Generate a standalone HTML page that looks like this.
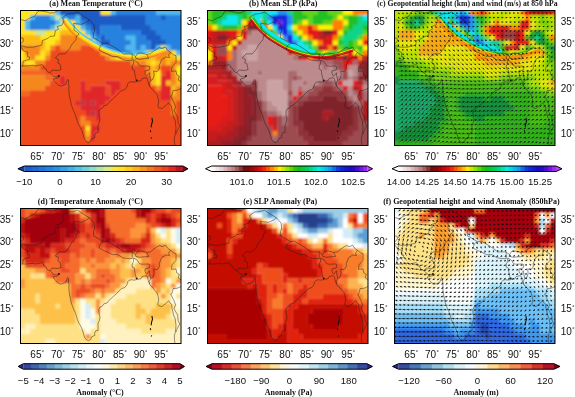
<!DOCTYPE html>
<html lang="en"><head><meta charset="utf-8"><title>Figure</title>
<style>html,body{margin:0;padding:0;background:#fff}svg{display:block}text{fill:#111}</style></head><body>
<svg width="575" height="397" viewBox="0 0 575 397">
<defs>
<filter id="bl" x="-10%" y="-10%" width="120%" height="120%"><feGaussianBlur stdDeviation="1.2"/></filter><filter id="bl3" x="-10%" y="-10%" width="120%" height="120%"><feGaussianBlur stdDeviation="0.55"/></filter><filter id="bl2" x="-10%" y="-10%" width="120%" height="120%"><feGaussianBlur stdDeviation="2.2"/></filter>
</defs>
<rect width="575" height="397" fill="#fff"/>
<svg x="20" y="10" width="161" height="136" viewBox="0 0 161 136" overflow="hidden">
<g filter="url(#bl)">
<path fill="#ffe51e" d="M-5.1 -5.1h40.5v2.7h-40.5zM80.4 -5.1h10.3v2.7h-10.3zM-5.1 -2.6h40.5v2.7h-40.5zM80.4 -2.6h10.3v2.7h-10.3zM-5.1 -0.1h40.5v2.7h-40.5zM80.4 -0.1h10.3v2.7h-10.3zM-5.1 2.4h40.5v2.7h-40.5zM80.4 2.4h10.3v2.7h-10.3zM-5.1 4.9h15.3v2.7h-15.3zM-5.1 7.5h15.3v2.7h-15.3zM-5.1 10.0h10.3v2.7h-10.3zM45.2 10.0h10.3v2.7h-10.3zM-5.1 12.5h10.3v2.7h-10.3zM45.2 12.5h10.3v2.7h-10.3zM-5.1 15.0h10.3v2.7h-10.3zM40.1 15.0h20.3v2.7h-20.3zM-5.1 17.5h10.3v2.7h-10.3zM40.1 17.5h20.3v2.7h-20.3zM-5.1 20.0h20.3v2.7h-20.3zM25.1 20.0h15.3v2.7h-15.3zM55.2 20.0h10.3v2.7h-10.3zM-5.1 22.6h20.3v2.7h-20.3zM25.1 22.6h15.3v2.7h-15.3zM55.2 22.6h10.3v2.7h-10.3zM20.0 25.1h20.3v2.7h-20.3zM65.3 25.1h5.2v2.7h-5.2zM20.0 27.6h20.3v2.7h-20.3zM65.3 27.6h5.2v2.7h-5.2zM25.1 30.1h10.3v2.7h-10.3zM70.3 30.1h5.2v2.7h-5.2zM25.1 32.6h10.3v2.7h-10.3zM70.3 32.6h5.2v2.7h-5.2zM25.1 35.2h5.2v2.7h-5.2zM140.8 35.2h5.2v2.7h-5.2zM25.1 37.7h5.2v2.7h-5.2zM140.8 37.7h5.2v2.7h-5.2zM-5.1 40.2h10.3v2.7h-10.3zM20.0 40.2h5.2v2.7h-5.2zM85.4 40.2h5.2v2.7h-5.2zM125.7 40.2h10.3v2.7h-10.3zM150.8 40.2h5.2v2.7h-5.2zM-5.1 42.7h10.3v2.7h-10.3zM20.0 42.7h5.2v2.7h-5.2zM85.4 42.7h5.2v2.7h-5.2zM125.7 42.7h10.3v2.7h-10.3zM150.8 42.7h5.2v2.7h-5.2zM-5.1 45.2h10.3v2.7h-10.3zM15.0 45.2h10.3v2.7h-10.3zM95.5 45.2h20.3v2.7h-20.3zM155.9 45.2h10.3v2.7h-10.3zM-5.1 47.8h10.3v2.7h-10.3zM15.0 47.8h10.3v2.7h-10.3zM95.5 47.8h20.3v2.7h-20.3zM155.9 47.8h10.3v2.7h-10.3zM4.9 50.3h10.3v2.7h-10.3zM130.7 50.3h5.2v2.7h-5.2zM4.9 52.8h10.3v2.7h-10.3zM130.7 52.8h5.2v2.7h-5.2zM155.9 55.3h10.3v2.7h-10.3zM155.9 57.8h10.3v2.7h-10.3zM135.7 60.3h5.2v2.7h-5.2zM155.9 60.3h10.3v2.7h-10.3zM135.7 62.9h5.2v2.7h-5.2zM155.9 62.9h10.3v2.7h-10.3zM135.7 65.4h5.2v2.7h-5.2zM135.7 67.9h5.2v2.7h-5.2zM135.7 70.4h5.2v2.7h-5.2zM135.7 72.9h5.2v2.7h-5.2zM65.3 115.8h5.2v2.7h-5.2zM65.3 118.3h5.2v2.7h-5.2z"/>
<path fill="#4db8ee" d="M35.1 -5.1h5.2v2.7h-5.2zM90.5 -5.1h5.2v2.7h-5.2zM135.7 -5.1h30.4v2.7h-30.4zM35.1 -2.6h5.2v2.7h-5.2zM90.5 -2.6h5.2v2.7h-5.2zM135.7 -2.6h30.4v2.7h-30.4zM35.1 -0.1h5.2v2.7h-5.2zM90.5 -0.1h5.2v2.7h-5.2zM135.7 -0.1h30.4v2.7h-30.4zM35.1 2.4h5.2v2.7h-5.2zM90.5 2.4h5.2v2.7h-5.2zM135.7 2.4h30.4v2.7h-30.4zM10.0 4.9h5.2v2.7h-5.2zM30.1 4.9h5.2v2.7h-5.2zM40.1 4.9h5.2v2.7h-5.2zM55.2 4.9h5.2v2.7h-5.2zM10.0 7.5h5.2v2.7h-5.2zM30.1 7.5h5.2v2.7h-5.2zM40.1 7.5h5.2v2.7h-5.2zM55.2 7.5h5.2v2.7h-5.2zM4.9 10.0h5.2v2.7h-5.2zM35.1 10.0h5.2v2.7h-5.2zM55.2 10.0h5.2v2.7h-5.2zM4.9 12.5h5.2v2.7h-5.2zM35.1 12.5h5.2v2.7h-5.2zM55.2 12.5h5.2v2.7h-5.2zM4.9 15.0h5.2v2.7h-5.2zM30.1 15.0h5.2v2.7h-5.2zM60.3 15.0h5.2v2.7h-5.2zM4.9 17.5h5.2v2.7h-5.2zM30.1 17.5h5.2v2.7h-5.2zM60.3 17.5h5.2v2.7h-5.2zM65.3 20.0h5.2v2.7h-5.2zM65.3 22.6h5.2v2.7h-5.2zM70.3 25.1h5.2v2.7h-5.2zM105.6 25.1h10.3v2.7h-10.3zM70.3 27.6h5.2v2.7h-5.2zM105.6 27.6h10.3v2.7h-10.3zM75.4 30.1h5.2v2.7h-5.2zM110.6 30.1h5.2v2.7h-5.2zM75.4 32.6h5.2v2.7h-5.2zM110.6 32.6h5.2v2.7h-5.2zM80.4 35.2h5.2v2.7h-5.2zM105.6 35.2h10.3v2.7h-10.3zM120.7 35.2h5.2v2.7h-5.2zM135.7 35.2h5.2v2.7h-5.2zM145.8 35.2h5.2v2.7h-5.2zM80.4 37.7h5.2v2.7h-5.2zM105.6 37.7h10.3v2.7h-10.3zM120.7 37.7h5.2v2.7h-5.2zM135.7 37.7h5.2v2.7h-5.2zM145.8 37.7h5.2v2.7h-5.2zM90.5 40.2h5.2v2.7h-5.2zM110.6 40.2h15.3v2.7h-15.3zM155.9 40.2h10.3v2.7h-10.3zM90.5 42.7h5.2v2.7h-5.2zM110.6 42.7h15.3v2.7h-15.3zM155.9 42.7h10.3v2.7h-10.3z"/>
<path fill="#1c5ac4" d="M40.1 -5.1h40.5v2.7h-40.5zM40.1 -2.6h40.5v2.7h-40.5zM40.1 -0.1h40.5v2.7h-40.5zM40.1 2.4h40.5v2.7h-40.5zM60.3 4.9h65.6v2.7h-65.6zM140.8 4.9h5.2v2.7h-5.2zM60.3 7.5h65.6v2.7h-65.6zM140.8 7.5h5.2v2.7h-5.2zM65.3 10.0h60.6v2.7h-60.6zM65.3 12.5h60.6v2.7h-60.6zM70.3 15.0h10.3v2.7h-10.3zM100.5 15.0h30.4v2.7h-30.4zM70.3 17.5h10.3v2.7h-10.3zM100.5 17.5h30.4v2.7h-30.4zM75.4 20.0h5.2v2.7h-5.2zM120.7 20.0h15.3v2.7h-15.3zM75.4 22.6h5.2v2.7h-5.2zM120.7 22.6h15.3v2.7h-15.3zM80.4 25.1h5.2v2.7h-5.2zM125.7 25.1h15.3v2.7h-15.3zM80.4 27.6h5.2v2.7h-5.2zM125.7 27.6h15.3v2.7h-15.3zM80.4 30.1h10.3v2.7h-10.3zM130.7 30.1h15.3v2.7h-15.3zM80.4 32.6h10.3v2.7h-10.3zM130.7 32.6h15.3v2.7h-15.3zM130.7 35.2h5.2v2.7h-5.2zM130.7 37.7h5.2v2.7h-5.2z"/>
<path fill="#2782de" d="M95.5 -5.1h40.5v2.7h-40.5zM95.5 -2.6h40.5v2.7h-40.5zM95.5 -0.1h40.5v2.7h-40.5zM95.5 2.4h40.5v2.7h-40.5zM15.0 4.9h15.3v2.7h-15.3zM45.2 4.9h10.3v2.7h-10.3zM125.7 4.9h15.3v2.7h-15.3zM145.8 4.9h20.3v2.7h-20.3zM15.0 7.5h15.3v2.7h-15.3zM45.2 7.5h10.3v2.7h-10.3zM125.7 7.5h15.3v2.7h-15.3zM145.8 7.5h20.3v2.7h-20.3zM10.0 10.0h25.4v2.7h-25.4zM60.3 10.0h5.2v2.7h-5.2zM125.7 10.0h40.5v2.7h-40.5zM10.0 12.5h25.4v2.7h-25.4zM60.3 12.5h5.2v2.7h-5.2zM125.7 12.5h40.5v2.7h-40.5zM10.0 15.0h20.3v2.7h-20.3zM65.3 15.0h5.2v2.7h-5.2zM80.4 15.0h20.3v2.7h-20.3zM130.7 15.0h35.4v2.7h-35.4zM10.0 17.5h20.3v2.7h-20.3zM65.3 17.5h5.2v2.7h-5.2zM80.4 17.5h20.3v2.7h-20.3zM130.7 17.5h35.4v2.7h-35.4zM70.3 20.0h5.2v2.7h-5.2zM80.4 20.0h40.5v2.7h-40.5zM135.7 20.0h30.4v2.7h-30.4zM70.3 22.6h5.2v2.7h-5.2zM80.4 22.6h40.5v2.7h-40.5zM135.7 22.6h30.4v2.7h-30.4zM75.4 25.1h5.2v2.7h-5.2zM85.4 25.1h20.3v2.7h-20.3zM115.6 25.1h10.3v2.7h-10.3zM140.8 25.1h25.4v2.7h-25.4zM75.4 27.6h5.2v2.7h-5.2zM85.4 27.6h20.3v2.7h-20.3zM115.6 27.6h10.3v2.7h-10.3zM140.8 27.6h25.4v2.7h-25.4zM90.5 30.1h20.3v2.7h-20.3zM115.6 30.1h15.3v2.7h-15.3zM145.8 30.1h20.3v2.7h-20.3zM90.5 32.6h20.3v2.7h-20.3zM115.6 32.6h15.3v2.7h-15.3zM145.8 32.6h20.3v2.7h-20.3zM85.4 35.2h20.3v2.7h-20.3zM115.6 35.2h5.2v2.7h-5.2zM125.7 35.2h5.2v2.7h-5.2zM150.8 35.2h15.3v2.7h-15.3zM85.4 37.7h20.3v2.7h-20.3zM115.6 37.7h5.2v2.7h-5.2zM125.7 37.7h5.2v2.7h-5.2zM150.8 37.7h15.3v2.7h-15.3zM95.5 40.2h15.3v2.7h-15.3zM95.5 42.7h15.3v2.7h-15.3z"/>
<path fill="#c4e6a4" d="M35.1 4.9h5.2v2.7h-5.2zM35.1 7.5h5.2v2.7h-5.2zM40.1 10.0h5.2v2.7h-5.2zM40.1 12.5h5.2v2.7h-5.2zM35.1 15.0h5.2v2.7h-5.2zM35.1 17.5h5.2v2.7h-5.2zM15.0 20.0h10.3v2.7h-10.3zM15.0 22.6h10.3v2.7h-10.3z"/>
<path fill="#fdb913" d="M40.1 20.0h15.3v2.7h-15.3zM40.1 22.6h15.3v2.7h-15.3zM-5.1 25.1h25.4v2.7h-25.4zM60.3 25.1h5.2v2.7h-5.2zM-5.1 27.6h25.4v2.7h-25.4zM60.3 27.6h5.2v2.7h-5.2zM-5.1 30.1h30.4v2.7h-30.4zM35.1 30.1h5.2v2.7h-5.2zM-5.1 32.6h30.4v2.7h-30.4zM35.1 32.6h5.2v2.7h-5.2zM20.0 35.2h5.2v2.7h-5.2zM20.0 37.7h5.2v2.7h-5.2zM25.1 40.2h5.2v2.7h-5.2zM80.4 40.2h5.2v2.7h-5.2zM135.7 40.2h5.2v2.7h-5.2zM25.1 42.7h5.2v2.7h-5.2zM80.4 42.7h5.2v2.7h-5.2zM135.7 42.7h5.2v2.7h-5.2zM4.9 45.2h5.2v2.7h-5.2zM90.5 45.2h5.2v2.7h-5.2zM115.6 45.2h20.3v2.7h-20.3zM145.8 45.2h10.3v2.7h-10.3zM4.9 47.8h5.2v2.7h-5.2zM90.5 47.8h5.2v2.7h-5.2zM115.6 47.8h20.3v2.7h-20.3zM145.8 47.8h10.3v2.7h-10.3zM-5.1 50.3h10.3v2.7h-10.3zM125.7 50.3h5.2v2.7h-5.2zM135.7 50.3h5.2v2.7h-5.2zM145.8 50.3h5.2v2.7h-5.2zM-5.1 52.8h10.3v2.7h-10.3zM125.7 52.8h5.2v2.7h-5.2zM135.7 52.8h5.2v2.7h-5.2zM145.8 52.8h5.2v2.7h-5.2zM130.7 55.3h5.2v2.7h-5.2zM130.7 57.8h5.2v2.7h-5.2zM130.7 60.3h5.2v2.7h-5.2zM130.7 62.9h5.2v2.7h-5.2zM130.7 65.4h5.2v2.7h-5.2zM155.9 65.4h10.3v2.7h-10.3zM130.7 67.9h5.2v2.7h-5.2zM155.9 67.9h10.3v2.7h-10.3zM130.7 70.4h5.2v2.7h-5.2zM145.8 70.4h5.2v2.7h-5.2zM155.9 70.4h10.3v2.7h-10.3zM130.7 72.9h5.2v2.7h-5.2zM145.8 72.9h5.2v2.7h-5.2zM155.9 72.9h10.3v2.7h-10.3zM150.8 75.5h5.2v2.7h-5.2zM150.8 78.0h5.2v2.7h-5.2zM150.8 80.5h5.2v2.7h-5.2zM150.8 83.0h5.2v2.7h-5.2zM65.3 120.8h5.2v2.7h-5.2zM65.3 123.3h5.2v2.7h-5.2z"/>
<path fill="#f6871f" d="M40.1 25.1h20.3v2.7h-20.3zM40.1 27.6h20.3v2.7h-20.3zM40.1 30.1h30.4v2.7h-30.4zM40.1 32.6h30.4v2.7h-30.4zM-5.1 35.2h25.4v2.7h-25.4zM30.1 35.2h5.2v2.7h-5.2zM40.1 35.2h20.3v2.7h-20.3zM75.4 35.2h5.2v2.7h-5.2zM-5.1 37.7h25.4v2.7h-25.4zM30.1 37.7h5.2v2.7h-5.2zM40.1 37.7h20.3v2.7h-20.3zM75.4 37.7h5.2v2.7h-5.2zM4.9 40.2h15.3v2.7h-15.3zM140.8 40.2h10.3v2.7h-10.3zM4.9 42.7h15.3v2.7h-15.3zM140.8 42.7h10.3v2.7h-10.3zM10.0 45.2h5.2v2.7h-5.2zM25.1 45.2h5.2v2.7h-5.2zM85.4 45.2h5.2v2.7h-5.2zM135.7 45.2h10.3v2.7h-10.3zM10.0 47.8h5.2v2.7h-5.2zM25.1 47.8h5.2v2.7h-5.2zM85.4 47.8h5.2v2.7h-5.2zM135.7 47.8h10.3v2.7h-10.3zM15.0 50.3h10.3v2.7h-10.3zM110.6 50.3h15.3v2.7h-15.3zM140.8 50.3h5.2v2.7h-5.2zM150.8 50.3h15.3v2.7h-15.3zM15.0 52.8h10.3v2.7h-10.3zM110.6 52.8h15.3v2.7h-15.3zM140.8 52.8h5.2v2.7h-5.2zM150.8 52.8h15.3v2.7h-15.3zM-5.1 55.3h25.4v2.7h-25.4zM125.7 55.3h5.2v2.7h-5.2zM135.7 55.3h5.2v2.7h-5.2zM150.8 55.3h5.2v2.7h-5.2zM-5.1 57.8h25.4v2.7h-25.4zM125.7 57.8h5.2v2.7h-5.2zM135.7 57.8h5.2v2.7h-5.2zM150.8 57.8h5.2v2.7h-5.2zM125.7 60.3h5.2v2.7h-5.2zM150.8 60.3h5.2v2.7h-5.2zM125.7 62.9h5.2v2.7h-5.2zM150.8 62.9h5.2v2.7h-5.2zM-5.1 65.4h30.4v2.7h-30.4zM150.8 65.4h5.2v2.7h-5.2zM-5.1 67.9h30.4v2.7h-30.4zM150.8 67.9h5.2v2.7h-5.2zM-5.1 70.4h35.4v2.7h-35.4zM150.8 70.4h5.2v2.7h-5.2zM-5.1 72.9h35.4v2.7h-35.4zM150.8 72.9h5.2v2.7h-5.2zM-5.1 75.5h30.4v2.7h-30.4zM135.7 75.5h5.2v2.7h-5.2zM155.9 75.5h10.3v2.7h-10.3zM-5.1 78.0h30.4v2.7h-30.4zM135.7 78.0h5.2v2.7h-5.2zM155.9 78.0h10.3v2.7h-10.3zM155.9 80.5h10.3v2.7h-10.3zM155.9 83.0h10.3v2.7h-10.3zM150.8 85.5h15.3v2.7h-15.3zM150.8 88.0h15.3v2.7h-15.3zM150.8 90.6h5.2v2.7h-5.2zM150.8 93.1h5.2v2.7h-5.2zM150.8 95.6h5.2v2.7h-5.2zM150.8 98.1h5.2v2.7h-5.2zM150.8 100.6h5.2v2.7h-5.2zM150.8 103.2h5.2v2.7h-5.2zM60.3 105.7h5.2v2.7h-5.2zM60.3 108.2h5.2v2.7h-5.2zM60.3 110.7h10.3v2.7h-10.3zM60.3 113.2h10.3v2.7h-10.3zM65.3 125.8h5.2v2.7h-5.2zM65.3 128.3h5.2v2.7h-5.2z"/>
<path fill="#ef481e" d="M35.1 35.2h5.2v2.7h-5.2zM60.3 35.2h15.3v2.7h-15.3zM35.1 37.7h5.2v2.7h-5.2zM60.3 37.7h15.3v2.7h-15.3zM30.1 40.2h50.5v2.7h-50.5zM30.1 42.7h50.5v2.7h-50.5zM30.1 45.2h55.5v2.7h-55.5zM30.1 47.8h55.5v2.7h-55.5zM25.1 50.3h85.7v2.7h-85.7zM25.1 52.8h85.7v2.7h-85.7zM20.0 55.3h105.9v2.7h-105.9zM140.8 55.3h10.3v2.7h-10.3zM20.0 57.8h105.9v2.7h-105.9zM140.8 57.8h10.3v2.7h-10.3zM25.1 60.3h100.8v2.7h-100.8zM140.8 60.3h5.2v2.7h-5.2zM25.1 62.9h100.8v2.7h-100.8zM140.8 62.9h5.2v2.7h-5.2zM35.1 65.4h5.2v2.7h-5.2zM45.2 65.4h85.7v2.7h-85.7zM35.1 67.9h5.2v2.7h-5.2zM45.2 67.9h85.7v2.7h-85.7zM30.1 70.4h10.3v2.7h-10.3zM45.2 70.4h15.3v2.7h-15.3zM65.3 70.4h20.3v2.7h-20.3zM100.5 70.4h30.4v2.7h-30.4zM30.1 72.9h10.3v2.7h-10.3zM45.2 72.9h15.3v2.7h-15.3zM65.3 72.9h20.3v2.7h-20.3zM100.5 72.9h30.4v2.7h-30.4zM25.1 75.5h35.4v2.7h-35.4zM65.3 75.5h5.2v2.7h-5.2zM85.4 75.5h5.2v2.7h-5.2zM100.5 75.5h35.4v2.7h-35.4zM25.1 78.0h35.4v2.7h-35.4zM65.3 78.0h5.2v2.7h-5.2zM85.4 78.0h5.2v2.7h-5.2zM100.5 78.0h35.4v2.7h-35.4zM10.0 80.5h50.5v2.7h-50.5zM85.4 80.5h5.2v2.7h-5.2zM95.5 80.5h45.5v2.7h-45.5zM10.0 83.0h50.5v2.7h-50.5zM85.4 83.0h5.2v2.7h-5.2zM95.5 83.0h45.5v2.7h-45.5zM-5.1 85.5h65.6v2.7h-65.6zM90.5 85.5h50.5v2.7h-50.5zM-5.1 88.0h65.6v2.7h-65.6zM90.5 88.0h50.5v2.7h-50.5zM-5.1 90.6h60.6v2.7h-60.6zM85.4 90.6h65.6v2.7h-65.6zM155.9 90.6h10.3v2.7h-10.3zM-5.1 93.1h60.6v2.7h-60.6zM85.4 93.1h65.6v2.7h-65.6zM155.9 93.1h10.3v2.7h-10.3zM-5.1 95.6h65.6v2.7h-65.6zM80.4 95.6h70.6v2.7h-70.6zM155.9 95.6h10.3v2.7h-10.3zM-5.1 98.1h65.6v2.7h-65.6zM80.4 98.1h70.6v2.7h-70.6zM155.9 98.1h10.3v2.7h-10.3zM-5.1 100.6h70.6v2.7h-70.6zM80.4 100.6h70.6v2.7h-70.6zM155.9 100.6h10.3v2.7h-10.3zM-5.1 103.2h70.6v2.7h-70.6zM80.4 103.2h70.6v2.7h-70.6zM155.9 103.2h10.3v2.7h-10.3zM-5.1 105.7h65.6v2.7h-65.6zM65.3 105.7h10.3v2.7h-10.3zM80.4 105.7h85.7v2.7h-85.7zM-5.1 108.2h65.6v2.7h-65.6zM65.3 108.2h10.3v2.7h-10.3zM80.4 108.2h85.7v2.7h-85.7zM-5.1 110.7h65.6v2.7h-65.6zM70.3 110.7h95.8v2.7h-95.8zM-5.1 113.2h65.6v2.7h-65.6zM70.3 113.2h95.8v2.7h-95.8zM-5.1 115.8h70.6v2.7h-70.6zM80.4 115.8h85.7v2.7h-85.7zM-5.1 118.3h70.6v2.7h-70.6zM80.4 118.3h85.7v2.7h-85.7zM-5.1 120.8h70.6v2.7h-70.6zM75.4 120.8h90.8v2.7h-90.8zM-5.1 123.3h70.6v2.7h-70.6zM75.4 123.3h90.8v2.7h-90.8zM-5.1 125.8h70.6v2.7h-70.6zM75.4 125.8h90.8v2.7h-90.8zM-5.1 128.3h70.6v2.7h-70.6zM75.4 128.3h90.8v2.7h-90.8zM-5.1 130.9h171.3v2.7h-171.3zM-5.1 133.4h171.3v2.7h-171.3zM-5.1 135.9h171.3v2.7h-171.3zM-5.1 138.4h171.3v2.7h-171.3z"/>
<path fill="#f2651f" d="M-5.1 60.3h30.4v2.7h-30.4zM-5.1 62.9h30.4v2.7h-30.4zM25.1 65.4h10.3v2.7h-10.3zM25.1 67.9h10.3v2.7h-10.3zM-5.1 80.5h15.3v2.7h-15.3zM-5.1 83.0h15.3v2.7h-15.3z"/>
<path fill="#e1262a" d="M145.8 60.3h5.2v2.7h-5.2zM145.8 62.9h5.2v2.7h-5.2zM40.1 65.4h5.2v2.7h-5.2zM140.8 65.4h10.3v2.7h-10.3zM40.1 67.9h5.2v2.7h-5.2zM140.8 67.9h10.3v2.7h-10.3zM40.1 70.4h5.2v2.7h-5.2zM60.3 70.4h5.2v2.7h-5.2zM85.4 70.4h15.3v2.7h-15.3zM140.8 70.4h5.2v2.7h-5.2zM40.1 72.9h5.2v2.7h-5.2zM60.3 72.9h5.2v2.7h-5.2zM85.4 72.9h15.3v2.7h-15.3zM140.8 72.9h5.2v2.7h-5.2zM60.3 75.5h5.2v2.7h-5.2zM70.3 75.5h15.3v2.7h-15.3zM90.5 75.5h10.3v2.7h-10.3zM140.8 75.5h10.3v2.7h-10.3zM60.3 78.0h5.2v2.7h-5.2zM70.3 78.0h15.3v2.7h-15.3zM90.5 78.0h10.3v2.7h-10.3zM140.8 78.0h10.3v2.7h-10.3zM60.3 80.5h25.4v2.7h-25.4zM90.5 80.5h5.2v2.7h-5.2zM140.8 80.5h10.3v2.7h-10.3zM60.3 83.0h25.4v2.7h-25.4zM90.5 83.0h5.2v2.7h-5.2zM140.8 83.0h10.3v2.7h-10.3zM60.3 85.5h30.4v2.7h-30.4zM140.8 85.5h10.3v2.7h-10.3zM60.3 88.0h30.4v2.7h-30.4zM140.8 88.0h10.3v2.7h-10.3zM55.2 90.6h5.2v2.7h-5.2zM65.3 90.6h5.2v2.7h-5.2zM75.4 90.6h10.3v2.7h-10.3zM55.2 93.1h5.2v2.7h-5.2zM65.3 93.1h5.2v2.7h-5.2zM75.4 93.1h10.3v2.7h-10.3zM60.3 95.6h20.3v2.7h-20.3zM60.3 98.1h20.3v2.7h-20.3zM65.3 100.6h5.2v2.7h-5.2zM75.4 100.6h5.2v2.7h-5.2zM65.3 103.2h5.2v2.7h-5.2zM75.4 103.2h5.2v2.7h-5.2zM75.4 105.7h5.2v2.7h-5.2zM75.4 108.2h5.2v2.7h-5.2zM70.3 115.8h10.3v2.7h-10.3zM70.3 118.3h10.3v2.7h-10.3zM70.3 120.8h5.2v2.7h-5.2zM70.3 123.3h5.2v2.7h-5.2zM70.3 125.8h5.2v2.7h-5.2zM70.3 128.3h5.2v2.7h-5.2z"/>
<path fill="#bf303a" d="M60.3 90.6h5.2v2.7h-5.2zM70.3 90.6h5.2v2.7h-5.2zM60.3 93.1h5.2v2.7h-5.2zM70.3 93.1h5.2v2.7h-5.2zM70.3 100.6h5.2v2.7h-5.2zM70.3 103.2h5.2v2.7h-5.2z"/>
</g><g filter="url(#bl3)" fill="none" stroke-linecap="butt" stroke-linejoin="round"><path d="M46.7 7.4Q48.7 10.0 50.6 12.7Q52.5 15.4 57.1 20.0Q61.7 24.5 66.3 27.3Q70.9 30.1 75.5 32.9Q80.2 35.7 84.8 37.5Q89.4 39.3 94.0 40.7Q98.6 42.1 103.2 42.8Q107.8 43.5 112.3 43.8Q116.8 44.1 121.3 43.4Q125.8 42.7 129.5 41.7Q133.3 40.7 137.0 39.5Q140.8 38.4 142.9 37.7L145.0 37.1" stroke="#55c2f0" stroke-width="1.6"/><path d="M45.8 8.1Q47.9 10.6 49.8 13.4Q51.7 16.2 56.4 20.8Q61.0 25.4 65.7 28.2Q70.3 31.0 75.0 33.8Q79.7 36.6 84.4 38.5Q89.1 40.3 93.7 41.7Q98.3 43.2 103.0 43.9Q107.7 44.6 112.3 44.9Q116.9 45.2 121.5 44.5Q126.0 43.7 129.8 42.8Q133.6 41.8 137.3 40.6Q141.1 39.4 143.2 38.8L145.3 38.1" stroke="#c4e6a4" stroke-width="1.0"/><path d="M44.8 8.9Q46.8 11.4 48.8 14.2Q50.7 17.0 55.5 21.7Q60.2 26.4 64.9 29.3Q69.6 32.1 74.4 35.0Q79.1 37.8 83.9 39.7Q88.6 41.6 93.3 43.0Q98.0 44.4 102.8 45.2Q107.5 45.9 112.2 46.2Q117.0 46.5 121.6 45.8Q126.3 45.0 130.1 44.0Q133.9 43.0 137.7 41.8Q141.5 40.6 143.6 40.0L145.7 39.3" stroke="#ffe51e" stroke-width="2.0"/><path d="M43.5 9.9Q45.5 12.4 47.5 15.2Q49.6 18.1 54.4 22.9Q59.2 27.7 64.0 30.6Q68.8 33.5 73.6 36.4Q78.4 39.2 83.3 41.2Q88.1 43.1 92.9 44.5Q97.7 46.0 102.5 46.7Q107.3 47.5 112.2 47.8Q117.0 48.1 121.8 47.3Q126.6 46.6 130.5 45.6Q134.4 44.6 138.2 43.4Q142.0 42.2 144.1 41.5L146.2 40.9" stroke="#fdb913" stroke-width="1.4"/><path d="M42.4 10.7Q44.4 13.2 46.4 16.1Q48.5 19.0 53.4 23.9Q58.3 28.8 63.2 31.7Q68.1 34.7 72.9 37.6Q77.8 40.5 82.7 42.4Q87.6 44.4 92.5 45.9Q97.4 47.3 102.3 48.1Q107.2 48.9 112.1 49.2Q117.1 49.5 122.0 48.7Q126.9 48.0 130.8 46.9Q134.8 45.9 138.6 44.7Q142.4 43.5 144.5 42.9L146.6 42.2" stroke="#f6871f" stroke-width="1.6"/></g><path d="M0.2 56.2 L2.7 56.0 L5.6 56.0 L8.5 55.8 L10.5 55.6 L13.0 55.3 L15.1 56.0 L17.6 55.6 L19.6 55.1 L22.1 54.7 L23.8 56.0 L23.6 57.6 L25.8 58.7 L26.7 60.9 L28.7 62.3 L30.0 62.7 L31.6 64.5 L34.1 66.5 L36.2 67.0 L38.6 66.1 L39.5 65.4 L38.2 67.6 L36.2 68.5 L33.3 69.0 L34.1 70.8 L35.8 72.6 L37.8 74.8 L40.7 76.2 L42.8 75.5 L45.7 74.4 L46.5 72.1 L47.7 69.4 L48.6 70.8 L48.4 73.5 L49.0 76.6 L48.8 80.2 L49.2 83.8 L49.6 86.9 L50.6 90.9 L51.2 94.5 L52.3 97.7 L53.7 101.2 L55.2 104.4 L56.4 108.0 L57.4 111.6 L58.9 115.1 L60.5 117.8 L61.8 120.5 L63.0 124.1 L63.9 127.2 L64.7 129.5 L66.3 131.7 L68.6 132.7 L70.9 131.3 L71.3 129.0 L74.2 127.7 L75.0 127.2 L74.4 125.9 L75.8 122.8 L78.1 122.5 L78.1 118.7 L77.9 115.6 L79.4 112.4 L80.0 109.3 L79.1 105.7 L78.9 101.7 L80.0 99.0 L82.5 98.1 L83.7 95.9 L87.0 95.0 L88.2 93.2 L91.1 90.5 L93.6 88.3 L96.5 85.6 L99.0 82.9 L101.5 80.6 L104.8 79.5 L106.8 77.1 L107.7 73.9 L108.9 72.4 L111.4 71.7 L113.0 72.1 L115.5 71.9 L118.0 71.2 L120.9 70.8 L122.1 68.5 L124.2 68.1 L126.3 67.6 L127.5 69.4 L128.3 72.6 L129.2 75.3 L130.8 78.0 L132.9 79.7 L134.9 82.4 L137.0 84.7 L138.2 88.3 L138.7 91.8 L137.8 96.3 L138.7 97.7 L142.0 98.6 L143.6 97.2 L146.1 95.4 L148.6 92.7 L149.8 94.5 L151.5 96.3 L151.9 99.9 L152.7 103.0 L153.5 107.1 L155.2 110.7 L155.6 114.2 L156.0 117.8 L155.6 121.4 L155.2 124.5 L154.4 127.7 L154.4 131.3 L154.8 134.4 L155.6 136.6 M2.7 56.0 L3.1 51.5 L6.0 50.2 L9.3 49.7 L9.7 47.0 L7.6 46.8 L7.6 42.3 L3.5 40.8 L-0.2 35.2 M-0.2 35.2 L6.4 37.2 L13.0 37.2 L21.7 35.2 L22.5 30.5 L28.3 28.2 L30.0 26.4 L34.5 26.0 L35.3 20.6 L38.6 19.3 L37.0 16.6 L41.9 15.2 L44.0 11.2 L42.4 7.6 L47.7 4.0 L53.1 3.6 L57.7 2.2 M-0.2 35.2 L3.5 30.9 L3.1 28.2 L-0.4 27.8 M0.2 9.4 L5.6 10.8 L8.9 8.5 L14.7 6.3 L17.2 2.2 L19.6 0.9 L22.9 1.3 L28.3 2.2 L29.6 3.1 L34.5 2.7 L38.2 0.4 L39.1 -1.3 M30.0 62.7 L32.0 60.0 L37.4 60.5 L41.1 59.6 L39.9 53.8 L37.8 52.9 L38.6 49.7 L35.3 47.9 L39.1 43.9 L45.3 43.9 L49.4 39.0 L51.5 34.9 L56.0 29.6 L56.4 26.0 L59.3 24.2 L56.8 22.0 L53.9 20.2 L54.3 16.6 L53.5 13.4 L61.4 14.3 L66.3 12.1 L69.6 9.9 M57.7 2.2 L62.2 5.4 L69.6 9.9 L74.2 15.2 L74.6 21.1 L73.4 23.3 L73.4 27.8 L78.3 30.5 L83.3 33.6 L87.4 33.2 L94.9 37.6 L99.8 40.8 L103.5 43.9 L112.2 43.9 L115.5 46.6 L118.0 43.0 L121.3 43.0 L126.7 44.4 L130.4 43.9 L134.1 40.8 L139.1 37.6 L142.4 38.5 L145.7 37.2 L147.3 39.9 L150.4 42.3 M83.3 33.6 L80.4 35.8 L79.0 39.9 L82.9 42.1 L87.0 43.9 L92.4 46.6 L97.7 46.6 L102.7 49.7 L107.7 50.6 L112.2 50.6 L112.2 43.9 M115.5 46.6 L115.9 48.4 L119.2 49.3 L124.2 48.8 L128.7 48.6 L126.7 44.4 M150.4 42.3 L148.6 45.2 L149.4 47.5 L145.7 47.0 L141.6 49.7 L139.1 56.0 L139.5 58.2 L137.0 61.8 L133.7 60.9 L134.1 65.4 L132.9 69.4 L130.8 70.4 M116.3 71.2 L115.5 66.8 L114.9 65.0 L114.3 60.0 L112.2 59.1 L112.2 56.0 L113.5 53.8 L113.7 50.0 L117.6 52.4 L119.4 55.6 L121.7 56.2 L128.3 56.0 L130.0 56.9 L129.2 60.0 L125.0 60.9 L125.0 63.2 L125.8 65.4 L126.7 66.1 L129.6 62.7 L129.6 65.4 L130.8 70.3 L129.2 73.5 L129.6 76.2 M150.4 42.3 L153.5 44.8 L156.0 45.7 L156.0 52.4 L151.9 56.9 L151.5 61.4 L156.0 60.9 L156.8 65.0 L159.3 66.3 L158.1 69.9 L162.6 72.6 M162.6 77.7 L157.3 80.2 L153.1 80.6 L151.9 85.6 L150.6 86.0 L154.0 92.7 L155.6 96.8 L154.0 100.8 L157.7 107.1 L158.1 112.4 L159.7 116.0 L156.4 122.3 L156.2 124.1" fill="none" stroke="#1a1a1a" stroke-width="0.55" stroke-opacity="0.85" stroke-linejoin="round"/><path d="M132.0 108.4 L132.5 111.1 L131.6 114.2 L131.2 116.9 M130.4 120.5 L130.6 121.6 M131.6 127.7 L131.4 128.1 M135.8 136.6 L135.4 137.5" fill="none" stroke="#111" stroke-width="1.1" stroke-linecap="round"/><circle cx="38.9" cy="65.9" r="0.9" fill="#111"/><circle cx="116.8" cy="70.3" r="0.9" fill="#111"/>
</svg>
<rect x="20.5" y="10.5" width="160.5" height="135.0" fill="none" stroke="#000" stroke-width="1"/>
<text x="96.00" y="5.80" font-size="8" text-anchor="middle" font-family="&quot;Liberation Serif&quot;, serif" font-weight="bold">(a) Mean Temperature (°C)</text>
<text x="13.40" y="24.80" font-size="10" text-anchor="end" font-family="&quot;Liberation Sans&quot;, sans-serif">35<tspan font-size="5.6" font-weight="bold" dx="0.3" dy="-3.6">°</tspan></text>
<text x="186.80" y="24.80" font-size="10" text-anchor="start" font-family="&quot;Liberation Sans&quot;, sans-serif">35<tspan font-size="5.6" font-weight="bold" dx="0.3" dy="-3.6">°</tspan></text>
<text x="13.40" y="47.20" font-size="10" text-anchor="end" font-family="&quot;Liberation Sans&quot;, sans-serif">30<tspan font-size="5.6" font-weight="bold" dx="0.3" dy="-3.6">°</tspan></text>
<text x="186.80" y="47.20" font-size="10" text-anchor="start" font-family="&quot;Liberation Sans&quot;, sans-serif">30<tspan font-size="5.6" font-weight="bold" dx="0.3" dy="-3.6">°</tspan></text>
<text x="13.40" y="69.60" font-size="10" text-anchor="end" font-family="&quot;Liberation Sans&quot;, sans-serif">25<tspan font-size="5.6" font-weight="bold" dx="0.3" dy="-3.6">°</tspan></text>
<text x="186.80" y="69.60" font-size="10" text-anchor="start" font-family="&quot;Liberation Sans&quot;, sans-serif">25<tspan font-size="5.6" font-weight="bold" dx="0.3" dy="-3.6">°</tspan></text>
<text x="13.40" y="92.00" font-size="10" text-anchor="end" font-family="&quot;Liberation Sans&quot;, sans-serif">20<tspan font-size="5.6" font-weight="bold" dx="0.3" dy="-3.6">°</tspan></text>
<text x="186.80" y="92.00" font-size="10" text-anchor="start" font-family="&quot;Liberation Sans&quot;, sans-serif">20<tspan font-size="5.6" font-weight="bold" dx="0.3" dy="-3.6">°</tspan></text>
<text x="13.40" y="114.40" font-size="10" text-anchor="end" font-family="&quot;Liberation Sans&quot;, sans-serif">15<tspan font-size="5.6" font-weight="bold" dx="0.3" dy="-3.6">°</tspan></text>
<text x="186.80" y="114.40" font-size="10" text-anchor="start" font-family="&quot;Liberation Sans&quot;, sans-serif">15<tspan font-size="5.6" font-weight="bold" dx="0.3" dy="-3.6">°</tspan></text>
<text x="13.40" y="136.80" font-size="10" text-anchor="end" font-family="&quot;Liberation Sans&quot;, sans-serif">10<tspan font-size="5.6" font-weight="bold" dx="0.3" dy="-3.6">°</tspan></text>
<text x="186.80" y="136.80" font-size="10" text-anchor="start" font-family="&quot;Liberation Sans&quot;, sans-serif">10<tspan font-size="5.6" font-weight="bold" dx="0.3" dy="-3.6">°</tspan></text>
<text x="37.19" y="159.70" font-size="10" text-anchor="middle" font-family="&quot;Liberation Sans&quot;, sans-serif">65<tspan font-size="5.6" font-weight="bold" dx="0.3" dy="-3.6">°</tspan></text>
<text x="57.86" y="159.70" font-size="10" text-anchor="middle" font-family="&quot;Liberation Sans&quot;, sans-serif">70<tspan font-size="5.6" font-weight="bold" dx="0.3" dy="-3.6">°</tspan></text>
<text x="78.52" y="159.70" font-size="10" text-anchor="middle" font-family="&quot;Liberation Sans&quot;, sans-serif">75<tspan font-size="5.6" font-weight="bold" dx="0.3" dy="-3.6">°</tspan></text>
<text x="99.19" y="159.70" font-size="10" text-anchor="middle" font-family="&quot;Liberation Sans&quot;, sans-serif">80<tspan font-size="5.6" font-weight="bold" dx="0.3" dy="-3.6">°</tspan></text>
<text x="119.85" y="159.70" font-size="10" text-anchor="middle" font-family="&quot;Liberation Sans&quot;, sans-serif">85<tspan font-size="5.6" font-weight="bold" dx="0.3" dy="-3.6">°</tspan></text>
<text x="140.52" y="159.70" font-size="10" text-anchor="middle" font-family="&quot;Liberation Sans&quot;, sans-serif">90<tspan font-size="5.6" font-weight="bold" dx="0.3" dy="-3.6">°</tspan></text>
<text x="161.18" y="159.70" font-size="10" text-anchor="middle" font-family="&quot;Liberation Sans&quot;, sans-serif">95<tspan font-size="5.6" font-weight="bold" dx="0.3" dy="-3.6">°</tspan></text>
<svg x="207" y="10" width="161" height="136" viewBox="0 0 161 136" overflow="hidden">
<g filter="url(#bl)">
<path fill="#60d418" d="M-5.1 -5.1h10.3v2.7h-10.3zM95.5 -5.1h15.3v2.7h-15.3zM120.7 -5.1h15.3v2.7h-15.3zM-5.1 -2.6h10.3v2.7h-10.3zM95.5 -2.6h15.3v2.7h-15.3zM120.7 -2.6h15.3v2.7h-15.3zM-5.1 -0.1h10.3v2.7h-10.3zM95.5 -0.1h15.3v2.7h-15.3zM120.7 -0.1h15.3v2.7h-15.3zM-5.1 2.4h10.3v2.7h-10.3zM95.5 2.4h15.3v2.7h-15.3zM120.7 2.4h15.3v2.7h-15.3zM-5.1 4.9h10.3v2.7h-10.3zM40.1 4.9h5.2v2.7h-5.2zM100.5 4.9h5.2v2.7h-5.2zM125.7 4.9h5.2v2.7h-5.2zM135.7 4.9h5.2v2.7h-5.2zM-5.1 7.5h10.3v2.7h-10.3zM40.1 7.5h5.2v2.7h-5.2zM100.5 7.5h5.2v2.7h-5.2zM125.7 7.5h5.2v2.7h-5.2zM135.7 7.5h5.2v2.7h-5.2zM-5.1 10.0h10.3v2.7h-10.3zM90.5 10.0h5.2v2.7h-5.2zM100.5 10.0h5.2v2.7h-5.2zM115.6 10.0h10.3v2.7h-10.3zM-5.1 12.5h10.3v2.7h-10.3zM90.5 12.5h5.2v2.7h-5.2zM100.5 12.5h5.2v2.7h-5.2zM115.6 12.5h10.3v2.7h-10.3zM10.0 15.0h5.2v2.7h-5.2zM30.1 15.0h5.2v2.7h-5.2zM135.7 15.0h5.2v2.7h-5.2zM10.0 17.5h5.2v2.7h-5.2zM30.1 17.5h5.2v2.7h-5.2zM135.7 17.5h5.2v2.7h-5.2zM65.3 20.0h5.2v2.7h-5.2zM85.4 20.0h5.2v2.7h-5.2zM155.9 20.0h10.3v2.7h-10.3zM65.3 22.6h5.2v2.7h-5.2zM85.4 22.6h5.2v2.7h-5.2zM155.9 22.6h10.3v2.7h-10.3zM130.7 25.1h5.2v2.7h-5.2zM150.8 25.1h5.2v2.7h-5.2zM130.7 27.6h5.2v2.7h-5.2zM150.8 27.6h5.2v2.7h-5.2zM145.8 30.1h5.2v2.7h-5.2zM145.8 32.6h5.2v2.7h-5.2zM105.6 35.2h5.2v2.7h-5.2zM130.7 35.2h5.2v2.7h-5.2zM145.8 35.2h5.2v2.7h-5.2zM105.6 37.7h5.2v2.7h-5.2zM130.7 37.7h5.2v2.7h-5.2zM145.8 37.7h5.2v2.7h-5.2zM90.5 40.2h5.2v2.7h-5.2zM110.6 40.2h5.2v2.7h-5.2zM120.7 40.2h10.3v2.7h-10.3zM150.8 40.2h5.2v2.7h-5.2zM90.5 42.7h5.2v2.7h-5.2zM110.6 42.7h5.2v2.7h-5.2zM120.7 42.7h10.3v2.7h-10.3zM150.8 42.7h5.2v2.7h-5.2z"/>
<path fill="#20c020" d="M4.9 -5.1h35.4v2.7h-35.4zM85.4 -5.1h10.3v2.7h-10.3zM110.6 -5.1h10.3v2.7h-10.3zM4.9 -2.6h35.4v2.7h-35.4zM85.4 -2.6h10.3v2.7h-10.3zM110.6 -2.6h10.3v2.7h-10.3zM4.9 -0.1h35.4v2.7h-35.4zM85.4 -0.1h10.3v2.7h-10.3zM110.6 -0.1h10.3v2.7h-10.3zM4.9 2.4h35.4v2.7h-35.4zM85.4 2.4h10.3v2.7h-10.3zM110.6 2.4h10.3v2.7h-10.3zM4.9 4.9h10.3v2.7h-10.3zM35.1 4.9h5.2v2.7h-5.2zM85.4 4.9h15.3v2.7h-15.3zM105.6 4.9h20.3v2.7h-20.3zM140.8 4.9h10.3v2.7h-10.3zM4.9 7.5h10.3v2.7h-10.3zM35.1 7.5h5.2v2.7h-5.2zM85.4 7.5h15.3v2.7h-15.3zM105.6 7.5h20.3v2.7h-20.3zM140.8 7.5h10.3v2.7h-10.3zM4.9 10.0h5.2v2.7h-5.2zM55.2 10.0h5.2v2.7h-5.2zM85.4 10.0h5.2v2.7h-5.2zM105.6 10.0h10.3v2.7h-10.3zM140.8 10.0h10.3v2.7h-10.3zM4.9 12.5h5.2v2.7h-5.2zM55.2 12.5h5.2v2.7h-5.2zM85.4 12.5h5.2v2.7h-5.2zM105.6 12.5h10.3v2.7h-10.3zM140.8 12.5h10.3v2.7h-10.3zM15.0 15.0h15.3v2.7h-15.3zM140.8 15.0h5.2v2.7h-5.2zM155.9 15.0h10.3v2.7h-10.3zM15.0 17.5h15.3v2.7h-15.3zM140.8 17.5h5.2v2.7h-5.2zM155.9 17.5h10.3v2.7h-10.3zM135.7 20.0h5.2v2.7h-5.2zM135.7 22.6h5.2v2.7h-5.2zM90.5 25.1h5.2v2.7h-5.2zM90.5 27.6h5.2v2.7h-5.2zM100.5 30.1h5.2v2.7h-5.2zM130.7 30.1h5.2v2.7h-5.2zM140.8 30.1h5.2v2.7h-5.2zM100.5 32.6h5.2v2.7h-5.2zM130.7 32.6h5.2v2.7h-5.2zM140.8 32.6h5.2v2.7h-5.2zM135.7 35.2h10.3v2.7h-10.3zM150.8 35.2h5.2v2.7h-5.2zM135.7 37.7h10.3v2.7h-10.3zM150.8 37.7h5.2v2.7h-5.2zM95.5 40.2h15.3v2.7h-15.3zM95.5 42.7h15.3v2.7h-15.3z"/>
<path fill="#10d488" d="M40.1 -5.1h5.2v2.7h-5.2zM55.2 -5.1h5.2v2.7h-5.2zM80.4 -5.1h5.2v2.7h-5.2zM40.1 -2.6h5.2v2.7h-5.2zM55.2 -2.6h5.2v2.7h-5.2zM80.4 -2.6h5.2v2.7h-5.2zM40.1 -0.1h5.2v2.7h-5.2zM55.2 -0.1h5.2v2.7h-5.2zM80.4 -0.1h5.2v2.7h-5.2zM40.1 2.4h5.2v2.7h-5.2zM55.2 2.4h5.2v2.7h-5.2zM80.4 2.4h5.2v2.7h-5.2zM15.0 4.9h5.2v2.7h-5.2zM30.1 4.9h5.2v2.7h-5.2zM45.2 4.9h5.2v2.7h-5.2zM55.2 4.9h5.2v2.7h-5.2zM150.8 4.9h5.2v2.7h-5.2zM15.0 7.5h5.2v2.7h-5.2zM30.1 7.5h5.2v2.7h-5.2zM45.2 7.5h5.2v2.7h-5.2zM55.2 7.5h5.2v2.7h-5.2zM150.8 7.5h5.2v2.7h-5.2zM10.0 10.0h5.2v2.7h-5.2zM30.1 10.0h5.2v2.7h-5.2zM150.8 10.0h15.3v2.7h-15.3zM10.0 12.5h5.2v2.7h-5.2zM30.1 12.5h5.2v2.7h-5.2zM150.8 12.5h15.3v2.7h-15.3zM145.8 15.0h10.3v2.7h-10.3zM145.8 17.5h10.3v2.7h-10.3zM140.8 20.0h15.3v2.7h-15.3zM140.8 22.6h15.3v2.7h-15.3zM135.7 25.1h15.3v2.7h-15.3zM135.7 27.6h15.3v2.7h-15.3zM95.5 30.1h5.2v2.7h-5.2zM135.7 30.1h5.2v2.7h-5.2zM95.5 32.6h5.2v2.7h-5.2zM135.7 32.6h5.2v2.7h-5.2zM100.5 35.2h5.2v2.7h-5.2zM100.5 37.7h5.2v2.7h-5.2z"/>
<path fill="#10e8f0" d="M45.2 -5.1h10.3v2.7h-10.3zM60.3 -5.1h10.3v2.7h-10.3zM45.2 -2.6h10.3v2.7h-10.3zM60.3 -2.6h10.3v2.7h-10.3zM45.2 -0.1h10.3v2.7h-10.3zM60.3 -0.1h10.3v2.7h-10.3zM45.2 2.4h10.3v2.7h-10.3zM60.3 2.4h10.3v2.7h-10.3zM20.0 4.9h10.3v2.7h-10.3zM50.2 4.9h5.2v2.7h-5.2zM155.9 4.9h10.3v2.7h-10.3zM20.0 7.5h10.3v2.7h-10.3zM50.2 7.5h5.2v2.7h-5.2zM155.9 7.5h10.3v2.7h-10.3zM15.0 10.0h15.3v2.7h-15.3zM60.3 10.0h5.2v2.7h-5.2zM15.0 12.5h15.3v2.7h-15.3zM60.3 12.5h5.2v2.7h-5.2zM65.3 15.0h5.2v2.7h-5.2zM80.4 15.0h5.2v2.7h-5.2zM65.3 17.5h5.2v2.7h-5.2zM80.4 17.5h5.2v2.7h-5.2zM85.4 25.1h5.2v2.7h-5.2zM85.4 27.6h5.2v2.7h-5.2zM90.5 30.1h5.2v2.7h-5.2zM90.5 32.6h5.2v2.7h-5.2zM85.4 35.2h15.3v2.7h-15.3zM85.4 37.7h15.3v2.7h-15.3z"/>
<path fill="#2090f0" d="M70.3 -5.1h10.3v2.7h-10.3zM70.3 -2.6h10.3v2.7h-10.3zM70.3 -0.1h10.3v2.7h-10.3zM70.3 2.4h10.3v2.7h-10.3zM60.3 4.9h5.2v2.7h-5.2zM80.4 4.9h5.2v2.7h-5.2zM60.3 7.5h5.2v2.7h-5.2zM80.4 7.5h5.2v2.7h-5.2zM80.4 10.0h5.2v2.7h-5.2zM80.4 12.5h5.2v2.7h-5.2zM70.3 20.0h5.2v2.7h-5.2zM80.4 20.0h5.2v2.7h-5.2zM70.3 22.6h5.2v2.7h-5.2zM80.4 22.6h5.2v2.7h-5.2zM75.4 25.1h5.2v2.7h-5.2zM75.4 27.6h5.2v2.7h-5.2zM85.4 30.1h5.2v2.7h-5.2zM85.4 32.6h5.2v2.7h-5.2z"/>
<path fill="#fff000" d="M135.7 -5.1h10.3v2.7h-10.3zM135.7 -2.6h10.3v2.7h-10.3zM135.7 -0.1h10.3v2.7h-10.3zM135.7 2.4h10.3v2.7h-10.3zM130.7 4.9h5.2v2.7h-5.2zM130.7 7.5h5.2v2.7h-5.2zM35.1 10.0h5.2v2.7h-5.2zM95.5 10.0h5.2v2.7h-5.2zM135.7 10.0h5.2v2.7h-5.2zM35.1 12.5h5.2v2.7h-5.2zM95.5 12.5h5.2v2.7h-5.2zM135.7 12.5h5.2v2.7h-5.2zM4.9 15.0h5.2v2.7h-5.2zM60.3 15.0h5.2v2.7h-5.2zM85.4 15.0h5.2v2.7h-5.2zM110.6 15.0h15.3v2.7h-15.3zM4.9 17.5h5.2v2.7h-5.2zM60.3 17.5h5.2v2.7h-5.2zM85.4 17.5h5.2v2.7h-5.2zM110.6 17.5h15.3v2.7h-15.3zM90.5 20.0h5.2v2.7h-5.2zM130.7 20.0h5.2v2.7h-5.2zM90.5 22.6h5.2v2.7h-5.2zM130.7 22.6h5.2v2.7h-5.2zM30.1 25.1h5.2v2.7h-5.2zM70.3 25.1h5.2v2.7h-5.2zM95.5 25.1h5.2v2.7h-5.2zM30.1 27.6h5.2v2.7h-5.2zM70.3 27.6h5.2v2.7h-5.2zM95.5 27.6h5.2v2.7h-5.2zM25.1 30.1h5.2v2.7h-5.2zM105.6 30.1h5.2v2.7h-5.2zM125.7 30.1h5.2v2.7h-5.2zM150.8 30.1h5.2v2.7h-5.2zM25.1 32.6h5.2v2.7h-5.2zM105.6 32.6h5.2v2.7h-5.2zM125.7 32.6h5.2v2.7h-5.2zM150.8 32.6h5.2v2.7h-5.2zM20.0 35.2h5.2v2.7h-5.2zM80.4 35.2h5.2v2.7h-5.2zM155.9 35.2h10.3v2.7h-10.3zM20.0 37.7h5.2v2.7h-5.2zM80.4 37.7h5.2v2.7h-5.2zM155.9 37.7h10.3v2.7h-10.3zM-5.1 40.2h10.3v2.7h-10.3zM115.6 40.2h5.2v2.7h-5.2zM130.7 40.2h5.2v2.7h-5.2zM145.8 40.2h5.2v2.7h-5.2zM-5.1 42.7h10.3v2.7h-10.3zM115.6 42.7h5.2v2.7h-5.2zM130.7 42.7h5.2v2.7h-5.2zM145.8 42.7h5.2v2.7h-5.2zM-5.1 45.2h10.3v2.7h-10.3zM-5.1 47.8h10.3v2.7h-10.3z"/>
<path fill="#ff8000" d="M145.8 -5.1h20.3v2.7h-20.3zM145.8 -2.6h20.3v2.7h-20.3zM145.8 -0.1h20.3v2.7h-20.3zM145.8 2.4h20.3v2.7h-20.3zM50.2 10.0h5.2v2.7h-5.2zM125.7 10.0h10.3v2.7h-10.3zM50.2 12.5h5.2v2.7h-5.2zM125.7 12.5h10.3v2.7h-10.3zM-5.1 15.0h10.3v2.7h-10.3zM35.1 15.0h5.2v2.7h-5.2zM90.5 15.0h10.3v2.7h-10.3zM105.6 15.0h5.2v2.7h-5.2zM125.7 15.0h10.3v2.7h-10.3zM-5.1 17.5h10.3v2.7h-10.3zM35.1 17.5h5.2v2.7h-5.2zM90.5 17.5h10.3v2.7h-10.3zM105.6 17.5h5.2v2.7h-5.2zM125.7 17.5h10.3v2.7h-10.3zM30.1 20.0h5.2v2.7h-5.2zM95.5 20.0h5.2v2.7h-5.2zM30.1 22.6h5.2v2.7h-5.2zM95.5 22.6h5.2v2.7h-5.2zM100.5 25.1h5.2v2.7h-5.2zM125.7 25.1h5.2v2.7h-5.2zM155.9 25.1h10.3v2.7h-10.3zM100.5 27.6h5.2v2.7h-5.2zM125.7 27.6h5.2v2.7h-5.2zM155.9 27.6h10.3v2.7h-10.3zM20.0 30.1h5.2v2.7h-5.2zM110.6 30.1h5.2v2.7h-5.2zM20.0 32.6h5.2v2.7h-5.2zM110.6 32.6h5.2v2.7h-5.2zM-5.1 35.2h10.3v2.7h-10.3zM120.7 35.2h5.2v2.7h-5.2zM-5.1 37.7h10.3v2.7h-10.3zM120.7 37.7h5.2v2.7h-5.2zM20.0 40.2h5.2v2.7h-5.2zM85.4 40.2h5.2v2.7h-5.2zM135.7 40.2h5.2v2.7h-5.2zM155.9 40.2h10.3v2.7h-10.3zM20.0 42.7h5.2v2.7h-5.2zM85.4 42.7h5.2v2.7h-5.2zM135.7 42.7h5.2v2.7h-5.2zM155.9 42.7h10.3v2.7h-10.3zM20.0 45.2h5.2v2.7h-5.2zM100.5 45.2h5.2v2.7h-5.2zM150.8 45.2h5.2v2.7h-5.2zM20.0 47.8h5.2v2.7h-5.2zM100.5 47.8h5.2v2.7h-5.2zM150.8 47.8h5.2v2.7h-5.2zM-5.1 50.3h10.3v2.7h-10.3zM-5.1 52.8h10.3v2.7h-10.3zM65.3 120.8h5.2v2.7h-5.2zM65.3 123.3h5.2v2.7h-5.2z"/>
<path fill="#1428e0" d="M65.3 4.9h15.3v2.7h-15.3zM65.3 7.5h15.3v2.7h-15.3zM65.3 10.0h5.2v2.7h-5.2zM75.4 10.0h5.2v2.7h-5.2zM65.3 12.5h5.2v2.7h-5.2zM75.4 12.5h5.2v2.7h-5.2zM70.3 15.0h10.3v2.7h-10.3zM70.3 17.5h10.3v2.7h-10.3zM75.4 20.0h5.2v2.7h-5.2zM75.4 22.6h5.2v2.7h-5.2zM80.4 25.1h5.2v2.7h-5.2zM80.4 27.6h5.2v2.7h-5.2zM80.4 30.1h5.2v2.7h-5.2zM80.4 32.6h5.2v2.7h-5.2z"/>
<path fill="#e41818" d="M40.1 10.0h5.2v2.7h-5.2zM40.1 12.5h5.2v2.7h-5.2zM55.2 15.0h5.2v2.7h-5.2zM100.5 15.0h5.2v2.7h-5.2zM55.2 17.5h5.2v2.7h-5.2zM100.5 17.5h5.2v2.7h-5.2zM-5.1 20.0h10.3v2.7h-10.3zM20.0 20.0h10.3v2.7h-10.3zM100.5 20.0h10.3v2.7h-10.3zM125.7 20.0h5.2v2.7h-5.2zM-5.1 22.6h10.3v2.7h-10.3zM20.0 22.6h10.3v2.7h-10.3zM100.5 22.6h10.3v2.7h-10.3zM125.7 22.6h5.2v2.7h-5.2zM-5.1 25.1h10.3v2.7h-10.3zM25.1 25.1h5.2v2.7h-5.2zM35.1 25.1h5.2v2.7h-5.2zM105.6 25.1h5.2v2.7h-5.2zM120.7 25.1h5.2v2.7h-5.2zM-5.1 27.6h10.3v2.7h-10.3zM25.1 27.6h5.2v2.7h-5.2zM35.1 27.6h5.2v2.7h-5.2zM105.6 27.6h5.2v2.7h-5.2zM120.7 27.6h5.2v2.7h-5.2zM-5.1 30.1h10.3v2.7h-10.3zM75.4 30.1h5.2v2.7h-5.2zM115.6 30.1h10.3v2.7h-10.3zM155.9 30.1h10.3v2.7h-10.3zM-5.1 32.6h10.3v2.7h-10.3zM75.4 32.6h5.2v2.7h-5.2zM115.6 32.6h10.3v2.7h-10.3zM155.9 32.6h10.3v2.7h-10.3zM4.9 35.2h5.2v2.7h-5.2zM4.9 37.7h5.2v2.7h-5.2zM4.9 40.2h5.2v2.7h-5.2zM80.4 40.2h5.2v2.7h-5.2zM140.8 40.2h5.2v2.7h-5.2zM4.9 42.7h5.2v2.7h-5.2zM80.4 42.7h5.2v2.7h-5.2zM140.8 42.7h5.2v2.7h-5.2zM4.9 45.2h5.2v2.7h-5.2zM15.0 45.2h5.2v2.7h-5.2zM95.5 45.2h5.2v2.7h-5.2zM105.6 45.2h10.3v2.7h-10.3zM140.8 45.2h5.2v2.7h-5.2zM4.9 47.8h5.2v2.7h-5.2zM15.0 47.8h5.2v2.7h-5.2zM95.5 47.8h5.2v2.7h-5.2zM105.6 47.8h10.3v2.7h-10.3zM140.8 47.8h5.2v2.7h-5.2zM135.7 50.3h10.3v2.7h-10.3zM135.7 52.8h10.3v2.7h-10.3zM135.7 55.3h5.2v2.7h-5.2zM135.7 57.8h5.2v2.7h-5.2zM130.7 70.4h5.2v2.7h-5.2zM145.8 70.4h5.2v2.7h-5.2zM130.7 72.9h5.2v2.7h-5.2zM145.8 72.9h5.2v2.7h-5.2zM135.7 75.5h5.2v2.7h-5.2zM150.8 75.5h5.2v2.7h-5.2zM135.7 78.0h5.2v2.7h-5.2zM150.8 78.0h5.2v2.7h-5.2zM90.5 80.5h5.2v2.7h-5.2zM90.5 83.0h5.2v2.7h-5.2zM85.4 85.5h5.2v2.7h-5.2zM85.4 88.0h5.2v2.7h-5.2zM60.3 105.7h5.2v2.7h-5.2zM60.3 108.2h5.2v2.7h-5.2zM60.3 110.7h5.2v2.7h-5.2zM60.3 113.2h5.2v2.7h-5.2zM65.3 115.8h5.2v2.7h-5.2zM65.3 118.3h5.2v2.7h-5.2z"/>
<path fill="#c41c1c" d="M45.2 10.0h5.2v2.7h-5.2zM45.2 12.5h5.2v2.7h-5.2zM4.9 20.0h15.3v2.7h-15.3zM35.1 20.0h5.2v2.7h-5.2zM110.6 20.0h5.2v2.7h-5.2zM4.9 22.6h15.3v2.7h-15.3zM35.1 22.6h5.2v2.7h-5.2zM110.6 22.6h5.2v2.7h-5.2zM4.9 25.1h5.2v2.7h-5.2zM20.0 25.1h5.2v2.7h-5.2zM65.3 25.1h5.2v2.7h-5.2zM110.6 25.1h10.3v2.7h-10.3zM4.9 27.6h5.2v2.7h-5.2zM20.0 27.6h5.2v2.7h-5.2zM65.3 27.6h5.2v2.7h-5.2zM110.6 27.6h10.3v2.7h-10.3zM4.9 30.1h15.3v2.7h-15.3zM30.1 30.1h5.2v2.7h-5.2zM4.9 32.6h15.3v2.7h-15.3zM30.1 32.6h5.2v2.7h-5.2zM25.1 35.2h5.2v2.7h-5.2zM110.6 35.2h10.3v2.7h-10.3zM125.7 35.2h5.2v2.7h-5.2zM25.1 37.7h5.2v2.7h-5.2zM110.6 37.7h10.3v2.7h-10.3zM125.7 37.7h5.2v2.7h-5.2zM10.0 45.2h5.2v2.7h-5.2zM90.5 45.2h5.2v2.7h-5.2zM115.6 45.2h20.3v2.7h-20.3zM145.8 45.2h5.2v2.7h-5.2zM155.9 45.2h10.3v2.7h-10.3zM10.0 47.8h5.2v2.7h-5.2zM90.5 47.8h5.2v2.7h-5.2zM115.6 47.8h20.3v2.7h-20.3zM145.8 47.8h5.2v2.7h-5.2zM155.9 47.8h10.3v2.7h-10.3zM150.8 50.3h5.2v2.7h-5.2zM150.8 52.8h5.2v2.7h-5.2zM-5.1 60.3h20.3v2.7h-20.3zM-5.1 62.9h20.3v2.7h-20.3zM10.0 65.4h10.3v2.7h-10.3zM10.0 67.9h10.3v2.7h-10.3zM20.0 70.4h5.2v2.7h-5.2zM20.0 72.9h5.2v2.7h-5.2zM20.0 75.5h10.3v2.7h-10.3zM20.0 78.0h10.3v2.7h-10.3zM25.1 80.5h5.2v2.7h-5.2zM25.1 83.0h5.2v2.7h-5.2zM25.1 85.5h5.2v2.7h-5.2zM25.1 88.0h5.2v2.7h-5.2zM25.1 90.6h5.2v2.7h-5.2zM25.1 93.1h5.2v2.7h-5.2zM25.1 95.6h5.2v2.7h-5.2zM25.1 98.1h5.2v2.7h-5.2zM25.1 100.6h5.2v2.7h-5.2zM25.1 103.2h5.2v2.7h-5.2zM25.1 105.7h5.2v2.7h-5.2zM65.3 105.7h5.2v2.7h-5.2zM25.1 108.2h5.2v2.7h-5.2zM65.3 108.2h5.2v2.7h-5.2zM20.0 110.7h10.3v2.7h-10.3zM65.3 110.7h5.2v2.7h-5.2zM20.0 113.2h10.3v2.7h-10.3zM65.3 113.2h5.2v2.7h-5.2zM15.0 115.8h10.3v2.7h-10.3zM15.0 118.3h10.3v2.7h-10.3zM-5.1 120.8h25.4v2.7h-25.4zM-5.1 123.3h25.4v2.7h-25.4zM-5.1 125.8h15.3v2.7h-15.3zM-5.1 128.3h15.3v2.7h-15.3z"/>
<path fill="#7020e0" d="M70.3 10.0h5.2v2.7h-5.2zM70.3 12.5h5.2v2.7h-5.2z"/>
<path fill="#80222a" d="M40.1 15.0h15.3v2.7h-15.3zM40.1 17.5h15.3v2.7h-15.3zM60.3 20.0h5.2v2.7h-5.2zM115.6 20.0h10.3v2.7h-10.3zM60.3 22.6h5.2v2.7h-5.2zM115.6 22.6h10.3v2.7h-10.3zM10.0 25.1h10.3v2.7h-10.3zM10.0 27.6h10.3v2.7h-10.3zM135.7 45.2h5.2v2.7h-5.2zM135.7 47.8h5.2v2.7h-5.2zM155.9 50.3h10.3v2.7h-10.3zM155.9 52.8h10.3v2.7h-10.3zM150.8 55.3h15.3v2.7h-15.3zM150.8 57.8h15.3v2.7h-15.3zM155.9 60.3h10.3v2.7h-10.3zM155.9 62.9h10.3v2.7h-10.3zM150.8 65.4h15.3v2.7h-15.3zM150.8 67.9h15.3v2.7h-15.3zM40.1 75.5h5.2v2.7h-5.2zM40.1 78.0h5.2v2.7h-5.2zM40.1 80.5h10.3v2.7h-10.3zM40.1 83.0h10.3v2.7h-10.3zM45.2 85.5h5.2v2.7h-5.2zM115.6 85.5h15.3v2.7h-15.3zM45.2 88.0h5.2v2.7h-5.2zM115.6 88.0h15.3v2.7h-15.3zM45.2 90.6h5.2v2.7h-5.2zM95.5 90.6h45.5v2.7h-45.5zM45.2 93.1h5.2v2.7h-5.2zM95.5 93.1h45.5v2.7h-45.5zM45.2 95.6h5.2v2.7h-5.2zM90.5 95.6h55.5v2.7h-55.5zM45.2 98.1h5.2v2.7h-5.2zM90.5 98.1h55.5v2.7h-55.5zM45.2 100.6h5.2v2.7h-5.2zM90.5 100.6h25.4v2.7h-25.4zM125.7 100.6h20.3v2.7h-20.3zM45.2 103.2h5.2v2.7h-5.2zM90.5 103.2h25.4v2.7h-25.4zM125.7 103.2h20.3v2.7h-20.3zM40.1 105.7h10.3v2.7h-10.3zM90.5 105.7h25.4v2.7h-25.4zM120.7 105.7h25.4v2.7h-25.4zM40.1 108.2h10.3v2.7h-10.3zM90.5 108.2h25.4v2.7h-25.4zM120.7 108.2h25.4v2.7h-25.4zM40.1 110.7h5.2v2.7h-5.2zM95.5 110.7h50.5v2.7h-50.5zM40.1 113.2h5.2v2.7h-5.2zM95.5 113.2h50.5v2.7h-50.5zM40.1 115.8h5.2v2.7h-5.2zM95.5 115.8h45.5v2.7h-45.5zM40.1 118.3h5.2v2.7h-5.2zM95.5 118.3h45.5v2.7h-45.5zM35.1 120.8h10.3v2.7h-10.3zM100.5 120.8h35.4v2.7h-35.4zM35.1 123.3h10.3v2.7h-10.3zM100.5 123.3h35.4v2.7h-35.4zM30.1 125.8h10.3v2.7h-10.3zM105.6 125.8h25.4v2.7h-25.4zM30.1 128.3h10.3v2.7h-10.3zM105.6 128.3h25.4v2.7h-25.4zM25.1 130.9h10.3v2.7h-10.3zM25.1 133.4h10.3v2.7h-10.3zM25.1 135.9h10.3v2.7h-10.3zM25.1 138.4h10.3v2.7h-10.3z"/>
<path fill="#a86a6e" d="M40.1 20.0h5.2v2.7h-5.2zM55.2 20.0h5.2v2.7h-5.2zM40.1 22.6h5.2v2.7h-5.2zM55.2 22.6h5.2v2.7h-5.2zM60.3 25.1h5.2v2.7h-5.2zM60.3 27.6h5.2v2.7h-5.2zM75.4 35.2h5.2v2.7h-5.2zM75.4 37.7h5.2v2.7h-5.2zM25.1 40.2h5.2v2.7h-5.2zM25.1 42.7h5.2v2.7h-5.2zM25.1 45.2h5.2v2.7h-5.2zM85.4 45.2h5.2v2.7h-5.2zM25.1 47.8h5.2v2.7h-5.2zM85.4 47.8h5.2v2.7h-5.2zM20.0 50.3h10.3v2.7h-10.3zM110.6 50.3h15.3v2.7h-15.3zM145.8 50.3h5.2v2.7h-5.2zM20.0 52.8h10.3v2.7h-10.3zM110.6 52.8h15.3v2.7h-15.3zM145.8 52.8h5.2v2.7h-5.2zM20.0 55.3h10.3v2.7h-10.3zM115.6 55.3h5.2v2.7h-5.2zM125.7 55.3h5.2v2.7h-5.2zM20.0 57.8h10.3v2.7h-10.3zM115.6 57.8h5.2v2.7h-5.2zM125.7 57.8h5.2v2.7h-5.2zM25.1 60.3h5.2v2.7h-5.2zM50.2 60.3h5.2v2.7h-5.2zM80.4 60.3h10.3v2.7h-10.3zM25.1 62.9h5.2v2.7h-5.2zM50.2 62.9h5.2v2.7h-5.2zM80.4 62.9h10.3v2.7h-10.3zM80.4 65.4h5.2v2.7h-5.2zM90.5 65.4h5.2v2.7h-5.2zM130.7 65.4h5.2v2.7h-5.2zM145.8 65.4h5.2v2.7h-5.2zM80.4 67.9h5.2v2.7h-5.2zM90.5 67.9h5.2v2.7h-5.2zM130.7 67.9h5.2v2.7h-5.2zM145.8 67.9h5.2v2.7h-5.2zM35.1 70.4h10.3v2.7h-10.3zM80.4 70.4h5.2v2.7h-5.2zM95.5 70.4h5.2v2.7h-5.2zM110.6 70.4h5.2v2.7h-5.2zM125.7 70.4h5.2v2.7h-5.2zM155.9 70.4h10.3v2.7h-10.3zM35.1 72.9h10.3v2.7h-10.3zM80.4 72.9h5.2v2.7h-5.2zM95.5 72.9h5.2v2.7h-5.2zM110.6 72.9h5.2v2.7h-5.2zM125.7 72.9h5.2v2.7h-5.2zM155.9 72.9h10.3v2.7h-10.3zM80.4 75.5h5.2v2.7h-5.2zM90.5 75.5h5.2v2.7h-5.2zM130.7 75.5h5.2v2.7h-5.2zM80.4 78.0h5.2v2.7h-5.2zM90.5 78.0h5.2v2.7h-5.2zM130.7 78.0h5.2v2.7h-5.2zM50.2 80.5h5.2v2.7h-5.2zM95.5 80.5h5.2v2.7h-5.2zM145.8 80.5h5.2v2.7h-5.2zM155.9 80.5h10.3v2.7h-10.3zM50.2 83.0h5.2v2.7h-5.2zM95.5 83.0h5.2v2.7h-5.2zM145.8 83.0h5.2v2.7h-5.2zM155.9 83.0h10.3v2.7h-10.3zM50.2 85.5h5.2v2.7h-5.2zM80.4 85.5h5.2v2.7h-5.2zM140.8 85.5h5.2v2.7h-5.2zM155.9 85.5h10.3v2.7h-10.3zM50.2 88.0h5.2v2.7h-5.2zM80.4 88.0h5.2v2.7h-5.2zM140.8 88.0h5.2v2.7h-5.2zM155.9 88.0h10.3v2.7h-10.3zM55.2 90.6h5.2v2.7h-5.2zM145.8 90.6h10.3v2.7h-10.3zM55.2 93.1h5.2v2.7h-5.2zM145.8 93.1h10.3v2.7h-10.3zM55.2 95.6h5.2v2.7h-5.2zM55.2 98.1h5.2v2.7h-5.2zM60.3 100.6h10.3v2.7h-10.3zM60.3 103.2h10.3v2.7h-10.3zM75.4 105.7h5.2v2.7h-5.2zM75.4 108.2h5.2v2.7h-5.2zM75.4 110.7h5.2v2.7h-5.2zM75.4 113.2h5.2v2.7h-5.2zM65.3 125.8h5.2v2.7h-5.2zM65.3 128.3h5.2v2.7h-5.2z"/>
<path fill="#bc8a8c" d="M45.2 20.0h10.3v2.7h-10.3zM45.2 22.6h10.3v2.7h-10.3zM40.1 25.1h20.3v2.7h-20.3zM40.1 27.6h20.3v2.7h-20.3zM35.1 30.1h35.4v2.7h-35.4zM35.1 32.6h35.4v2.7h-35.4zM30.1 35.2h10.3v2.7h-10.3zM50.2 35.2h25.4v2.7h-25.4zM30.1 37.7h10.3v2.7h-10.3zM50.2 37.7h25.4v2.7h-25.4zM30.1 40.2h5.2v2.7h-5.2zM50.2 40.2h30.4v2.7h-30.4zM30.1 42.7h5.2v2.7h-5.2zM50.2 42.7h30.4v2.7h-30.4zM30.1 45.2h10.3v2.7h-10.3zM50.2 45.2h35.4v2.7h-35.4zM30.1 47.8h10.3v2.7h-10.3zM50.2 47.8h35.4v2.7h-35.4zM30.1 50.3h80.7v2.7h-80.7zM30.1 52.8h80.7v2.7h-80.7zM30.1 55.3h85.7v2.7h-85.7zM120.7 55.3h5.2v2.7h-5.2zM140.8 55.3h10.3v2.7h-10.3zM30.1 57.8h85.7v2.7h-85.7zM120.7 57.8h5.2v2.7h-5.2zM140.8 57.8h10.3v2.7h-10.3zM30.1 60.3h20.3v2.7h-20.3zM55.2 60.3h25.4v2.7h-25.4zM90.5 60.3h45.5v2.7h-45.5zM145.8 60.3h5.2v2.7h-5.2zM30.1 62.9h20.3v2.7h-20.3zM55.2 62.9h25.4v2.7h-25.4zM90.5 62.9h45.5v2.7h-45.5zM145.8 62.9h5.2v2.7h-5.2zM30.1 65.4h50.5v2.7h-50.5zM95.5 65.4h35.4v2.7h-35.4zM140.8 65.4h5.2v2.7h-5.2zM30.1 67.9h50.5v2.7h-50.5zM95.5 67.9h35.4v2.7h-35.4zM140.8 67.9h5.2v2.7h-5.2zM50.2 70.4h10.3v2.7h-10.3zM75.4 70.4h5.2v2.7h-5.2zM85.4 70.4h10.3v2.7h-10.3zM100.5 70.4h10.3v2.7h-10.3zM50.2 72.9h10.3v2.7h-10.3zM75.4 72.9h5.2v2.7h-5.2zM85.4 72.9h10.3v2.7h-10.3zM100.5 72.9h10.3v2.7h-10.3zM50.2 75.5h10.3v2.7h-10.3zM75.4 75.5h5.2v2.7h-5.2zM85.4 75.5h5.2v2.7h-5.2zM95.5 75.5h10.3v2.7h-10.3zM140.8 75.5h5.2v2.7h-5.2zM155.9 75.5h10.3v2.7h-10.3zM50.2 78.0h10.3v2.7h-10.3zM75.4 78.0h5.2v2.7h-5.2zM85.4 78.0h5.2v2.7h-5.2zM95.5 78.0h10.3v2.7h-10.3zM140.8 78.0h5.2v2.7h-5.2zM155.9 78.0h10.3v2.7h-10.3zM55.2 80.5h5.2v2.7h-5.2zM85.4 80.5h5.2v2.7h-5.2zM140.8 80.5h5.2v2.7h-5.2zM55.2 83.0h5.2v2.7h-5.2zM85.4 83.0h5.2v2.7h-5.2zM140.8 83.0h5.2v2.7h-5.2zM55.2 85.5h5.2v2.7h-5.2zM145.8 85.5h5.2v2.7h-5.2zM55.2 88.0h5.2v2.7h-5.2zM145.8 88.0h5.2v2.7h-5.2zM60.3 90.6h5.2v2.7h-5.2zM60.3 93.1h5.2v2.7h-5.2zM60.3 95.6h10.3v2.7h-10.3zM60.3 98.1h10.3v2.7h-10.3zM70.3 100.6h5.2v2.7h-5.2zM70.3 103.2h5.2v2.7h-5.2z"/>
<path fill="#9c4c50" d="M70.3 30.1h5.2v2.7h-5.2zM70.3 32.6h5.2v2.7h-5.2zM10.0 35.2h10.3v2.7h-10.3zM10.0 37.7h10.3v2.7h-10.3zM10.0 40.2h10.3v2.7h-10.3zM10.0 42.7h10.3v2.7h-10.3zM125.7 50.3h10.3v2.7h-10.3zM125.7 52.8h10.3v2.7h-10.3zM130.7 55.3h5.2v2.7h-5.2zM130.7 57.8h5.2v2.7h-5.2zM135.7 60.3h5.2v2.7h-5.2zM150.8 60.3h5.2v2.7h-5.2zM135.7 62.9h5.2v2.7h-5.2zM150.8 62.9h5.2v2.7h-5.2zM85.4 65.4h5.2v2.7h-5.2zM135.7 65.4h5.2v2.7h-5.2zM85.4 67.9h5.2v2.7h-5.2zM135.7 67.9h5.2v2.7h-5.2zM115.6 70.4h10.3v2.7h-10.3zM115.6 72.9h10.3v2.7h-10.3zM105.6 75.5h10.3v2.7h-10.3zM125.7 75.5h5.2v2.7h-5.2zM105.6 78.0h10.3v2.7h-10.3zM125.7 78.0h5.2v2.7h-5.2zM80.4 80.5h5.2v2.7h-5.2zM100.5 80.5h10.3v2.7h-10.3zM135.7 80.5h5.2v2.7h-5.2zM80.4 83.0h5.2v2.7h-5.2zM100.5 83.0h10.3v2.7h-10.3zM135.7 83.0h5.2v2.7h-5.2zM90.5 85.5h10.3v2.7h-10.3zM90.5 88.0h10.3v2.7h-10.3zM80.4 90.6h10.3v2.7h-10.3zM80.4 93.1h10.3v2.7h-10.3zM80.4 95.6h5.2v2.7h-5.2zM150.8 95.6h5.2v2.7h-5.2zM80.4 98.1h5.2v2.7h-5.2zM150.8 98.1h5.2v2.7h-5.2zM55.2 100.6h5.2v2.7h-5.2zM80.4 100.6h5.2v2.7h-5.2zM150.8 100.6h5.2v2.7h-5.2zM55.2 103.2h5.2v2.7h-5.2zM80.4 103.2h5.2v2.7h-5.2zM150.8 103.2h5.2v2.7h-5.2zM55.2 105.7h5.2v2.7h-5.2zM70.3 105.7h5.2v2.7h-5.2zM80.4 105.7h5.2v2.7h-5.2zM150.8 105.7h5.2v2.7h-5.2zM55.2 108.2h5.2v2.7h-5.2zM70.3 108.2h5.2v2.7h-5.2zM80.4 108.2h5.2v2.7h-5.2zM150.8 108.2h5.2v2.7h-5.2zM50.2 110.7h10.3v2.7h-10.3zM70.3 110.7h5.2v2.7h-5.2zM80.4 110.7h5.2v2.7h-5.2zM150.8 110.7h15.3v2.7h-15.3zM50.2 113.2h10.3v2.7h-10.3zM70.3 113.2h5.2v2.7h-5.2zM80.4 113.2h5.2v2.7h-5.2zM150.8 113.2h15.3v2.7h-15.3zM50.2 115.8h15.3v2.7h-15.3zM70.3 115.8h20.3v2.7h-20.3zM150.8 115.8h15.3v2.7h-15.3zM50.2 118.3h15.3v2.7h-15.3zM70.3 118.3h20.3v2.7h-20.3zM150.8 118.3h15.3v2.7h-15.3zM50.2 120.8h15.3v2.7h-15.3zM70.3 120.8h20.3v2.7h-20.3zM145.8 120.8h20.3v2.7h-20.3zM50.2 123.3h15.3v2.7h-15.3zM70.3 123.3h20.3v2.7h-20.3zM145.8 123.3h20.3v2.7h-20.3zM45.2 125.8h20.3v2.7h-20.3zM70.3 125.8h25.4v2.7h-25.4zM140.8 125.8h25.4v2.7h-25.4zM45.2 128.3h20.3v2.7h-20.3zM70.3 128.3h25.4v2.7h-25.4zM140.8 128.3h25.4v2.7h-25.4zM40.1 130.9h60.6v2.7h-60.6zM135.7 130.9h30.4v2.7h-30.4zM40.1 133.4h60.6v2.7h-60.6zM135.7 133.4h30.4v2.7h-30.4zM40.1 135.9h60.6v2.7h-60.6zM135.7 135.9h30.4v2.7h-30.4zM40.1 138.4h60.6v2.7h-60.6zM135.7 138.4h30.4v2.7h-30.4z"/>
<path fill="#caa2a4" d="M40.1 35.2h10.3v2.7h-10.3zM40.1 37.7h10.3v2.7h-10.3zM35.1 40.2h15.3v2.7h-15.3zM35.1 42.7h15.3v2.7h-15.3zM40.1 45.2h10.3v2.7h-10.3zM40.1 47.8h10.3v2.7h-10.3zM140.8 60.3h5.2v2.7h-5.2zM140.8 62.9h5.2v2.7h-5.2zM60.3 70.4h15.3v2.7h-15.3zM135.7 70.4h10.3v2.7h-10.3zM60.3 72.9h15.3v2.7h-15.3zM135.7 72.9h10.3v2.7h-10.3zM60.3 75.5h15.3v2.7h-15.3zM60.3 78.0h15.3v2.7h-15.3zM60.3 80.5h20.3v2.7h-20.3zM60.3 83.0h20.3v2.7h-20.3zM60.3 85.5h20.3v2.7h-20.3zM60.3 88.0h20.3v2.7h-20.3zM65.3 90.6h15.3v2.7h-15.3zM65.3 93.1h15.3v2.7h-15.3zM70.3 95.6h10.3v2.7h-10.3zM70.3 98.1h10.3v2.7h-10.3zM75.4 100.6h5.2v2.7h-5.2zM75.4 103.2h5.2v2.7h-5.2z"/>
<path fill="#961e26" d="M4.9 50.3h15.3v2.7h-15.3zM4.9 52.8h15.3v2.7h-15.3zM15.0 55.3h5.2v2.7h-5.2zM15.0 57.8h5.2v2.7h-5.2zM30.1 70.4h5.2v2.7h-5.2zM30.1 72.9h5.2v2.7h-5.2zM35.1 75.5h5.2v2.7h-5.2zM35.1 78.0h5.2v2.7h-5.2zM35.1 80.5h5.2v2.7h-5.2zM35.1 83.0h5.2v2.7h-5.2zM35.1 85.5h10.3v2.7h-10.3zM35.1 88.0h10.3v2.7h-10.3zM35.1 90.6h10.3v2.7h-10.3zM35.1 93.1h10.3v2.7h-10.3zM35.1 95.6h10.3v2.7h-10.3zM35.1 98.1h10.3v2.7h-10.3zM35.1 100.6h10.3v2.7h-10.3zM35.1 103.2h10.3v2.7h-10.3zM35.1 105.7h5.2v2.7h-5.2zM35.1 108.2h5.2v2.7h-5.2zM35.1 110.7h5.2v2.7h-5.2zM35.1 113.2h5.2v2.7h-5.2zM30.1 115.8h10.3v2.7h-10.3zM30.1 118.3h10.3v2.7h-10.3zM30.1 120.8h5.2v2.7h-5.2zM30.1 123.3h5.2v2.7h-5.2zM25.1 125.8h5.2v2.7h-5.2zM25.1 128.3h5.2v2.7h-5.2zM15.0 130.9h10.3v2.7h-10.3zM15.0 133.4h10.3v2.7h-10.3zM15.0 135.9h10.3v2.7h-10.3zM15.0 138.4h10.3v2.7h-10.3z"/>
<path fill="#ac1c22" d="M-5.1 55.3h20.3v2.7h-20.3zM-5.1 57.8h20.3v2.7h-20.3zM15.0 60.3h10.3v2.7h-10.3zM15.0 62.9h10.3v2.7h-10.3zM20.0 65.4h10.3v2.7h-10.3zM20.0 67.9h10.3v2.7h-10.3zM25.1 70.4h5.2v2.7h-5.2zM150.8 70.4h5.2v2.7h-5.2zM25.1 72.9h5.2v2.7h-5.2zM150.8 72.9h5.2v2.7h-5.2zM30.1 75.5h5.2v2.7h-5.2zM145.8 75.5h5.2v2.7h-5.2zM30.1 78.0h5.2v2.7h-5.2zM145.8 78.0h5.2v2.7h-5.2zM30.1 80.5h5.2v2.7h-5.2zM150.8 80.5h5.2v2.7h-5.2zM30.1 83.0h5.2v2.7h-5.2zM150.8 83.0h5.2v2.7h-5.2zM30.1 85.5h5.2v2.7h-5.2zM150.8 85.5h5.2v2.7h-5.2zM30.1 88.0h5.2v2.7h-5.2zM150.8 88.0h5.2v2.7h-5.2zM30.1 90.6h5.2v2.7h-5.2zM155.9 90.6h10.3v2.7h-10.3zM30.1 93.1h5.2v2.7h-5.2zM155.9 93.1h10.3v2.7h-10.3zM30.1 95.6h5.2v2.7h-5.2zM155.9 95.6h10.3v2.7h-10.3zM30.1 98.1h5.2v2.7h-5.2zM155.9 98.1h10.3v2.7h-10.3zM30.1 100.6h5.2v2.7h-5.2zM115.6 100.6h10.3v2.7h-10.3zM155.9 100.6h10.3v2.7h-10.3zM30.1 103.2h5.2v2.7h-5.2zM115.6 103.2h10.3v2.7h-10.3zM155.9 103.2h10.3v2.7h-10.3zM30.1 105.7h5.2v2.7h-5.2zM115.6 105.7h5.2v2.7h-5.2zM155.9 105.7h10.3v2.7h-10.3zM30.1 108.2h5.2v2.7h-5.2zM115.6 108.2h5.2v2.7h-5.2zM155.9 108.2h10.3v2.7h-10.3zM30.1 110.7h5.2v2.7h-5.2zM30.1 113.2h5.2v2.7h-5.2zM25.1 115.8h5.2v2.7h-5.2zM25.1 118.3h5.2v2.7h-5.2zM20.0 120.8h10.3v2.7h-10.3zM20.0 123.3h10.3v2.7h-10.3zM10.0 125.8h15.3v2.7h-15.3zM10.0 128.3h15.3v2.7h-15.3zM-5.1 130.9h20.3v2.7h-20.3zM-5.1 133.4h20.3v2.7h-20.3zM-5.1 135.9h20.3v2.7h-20.3zM-5.1 138.4h20.3v2.7h-20.3z"/>
<path fill="#d81c1a" d="M-5.1 65.4h15.3v2.7h-15.3zM-5.1 67.9h15.3v2.7h-15.3zM-5.1 70.4h25.4v2.7h-25.4zM-5.1 72.9h25.4v2.7h-25.4zM15.0 75.5h5.2v2.7h-5.2zM15.0 78.0h5.2v2.7h-5.2zM15.0 80.5h10.3v2.7h-10.3zM15.0 83.0h10.3v2.7h-10.3zM20.0 85.5h5.2v2.7h-5.2zM20.0 88.0h5.2v2.7h-5.2zM20.0 90.6h5.2v2.7h-5.2zM20.0 93.1h5.2v2.7h-5.2zM20.0 95.6h5.2v2.7h-5.2zM20.0 98.1h5.2v2.7h-5.2zM20.0 100.6h5.2v2.7h-5.2zM20.0 103.2h5.2v2.7h-5.2zM15.0 105.7h10.3v2.7h-10.3zM15.0 108.2h10.3v2.7h-10.3zM10.0 110.7h10.3v2.7h-10.3zM10.0 113.2h10.3v2.7h-10.3zM-5.1 115.8h20.3v2.7h-20.3zM-5.1 118.3h20.3v2.7h-20.3z"/>
<path fill="#8e3238" d="M45.2 70.4h5.2v2.7h-5.2zM45.2 72.9h5.2v2.7h-5.2zM45.2 75.5h5.2v2.7h-5.2zM115.6 75.5h10.3v2.7h-10.3zM45.2 78.0h5.2v2.7h-5.2zM115.6 78.0h10.3v2.7h-10.3zM110.6 80.5h25.4v2.7h-25.4zM110.6 83.0h25.4v2.7h-25.4zM100.5 85.5h15.3v2.7h-15.3zM130.7 85.5h10.3v2.7h-10.3zM100.5 88.0h15.3v2.7h-15.3zM130.7 88.0h10.3v2.7h-10.3zM50.2 90.6h5.2v2.7h-5.2zM90.5 90.6h5.2v2.7h-5.2zM140.8 90.6h5.2v2.7h-5.2zM50.2 93.1h5.2v2.7h-5.2zM90.5 93.1h5.2v2.7h-5.2zM140.8 93.1h5.2v2.7h-5.2zM50.2 95.6h5.2v2.7h-5.2zM85.4 95.6h5.2v2.7h-5.2zM145.8 95.6h5.2v2.7h-5.2zM50.2 98.1h5.2v2.7h-5.2zM85.4 98.1h5.2v2.7h-5.2zM145.8 98.1h5.2v2.7h-5.2zM50.2 100.6h5.2v2.7h-5.2zM85.4 100.6h5.2v2.7h-5.2zM145.8 100.6h5.2v2.7h-5.2zM50.2 103.2h5.2v2.7h-5.2zM85.4 103.2h5.2v2.7h-5.2zM145.8 103.2h5.2v2.7h-5.2zM50.2 105.7h5.2v2.7h-5.2zM85.4 105.7h5.2v2.7h-5.2zM145.8 105.7h5.2v2.7h-5.2zM50.2 108.2h5.2v2.7h-5.2zM85.4 108.2h5.2v2.7h-5.2zM145.8 108.2h5.2v2.7h-5.2zM45.2 110.7h5.2v2.7h-5.2zM85.4 110.7h10.3v2.7h-10.3zM145.8 110.7h5.2v2.7h-5.2zM45.2 113.2h5.2v2.7h-5.2zM85.4 113.2h10.3v2.7h-10.3zM145.8 113.2h5.2v2.7h-5.2zM45.2 115.8h5.2v2.7h-5.2zM90.5 115.8h5.2v2.7h-5.2zM140.8 115.8h10.3v2.7h-10.3zM45.2 118.3h5.2v2.7h-5.2zM90.5 118.3h5.2v2.7h-5.2zM140.8 118.3h10.3v2.7h-10.3zM45.2 120.8h5.2v2.7h-5.2zM90.5 120.8h10.3v2.7h-10.3zM135.7 120.8h10.3v2.7h-10.3zM45.2 123.3h5.2v2.7h-5.2zM90.5 123.3h10.3v2.7h-10.3zM135.7 123.3h10.3v2.7h-10.3zM40.1 125.8h5.2v2.7h-5.2zM95.5 125.8h10.3v2.7h-10.3zM130.7 125.8h10.3v2.7h-10.3zM40.1 128.3h5.2v2.7h-5.2zM95.5 128.3h10.3v2.7h-10.3zM130.7 128.3h10.3v2.7h-10.3zM35.1 130.9h5.2v2.7h-5.2zM100.5 130.9h35.4v2.7h-35.4zM35.1 133.4h5.2v2.7h-5.2zM100.5 133.4h35.4v2.7h-35.4zM35.1 135.9h5.2v2.7h-5.2zM100.5 135.9h35.4v2.7h-35.4zM35.1 138.4h5.2v2.7h-5.2zM100.5 138.4h35.4v2.7h-35.4z"/>
<path fill="#e81c16" d="M-5.1 75.5h20.3v2.7h-20.3zM-5.1 78.0h20.3v2.7h-20.3zM-5.1 80.5h20.3v2.7h-20.3zM-5.1 83.0h20.3v2.7h-20.3zM-5.1 85.5h25.4v2.7h-25.4zM-5.1 88.0h25.4v2.7h-25.4zM-5.1 90.6h25.4v2.7h-25.4zM-5.1 93.1h25.4v2.7h-25.4zM-5.1 95.6h25.4v2.7h-25.4zM-5.1 98.1h25.4v2.7h-25.4zM-5.1 100.6h25.4v2.7h-25.4zM-5.1 103.2h25.4v2.7h-25.4zM-5.1 105.7h20.3v2.7h-20.3zM-5.1 108.2h20.3v2.7h-20.3zM-5.1 110.7h15.3v2.7h-15.3zM-5.1 113.2h15.3v2.7h-15.3z"/>
</g><g filter="url(#bl3)" fill="none" stroke-linecap="butt" stroke-linejoin="round"><path d="M48.1 6.3Q50.2 8.9 52.0 11.6Q53.9 14.2 58.4 18.7Q62.9 23.1 67.3 25.8Q71.8 28.5 76.4 31.3Q81.0 34.0 85.5 35.8Q90.0 37.6 94.5 39.0Q99.0 40.3 103.5 41.0L108.0 41.7" stroke="#10e8f0" stroke-width="3.6"/><path d="M46.6 7.4Q48.7 10.1 50.6 12.8Q52.5 15.5 57.1 20.1Q61.7 24.6 66.2 27.4Q70.8 30.2 75.5 33.0Q80.2 35.7 84.8 37.6Q89.4 39.4 94.0 40.8Q98.5 42.2 103.1 42.9Q107.8 43.6 112.3 43.9Q116.8 44.2 121.3 43.5L125.8 42.8" stroke="#10d488" stroke-width="1.2"/><path d="M45.8 8.1Q47.9 10.6 49.8 13.4Q51.7 16.2 56.4 20.8Q61.0 25.4 65.7 28.2Q70.3 31.0 75.0 33.8Q79.7 36.6 84.4 38.5Q89.1 40.3 93.7 41.7Q98.3 43.2 103.0 43.9Q107.7 44.6 112.3 44.9Q116.9 45.2 121.5 44.5Q126.0 43.7 129.8 42.8Q133.6 41.8 137.3 40.6Q141.1 39.4 143.2 38.8L145.3 38.1" stroke="#20c020" stroke-width="1.5"/><path d="M44.9 8.8Q47.0 11.3 48.9 14.1Q50.9 16.9 55.6 21.6Q60.4 26.3 65.0 29.1Q69.7 32.0 74.5 34.8Q79.2 37.6 84.0 39.5Q88.7 41.4 93.4 42.8Q98.1 44.2 102.8 45.0Q107.5 45.7 112.2 46.0Q116.9 46.3 121.6 45.6Q126.3 44.8 130.1 43.8Q133.9 42.8 137.7 41.7Q141.4 40.5 143.5 39.8L145.6 39.2" stroke="#fff000" stroke-width="1.0"/><path d="M44.2 9.3Q46.2 11.8 48.2 14.7Q50.2 17.5 55.0 22.2Q59.8 27.0 64.5 29.9Q69.3 32.7 74.0 35.6Q78.8 38.4 83.6 40.3Q88.4 42.2 93.1 43.7Q97.9 45.1 102.6 45.9Q107.4 46.6 112.2 46.9Q117.0 47.2 121.7 46.5Q126.4 45.7 130.3 44.7Q134.1 43.7 137.9 42.5Q141.7 41.3 143.8 40.7L145.9 40.0" stroke="#e41818" stroke-width="1.3"/><path d="M43.5 9.9Q45.4 12.4 47.5 15.3Q49.5 18.2 54.3 23.0Q59.2 27.7 64.0 30.7Q68.7 33.6 73.6 36.5Q78.4 39.3 83.2 41.2Q88.1 43.2 92.9 44.6Q97.6 46.1 102.5 46.8Q107.3 47.6 112.2 47.9Q117.0 48.2 121.8 47.4Q126.6 46.7 130.5 45.7Q134.4 44.7 138.2 43.5Q142.0 42.3 144.1 41.6L146.2 41.0" stroke="#8a1014" stroke-width="1.0"/></g><path d="M0.2 56.2 L2.7 56.0 L5.6 56.0 L8.5 55.8 L10.5 55.6 L13.0 55.3 L15.1 56.0 L17.6 55.6 L19.6 55.1 L22.1 54.7 L23.8 56.0 L23.6 57.6 L25.8 58.7 L26.7 60.9 L28.7 62.3 L30.0 62.7 L31.6 64.5 L34.1 66.5 L36.2 67.0 L38.6 66.1 L39.5 65.4 L38.2 67.6 L36.2 68.5 L33.3 69.0 L34.1 70.8 L35.8 72.6 L37.8 74.8 L40.7 76.2 L42.8 75.5 L45.7 74.4 L46.5 72.1 L47.7 69.4 L48.6 70.8 L48.4 73.5 L49.0 76.6 L48.8 80.2 L49.2 83.8 L49.6 86.9 L50.6 90.9 L51.2 94.5 L52.3 97.7 L53.7 101.2 L55.2 104.4 L56.4 108.0 L57.4 111.6 L58.9 115.1 L60.5 117.8 L61.8 120.5 L63.0 124.1 L63.9 127.2 L64.7 129.5 L66.3 131.7 L68.6 132.7 L70.9 131.3 L71.3 129.0 L74.2 127.7 L75.0 127.2 L74.4 125.9 L75.8 122.8 L78.1 122.5 L78.1 118.7 L77.9 115.6 L79.4 112.4 L80.0 109.3 L79.1 105.7 L78.9 101.7 L80.0 99.0 L82.5 98.1 L83.7 95.9 L87.0 95.0 L88.2 93.2 L91.1 90.5 L93.6 88.3 L96.5 85.6 L99.0 82.9 L101.5 80.6 L104.8 79.5 L106.8 77.1 L107.7 73.9 L108.9 72.4 L111.4 71.7 L113.0 72.1 L115.5 71.9 L118.0 71.2 L120.9 70.8 L122.1 68.5 L124.2 68.1 L126.3 67.6 L127.5 69.4 L128.3 72.6 L129.2 75.3 L130.8 78.0 L132.9 79.7 L134.9 82.4 L137.0 84.7 L138.2 88.3 L138.7 91.8 L137.8 96.3 L138.7 97.7 L142.0 98.6 L143.6 97.2 L146.1 95.4 L148.6 92.7 L149.8 94.5 L151.5 96.3 L151.9 99.9 L152.7 103.0 L153.5 107.1 L155.2 110.7 L155.6 114.2 L156.0 117.8 L155.6 121.4 L155.2 124.5 L154.4 127.7 L154.4 131.3 L154.8 134.4 L155.6 136.6 M2.7 56.0 L3.1 51.5 L6.0 50.2 L9.3 49.7 L9.7 47.0 L7.6 46.8 L7.6 42.3 L3.5 40.8 L-0.2 35.2 M-0.2 35.2 L6.4 37.2 L13.0 37.2 L21.7 35.2 L22.5 30.5 L28.3 28.2 L30.0 26.4 L34.5 26.0 L35.3 20.6 L38.6 19.3 L37.0 16.6 L41.9 15.2 L44.0 11.2 L42.4 7.6 L47.7 4.0 L53.1 3.6 L57.7 2.2 M-0.2 35.2 L3.5 30.9 L3.1 28.2 L-0.4 27.8 M0.2 9.4 L5.6 10.8 L8.9 8.5 L14.7 6.3 L17.2 2.2 L19.6 0.9 L22.9 1.3 L28.3 2.2 L29.6 3.1 L34.5 2.7 L38.2 0.4 L39.1 -1.3 M30.0 62.7 L32.0 60.0 L37.4 60.5 L41.1 59.6 L39.9 53.8 L37.8 52.9 L38.6 49.7 L35.3 47.9 L39.1 43.9 L45.3 43.9 L49.4 39.0 L51.5 34.9 L56.0 29.6 L56.4 26.0 L59.3 24.2 L56.8 22.0 L53.9 20.2 L54.3 16.6 L53.5 13.4 L61.4 14.3 L66.3 12.1 L69.6 9.9 M57.7 2.2 L62.2 5.4 L69.6 9.9 L74.2 15.2 L74.6 21.1 L73.4 23.3 L73.4 27.8 L78.3 30.5 L83.3 33.6 L87.4 33.2 L94.9 37.6 L99.8 40.8 L103.5 43.9 L112.2 43.9 L115.5 46.6 L118.0 43.0 L121.3 43.0 L126.7 44.4 L130.4 43.9 L134.1 40.8 L139.1 37.6 L142.4 38.5 L145.7 37.2 L147.3 39.9 L150.4 42.3 M83.3 33.6 L80.4 35.8 L79.0 39.9 L82.9 42.1 L87.0 43.9 L92.4 46.6 L97.7 46.6 L102.7 49.7 L107.7 50.6 L112.2 50.6 L112.2 43.9 M115.5 46.6 L115.9 48.4 L119.2 49.3 L124.2 48.8 L128.7 48.6 L126.7 44.4 M150.4 42.3 L148.6 45.2 L149.4 47.5 L145.7 47.0 L141.6 49.7 L139.1 56.0 L139.5 58.2 L137.0 61.8 L133.7 60.9 L134.1 65.4 L132.9 69.4 L130.8 70.4 M116.3 71.2 L115.5 66.8 L114.9 65.0 L114.3 60.0 L112.2 59.1 L112.2 56.0 L113.5 53.8 L113.7 50.0 L117.6 52.4 L119.4 55.6 L121.7 56.2 L128.3 56.0 L130.0 56.9 L129.2 60.0 L125.0 60.9 L125.0 63.2 L125.8 65.4 L126.7 66.1 L129.6 62.7 L129.6 65.4 L130.8 70.3 L129.2 73.5 L129.6 76.2 M150.4 42.3 L153.5 44.8 L156.0 45.7 L156.0 52.4 L151.9 56.9 L151.5 61.4 L156.0 60.9 L156.8 65.0 L159.3 66.3 L158.1 69.9 L162.6 72.6 M162.6 77.7 L157.3 80.2 L153.1 80.6 L151.9 85.6 L150.6 86.0 L154.0 92.7 L155.6 96.8 L154.0 100.8 L157.7 107.1 L158.1 112.4 L159.7 116.0 L156.4 122.3 L156.2 124.1" fill="none" stroke="#1a1a1a" stroke-width="0.55" stroke-opacity="0.85" stroke-linejoin="round"/><path d="M132.0 108.4 L132.5 111.1 L131.6 114.2 L131.2 116.9 M130.4 120.5 L130.6 121.6 M131.6 127.7 L131.4 128.1 M135.8 136.6 L135.4 137.5" fill="none" stroke="#111" stroke-width="1.1" stroke-linecap="round"/><circle cx="38.9" cy="65.9" r="0.9" fill="#111"/><circle cx="116.8" cy="70.3" r="0.9" fill="#111"/>
</svg>
<rect x="207.5" y="10.5" width="160.5" height="135.0" fill="none" stroke="#000" stroke-width="1"/>
<text x="283.20" y="5.80" font-size="8" text-anchor="middle" font-family="&quot;Liberation Serif&quot;, serif" font-weight="bold">(b) Mean SLP (kPa)</text>
<text x="373.80" y="24.80" font-size="10" text-anchor="start" font-family="&quot;Liberation Sans&quot;, sans-serif">35<tspan font-size="5.6" font-weight="bold" dx="0.3" dy="-3.6">°</tspan></text>
<text x="373.80" y="47.20" font-size="10" text-anchor="start" font-family="&quot;Liberation Sans&quot;, sans-serif">30<tspan font-size="5.6" font-weight="bold" dx="0.3" dy="-3.6">°</tspan></text>
<text x="373.80" y="69.60" font-size="10" text-anchor="start" font-family="&quot;Liberation Sans&quot;, sans-serif">25<tspan font-size="5.6" font-weight="bold" dx="0.3" dy="-3.6">°</tspan></text>
<text x="373.80" y="92.00" font-size="10" text-anchor="start" font-family="&quot;Liberation Sans&quot;, sans-serif">20<tspan font-size="5.6" font-weight="bold" dx="0.3" dy="-3.6">°</tspan></text>
<text x="373.80" y="114.40" font-size="10" text-anchor="start" font-family="&quot;Liberation Sans&quot;, sans-serif">15<tspan font-size="5.6" font-weight="bold" dx="0.3" dy="-3.6">°</tspan></text>
<text x="373.80" y="136.80" font-size="10" text-anchor="start" font-family="&quot;Liberation Sans&quot;, sans-serif">10<tspan font-size="5.6" font-weight="bold" dx="0.3" dy="-3.6">°</tspan></text>
<text x="224.19" y="159.70" font-size="10" text-anchor="middle" font-family="&quot;Liberation Sans&quot;, sans-serif">65<tspan font-size="5.6" font-weight="bold" dx="0.3" dy="-3.6">°</tspan></text>
<text x="244.86" y="159.70" font-size="10" text-anchor="middle" font-family="&quot;Liberation Sans&quot;, sans-serif">70<tspan font-size="5.6" font-weight="bold" dx="0.3" dy="-3.6">°</tspan></text>
<text x="265.52" y="159.70" font-size="10" text-anchor="middle" font-family="&quot;Liberation Sans&quot;, sans-serif">75<tspan font-size="5.6" font-weight="bold" dx="0.3" dy="-3.6">°</tspan></text>
<text x="286.19" y="159.70" font-size="10" text-anchor="middle" font-family="&quot;Liberation Sans&quot;, sans-serif">80<tspan font-size="5.6" font-weight="bold" dx="0.3" dy="-3.6">°</tspan></text>
<text x="306.85" y="159.70" font-size="10" text-anchor="middle" font-family="&quot;Liberation Sans&quot;, sans-serif">85<tspan font-size="5.6" font-weight="bold" dx="0.3" dy="-3.6">°</tspan></text>
<text x="327.52" y="159.70" font-size="10" text-anchor="middle" font-family="&quot;Liberation Sans&quot;, sans-serif">90<tspan font-size="5.6" font-weight="bold" dx="0.3" dy="-3.6">°</tspan></text>
<text x="348.18" y="159.70" font-size="10" text-anchor="middle" font-family="&quot;Liberation Sans&quot;, sans-serif">95<tspan font-size="5.6" font-weight="bold" dx="0.3" dy="-3.6">°</tspan></text>
<svg x="394" y="10" width="161" height="136" viewBox="0 0 161 136" overflow="hidden">
<g filter="url(#bl)">
<path fill="#b8e000" d="M-5.1 -5.1h25.4v2.7h-25.4zM105.6 -5.1h10.3v2.7h-10.3zM-5.1 -2.6h25.4v2.7h-25.4zM105.6 -2.6h10.3v2.7h-10.3zM-5.1 -0.1h25.4v2.7h-25.4zM105.6 -0.1h10.3v2.7h-10.3zM-5.1 2.4h25.4v2.7h-25.4zM105.6 2.4h10.3v2.7h-10.3zM-5.1 4.9h15.3v2.7h-15.3zM35.1 4.9h5.2v2.7h-5.2zM95.5 4.9h15.3v2.7h-15.3zM120.7 4.9h5.2v2.7h-5.2zM135.7 4.9h10.3v2.7h-10.3zM150.8 4.9h15.3v2.7h-15.3zM-5.1 7.5h15.3v2.7h-15.3zM35.1 7.5h5.2v2.7h-5.2zM95.5 7.5h15.3v2.7h-15.3zM120.7 7.5h5.2v2.7h-5.2zM135.7 7.5h10.3v2.7h-10.3zM150.8 7.5h15.3v2.7h-15.3zM-5.1 10.0h15.3v2.7h-15.3zM35.1 10.0h5.2v2.7h-5.2zM50.2 10.0h5.2v2.7h-5.2zM115.6 10.0h10.3v2.7h-10.3zM140.8 10.0h5.2v2.7h-5.2zM155.9 10.0h10.3v2.7h-10.3zM-5.1 12.5h15.3v2.7h-15.3zM35.1 12.5h5.2v2.7h-5.2zM50.2 12.5h5.2v2.7h-5.2zM115.6 12.5h10.3v2.7h-10.3zM140.8 12.5h5.2v2.7h-5.2zM155.9 12.5h10.3v2.7h-10.3zM-5.1 15.0h10.3v2.7h-10.3zM30.1 15.0h5.2v2.7h-5.2zM60.3 15.0h5.2v2.7h-5.2zM140.8 15.0h10.3v2.7h-10.3zM155.9 15.0h10.3v2.7h-10.3zM-5.1 17.5h10.3v2.7h-10.3zM30.1 17.5h5.2v2.7h-5.2zM60.3 17.5h5.2v2.7h-5.2zM140.8 17.5h10.3v2.7h-10.3zM155.9 17.5h10.3v2.7h-10.3zM-5.1 20.0h10.3v2.7h-10.3zM30.1 20.0h5.2v2.7h-5.2zM65.3 20.0h5.2v2.7h-5.2zM150.8 20.0h5.2v2.7h-5.2zM-5.1 22.6h10.3v2.7h-10.3zM30.1 22.6h5.2v2.7h-5.2zM65.3 22.6h5.2v2.7h-5.2zM150.8 22.6h5.2v2.7h-5.2zM-5.1 25.1h10.3v2.7h-10.3zM25.1 25.1h5.2v2.7h-5.2zM70.3 25.1h5.2v2.7h-5.2zM-5.1 27.6h10.3v2.7h-10.3zM25.1 27.6h5.2v2.7h-5.2zM70.3 27.6h5.2v2.7h-5.2zM-5.1 30.1h10.3v2.7h-10.3zM25.1 30.1h5.2v2.7h-5.2zM-5.1 32.6h10.3v2.7h-10.3zM25.1 32.6h5.2v2.7h-5.2zM20.0 35.2h5.2v2.7h-5.2zM145.8 35.2h5.2v2.7h-5.2zM20.0 37.7h5.2v2.7h-5.2zM145.8 37.7h5.2v2.7h-5.2zM4.9 40.2h20.3v2.7h-20.3zM4.9 42.7h20.3v2.7h-20.3zM10.0 45.2h15.3v2.7h-15.3zM55.2 45.2h5.2v2.7h-5.2zM10.0 47.8h15.3v2.7h-15.3zM55.2 47.8h5.2v2.7h-5.2zM30.1 50.3h15.3v2.7h-15.3zM145.8 50.3h5.2v2.7h-5.2zM30.1 52.8h15.3v2.7h-15.3zM145.8 52.8h5.2v2.7h-5.2zM35.1 55.3h25.4v2.7h-25.4zM140.8 55.3h15.3v2.7h-15.3zM35.1 57.8h25.4v2.7h-25.4zM140.8 57.8h15.3v2.7h-15.3zM55.2 60.3h35.4v2.7h-35.4zM105.6 60.3h50.5v2.7h-50.5zM55.2 62.9h35.4v2.7h-35.4zM105.6 62.9h50.5v2.7h-50.5zM90.5 65.4h15.3v2.7h-15.3zM140.8 65.4h15.3v2.7h-15.3zM90.5 67.9h15.3v2.7h-15.3zM140.8 67.9h15.3v2.7h-15.3zM135.7 70.4h10.3v2.7h-10.3zM135.7 72.9h10.3v2.7h-10.3zM145.8 75.5h10.3v2.7h-10.3zM145.8 78.0h10.3v2.7h-10.3z"/>
<path fill="#78d010" d="M20.0 -5.1h15.3v2.7h-15.3zM20.0 -2.6h15.3v2.7h-15.3zM20.0 -0.1h15.3v2.7h-15.3zM20.0 2.4h15.3v2.7h-15.3zM10.0 4.9h5.2v2.7h-5.2zM30.1 4.9h5.2v2.7h-5.2zM40.1 4.9h5.2v2.7h-5.2zM90.5 4.9h5.2v2.7h-5.2zM145.8 4.9h5.2v2.7h-5.2zM10.0 7.5h5.2v2.7h-5.2zM30.1 7.5h5.2v2.7h-5.2zM40.1 7.5h5.2v2.7h-5.2zM90.5 7.5h5.2v2.7h-5.2zM145.8 7.5h5.2v2.7h-5.2zM30.1 10.0h5.2v2.7h-5.2zM90.5 10.0h5.2v2.7h-5.2zM145.8 10.0h10.3v2.7h-10.3zM30.1 12.5h5.2v2.7h-5.2zM90.5 12.5h5.2v2.7h-5.2zM145.8 12.5h10.3v2.7h-10.3zM10.0 15.0h5.2v2.7h-5.2zM25.1 15.0h5.2v2.7h-5.2zM85.4 15.0h5.2v2.7h-5.2zM150.8 15.0h5.2v2.7h-5.2zM10.0 17.5h5.2v2.7h-5.2zM25.1 17.5h5.2v2.7h-5.2zM85.4 17.5h5.2v2.7h-5.2zM150.8 17.5h5.2v2.7h-5.2zM85.4 20.0h5.2v2.7h-5.2zM85.4 22.6h5.2v2.7h-5.2zM90.5 25.1h5.2v2.7h-5.2zM150.8 25.1h5.2v2.7h-5.2zM90.5 27.6h5.2v2.7h-5.2zM150.8 27.6h5.2v2.7h-5.2zM105.6 30.1h5.2v2.7h-5.2zM155.9 30.1h10.3v2.7h-10.3zM105.6 32.6h5.2v2.7h-5.2zM155.9 32.6h10.3v2.7h-10.3zM-5.1 35.2h10.3v2.7h-10.3zM80.4 35.2h5.2v2.7h-5.2zM135.7 35.2h5.2v2.7h-5.2zM-5.1 37.7h10.3v2.7h-10.3zM80.4 37.7h5.2v2.7h-5.2zM135.7 37.7h5.2v2.7h-5.2zM-5.1 40.2h10.3v2.7h-10.3zM90.5 40.2h5.2v2.7h-5.2zM110.6 40.2h5.2v2.7h-5.2zM125.7 40.2h10.3v2.7h-10.3zM150.8 40.2h5.2v2.7h-5.2zM-5.1 42.7h10.3v2.7h-10.3zM90.5 42.7h5.2v2.7h-5.2zM110.6 42.7h5.2v2.7h-5.2zM125.7 42.7h10.3v2.7h-10.3zM150.8 42.7h5.2v2.7h-5.2zM-5.1 45.2h15.3v2.7h-15.3zM150.8 45.2h5.2v2.7h-5.2zM-5.1 47.8h15.3v2.7h-15.3zM150.8 47.8h5.2v2.7h-5.2zM10.0 50.3h20.3v2.7h-20.3zM150.8 50.3h15.3v2.7h-15.3zM10.0 52.8h20.3v2.7h-20.3zM150.8 52.8h15.3v2.7h-15.3zM15.0 55.3h20.3v2.7h-20.3zM155.9 55.3h10.3v2.7h-10.3zM15.0 57.8h20.3v2.7h-20.3zM155.9 57.8h10.3v2.7h-10.3zM25.1 60.3h30.4v2.7h-30.4zM155.9 60.3h10.3v2.7h-10.3zM25.1 62.9h30.4v2.7h-30.4zM155.9 62.9h10.3v2.7h-10.3zM40.1 65.4h50.5v2.7h-50.5zM105.6 65.4h35.4v2.7h-35.4zM155.9 65.4h10.3v2.7h-10.3zM40.1 67.9h50.5v2.7h-50.5zM105.6 67.9h35.4v2.7h-35.4zM155.9 67.9h10.3v2.7h-10.3zM130.7 70.4h5.2v2.7h-5.2zM130.7 72.9h5.2v2.7h-5.2zM135.7 75.5h10.3v2.7h-10.3zM135.7 78.0h10.3v2.7h-10.3zM150.8 80.5h15.3v2.7h-15.3zM150.8 83.0h15.3v2.7h-15.3z"/>
<path fill="#30b01c" d="M35.1 -5.1h5.2v2.7h-5.2zM35.1 -2.6h5.2v2.7h-5.2zM35.1 -0.1h5.2v2.7h-5.2zM35.1 2.4h5.2v2.7h-5.2zM15.0 4.9h5.2v2.7h-5.2zM80.4 4.9h10.3v2.7h-10.3zM15.0 7.5h5.2v2.7h-5.2zM80.4 7.5h10.3v2.7h-10.3zM10.0 10.0h5.2v2.7h-5.2zM55.2 10.0h5.2v2.7h-5.2zM85.4 10.0h5.2v2.7h-5.2zM10.0 12.5h5.2v2.7h-5.2zM55.2 12.5h5.2v2.7h-5.2zM85.4 12.5h5.2v2.7h-5.2zM15.0 15.0h10.3v2.7h-10.3zM15.0 17.5h10.3v2.7h-10.3zM70.3 20.0h5.2v2.7h-5.2zM135.7 20.0h5.2v2.7h-5.2zM145.8 20.0h5.2v2.7h-5.2zM70.3 22.6h5.2v2.7h-5.2zM135.7 22.6h5.2v2.7h-5.2zM145.8 22.6h5.2v2.7h-5.2zM75.4 25.1h5.2v2.7h-5.2zM130.7 25.1h5.2v2.7h-5.2zM75.4 27.6h5.2v2.7h-5.2zM130.7 27.6h5.2v2.7h-5.2zM140.8 30.1h5.2v2.7h-5.2zM150.8 30.1h5.2v2.7h-5.2zM140.8 32.6h5.2v2.7h-5.2zM150.8 32.6h5.2v2.7h-5.2zM105.6 35.2h5.2v2.7h-5.2zM130.7 35.2h5.2v2.7h-5.2zM150.8 35.2h5.2v2.7h-5.2zM105.6 37.7h5.2v2.7h-5.2zM130.7 37.7h5.2v2.7h-5.2zM150.8 37.7h5.2v2.7h-5.2zM100.5 40.2h10.3v2.7h-10.3zM155.9 40.2h10.3v2.7h-10.3zM100.5 42.7h10.3v2.7h-10.3zM155.9 42.7h10.3v2.7h-10.3zM155.9 45.2h10.3v2.7h-10.3zM155.9 47.8h10.3v2.7h-10.3zM-5.1 50.3h15.3v2.7h-15.3zM-5.1 52.8h15.3v2.7h-15.3zM-5.1 55.3h20.3v2.7h-20.3zM-5.1 57.8h20.3v2.7h-20.3zM-5.1 60.3h30.4v2.7h-30.4zM-5.1 62.9h30.4v2.7h-30.4zM4.9 65.4h20.3v2.7h-20.3zM4.9 67.9h20.3v2.7h-20.3zM30.1 70.4h10.3v2.7h-10.3zM30.1 72.9h10.3v2.7h-10.3zM40.1 75.5h10.3v2.7h-10.3zM40.1 78.0h10.3v2.7h-10.3zM45.2 80.5h5.2v2.7h-5.2zM70.3 80.5h70.6v2.7h-70.6zM45.2 83.0h5.2v2.7h-5.2zM70.3 83.0h70.6v2.7h-70.6zM50.2 85.5h5.2v2.7h-5.2zM60.3 85.5h5.2v2.7h-5.2zM90.5 85.5h5.2v2.7h-5.2zM110.6 85.5h25.4v2.7h-25.4zM50.2 88.0h5.2v2.7h-5.2zM60.3 88.0h5.2v2.7h-5.2zM90.5 88.0h5.2v2.7h-5.2zM110.6 88.0h25.4v2.7h-25.4zM50.2 90.6h5.2v2.7h-5.2zM60.3 90.6h5.2v2.7h-5.2zM115.6 90.6h25.4v2.7h-25.4zM50.2 93.1h5.2v2.7h-5.2zM60.3 93.1h5.2v2.7h-5.2zM115.6 93.1h25.4v2.7h-25.4zM50.2 95.6h5.2v2.7h-5.2zM60.3 95.6h5.2v2.7h-5.2zM120.7 95.6h15.3v2.7h-15.3zM50.2 98.1h5.2v2.7h-5.2zM60.3 98.1h5.2v2.7h-5.2zM120.7 98.1h15.3v2.7h-15.3zM50.2 100.6h5.2v2.7h-5.2zM65.3 100.6h5.2v2.7h-5.2zM110.6 100.6h25.4v2.7h-25.4zM155.9 100.6h10.3v2.7h-10.3zM50.2 103.2h5.2v2.7h-5.2zM65.3 103.2h5.2v2.7h-5.2zM110.6 103.2h25.4v2.7h-25.4zM155.9 103.2h10.3v2.7h-10.3zM50.2 105.7h5.2v2.7h-5.2zM70.3 105.7h10.3v2.7h-10.3zM90.5 105.7h45.5v2.7h-45.5zM155.9 105.7h10.3v2.7h-10.3zM50.2 108.2h5.2v2.7h-5.2zM70.3 108.2h10.3v2.7h-10.3zM90.5 108.2h45.5v2.7h-45.5zM155.9 108.2h10.3v2.7h-10.3zM45.2 110.7h10.3v2.7h-10.3zM80.4 110.7h55.5v2.7h-55.5zM150.8 110.7h15.3v2.7h-15.3zM45.2 113.2h10.3v2.7h-10.3zM80.4 113.2h55.5v2.7h-55.5zM150.8 113.2h15.3v2.7h-15.3zM45.2 115.8h5.2v2.7h-5.2zM80.4 115.8h85.7v2.7h-85.7zM45.2 118.3h5.2v2.7h-5.2zM80.4 118.3h85.7v2.7h-85.7zM40.1 120.8h10.3v2.7h-10.3zM80.4 120.8h85.7v2.7h-85.7zM40.1 123.3h10.3v2.7h-10.3zM80.4 123.3h85.7v2.7h-85.7zM35.1 125.8h10.3v2.7h-10.3zM80.4 125.8h85.7v2.7h-85.7zM35.1 128.3h10.3v2.7h-10.3zM80.4 128.3h85.7v2.7h-85.7zM-5.1 130.9h45.5v2.7h-45.5zM80.4 130.9h85.7v2.7h-85.7zM-5.1 133.4h45.5v2.7h-45.5zM80.4 133.4h85.7v2.7h-85.7zM-5.1 135.9h45.5v2.7h-45.5zM80.4 135.9h85.7v2.7h-85.7zM-5.1 138.4h45.5v2.7h-45.5zM80.4 138.4h85.7v2.7h-85.7z"/>
<path fill="#10cc90" d="M40.1 -5.1h5.2v2.7h-5.2zM40.1 -2.6h5.2v2.7h-5.2zM40.1 -0.1h5.2v2.7h-5.2zM40.1 2.4h5.2v2.7h-5.2zM45.2 4.9h5.2v2.7h-5.2zM55.2 4.9h5.2v2.7h-5.2zM45.2 7.5h5.2v2.7h-5.2zM55.2 7.5h5.2v2.7h-5.2zM20.0 10.0h5.2v2.7h-5.2zM80.4 10.0h5.2v2.7h-5.2zM20.0 12.5h5.2v2.7h-5.2zM80.4 12.5h5.2v2.7h-5.2zM65.3 15.0h5.2v2.7h-5.2zM80.4 15.0h5.2v2.7h-5.2zM65.3 17.5h5.2v2.7h-5.2zM80.4 17.5h5.2v2.7h-5.2zM80.4 20.0h5.2v2.7h-5.2zM80.4 22.6h5.2v2.7h-5.2zM85.4 25.1h5.2v2.7h-5.2zM140.8 25.1h5.2v2.7h-5.2zM85.4 27.6h5.2v2.7h-5.2zM140.8 27.6h5.2v2.7h-5.2zM95.5 30.1h10.3v2.7h-10.3zM95.5 32.6h10.3v2.7h-10.3zM100.5 35.2h5.2v2.7h-5.2zM100.5 37.7h5.2v2.7h-5.2zM95.5 40.2h5.2v2.7h-5.2zM95.5 42.7h5.2v2.7h-5.2z"/>
<path fill="#10e0e8" d="M45.2 -5.1h20.3v2.7h-20.3zM70.3 -5.1h5.2v2.7h-5.2zM45.2 -2.6h20.3v2.7h-20.3zM70.3 -2.6h5.2v2.7h-5.2zM45.2 -0.1h20.3v2.7h-20.3zM70.3 -0.1h5.2v2.7h-5.2zM45.2 2.4h20.3v2.7h-20.3zM70.3 2.4h5.2v2.7h-5.2zM50.2 4.9h5.2v2.7h-5.2zM50.2 7.5h5.2v2.7h-5.2zM60.3 10.0h5.2v2.7h-5.2zM60.3 12.5h5.2v2.7h-5.2zM75.4 20.0h5.2v2.7h-5.2zM75.4 22.6h5.2v2.7h-5.2zM90.5 30.1h5.2v2.7h-5.2zM90.5 32.6h5.2v2.7h-5.2zM85.4 35.2h15.3v2.7h-15.3zM85.4 37.7h15.3v2.7h-15.3z"/>
<path fill="#2494f0" d="M65.3 -5.1h5.2v2.7h-5.2zM65.3 -2.6h5.2v2.7h-5.2zM65.3 -0.1h5.2v2.7h-5.2zM65.3 2.4h5.2v2.7h-5.2zM60.3 4.9h5.2v2.7h-5.2zM75.4 4.9h5.2v2.7h-5.2zM60.3 7.5h5.2v2.7h-5.2zM75.4 7.5h5.2v2.7h-5.2zM75.4 10.0h5.2v2.7h-5.2zM75.4 12.5h5.2v2.7h-5.2zM70.3 15.0h10.3v2.7h-10.3zM70.3 17.5h10.3v2.7h-10.3zM80.4 25.1h5.2v2.7h-5.2zM80.4 27.6h5.2v2.7h-5.2zM85.4 30.1h5.2v2.7h-5.2zM85.4 32.6h5.2v2.7h-5.2z"/>
<path fill="#ff8400" d="M75.4 -5.1h10.3v2.7h-10.3zM90.5 -5.1h5.2v2.7h-5.2zM125.7 -5.1h5.2v2.7h-5.2zM75.4 -2.6h10.3v2.7h-10.3zM90.5 -2.6h5.2v2.7h-5.2zM125.7 -2.6h5.2v2.7h-5.2zM75.4 -0.1h10.3v2.7h-10.3zM90.5 -0.1h5.2v2.7h-5.2zM125.7 -0.1h5.2v2.7h-5.2zM75.4 2.4h10.3v2.7h-10.3zM90.5 2.4h5.2v2.7h-5.2zM125.7 2.4h5.2v2.7h-5.2zM130.7 4.9h5.2v2.7h-5.2zM130.7 7.5h5.2v2.7h-5.2zM100.5 10.0h5.2v2.7h-5.2zM100.5 12.5h5.2v2.7h-5.2zM90.5 15.0h5.2v2.7h-5.2zM115.6 15.0h10.3v2.7h-10.3zM90.5 17.5h5.2v2.7h-5.2zM115.6 17.5h10.3v2.7h-10.3zM90.5 20.0h5.2v2.7h-5.2zM90.5 22.6h5.2v2.7h-5.2zM155.9 25.1h10.3v2.7h-10.3zM155.9 27.6h10.3v2.7h-10.3zM75.4 30.1h5.2v2.7h-5.2zM115.6 30.1h5.2v2.7h-5.2zM75.4 32.6h5.2v2.7h-5.2zM115.6 32.6h5.2v2.7h-5.2zM75.4 35.2h5.2v2.7h-5.2zM75.4 37.7h5.2v2.7h-5.2zM80.4 45.2h15.3v2.7h-15.3zM80.4 47.8h15.3v2.7h-15.3z"/>
<path fill="#e81c18" d="M85.4 -5.1h5.2v2.7h-5.2zM130.7 -5.1h5.2v2.7h-5.2zM155.9 -5.1h10.3v2.7h-10.3zM85.4 -2.6h5.2v2.7h-5.2zM130.7 -2.6h5.2v2.7h-5.2zM155.9 -2.6h10.3v2.7h-10.3zM85.4 -0.1h5.2v2.7h-5.2zM130.7 -0.1h5.2v2.7h-5.2zM155.9 -0.1h10.3v2.7h-10.3zM85.4 2.4h5.2v2.7h-5.2zM130.7 2.4h5.2v2.7h-5.2zM155.9 2.4h10.3v2.7h-10.3zM125.7 10.0h10.3v2.7h-10.3zM125.7 12.5h10.3v2.7h-10.3zM95.5 15.0h20.3v2.7h-20.3zM125.7 15.0h10.3v2.7h-10.3zM95.5 17.5h20.3v2.7h-20.3zM125.7 17.5h10.3v2.7h-10.3zM95.5 20.0h10.3v2.7h-10.3zM125.7 20.0h5.2v2.7h-5.2zM95.5 22.6h10.3v2.7h-10.3zM125.7 22.6h5.2v2.7h-5.2zM100.5 25.1h5.2v2.7h-5.2zM125.7 25.1h5.2v2.7h-5.2zM100.5 27.6h5.2v2.7h-5.2zM125.7 27.6h5.2v2.7h-5.2zM120.7 30.1h15.3v2.7h-15.3zM120.7 32.6h15.3v2.7h-15.3zM115.6 35.2h5.2v2.7h-5.2zM115.6 37.7h5.2v2.7h-5.2z"/>
<path fill="#e6e408" d="M95.5 -5.1h10.3v2.7h-10.3zM115.6 -5.1h10.3v2.7h-10.3zM95.5 -2.6h10.3v2.7h-10.3zM115.6 -2.6h10.3v2.7h-10.3zM95.5 -0.1h10.3v2.7h-10.3zM115.6 -0.1h10.3v2.7h-10.3zM95.5 2.4h10.3v2.7h-10.3zM115.6 2.4h10.3v2.7h-10.3zM110.6 4.9h10.3v2.7h-10.3zM125.7 4.9h5.2v2.7h-5.2zM110.6 7.5h10.3v2.7h-10.3zM125.7 7.5h5.2v2.7h-5.2zM95.5 10.0h5.2v2.7h-5.2zM105.6 10.0h10.3v2.7h-10.3zM135.7 10.0h5.2v2.7h-5.2zM95.5 12.5h5.2v2.7h-5.2zM105.6 12.5h10.3v2.7h-10.3zM135.7 12.5h5.2v2.7h-5.2zM4.9 15.0h5.2v2.7h-5.2zM35.1 15.0h5.2v2.7h-5.2zM135.7 15.0h5.2v2.7h-5.2zM4.9 17.5h5.2v2.7h-5.2zM35.1 17.5h5.2v2.7h-5.2zM135.7 17.5h5.2v2.7h-5.2zM20.0 20.0h10.3v2.7h-10.3zM130.7 20.0h5.2v2.7h-5.2zM155.9 20.0h10.3v2.7h-10.3zM20.0 22.6h10.3v2.7h-10.3zM130.7 22.6h5.2v2.7h-5.2zM155.9 22.6h10.3v2.7h-10.3zM20.0 25.1h5.2v2.7h-5.2zM30.1 25.1h5.2v2.7h-5.2zM95.5 25.1h5.2v2.7h-5.2zM20.0 27.6h5.2v2.7h-5.2zM30.1 27.6h5.2v2.7h-5.2zM95.5 27.6h5.2v2.7h-5.2zM4.9 30.1h20.3v2.7h-20.3zM110.6 30.1h5.2v2.7h-5.2zM135.7 30.1h5.2v2.7h-5.2zM4.9 32.6h20.3v2.7h-20.3zM110.6 32.6h5.2v2.7h-5.2zM135.7 32.6h5.2v2.7h-5.2zM4.9 35.2h15.3v2.7h-15.3zM50.2 35.2h25.4v2.7h-25.4zM125.7 35.2h5.2v2.7h-5.2zM140.8 35.2h5.2v2.7h-5.2zM4.9 37.7h15.3v2.7h-15.3zM50.2 37.7h25.4v2.7h-25.4zM125.7 37.7h5.2v2.7h-5.2zM140.8 37.7h5.2v2.7h-5.2zM45.2 40.2h35.4v2.7h-35.4zM85.4 40.2h5.2v2.7h-5.2zM115.6 40.2h10.3v2.7h-10.3zM135.7 40.2h5.2v2.7h-5.2zM45.2 42.7h35.4v2.7h-35.4zM85.4 42.7h5.2v2.7h-5.2zM115.6 42.7h10.3v2.7h-10.3zM135.7 42.7h5.2v2.7h-5.2zM25.1 45.2h30.4v2.7h-30.4zM60.3 45.2h20.3v2.7h-20.3zM135.7 45.2h15.3v2.7h-15.3zM25.1 47.8h30.4v2.7h-30.4zM60.3 47.8h20.3v2.7h-20.3zM135.7 47.8h15.3v2.7h-15.3zM45.2 50.3h45.5v2.7h-45.5zM125.7 50.3h20.3v2.7h-20.3zM45.2 52.8h45.5v2.7h-45.5zM125.7 52.8h20.3v2.7h-20.3zM60.3 55.3h80.7v2.7h-80.7zM60.3 57.8h80.7v2.7h-80.7zM90.5 60.3h15.3v2.7h-15.3zM90.5 62.9h15.3v2.7h-15.3zM145.8 70.4h10.3v2.7h-10.3zM145.8 72.9h10.3v2.7h-10.3zM155.9 75.5h10.3v2.7h-10.3zM155.9 78.0h10.3v2.7h-10.3z"/>
<path fill="#b01414" d="M135.7 -5.1h20.3v2.7h-20.3zM135.7 -2.6h20.3v2.7h-20.3zM135.7 -0.1h20.3v2.7h-20.3zM135.7 2.4h20.3v2.7h-20.3zM105.6 20.0h5.2v2.7h-5.2zM120.7 20.0h5.2v2.7h-5.2zM105.6 22.6h5.2v2.7h-5.2zM120.7 22.6h5.2v2.7h-5.2zM105.6 25.1h5.2v2.7h-5.2zM120.7 25.1h5.2v2.7h-5.2zM105.6 27.6h5.2v2.7h-5.2zM120.7 27.6h5.2v2.7h-5.2zM110.6 35.2h5.2v2.7h-5.2zM120.7 35.2h5.2v2.7h-5.2zM110.6 37.7h5.2v2.7h-5.2zM120.7 37.7h5.2v2.7h-5.2z"/>
<path fill="#14903a" d="M20.0 4.9h10.3v2.7h-10.3zM20.0 7.5h10.3v2.7h-10.3zM15.0 10.0h5.2v2.7h-5.2zM25.1 10.0h5.2v2.7h-5.2zM15.0 12.5h5.2v2.7h-5.2zM25.1 12.5h5.2v2.7h-5.2zM140.8 20.0h5.2v2.7h-5.2zM140.8 22.6h5.2v2.7h-5.2zM135.7 25.1h5.2v2.7h-5.2zM145.8 25.1h5.2v2.7h-5.2zM135.7 27.6h5.2v2.7h-5.2zM145.8 27.6h5.2v2.7h-5.2zM145.8 30.1h5.2v2.7h-5.2zM145.8 32.6h5.2v2.7h-5.2zM155.9 35.2h10.3v2.7h-10.3zM155.9 37.7h10.3v2.7h-10.3zM-5.1 65.4h10.3v2.7h-10.3zM-5.1 67.9h10.3v2.7h-10.3zM-5.1 70.4h10.3v2.7h-10.3zM25.1 70.4h5.2v2.7h-5.2zM-5.1 72.9h10.3v2.7h-10.3zM25.1 72.9h5.2v2.7h-5.2zM30.1 75.5h10.3v2.7h-10.3zM30.1 78.0h10.3v2.7h-10.3zM35.1 80.5h10.3v2.7h-10.3zM35.1 83.0h10.3v2.7h-10.3zM40.1 85.5h10.3v2.7h-10.3zM65.3 85.5h25.4v2.7h-25.4zM95.5 85.5h15.3v2.7h-15.3zM40.1 88.0h10.3v2.7h-10.3zM65.3 88.0h25.4v2.7h-25.4zM95.5 88.0h15.3v2.7h-15.3zM40.1 90.6h10.3v2.7h-10.3zM65.3 90.6h50.5v2.7h-50.5zM40.1 93.1h10.3v2.7h-10.3zM65.3 93.1h50.5v2.7h-50.5zM35.1 95.6h15.3v2.7h-15.3zM65.3 95.6h55.5v2.7h-55.5zM35.1 98.1h15.3v2.7h-15.3zM65.3 98.1h55.5v2.7h-55.5zM35.1 100.6h15.3v2.7h-15.3zM70.3 100.6h40.5v2.7h-40.5zM35.1 103.2h15.3v2.7h-15.3zM70.3 103.2h40.5v2.7h-40.5zM30.1 105.7h20.3v2.7h-20.3zM80.4 105.7h10.3v2.7h-10.3zM30.1 108.2h20.3v2.7h-20.3zM80.4 108.2h10.3v2.7h-10.3zM20.0 110.7h25.4v2.7h-25.4zM20.0 113.2h25.4v2.7h-25.4zM10.0 115.8h35.4v2.7h-35.4zM10.0 118.3h35.4v2.7h-35.4zM-5.1 120.8h45.5v2.7h-45.5zM-5.1 123.3h45.5v2.7h-45.5zM-5.1 125.8h40.5v2.7h-40.5zM-5.1 128.3h40.5v2.7h-40.5z"/>
<path fill="#1830d8" d="M65.3 4.9h10.3v2.7h-10.3zM65.3 7.5h10.3v2.7h-10.3zM65.3 10.0h10.3v2.7h-10.3zM65.3 12.5h10.3v2.7h-10.3zM80.4 30.1h5.2v2.7h-5.2zM80.4 32.6h5.2v2.7h-5.2z"/>
<path fill="#f4a818" d="M40.1 10.0h10.3v2.7h-10.3zM40.1 12.5h10.3v2.7h-10.3zM40.1 15.0h20.3v2.7h-20.3zM40.1 17.5h20.3v2.7h-20.3zM4.9 20.0h15.3v2.7h-15.3zM35.1 20.0h30.4v2.7h-30.4zM4.9 22.6h15.3v2.7h-15.3zM35.1 22.6h30.4v2.7h-30.4zM4.9 25.1h15.3v2.7h-15.3zM35.1 25.1h35.4v2.7h-35.4zM4.9 27.6h15.3v2.7h-15.3zM35.1 27.6h35.4v2.7h-35.4zM30.1 30.1h45.5v2.7h-45.5zM30.1 32.6h45.5v2.7h-45.5zM25.1 35.2h25.4v2.7h-25.4zM25.1 37.7h25.4v2.7h-25.4zM25.1 40.2h20.3v2.7h-20.3zM80.4 40.2h5.2v2.7h-5.2zM140.8 40.2h10.3v2.7h-10.3zM25.1 42.7h20.3v2.7h-20.3zM80.4 42.7h5.2v2.7h-5.2zM140.8 42.7h10.3v2.7h-10.3zM95.5 45.2h40.5v2.7h-40.5zM95.5 47.8h40.5v2.7h-40.5zM90.5 50.3h35.4v2.7h-35.4zM90.5 52.8h35.4v2.7h-35.4zM155.9 70.4h10.3v2.7h-10.3zM155.9 72.9h10.3v2.7h-10.3z"/>
<path fill="#984040" d="M110.6 20.0h10.3v2.7h-10.3zM110.6 22.6h10.3v2.7h-10.3zM110.6 25.1h10.3v2.7h-10.3zM110.6 27.6h10.3v2.7h-10.3z"/>
<path fill="#48bc18" d="M25.1 65.4h15.3v2.7h-15.3zM25.1 67.9h15.3v2.7h-15.3zM40.1 70.4h90.8v2.7h-90.8zM40.1 72.9h90.8v2.7h-90.8zM50.2 75.5h85.7v2.7h-85.7zM50.2 78.0h85.7v2.7h-85.7zM50.2 80.5h20.3v2.7h-20.3zM140.8 80.5h10.3v2.7h-10.3zM50.2 83.0h20.3v2.7h-20.3zM140.8 83.0h10.3v2.7h-10.3zM55.2 85.5h5.2v2.7h-5.2zM135.7 85.5h30.4v2.7h-30.4zM55.2 88.0h5.2v2.7h-5.2zM135.7 88.0h30.4v2.7h-30.4zM55.2 90.6h5.2v2.7h-5.2zM140.8 90.6h25.4v2.7h-25.4zM55.2 93.1h5.2v2.7h-5.2zM140.8 93.1h25.4v2.7h-25.4zM55.2 95.6h5.2v2.7h-5.2zM135.7 95.6h30.4v2.7h-30.4zM55.2 98.1h5.2v2.7h-5.2zM135.7 98.1h30.4v2.7h-30.4zM55.2 100.6h10.3v2.7h-10.3zM135.7 100.6h20.3v2.7h-20.3zM55.2 103.2h10.3v2.7h-10.3zM135.7 103.2h20.3v2.7h-20.3zM55.2 105.7h15.3v2.7h-15.3zM135.7 105.7h20.3v2.7h-20.3zM55.2 108.2h15.3v2.7h-15.3zM135.7 108.2h20.3v2.7h-20.3zM55.2 110.7h25.4v2.7h-25.4zM135.7 110.7h15.3v2.7h-15.3zM55.2 113.2h25.4v2.7h-25.4zM135.7 113.2h15.3v2.7h-15.3zM50.2 115.8h30.4v2.7h-30.4zM50.2 118.3h30.4v2.7h-30.4zM50.2 120.8h30.4v2.7h-30.4zM50.2 123.3h30.4v2.7h-30.4zM45.2 125.8h35.4v2.7h-35.4zM45.2 128.3h35.4v2.7h-35.4zM40.1 130.9h40.5v2.7h-40.5zM40.1 133.4h40.5v2.7h-40.5zM40.1 135.9h40.5v2.7h-40.5zM40.1 138.4h40.5v2.7h-40.5z"/>
<path fill="#1ea868" d="M4.9 70.4h20.3v2.7h-20.3zM4.9 72.9h20.3v2.7h-20.3zM-5.1 75.5h35.4v2.7h-35.4zM-5.1 78.0h35.4v2.7h-35.4zM-5.1 80.5h40.5v2.7h-40.5zM-5.1 83.0h40.5v2.7h-40.5zM-5.1 85.5h45.5v2.7h-45.5zM-5.1 88.0h45.5v2.7h-45.5zM-5.1 90.6h45.5v2.7h-45.5zM-5.1 93.1h45.5v2.7h-45.5zM-5.1 95.6h40.5v2.7h-40.5zM-5.1 98.1h40.5v2.7h-40.5zM-5.1 100.6h40.5v2.7h-40.5zM-5.1 103.2h40.5v2.7h-40.5zM-5.1 105.7h35.4v2.7h-35.4zM-5.1 108.2h35.4v2.7h-35.4zM-5.1 110.7h25.4v2.7h-25.4zM-5.1 113.2h25.4v2.7h-25.4zM-5.1 115.8h15.3v2.7h-15.3zM-5.1 118.3h15.3v2.7h-15.3z"/>
</g><g filter="url(#bl3)" fill="none" stroke-linecap="butt" stroke-linejoin="round"><path d="M48.4 6.0Q50.5 8.7 52.3 11.3Q54.2 14.0 58.6 18.4Q63.1 22.8 67.5 25.5Q72.0 28.2 76.6 30.9Q81.2 33.7 85.7 35.4Q90.2 37.2 94.6 38.6Q99.1 39.9 103.5 40.6L108.0 41.3" stroke="#10e0e8" stroke-width="4.0"/><path d="M46.5 7.5Q48.6 10.1 50.5 12.8Q52.4 15.6 57.0 20.1Q61.6 24.7 66.2 27.5Q70.8 30.3 75.4 33.0Q80.1 35.8 84.7 37.7Q89.4 39.5 93.9 40.9Q98.5 42.3 103.1 43.0Q107.7 43.7 112.3 44.0Q116.8 44.3 121.4 43.6Q125.9 42.9 129.6 41.9L133.3 40.9" stroke="#30c030" stroke-width="1.6"/><path d="M45.6 8.2Q47.7 10.8 49.6 13.5Q51.6 16.3 56.2 20.9Q60.9 25.6 65.5 28.4Q70.2 31.2 74.9 34.0Q79.6 36.8 84.3 38.7Q89.0 40.5 93.6 41.9Q98.3 43.4 102.9 44.1Q107.6 44.8 112.3 45.1Q116.9 45.4 121.5 44.7Q126.1 43.9 129.9 43.0Q133.6 42.0 137.4 40.8Q141.2 39.6 143.3 38.9L145.4 38.3" stroke="#e6e408" stroke-width="1.0"/><path d="M43.8 9.6Q45.8 12.1 47.8 15.0Q49.9 17.8 54.7 22.6Q59.5 27.4 64.2 30.3Q69.0 33.2 73.8 36.0Q78.6 38.9 83.4 40.8Q88.2 42.7 93.0 44.1Q97.8 45.6 102.6 46.3Q107.4 47.1 112.2 47.4Q117.0 47.7 121.8 46.9Q126.5 46.2 130.4 45.2Q134.3 44.2 138.1 43.0Q141.9 41.8 144.0 41.1L146.1 40.5" stroke="#f89010" stroke-width="3.6"/><path d="M41.7 11.3Q43.7 13.7 45.7 16.7Q47.8 19.6 52.8 24.5Q57.8 29.5 62.7 32.5Q67.6 35.5 72.5 38.4Q77.4 41.3 82.4 43.3Q87.3 45.2 92.2 46.7Q97.1 48.2 102.1 49.0Q107.1 49.8 112.1 50.1Q117.1 50.4 122.1 49.6Q127.1 48.8 131.0 47.8Q135.0 46.8 138.8 45.6Q142.7 44.4 144.8 43.7L146.9 43.1" stroke="#f4c010" stroke-width="1.6"/></g><path d="M0.2 56.2 L2.7 56.0 L5.6 56.0 L8.5 55.8 L10.5 55.6 L13.0 55.3 L15.1 56.0 L17.6 55.6 L19.6 55.1 L22.1 54.7 L23.8 56.0 L23.6 57.6 L25.8 58.7 L26.7 60.9 L28.7 62.3 L30.0 62.7 L31.6 64.5 L34.1 66.5 L36.2 67.0 L38.6 66.1 L39.5 65.4 L38.2 67.6 L36.2 68.5 L33.3 69.0 L34.1 70.8 L35.8 72.6 L37.8 74.8 L40.7 76.2 L42.8 75.5 L45.7 74.4 L46.5 72.1 L47.7 69.4 L48.6 70.8 L48.4 73.5 L49.0 76.6 L48.8 80.2 L49.2 83.8 L49.6 86.9 L50.6 90.9 L51.2 94.5 L52.3 97.7 L53.7 101.2 L55.2 104.4 L56.4 108.0 L57.4 111.6 L58.9 115.1 L60.5 117.8 L61.8 120.5 L63.0 124.1 L63.9 127.2 L64.7 129.5 L66.3 131.7 L68.6 132.7 L70.9 131.3 L71.3 129.0 L74.2 127.7 L75.0 127.2 L74.4 125.9 L75.8 122.8 L78.1 122.5 L78.1 118.7 L77.9 115.6 L79.4 112.4 L80.0 109.3 L79.1 105.7 L78.9 101.7 L80.0 99.0 L82.5 98.1 L83.7 95.9 L87.0 95.0 L88.2 93.2 L91.1 90.5 L93.6 88.3 L96.5 85.6 L99.0 82.9 L101.5 80.6 L104.8 79.5 L106.8 77.1 L107.7 73.9 L108.9 72.4 L111.4 71.7 L113.0 72.1 L115.5 71.9 L118.0 71.2 L120.9 70.8 L122.1 68.5 L124.2 68.1 L126.3 67.6 L127.5 69.4 L128.3 72.6 L129.2 75.3 L130.8 78.0 L132.9 79.7 L134.9 82.4 L137.0 84.7 L138.2 88.3 L138.7 91.8 L137.8 96.3 L138.7 97.7 L142.0 98.6 L143.6 97.2 L146.1 95.4 L148.6 92.7 L149.8 94.5 L151.5 96.3 L151.9 99.9 L152.7 103.0 L153.5 107.1 L155.2 110.7 L155.6 114.2 L156.0 117.8 L155.6 121.4 L155.2 124.5 L154.4 127.7 L154.4 131.3 L154.8 134.4 L155.6 136.6 M2.7 56.0 L3.1 51.5 L6.0 50.2 L9.3 49.7 L9.7 47.0 L7.6 46.8 L7.6 42.3 L3.5 40.8 L-0.2 35.2 M-0.2 35.2 L6.4 37.2 L13.0 37.2 L21.7 35.2 L22.5 30.5 L28.3 28.2 L30.0 26.4 L34.5 26.0 L35.3 20.6 L38.6 19.3 L37.0 16.6 L41.9 15.2 L44.0 11.2 L42.4 7.6 L47.7 4.0 L53.1 3.6 L57.7 2.2 M-0.2 35.2 L3.5 30.9 L3.1 28.2 L-0.4 27.8 M0.2 9.4 L5.6 10.8 L8.9 8.5 L14.7 6.3 L17.2 2.2 L19.6 0.9 L22.9 1.3 L28.3 2.2 L29.6 3.1 L34.5 2.7 L38.2 0.4 L39.1 -1.3 M30.0 62.7 L32.0 60.0 L37.4 60.5 L41.1 59.6 L39.9 53.8 L37.8 52.9 L38.6 49.7 L35.3 47.9 L39.1 43.9 L45.3 43.9 L49.4 39.0 L51.5 34.9 L56.0 29.6 L56.4 26.0 L59.3 24.2 L56.8 22.0 L53.9 20.2 L54.3 16.6 L53.5 13.4 L61.4 14.3 L66.3 12.1 L69.6 9.9 M57.7 2.2 L62.2 5.4 L69.6 9.9 L74.2 15.2 L74.6 21.1 L73.4 23.3 L73.4 27.8 L78.3 30.5 L83.3 33.6 L87.4 33.2 L94.9 37.6 L99.8 40.8 L103.5 43.9 L112.2 43.9 L115.5 46.6 L118.0 43.0 L121.3 43.0 L126.7 44.4 L130.4 43.9 L134.1 40.8 L139.1 37.6 L142.4 38.5 L145.7 37.2 L147.3 39.9 L150.4 42.3 M83.3 33.6 L80.4 35.8 L79.0 39.9 L82.9 42.1 L87.0 43.9 L92.4 46.6 L97.7 46.6 L102.7 49.7 L107.7 50.6 L112.2 50.6 L112.2 43.9 M115.5 46.6 L115.9 48.4 L119.2 49.3 L124.2 48.8 L128.7 48.6 L126.7 44.4 M150.4 42.3 L148.6 45.2 L149.4 47.5 L145.7 47.0 L141.6 49.7 L139.1 56.0 L139.5 58.2 L137.0 61.8 L133.7 60.9 L134.1 65.4 L132.9 69.4 L130.8 70.4 M116.3 71.2 L115.5 66.8 L114.9 65.0 L114.3 60.0 L112.2 59.1 L112.2 56.0 L113.5 53.8 L113.7 50.0 L117.6 52.4 L119.4 55.6 L121.7 56.2 L128.3 56.0 L130.0 56.9 L129.2 60.0 L125.0 60.9 L125.0 63.2 L125.8 65.4 L126.7 66.1 L129.6 62.7 L129.6 65.4 L130.8 70.3 L129.2 73.5 L129.6 76.2 M150.4 42.3 L153.5 44.8 L156.0 45.7 L156.0 52.4 L151.9 56.9 L151.5 61.4 L156.0 60.9 L156.8 65.0 L159.3 66.3 L158.1 69.9 L162.6 72.6 M162.6 77.7 L157.3 80.2 L153.1 80.6 L151.9 85.6 L150.6 86.0 L154.0 92.7 L155.6 96.8 L154.0 100.8 L157.7 107.1 L158.1 112.4 L159.7 116.0 L156.4 122.3 L156.2 124.1" fill="none" stroke="#1a1a1a" stroke-width="0.55" stroke-opacity="0.85" stroke-linejoin="round"/><path d="M132.0 108.4 L132.5 111.1 L131.6 114.2 L131.2 116.9 M130.4 120.5 L130.6 121.6 M131.6 127.7 L131.4 128.1 M135.8 136.6 L135.4 137.5" fill="none" stroke="#111" stroke-width="1.1" stroke-linecap="round"/><circle cx="38.9" cy="65.9" r="0.9" fill="#111"/><circle cx="116.8" cy="70.3" r="0.9" fill="#111"/><path d="M4.3 133.1l4.6 -3.6M8.5 133.1l4.6 -3.6M12.6 133.1l4.6 -3.6M16.7 133.1l4.6 -3.5M20.9 133.1l4.6 -3.5M25.0 133.1l4.6 -3.4M29.1 133.1l4.6 -3.2M33.3 133.1l4.5 -3.0M37.4 133.1l4.5 -2.7M41.5 133.1l4.4 -2.4M45.7 133.1l4.4 -2.0M49.8 133.1l4.3 -1.7M53.9 133.1l4.3 -1.4M58.1 133.1l4.2 -1.2M62.2 133.1l4.2 -1.1M66.3 133.1l4.2 -1.0M70.5 133.1l4.1 -0.9M74.6 133.1l4.1 -0.9M78.7 133.1l4.0 -1.0M82.9 133.1l3.9 -1.0M87.0 133.1l3.8 -1.1M91.1 133.1l3.7 -1.2M95.3 133.1l3.6 -1.3M99.4 133.1l3.6 -1.4M103.5 133.1l3.5 -1.5M107.7 133.1l3.5 -1.5M111.8 133.1l3.4 -1.6M115.9 133.1l3.4 -1.6M120.1 133.1l3.4 -1.6M124.2 133.1l3.4 -1.6M128.3 133.1l3.4 -1.6M132.5 133.1l3.4 -1.6M136.6 133.1l3.2 -1.5M140.7 133.1l2.7 -1.3M144.9 133.1l2.2 -1.0M149.0 133.1l1.7 -0.8M153.1 133.1l1.3 -0.6M157.3 133.1l1.0 -0.5M161.4 133.1l0.7 -0.3M4.3 128.6l4.6 -3.6M8.5 128.6l4.6 -3.6M12.6 128.6l4.6 -3.6M16.7 128.6l4.6 -3.5M20.9 128.6l4.6 -3.5M25.0 128.6l4.6 -3.4M29.1 128.6l4.6 -3.2M33.3 128.6l4.5 -3.0M37.4 128.6l4.5 -2.7M41.5 128.6l4.4 -2.3M45.7 128.6l4.4 -2.0M49.8 128.6l4.3 -1.6M53.9 128.6l4.3 -1.4M58.1 128.6l4.2 -1.2M62.2 128.6l4.2 -1.1M66.3 128.6l4.2 -1.0M70.5 128.6l4.1 -0.9M74.6 128.6l4.1 -0.9M78.7 128.6l4.0 -1.0M82.9 128.6l3.9 -1.0M87.0 128.6l3.8 -1.1M91.1 128.6l3.7 -1.2M95.3 128.6l3.6 -1.3M99.4 128.6l3.6 -1.4M103.5 128.6l3.5 -1.5M107.7 128.6l3.5 -1.5M111.8 128.6l3.4 -1.6M115.9 128.6l3.4 -1.6M120.1 128.6l3.4 -1.6M124.2 128.6l3.4 -1.6M128.3 128.6l3.4 -1.6M132.5 128.6l3.4 -1.6M136.6 128.6l3.4 -1.6M140.7 128.6l3.3 -1.6M144.9 128.6l2.7 -1.3M149.0 128.6l2.2 -1.0M153.1 128.6l1.6 -0.8M157.3 128.6l1.2 -0.6M161.4 128.6l0.9 -0.4M4.3 124.1l4.6 -3.6M8.5 124.1l4.6 -3.6M12.6 124.1l4.6 -3.6M16.7 124.1l4.6 -3.5M20.9 124.1l4.6 -3.5M25.0 124.1l4.6 -3.4M29.1 124.1l4.6 -3.2M33.3 124.1l4.5 -3.0M37.4 124.1l4.5 -2.7M41.5 124.1l4.4 -2.3M45.7 124.1l4.4 -2.0M49.8 124.1l4.3 -1.6M53.9 124.1l4.3 -1.4M58.1 124.1l4.2 -1.2M62.2 124.1l4.2 -1.0M66.3 124.1l4.2 -1.0M70.5 124.1l4.1 -0.9M74.6 124.1l4.1 -0.9M78.7 124.1l4.0 -1.0M82.9 124.1l3.9 -1.0M87.0 124.1l3.8 -1.1M91.1 124.1l3.7 -1.2M95.3 124.1l3.6 -1.3M99.4 124.1l3.6 -1.4M103.5 124.1l3.5 -1.5M107.7 124.1l3.5 -1.5M111.8 124.1l3.4 -1.6M115.9 124.1l3.4 -1.6M120.1 124.1l3.4 -1.6M124.2 124.1l3.4 -1.6M128.3 124.1l3.4 -1.6M132.5 124.1l3.4 -1.6M136.6 124.1l3.4 -1.6M140.7 124.1l3.4 -1.6M144.9 124.1l3.3 -1.6M149.0 124.1l2.6 -1.2M153.1 124.1l2.0 -1.0M157.3 124.1l1.5 -0.7M161.4 124.1l1.1 -0.5M4.3 119.6l4.6 -3.6M8.5 119.6l4.6 -3.6M12.6 119.6l4.6 -3.6M16.7 119.6l4.6 -3.5M20.9 119.6l4.6 -3.5M25.0 119.6l4.6 -3.4M29.1 119.6l4.6 -3.2M33.3 119.6l4.5 -3.0M37.4 119.6l4.5 -2.7M41.5 119.6l4.4 -2.3M45.7 119.6l4.4 -2.0M49.8 119.6l4.3 -1.6M53.9 119.6l4.3 -1.4M58.1 119.6l4.2 -1.2M62.2 119.6l4.2 -1.0M66.3 119.6l4.2 -1.0M70.5 119.6l4.1 -0.9M74.6 119.6l4.1 -0.9M78.7 119.6l4.0 -1.0M82.9 119.6l3.9 -1.0M87.0 119.6l3.8 -1.1M91.1 119.6l3.7 -1.2M95.3 119.6l3.6 -1.3M99.4 119.6l3.6 -1.4M103.5 119.6l3.5 -1.5M107.7 119.6l3.5 -1.5M111.8 119.6l3.4 -1.6M115.9 119.6l3.4 -1.6M120.1 119.6l3.4 -1.6M124.2 119.6l3.4 -1.6M128.3 119.6l3.4 -1.6M132.5 119.6l3.4 -1.6M136.6 119.6l3.4 -1.6M140.7 119.6l3.4 -1.6M144.9 119.6l3.3 -1.6M149.0 119.6l3.0 -1.5M153.1 119.6l2.3 -1.1M157.3 119.6l1.7 -0.8M161.4 119.6l1.2 -0.6M4.3 115.1l4.6 -3.6M8.5 115.1l4.6 -3.6M12.6 115.1l4.6 -3.6M16.7 115.1l4.6 -3.5M20.9 115.1l4.6 -3.5M25.0 115.1l4.6 -3.4M29.1 115.1l4.6 -3.2M33.3 115.1l4.5 -3.0M37.4 115.1l4.5 -2.7M41.5 115.1l4.4 -2.3M45.7 115.1l4.4 -2.0M49.8 115.1l4.3 -1.7M53.9 115.1l4.3 -1.4M58.1 115.1l4.2 -1.2M62.2 115.1l4.2 -1.1M66.3 115.1l4.2 -1.0M70.5 115.1l4.1 -0.9M74.6 115.1l4.1 -0.9M78.7 115.1l4.0 -1.0M82.9 115.1l3.9 -1.0M87.0 115.1l3.8 -1.1M91.1 115.1l3.7 -1.2M95.3 115.1l3.6 -1.3M99.4 115.1l3.6 -1.4M103.5 115.1l3.5 -1.5M107.7 115.1l3.5 -1.5M111.8 115.1l3.4 -1.6M115.9 115.1l3.4 -1.6M120.1 115.1l3.4 -1.6M124.2 115.1l3.4 -1.6M128.3 115.1l3.4 -1.6M132.5 115.1l3.4 -1.6M136.6 115.1l3.4 -1.6M140.7 115.1l3.3 -1.6M144.9 115.1l3.3 -1.6M149.0 115.1l3.3 -1.6M153.1 115.1l2.6 -1.3M157.3 115.1l1.9 -1.0M161.4 115.1l1.4 -0.7M4.3 110.7l4.6 -3.6M8.5 110.7l4.6 -3.6M12.6 110.7l4.6 -3.6M16.7 110.7l4.6 -3.5M20.9 110.7l4.6 -3.5M25.0 110.7l4.6 -3.4M29.1 110.7l4.6 -3.3M33.3 110.7l4.5 -3.0M37.4 110.7l4.5 -2.7M41.5 110.7l4.4 -2.4M45.7 110.7l4.4 -2.0M49.8 110.7l4.3 -1.7M53.9 110.7l4.3 -1.4M58.1 110.7l4.2 -1.2M62.2 110.7l4.2 -1.1M66.3 110.7l4.2 -1.0M70.5 110.7l4.1 -0.9M74.6 110.7l4.1 -0.9M78.7 110.7l4.0 -1.0M82.9 110.7l3.9 -1.0M87.0 110.7l3.8 -1.1M91.1 110.7l3.7 -1.2M95.3 110.7l3.6 -1.3M99.4 110.7l3.5 -1.4M103.5 110.7l3.5 -1.5M107.7 110.7l3.5 -1.5M111.8 110.7l3.4 -1.6M115.9 110.7l3.4 -1.6M120.1 110.7l3.4 -1.6M124.2 110.7l3.4 -1.6M128.3 110.7l3.4 -1.6M132.5 110.7l3.4 -1.6M136.6 110.7l3.4 -1.6M140.7 110.7l3.3 -1.6M144.9 110.7l3.2 -1.6M149.0 110.7l3.2 -1.7M153.1 110.7l2.8 -1.5M157.3 110.7l2.0 -1.1M161.4 110.7l1.5 -0.8M4.3 106.2l4.6 -3.6M8.5 106.2l4.6 -3.6M12.6 106.2l4.6 -3.6M16.7 106.2l4.6 -3.5M20.9 106.2l4.6 -3.5M25.0 106.2l4.6 -3.4M29.1 106.2l4.6 -3.3M33.3 106.2l4.5 -3.0M37.4 106.2l4.5 -2.8M41.5 106.2l4.4 -2.4M45.7 106.2l4.4 -2.0M49.8 106.2l4.3 -1.7M53.9 106.2l4.3 -1.4M58.1 106.2l4.2 -1.2M62.2 106.2l4.2 -1.1M66.3 106.2l4.2 -1.0M70.5 106.2l4.1 -1.0M74.6 106.2l4.1 -0.9M78.7 106.2l4.0 -1.0M82.9 106.2l3.9 -1.0M87.0 106.2l3.8 -1.1M91.1 106.2l3.7 -1.2M95.3 106.2l3.6 -1.3M99.4 106.2l3.5 -1.4M103.5 106.2l3.5 -1.5M107.7 106.2l3.5 -1.5M111.8 106.2l3.4 -1.6M115.9 106.2l3.4 -1.6M120.1 106.2l3.4 -1.6M124.2 106.2l3.4 -1.6M128.3 106.2l3.4 -1.6M132.5 106.2l3.4 -1.6M136.6 106.2l3.3 -1.6M140.7 106.2l3.2 -1.6M144.9 106.2l3.1 -1.7M149.0 106.2l3.0 -1.7M153.1 106.2l2.9 -1.6M157.3 106.2l2.1 -1.2M161.4 106.2l1.5 -0.8M4.3 101.7l4.6 -3.6M8.5 101.7l4.6 -3.6M12.6 101.7l4.6 -3.6M16.7 101.7l4.6 -3.5M20.9 101.7l4.6 -3.5M25.0 101.7l4.6 -3.4M29.1 101.7l4.6 -3.3M33.3 101.7l4.5 -3.1M37.4 101.7l4.5 -2.8M41.5 101.7l4.4 -2.5M45.7 101.7l4.4 -2.1M49.8 101.7l4.3 -1.8M53.9 101.7l4.3 -1.5M58.1 101.7l4.2 -1.3M62.2 101.7l4.2 -1.1M66.3 101.7l4.2 -1.0M70.5 101.7l4.1 -1.0M74.6 101.7l4.1 -1.0M78.7 101.7l4.0 -1.0M82.9 101.7l3.9 -1.1M87.0 101.7l3.8 -1.2M91.1 101.7l3.7 -1.3M95.3 101.7l3.6 -1.4M99.4 101.7l3.5 -1.4M103.5 101.7l3.5 -1.5M107.7 101.7l3.4 -1.5M111.8 101.7l3.4 -1.6M115.9 101.7l3.4 -1.6M120.1 101.7l3.4 -1.6M124.2 101.7l3.4 -1.6M128.3 101.7l3.4 -1.6M132.5 101.7l3.3 -1.6M136.6 101.7l3.3 -1.6M140.7 101.7l3.1 -1.7M144.9 101.7l3.0 -1.7M149.0 101.7l2.8 -1.7M153.1 101.7l2.7 -1.8M157.3 101.7l2.1 -1.4M161.4 101.7l1.5 -0.9M4.3 97.2l4.6 -3.6M8.5 97.2l4.6 -3.6M12.6 97.2l4.6 -3.6M16.7 97.2l4.6 -3.5M20.9 97.2l4.6 -3.5M25.0 97.2l4.6 -3.4M29.1 97.2l4.6 -3.3M33.3 97.2l4.5 -3.1M37.4 97.2l4.5 -2.8M41.5 97.2l4.4 -2.5M45.7 97.2l4.4 -2.1M49.8 97.2l4.3 -1.8M53.9 97.2l4.3 -1.5M58.1 97.2l4.3 -1.3M62.2 97.2l4.2 -1.1M66.3 97.2l4.2 -1.0M70.5 97.2l4.1 -1.0M74.6 97.2l4.1 -1.0M78.7 97.2l4.0 -1.0M82.9 97.2l3.9 -1.1M87.0 97.2l3.8 -1.2M91.1 97.2l3.7 -1.3M95.3 97.2l3.6 -1.4M99.4 97.2l3.5 -1.5M103.5 97.2l3.5 -1.5M107.7 97.2l3.4 -1.5M111.8 97.2l3.4 -1.6M115.9 97.2l3.4 -1.6M120.1 97.2l3.4 -1.6M124.2 97.2l3.4 -1.6M128.3 97.2l3.4 -1.6M132.5 97.2l3.3 -1.6M136.6 97.2l3.2 -1.7M140.7 97.2l3.0 -1.7M144.9 97.2l2.7 -1.8M149.0 97.2l2.5 -1.8M153.1 97.2l2.4 -1.8M157.3 97.2l2.1 -1.6M161.4 97.2l1.5 -1.0M4.3 92.7l4.6 -3.5M8.5 92.7l4.6 -3.5M12.6 92.7l4.6 -3.5M16.7 92.7l4.6 -3.5M20.9 92.7l4.6 -3.5M25.0 92.7l4.6 -3.4M29.1 92.7l4.6 -3.3M33.3 92.7l4.5 -3.1M37.4 92.7l4.5 -2.9M41.5 92.7l4.5 -2.5M45.7 92.7l4.4 -2.2M49.8 92.7l4.3 -1.9M53.9 92.7l4.3 -1.6M58.1 92.7l4.3 -1.3M62.2 92.7l4.2 -1.2M66.3 92.7l4.2 -1.1M70.5 92.7l4.1 -1.0M74.6 92.7l4.1 -1.0M78.7 92.7l4.0 -1.0M82.9 92.7l3.9 -1.1M87.0 92.7l3.8 -1.2M91.1 92.7l3.7 -1.3M95.3 92.7l3.6 -1.4M99.4 92.7l3.5 -1.5M103.5 92.7l3.5 -1.5M107.7 92.7l3.4 -1.6M111.8 92.7l3.4 -1.6M115.9 92.7l3.4 -1.6M120.1 92.7l3.4 -1.6M124.2 92.7l3.4 -1.6M128.3 92.7l3.3 -1.6M132.5 92.7l3.2 -1.6M136.6 92.7l3.0 -1.7M140.7 92.7l2.7 -1.8M144.9 92.7l2.4 -1.8M149.0 92.7l2.2 -1.9M153.1 92.7l2.1 -1.9M157.3 92.7l2.1 -1.8M161.4 92.7l1.4 -1.2M4.3 88.3l4.6 -3.3M8.5 88.3l4.6 -3.3M12.6 88.3l4.6 -3.3M16.7 88.3l4.6 -3.3M20.9 88.3l4.6 -3.3M25.0 88.3l4.6 -3.2M29.1 88.3l4.6 -3.2M33.3 88.3l4.5 -3.0M37.4 88.3l4.5 -2.8M41.5 88.3l4.5 -2.5M45.7 88.3l4.4 -2.2M49.8 88.3l4.4 -1.9M53.9 88.3l4.3 -1.6M58.1 88.3l4.3 -1.4M62.2 88.3l4.2 -1.2M66.3 88.3l4.2 -1.1M70.5 88.3l4.1 -1.0M74.6 88.3l4.0 -1.0M78.7 88.3l4.0 -1.0M82.9 88.3l3.9 -1.1M87.0 88.3l3.8 -1.2M91.1 88.3l3.7 -1.3M95.3 88.3l3.6 -1.4M99.4 88.3l3.5 -1.5M103.5 88.3l3.5 -1.5M107.7 88.3l3.4 -1.5M111.8 88.3l3.4 -1.6M115.9 88.3l3.4 -1.6M120.1 88.3l3.4 -1.6M124.2 88.3l3.4 -1.6M128.3 88.3l3.3 -1.6M132.5 88.3l3.1 -1.7M136.6 88.3l2.8 -1.7M140.7 88.3l2.5 -1.8M144.9 88.3l2.1 -1.9M149.0 88.3l1.9 -1.9M153.1 88.3l1.8 -2.0M157.3 88.3l1.8 -2.0M161.4 88.3l1.4 -1.3M4.3 83.8l4.6 -2.9M8.5 83.8l4.6 -2.9M12.6 83.8l4.6 -2.9M16.7 83.8l4.6 -2.8M20.9 83.8l4.6 -2.8M25.0 83.8l4.5 -2.8M29.1 83.8l4.5 -2.8M33.3 83.8l4.5 -2.7M37.4 83.8l4.5 -2.6M41.5 83.8l4.4 -2.4M45.7 83.8l4.4 -2.1M49.8 83.8l4.3 -1.8M53.9 83.8l4.3 -1.6M58.1 83.8l4.2 -1.3M62.2 83.8l4.2 -1.2M66.3 83.8l4.1 -1.0M70.5 83.8l4.1 -1.0M74.6 83.8l4.0 -0.9M78.7 83.8l3.9 -1.0M82.9 83.8l3.8 -1.0M87.0 83.8l3.7 -1.1M91.1 83.8l3.6 -1.2M95.3 83.8l3.6 -1.3M99.4 83.8l3.5 -1.4M103.5 83.8l3.5 -1.5M107.7 83.8l3.4 -1.5M111.8 83.8l3.4 -1.5M115.9 83.8l3.4 -1.6M120.1 83.8l3.4 -1.6M124.2 83.8l3.4 -1.6M128.3 83.8l3.3 -1.6M132.5 83.8l3.0 -1.7M136.6 83.8l2.6 -1.8M140.7 83.8l2.1 -1.9M144.9 83.8l1.8 -2.0M149.0 83.8l1.6 -2.0M153.1 83.8l1.5 -2.0M157.3 83.8l1.5 -2.0M161.4 83.8l1.3 -1.6M4.3 79.3l4.6 -2.2M8.5 79.3l4.5 -2.2M12.6 79.3l4.5 -2.1M16.7 79.3l4.5 -2.1M20.9 79.3l4.5 -2.1M25.0 79.3l4.5 -2.1M29.1 79.3l4.5 -2.1M33.3 79.3l4.4 -2.1M37.4 79.3l4.4 -2.0M41.5 79.3l4.3 -1.9M45.7 79.3l4.3 -1.7M49.8 79.3l4.2 -1.5M53.9 79.3l4.2 -1.3M58.1 79.3l4.2 -1.0M62.2 79.3l4.1 -0.9M66.3 79.3l4.1 -0.7M70.5 79.3l4.0 -0.7M74.6 79.3l3.9 -0.6M78.7 79.3l3.9 -0.6M82.9 79.3l3.8 -0.7M87.0 79.3l3.7 -0.8M91.1 79.3l3.6 -0.9M95.3 79.3l3.5 -1.1M99.4 79.3l3.5 -1.2M103.5 79.3l3.4 -1.3M107.7 79.3l3.4 -1.4M111.8 79.3l3.4 -1.4M115.9 79.3l3.4 -1.5M120.1 79.3l3.4 -1.5M124.2 79.3l3.3 -1.5M128.3 79.3l3.2 -1.6M132.5 79.3l2.8 -1.7M136.6 79.3l2.3 -1.8M140.7 79.3l1.8 -1.9M144.9 79.3l1.5 -2.0M149.0 79.3l1.4 -2.1M153.1 79.3l1.3 -2.1M157.3 79.3l1.3 -2.1M161.4 79.3l1.2 -1.8M4.3 74.8l4.5 -1.5M8.5 74.8l4.5 -1.5M12.6 74.8l4.5 -1.4M16.7 74.8l4.5 -1.4M20.9 74.8l4.5 -1.4M25.0 74.8l4.4 -1.4M29.1 74.8l4.4 -1.3M33.3 74.8l4.3 -1.3M37.4 74.8l4.2 -1.2M41.5 74.8l4.1 -1.0M45.7 74.8l4.1 -0.9M49.8 74.8l4.0 -0.7M53.9 74.8l4.0 -0.5M58.1 74.8l4.0 -0.3M62.2 74.8l3.9 -0.1M66.3 74.8l3.9 0.1M70.5 74.8l3.8 0.1M74.6 74.8l3.8 0.2M78.7 74.8l3.7 0.2M82.9 74.8l3.7 0.1M87.0 74.8l3.6 -0.1M91.1 74.8l3.5 -0.2M95.3 74.8l3.5 -0.4M99.4 74.8l3.5 -0.6M103.5 74.8l3.4 -0.8M107.7 74.8l3.4 -1.0M111.8 74.8l3.4 -1.1M115.9 74.8l3.4 -1.2M120.1 74.8l3.4 -1.3M124.2 74.8l3.3 -1.4M128.3 74.8l3.1 -1.5M132.5 74.8l2.6 -1.7M136.6 74.8l2.0 -1.9M140.7 74.8l1.6 -2.0M144.9 74.8l1.3 -2.1M149.0 74.8l1.2 -2.1M153.1 74.8l1.1 -2.1M157.3 74.8l1.2 -2.1M161.4 74.8l1.2 -2.1M4.3 70.3l4.5 -1.1M8.5 70.3l4.5 -1.0M12.6 70.3l4.5 -1.0M16.7 70.3l4.4 -0.9M20.9 70.3l4.4 -0.9M25.0 70.3l4.3 -0.8M29.1 70.3l4.2 -0.7M33.3 70.3l4.1 -0.5M37.4 70.3l3.9 -0.3M41.5 70.3l3.8 -0.1M45.7 70.3l3.8 0.1M49.8 70.3l3.7 0.4M53.9 70.3l3.7 0.6M58.1 70.3l3.7 0.8M62.2 70.3l3.7 1.0M66.3 70.3l3.7 1.1M70.5 70.3l3.7 1.2M74.6 70.3l3.6 1.2M78.7 70.3l3.6 1.2M82.9 70.3l3.5 1.1M87.0 70.3l3.5 1.0M91.1 70.3l3.5 0.8M95.3 70.3l3.5 0.6M99.4 70.3l3.4 0.3M103.5 70.3l3.4 0.1M107.7 70.3l3.4 -0.2M111.8 70.3l3.4 -0.4M115.9 70.3l3.4 -0.6M120.1 70.3l3.2 -0.8M124.2 70.3l3.0 -0.9M128.3 70.3l2.7 -1.2M132.5 70.3l2.4 -1.6M136.6 70.3l1.8 -1.8M140.7 70.3l1.4 -2.0M144.9 70.3l1.2 -2.1M149.0 70.3l1.1 -2.1M153.1 70.3l1.0 -2.1M157.3 70.3l1.0 -2.1M161.4 70.3l1.1 -2.1M4.3 65.9l4.5 -0.8M8.5 65.9l4.5 -0.7M12.6 65.9l4.4 -0.7M16.7 65.9l4.4 -0.6M20.9 65.9l4.3 -0.5M25.0 65.9l4.1 -0.3M29.1 65.9l4.0 -0.1M33.3 65.9l3.8 0.2M37.4 65.9l3.6 0.4M41.5 65.9l3.5 0.7M45.7 65.9l3.4 1.0M49.8 65.9l3.4 1.3M53.9 65.9l3.5 1.5M58.1 65.9l3.5 1.7M62.2 65.9l3.5 1.9M66.3 65.9l3.5 2.0M70.5 65.9l3.5 2.0M74.6 65.9l3.5 2.0M78.7 65.9l3.5 2.0M82.9 65.9l3.5 2.0M87.0 65.9l3.5 1.9M91.1 65.9l3.4 1.7M95.3 65.9l3.4 1.5M99.4 65.9l3.4 1.3M103.5 65.9l3.4 1.1M107.7 65.9l3.4 0.8M111.8 65.9l3.4 0.5M115.9 65.9l3.2 0.2M120.1 65.9l2.9 -0.0M124.2 65.9l2.6 -0.3M128.3 65.9l2.3 -0.7M132.5 65.9l2.2 -1.3M136.6 65.9l1.6 -1.8M140.7 65.9l1.2 -2.0M144.9 65.9l1.1 -2.1M149.0 65.9l1.0 -2.1M153.1 65.9l1.0 -2.1M157.3 65.9l1.0 -2.1M161.4 65.9l1.0 -2.1M4.3 61.4l4.4 -0.6M8.5 61.4l4.4 -0.5M12.6 61.4l4.3 -0.4M16.7 61.4l4.2 -0.3M20.9 61.4l4.0 -0.1M25.0 61.4l3.8 0.2M29.1 61.4l3.6 0.5M33.3 61.4l3.4 0.8M37.4 61.4l3.2 1.1M41.5 61.4l3.1 1.4M45.7 61.4l3.1 1.6M49.8 61.4l3.2 1.8M53.9 61.4l3.3 2.0M58.1 61.4l3.3 2.2M62.2 61.4l3.4 2.3M66.3 61.4l3.4 2.4M70.5 61.4l3.4 2.4M74.6 61.4l3.4 2.4M78.7 61.4l3.4 2.4M82.9 61.4l3.4 2.4M87.0 61.4l3.4 2.3M91.1 61.4l3.4 2.2M95.3 61.4l3.4 2.1M99.4 61.4l3.4 2.0M103.5 61.4l3.4 1.8M107.7 61.4l3.4 1.6M111.8 61.4l3.4 1.4M115.9 61.4l3.3 1.1M120.1 61.4l2.8 0.7M124.2 61.4l2.4 0.3M128.3 61.4l2.1 -0.2M132.5 61.4l2.0 -1.0M136.6 61.4l1.5 -1.6M140.7 61.4l1.2 -1.9M144.9 61.4l1.0 -2.1M149.0 61.4l0.9 -2.1M153.1 61.4l0.9 -2.1M157.3 61.4l0.9 -2.1M161.4 61.4l1.0 -2.1M4.3 56.9l4.2 -0.4M8.5 56.9l4.1 -0.3M12.6 56.9l4.0 -0.1M16.7 56.9l3.9 0.1M20.9 56.9l3.6 0.4M25.0 56.9l3.4 0.7M29.1 56.9l3.1 1.1M33.3 56.9l2.9 1.4M37.4 56.9l2.8 1.6M41.5 56.9l2.8 1.8M45.7 56.9l2.8 2.0M49.8 56.9l2.9 2.2M53.9 56.9l3.1 2.3M58.1 56.9l3.2 2.4M62.2 56.9l3.3 2.5M66.3 56.9l3.4 2.6M70.5 56.9l3.4 2.6M74.6 56.9l3.4 2.6M78.7 56.9l3.4 2.6M82.9 56.9l3.4 2.6M87.0 56.9l3.4 2.6M91.1 56.9l3.4 2.5M95.3 56.9l3.4 2.4M99.4 56.9l3.4 2.3M103.5 56.9l3.4 2.2M107.7 56.9l3.4 2.1M111.8 56.9l3.4 1.9M115.9 56.9l3.4 1.7M120.1 56.9l2.8 1.2M124.2 56.9l2.3 0.8M128.3 56.9l2.0 0.2M132.5 56.9l1.8 -0.7M136.6 56.9l1.4 -1.5M140.7 56.9l1.1 -1.9M144.9 56.9l1.0 -2.0M149.0 56.9l0.9 -2.1M153.1 56.9l0.9 -2.1M157.3 56.9l0.9 -2.1M161.4 56.9l0.9 -2.1M4.3 52.4l3.6 0.0M8.5 52.4l3.5 0.2M12.6 52.4l3.4 0.4M16.7 52.4l3.2 0.7M20.9 52.4l3.0 1.0M25.0 52.4l2.8 1.3M29.1 52.4l2.6 1.6M33.3 52.4l2.5 1.8M37.4 52.4l2.4 2.0M41.5 52.4l2.5 2.1M45.7 52.4l2.6 2.2M49.8 52.4l2.8 2.3M53.9 52.4l3.0 2.4M58.1 52.4l3.1 2.5M62.2 52.4l3.3 2.6M66.3 52.4l3.4 2.7M70.5 52.4l3.4 2.7M74.6 52.4l3.4 2.7M78.7 52.4l3.4 2.7M82.9 52.4l3.4 2.7M87.0 52.4l3.4 2.6M91.1 52.4l3.4 2.6M95.3 52.4l3.4 2.6M99.4 52.4l3.4 2.5M103.5 52.4l3.4 2.4M107.7 52.4l3.4 2.3M111.8 52.4l3.4 2.2M115.9 52.4l3.4 2.1M120.1 52.4l2.7 1.5M124.2 52.4l2.2 1.0M128.3 52.4l1.8 0.4M132.5 52.4l1.6 -0.4M136.6 52.4l1.4 -1.4M140.7 52.4l1.1 -1.8M144.9 52.4l1.0 -2.0M149.0 52.4l0.9 -2.1M153.1 52.4l0.9 -2.1M157.3 52.4l0.9 -2.1M161.4 52.4l0.9 -2.1M4.3 47.9l2.5 0.8M8.5 47.9l2.4 0.9M12.6 47.9l2.3 1.1M16.7 47.9l2.3 1.3M20.9 47.9l2.2 1.6M25.0 47.9l2.2 1.8M29.1 47.9l2.1 1.9M33.3 47.9l2.1 2.0M37.4 47.9l2.2 2.1M41.5 47.9l2.2 2.2M45.7 47.9l2.4 2.3M49.8 47.9l2.6 2.4M53.9 47.9l2.8 2.5M58.1 47.9l3.0 2.6M62.2 47.9l3.2 2.6M66.3 47.9l3.3 2.7M70.5 47.9l3.4 2.7M74.6 47.9l3.4 2.7M78.7 47.9l3.4 2.7M82.9 47.9l3.4 2.7M87.0 47.9l3.4 2.7M91.1 47.9l3.4 2.6M95.3 47.9l3.4 2.6M99.4 47.9l3.4 2.5M103.5 47.9l3.3 2.5M107.7 47.9l3.3 2.4M111.8 47.9l3.3 2.3M115.9 47.9l3.0 2.0M120.1 47.9l2.4 1.5M124.2 47.9l1.9 1.0M128.3 47.9l1.6 0.5M132.5 47.9l1.4 -0.3M136.6 47.9l1.4 -1.3M140.7 47.9l1.1 -1.8M144.9 47.9l1.0 -2.0M149.0 47.9l0.9 -2.1M153.1 47.9l0.9 -2.1M157.3 47.9l0.9 -2.1M161.4 47.9l0.8 -1.8M4.3 43.5l1.2 1.5M8.5 43.5l1.3 1.6M12.6 43.5l1.3 1.7M16.7 43.5l1.4 1.8M20.9 43.5l1.6 1.9M25.0 43.5l1.7 2.0M29.1 43.5l1.8 2.1M33.3 43.5l1.8 2.1M37.4 43.5l1.9 2.2M41.5 43.5l2.0 2.2M45.7 43.5l2.2 2.3M49.8 43.5l2.4 2.4M53.9 43.5l2.6 2.4M58.1 43.5l2.9 2.5M62.2 43.5l3.1 2.6M66.3 43.5l3.2 2.6M70.5 43.5l3.3 2.6M74.6 43.5l3.3 2.6M78.7 43.5l3.3 2.6M82.9 43.5l3.3 2.6M87.0 43.5l3.3 2.5M91.1 43.5l3.3 2.5M95.3 43.5l3.2 2.4M99.4 43.5l3.2 2.4M103.5 43.5l3.2 2.3M107.7 43.5l3.1 2.2M111.8 43.5l3.0 2.0M115.9 43.5l2.5 1.6M120.1 43.5l2.0 1.2M124.2 43.5l1.6 0.8M128.3 43.5l1.4 0.4M132.5 43.5l1.2 -0.3M136.6 43.5l1.3 -1.2M140.7 43.5l1.1 -1.7M144.9 43.5l1.0 -1.9M149.0 43.5l0.9 -2.0M153.1 43.5l0.9 -2.0M157.3 43.5l0.9 -2.0M161.4 43.5l0.7 -1.5M4.3 39.0l0.6 1.9M8.5 39.0l0.7 1.9M12.6 39.0l0.8 1.9M16.7 39.0l0.9 2.0M20.9 39.0l1.1 2.0M25.0 39.0l1.3 2.1M29.1 39.0l1.5 2.1M33.3 39.0l1.6 2.2M37.4 39.0l1.7 2.2M41.5 39.0l1.9 2.2M45.7 39.0l2.0 2.2M49.8 39.0l2.2 2.3M53.9 39.0l2.4 2.3M58.1 39.0l2.7 2.3M62.2 39.0l2.9 2.4M66.3 39.0l3.0 2.3M70.5 39.0l3.1 2.3M74.6 39.0l3.1 2.3M78.7 39.0l3.1 2.2M82.9 39.0l3.0 2.1M87.0 39.0l3.0 2.1M91.1 39.0l2.9 2.0M95.3 39.0l2.9 1.9M99.4 39.0l2.8 1.7M103.5 39.0l2.7 1.6M107.7 39.0l2.6 1.4M111.8 39.0l2.5 1.2M115.9 39.0l2.2 1.0M120.1 39.0l1.9 0.7M124.2 39.0l1.6 0.5M128.3 39.0l1.4 0.2M132.5 39.0l1.3 -0.3M136.6 39.0l1.4 -1.0M140.7 39.0l1.2 -1.5M144.9 39.0l1.0 -1.7M149.0 39.0l1.0 -1.8M153.1 39.0l1.0 -1.8M157.3 39.0l1.0 -1.8M161.4 39.0l0.7 -1.2M4.3 34.5l0.4 1.9M8.5 34.5l0.5 2.0M12.6 34.5l0.5 2.0M16.7 34.5l0.7 2.0M20.9 34.5l0.8 2.0M25.0 34.5l1.0 2.0M29.1 34.5l1.2 2.1M33.3 34.5l1.4 2.1M37.4 34.5l1.6 2.1M41.5 34.5l1.7 2.1M45.7 34.5l1.8 2.1M49.8 34.5l2.0 2.1M53.9 34.5l2.2 2.0M58.1 34.5l2.4 1.9M62.2 34.5l2.5 1.8M66.3 34.5l2.6 1.7M70.5 34.5l2.6 1.6M74.6 34.5l2.6 1.5M78.7 34.5l2.6 1.4M82.9 34.5l2.5 1.3M87.0 34.5l2.4 1.2M91.1 34.5l2.4 1.0M95.3 34.5l2.3 0.9M99.4 34.5l2.2 0.8M103.5 34.5l2.1 0.7M107.7 34.5l2.1 0.5M111.8 34.5l2.0 0.4M115.9 34.5l1.9 0.3M120.1 34.5l1.9 0.2M124.2 34.5l1.8 0.1M128.3 34.5l1.7 -0.1M132.5 34.5l1.6 -0.3M136.6 34.5l1.4 -0.7M140.7 34.5l1.3 -1.1M144.9 34.5l1.2 -1.3M149.0 34.5l1.1 -1.4M153.1 34.5l1.1 -1.5M157.3 34.5l1.1 -1.4M161.4 34.5l0.9 -0.9M4.3 30.0l0.4 2.0M8.5 30.0l0.4 2.0M12.6 30.0l0.4 2.0M16.7 30.0l0.5 2.0M20.9 30.0l0.6 2.0M25.0 30.0l0.8 2.0M29.1 30.0l1.0 2.0M33.3 30.0l1.2 2.0M37.4 30.0l1.4 2.0M41.5 30.0l1.5 1.9M45.7 30.0l1.7 1.9M49.8 30.0l1.8 1.7M53.9 30.0l1.9 1.5M58.1 30.0l2.0 1.2M62.2 30.0l2.1 1.0M66.3 30.0l2.1 0.8M70.5 30.0l2.1 0.7M74.6 30.0l2.1 0.6M78.7 30.0l2.0 0.5M82.9 30.0l2.0 0.4M87.0 30.0l1.9 0.4M91.1 30.0l1.9 0.3M95.3 30.0l1.9 0.2M99.4 30.0l1.8 0.2M103.5 30.0l1.8 0.1M107.7 30.0l1.8 0.0M111.8 30.0l1.7 0.0M115.9 30.0l1.7 -0.0M120.1 30.0l1.7 -0.1M124.2 30.0l1.7 -0.1M128.3 30.0l1.6 -0.2M132.5 30.0l1.6 -0.3M136.6 30.0l1.5 -0.5M140.7 30.0l1.4 -0.7M144.9 30.0l1.3 -0.9M149.0 30.0l1.3 -1.0M153.1 30.0l1.3 -1.0M157.3 30.0l1.3 -0.9M161.4 30.0l1.3 -0.7M4.3 25.5l0.3 2.0M8.5 25.5l0.4 2.0M12.6 25.5l0.4 2.0M16.7 25.5l0.4 2.0M20.9 25.5l0.5 2.0M25.0 25.5l0.7 1.9M29.1 25.5l0.9 1.9M33.3 25.5l1.0 1.9M37.4 25.5l1.2 1.8M41.5 25.5l1.4 1.7M45.7 25.5l1.5 1.5M49.8 25.5l1.6 1.3M53.9 25.5l1.7 0.9M58.1 25.5l1.8 0.6M62.2 25.5l1.8 0.4M66.3 25.5l1.8 0.2M70.5 25.5l1.8 0.1M74.6 25.5l1.8 0.1M78.7 25.5l1.8 0.1M82.9 25.5l1.7 0.0M87.0 25.5l1.7 -0.0M91.1 25.5l1.7 -0.0M95.3 25.5l1.7 -0.1M99.4 25.5l1.7 -0.1M103.5 25.5l1.7 -0.1M107.7 25.5l1.6 -0.1M111.8 25.5l1.6 -0.1M115.9 25.5l1.6 -0.2M120.1 25.5l1.6 -0.2M124.2 25.5l1.6 -0.2M128.3 25.5l1.6 -0.2M132.5 25.5l1.6 -0.3M136.6 25.5l1.5 -0.4M140.7 25.5l1.5 -0.5M144.9 25.5l1.4 -0.6M149.0 25.5l1.4 -0.7M153.1 25.5l1.4 -0.7M157.3 25.5l1.4 -0.6M161.4 25.5l1.5 -0.5M4.3 21.1l0.3 2.0M8.5 21.1l0.3 2.0M12.6 21.1l0.4 2.0M16.7 21.1l0.4 1.9M20.9 21.1l0.5 1.9M25.0 21.1l0.6 1.9M29.1 21.1l0.7 1.8M33.3 21.1l0.9 1.8M37.4 21.1l1.1 1.6M41.5 21.1l1.3 1.5M45.7 21.1l1.4 1.2M49.8 21.1l1.5 0.9M53.9 21.1l1.6 0.5M58.1 21.1l1.6 0.2M62.2 21.1l1.7 0.1M66.3 21.1l1.7 -0.0M70.5 21.1l1.7 -0.1M74.6 21.1l1.7 -0.1M78.7 21.1l1.7 -0.1M82.9 21.1l1.6 -0.1M87.0 21.1l1.6 -0.1M91.1 21.1l1.6 -0.1M95.3 21.1l1.6 -0.2M99.4 21.1l1.6 -0.2M103.5 21.1l1.6 -0.2M107.7 21.1l1.6 -0.2M111.8 21.1l1.6 -0.2M115.9 21.1l1.6 -0.2M120.1 21.1l1.6 -0.2M124.2 21.1l1.6 -0.2M128.3 21.1l1.6 -0.2M132.5 21.1l1.6 -0.2M136.6 21.1l1.6 -0.3M140.7 21.1l1.5 -0.4M144.9 21.1l1.5 -0.5M149.0 21.1l1.5 -0.5M153.1 21.1l1.5 -0.5M157.3 21.1l1.5 -0.5M161.4 21.1l1.5 -0.4M4.3 16.6l0.4 1.9M8.5 16.6l0.4 1.9M12.6 16.6l0.4 1.9M16.7 16.6l0.5 1.9M20.9 16.6l0.5 1.8M25.0 16.6l0.6 1.8M29.1 16.6l0.7 1.7M33.3 16.6l0.9 1.5M37.4 16.6l1.1 1.4M41.5 16.6l1.3 1.1M45.7 16.6l1.4 0.8M49.8 16.6l1.5 0.5M53.9 16.6l1.6 0.3M58.1 16.6l1.6 0.1M62.2 16.6l1.6 -0.0M66.3 16.6l1.6 -0.1M70.5 16.6l1.6 -0.1M74.6 16.6l1.6 -0.1M78.7 16.6l1.6 -0.2M82.9 16.6l1.6 -0.2M87.0 16.6l1.6 -0.2M91.1 16.6l1.6 -0.2M95.3 16.6l1.6 -0.2M99.4 16.6l1.6 -0.2M103.5 16.6l1.6 -0.2M107.7 16.6l1.6 -0.2M111.8 16.6l1.6 -0.2M115.9 16.6l1.6 -0.2M120.1 16.6l1.6 -0.2M124.2 16.6l1.6 -0.2M128.3 16.6l1.6 -0.2M132.5 16.6l1.6 -0.2M136.6 16.6l1.6 -0.3M140.7 16.6l1.6 -0.3M144.9 16.6l1.5 -0.4M149.0 16.6l1.5 -0.4M153.1 16.6l1.5 -0.4M157.3 16.6l1.5 -0.4M161.4 16.6l1.5 -0.3M4.3 12.1l0.7 1.5M8.5 12.1l0.7 1.5M12.6 12.1l0.8 1.5M16.7 12.1l0.8 1.4M20.9 12.1l0.9 1.3M25.0 12.1l1.0 1.2M29.1 12.1l1.2 1.1M33.3 12.1l1.3 1.0M37.4 12.1l1.4 0.8M41.5 12.1l1.5 0.7M45.7 12.1l1.6 0.5M49.8 12.1l1.7 0.4M53.9 12.1l1.7 0.3M58.1 12.1l1.7 0.2M62.2 12.1l1.7 0.1M66.3 12.1l1.7 0.1M70.5 12.1l1.7 0.0M74.6 12.1l1.7 -0.0M78.7 12.1l1.7 -0.0M82.9 12.1l1.6 -0.1M87.0 12.1l1.6 -0.1M91.1 12.1l1.6 -0.1M95.3 12.1l1.6 -0.1M99.4 12.1l1.6 -0.2M103.5 12.1l1.6 -0.2M107.7 12.1l1.6 -0.2M111.8 12.1l1.6 -0.2M115.9 12.1l1.6 -0.2M120.1 12.1l1.6 -0.2M124.2 12.1l1.6 -0.2M128.3 12.1l1.6 -0.2M132.5 12.1l1.6 -0.2M136.6 12.1l1.6 -0.2M140.7 12.1l1.6 -0.3M144.9 12.1l1.5 -0.3M149.0 12.1l1.5 -0.4M153.1 12.1l1.5 -0.4M157.3 12.1l1.3 -0.3M161.4 12.1l1.1 -0.2M4.3 7.6l1.2 1.0M8.5 7.6l1.2 1.0M12.6 7.6l1.2 1.0M16.7 7.6l1.3 0.9M20.9 7.6l1.4 0.9M25.0 7.6l1.4 0.8M29.1 7.6l1.5 0.7M33.3 7.6l1.6 0.6M37.4 7.6l1.7 0.5M41.5 7.6l1.7 0.5M45.7 7.6l1.7 0.4M49.8 7.6l1.8 0.4M53.9 7.6l1.8 0.4M58.1 7.6l1.8 0.3M62.2 7.6l1.8 0.3M66.3 7.6l1.8 0.3M70.5 7.6l1.7 0.2M74.6 7.6l1.7 0.2M78.7 7.6l1.7 0.2M82.9 7.6l1.7 0.1M87.0 7.6l1.7 0.1M91.1 7.6l1.7 0.0M95.3 7.6l1.7 -0.0M99.4 7.6l1.6 -0.1M103.5 7.6l1.6 -0.1M107.7 7.6l1.6 -0.1M111.8 7.6l1.6 -0.1M115.9 7.6l1.6 -0.2M120.1 7.6l1.6 -0.2M124.2 7.6l1.6 -0.2M128.3 7.6l1.5 -0.2M132.5 7.6l1.4 -0.2M136.6 7.6l1.3 -0.2M140.7 7.6l1.2 -0.2M144.9 7.6l1.1 -0.2M149.0 7.6l1.0 -0.2M153.1 7.6l0.9 -0.2M157.3 7.6l0.8 -0.2M161.4 7.6l0.6 -0.1M4.3 3.1l1.4 0.8M8.5 3.1l1.4 0.8M12.6 3.1l1.4 0.8M16.7 3.1l1.5 0.8M20.9 3.1l1.5 0.7M25.0 3.1l1.6 0.6M29.1 3.1l1.6 0.6M33.3 3.1l1.7 0.5M37.4 3.1l1.7 0.5M41.5 3.1l1.7 0.4M45.7 3.1l1.8 0.4M49.8 3.1l1.8 0.4M53.9 3.1l1.8 0.4M58.1 3.1l1.8 0.4M62.2 3.1l1.8 0.3M66.3 3.1l1.8 0.3M70.5 3.1l1.8 0.3M74.6 3.1l1.8 0.3M78.7 3.1l1.8 0.3M82.9 3.1l1.7 0.2M87.0 3.1l1.7 0.2M91.1 3.1l1.5 0.1M95.3 3.1l1.3 0.1M99.4 3.1l1.2 0.0M103.5 3.1l1.1 -0.0M107.7 3.1l1.0 -0.0M111.8 3.1l1.0 -0.1M115.9 3.1l0.9 -0.1M120.1 3.1l0.8 -0.1M124.2 3.1l0.8 -0.1M128.3 3.1l0.7 -0.1M132.5 3.1l0.7 -0.1M136.6 3.1l0.6 -0.1M140.7 3.1l0.6 -0.1M144.9 3.1l0.5 -0.1M149.0 3.1l0.5 -0.1M153.1 3.1l0.4 -0.1M157.3 3.1l0.3 -0.1" fill="none" stroke="#0c0c0c" stroke-width="0.45" stroke-opacity="0.75"/><path d="M9.2 129.3l-1.1 1.9l-1.0 -1.3zM13.3 129.3l-1.1 1.9l-1.0 -1.3zM17.4 129.3l-1.1 1.9l-1.0 -1.3zM21.6 129.3l-1.1 1.9l-1.0 -1.3zM25.7 129.4l-1.1 1.9l-1.0 -1.3zM29.8 129.5l-1.2 1.9l-1.0 -1.3zM33.9 129.6l-1.2 1.9l-1.0 -1.4zM38.0 129.9l-1.2 1.8l-0.9 -1.4zM42.1 130.2l-1.3 1.8l-0.9 -1.4zM46.2 130.6l-1.4 1.7l-0.8 -1.5zM50.3 130.9l-1.5 1.6l-0.7 -1.5zM54.4 131.3l-1.6 1.5l-0.6 -1.6zM58.5 131.6l-1.7 1.4l-0.5 -1.6zM62.6 131.8l-1.8 1.4l-0.5 -1.6zM66.7 131.9l-1.8 1.3l-0.4 -1.6zM70.8 132.0l-1.8 1.3l-0.4 -1.6zM74.9 132.1l-1.8 1.3l-0.4 -1.6zM79.0 132.1l-1.8 1.3l-0.4 -1.6zM83.0 132.0l-1.8 1.3l-0.4 -1.6zM87.1 132.0l-1.8 1.3l-0.4 -1.6zM91.1 131.9l-1.7 1.4l-0.5 -1.6zM95.1 131.7l-1.7 1.4l-0.5 -1.6zM99.2 131.6l-1.6 1.5l-0.6 -1.6zM103.2 131.5l-1.6 1.5l-0.6 -1.6zM107.3 131.4l-1.6 1.6l-0.7 -1.5zM111.4 131.4l-1.5 1.6l-0.7 -1.5zM115.5 131.4l-1.5 1.6l-0.7 -1.5zM119.6 131.3l-1.5 1.6l-0.7 -1.5zM123.7 131.3l-1.5 1.6l-0.7 -1.5zM127.9 131.3l-1.5 1.6l-0.7 -1.5zM132.0 131.3l-1.5 1.6l-0.7 -1.5zM136.1 131.3l-1.5 1.6l-0.7 -1.5zM140.0 131.4l-1.5 1.6l-0.7 -1.5zM143.7 131.7l-1.5 1.6l-0.7 -1.5zM147.3 131.9l-1.5 1.6l-0.7 -1.5zM151.0 132.1l-1.5 1.6l-0.7 -1.5zM154.7 132.3l-1.5 1.6l-0.7 -1.5zM158.5 132.5l-1.5 1.6l-0.7 -1.5zM162.4 132.6l-1.5 1.6l-0.7 -1.5zM9.2 124.8l-1.1 1.9l-1.0 -1.3zM13.3 124.8l-1.1 1.9l-1.0 -1.3zM17.4 124.8l-1.1 1.9l-1.0 -1.3zM21.6 124.9l-1.1 1.9l-1.0 -1.3zM25.7 124.9l-1.1 1.9l-1.0 -1.3zM29.8 125.0l-1.2 1.9l-1.0 -1.3zM33.9 125.2l-1.2 1.9l-1.0 -1.4zM38.0 125.4l-1.2 1.8l-0.9 -1.4zM42.1 125.7l-1.3 1.8l-0.9 -1.4zM46.2 126.1l-1.4 1.7l-0.8 -1.5zM50.3 126.5l-1.5 1.6l-0.7 -1.5zM54.4 126.8l-1.6 1.5l-0.6 -1.6zM58.5 127.1l-1.7 1.4l-0.5 -1.6zM62.6 127.3l-1.8 1.4l-0.5 -1.6zM66.7 127.5l-1.8 1.3l-0.4 -1.6zM70.8 127.5l-1.8 1.3l-0.4 -1.6zM74.9 127.6l-1.8 1.3l-0.4 -1.6zM79.0 127.6l-1.8 1.3l-0.4 -1.6zM83.0 127.6l-1.8 1.3l-0.4 -1.6zM87.1 127.5l-1.8 1.3l-0.4 -1.6zM91.1 127.4l-1.7 1.4l-0.5 -1.6zM95.2 127.3l-1.7 1.4l-0.5 -1.6zM99.2 127.1l-1.6 1.5l-0.6 -1.6zM103.2 127.0l-1.6 1.5l-0.6 -1.6zM107.3 127.0l-1.6 1.6l-0.7 -1.5zM111.4 126.9l-1.5 1.6l-0.7 -1.5zM115.5 126.9l-1.5 1.6l-0.7 -1.5zM119.6 126.9l-1.5 1.6l-0.7 -1.5zM123.7 126.9l-1.5 1.6l-0.7 -1.5zM127.9 126.9l-1.5 1.6l-0.7 -1.5zM132.0 126.9l-1.5 1.6l-0.7 -1.5zM136.1 126.8l-1.5 1.6l-0.7 -1.5zM140.3 126.8l-1.5 1.6l-0.7 -1.5zM144.3 126.9l-1.5 1.6l-0.7 -1.5zM147.8 127.2l-1.5 1.6l-0.7 -1.5zM151.4 127.4l-1.5 1.6l-0.7 -1.5zM155.0 127.7l-1.5 1.6l-0.7 -1.5zM158.8 127.9l-1.5 1.6l-0.7 -1.5zM162.5 128.0l-1.5 1.6l-0.7 -1.5zM9.2 120.3l-1.1 1.9l-1.0 -1.3zM13.3 120.3l-1.1 1.9l-1.0 -1.3zM17.4 120.3l-1.1 1.9l-1.0 -1.3zM21.6 120.4l-1.1 1.9l-1.0 -1.3zM25.7 120.4l-1.1 1.9l-1.0 -1.3zM29.8 120.5l-1.2 1.9l-1.0 -1.3zM33.9 120.7l-1.2 1.9l-1.0 -1.4zM38.0 120.9l-1.2 1.8l-0.9 -1.4zM42.1 121.3l-1.3 1.8l-0.9 -1.4zM46.2 121.6l-1.4 1.7l-0.8 -1.5zM50.3 122.0l-1.5 1.6l-0.7 -1.5zM54.4 122.3l-1.6 1.5l-0.6 -1.6zM58.5 122.6l-1.7 1.4l-0.5 -1.6zM62.6 122.8l-1.8 1.4l-0.4 -1.6zM66.7 123.0l-1.8 1.3l-0.4 -1.6zM70.8 123.1l-1.8 1.3l-0.4 -1.6zM74.9 123.1l-1.8 1.3l-0.4 -1.6zM79.0 123.1l-1.8 1.3l-0.4 -1.6zM83.0 123.1l-1.8 1.3l-0.4 -1.6zM87.1 123.0l-1.8 1.3l-0.4 -1.6zM91.1 122.9l-1.7 1.4l-0.5 -1.6zM95.2 122.8l-1.7 1.4l-0.5 -1.6zM99.2 122.7l-1.6 1.5l-0.6 -1.6zM103.2 122.6l-1.6 1.5l-0.6 -1.6zM107.3 122.5l-1.6 1.6l-0.7 -1.5zM111.4 122.4l-1.5 1.6l-0.7 -1.5zM115.5 122.4l-1.5 1.6l-0.7 -1.5zM119.6 122.4l-1.5 1.6l-0.7 -1.5zM123.7 122.4l-1.5 1.6l-0.7 -1.5zM127.9 122.4l-1.5 1.6l-0.7 -1.5zM132.0 122.4l-1.5 1.6l-0.7 -1.5zM136.1 122.4l-1.5 1.6l-0.7 -1.5zM140.3 122.4l-1.5 1.6l-0.7 -1.5zM144.4 122.4l-1.5 1.6l-0.7 -1.5zM148.4 122.4l-1.5 1.6l-0.7 -1.5zM151.9 122.7l-1.5 1.6l-0.7 -1.5zM155.4 123.0l-1.5 1.6l-0.7 -1.5zM159.0 123.3l-1.5 1.6l-0.7 -1.5zM162.7 123.5l-1.5 1.6l-0.7 -1.5zM9.2 115.8l-1.1 1.9l-1.0 -1.3zM13.3 115.8l-1.1 1.9l-1.0 -1.3zM17.4 115.9l-1.1 1.9l-1.0 -1.3zM21.6 115.9l-1.1 1.9l-1.0 -1.3zM25.7 115.9l-1.1 1.9l-1.0 -1.3zM29.8 116.0l-1.2 1.9l-1.0 -1.3zM33.9 116.2l-1.2 1.9l-1.0 -1.4zM38.0 116.4l-1.2 1.8l-0.9 -1.4zM42.1 116.8l-1.3 1.8l-0.9 -1.4zM46.2 117.1l-1.4 1.7l-0.8 -1.5zM50.3 117.5l-1.5 1.6l-0.7 -1.5zM54.4 117.9l-1.6 1.5l-0.6 -1.6zM58.5 118.1l-1.7 1.4l-0.5 -1.6zM62.6 118.4l-1.8 1.4l-0.4 -1.6zM66.7 118.5l-1.8 1.3l-0.4 -1.6zM70.8 118.6l-1.8 1.3l-0.4 -1.6zM74.9 118.6l-1.8 1.3l-0.4 -1.6zM79.0 118.6l-1.8 1.3l-0.4 -1.6zM83.0 118.6l-1.8 1.3l-0.4 -1.6zM87.1 118.5l-1.8 1.3l-0.4 -1.6zM91.1 118.4l-1.7 1.4l-0.5 -1.6zM95.2 118.3l-1.7 1.4l-0.5 -1.6zM99.2 118.2l-1.6 1.5l-0.6 -1.6zM103.2 118.1l-1.6 1.5l-0.6 -1.6zM107.3 118.0l-1.6 1.6l-0.7 -1.5zM111.4 118.0l-1.5 1.6l-0.7 -1.5zM115.5 117.9l-1.5 1.6l-0.7 -1.5zM119.6 117.9l-1.5 1.6l-0.7 -1.5zM123.7 117.9l-1.5 1.6l-0.7 -1.5zM127.9 117.9l-1.5 1.6l-0.7 -1.5zM132.0 117.9l-1.5 1.6l-0.7 -1.5zM136.1 117.9l-1.5 1.6l-0.7 -1.5zM140.3 117.9l-1.5 1.6l-0.7 -1.5zM144.4 117.9l-1.5 1.6l-0.7 -1.5zM148.5 117.9l-1.5 1.6l-0.7 -1.5zM152.3 118.0l-1.5 1.7l-0.7 -1.5zM155.7 118.4l-1.5 1.7l-0.7 -1.5zM159.2 118.7l-1.5 1.7l-0.7 -1.5zM162.9 118.9l-1.5 1.6l-0.7 -1.5zM9.2 111.4l-1.1 1.9l-1.0 -1.3zM13.3 111.4l-1.1 1.9l-1.0 -1.3zM17.4 111.4l-1.1 1.9l-1.0 -1.3zM21.6 111.4l-1.1 1.9l-1.0 -1.3zM25.7 111.5l-1.1 1.9l-1.0 -1.3zM29.8 111.6l-1.2 1.9l-1.0 -1.3zM33.9 111.7l-1.2 1.9l-1.0 -1.4zM38.0 112.0l-1.2 1.8l-0.9 -1.4zM42.1 112.3l-1.3 1.8l-0.9 -1.4zM46.2 112.6l-1.4 1.7l-0.8 -1.5zM50.3 113.0l-1.5 1.6l-0.7 -1.5zM54.4 113.4l-1.6 1.5l-0.6 -1.6zM58.5 113.7l-1.7 1.4l-0.5 -1.6zM62.6 113.9l-1.8 1.4l-0.5 -1.6zM66.7 114.0l-1.8 1.3l-0.4 -1.6zM70.8 114.1l-1.8 1.3l-0.4 -1.6zM74.9 114.1l-1.8 1.3l-0.4 -1.6zM79.0 114.1l-1.8 1.3l-0.4 -1.6zM83.0 114.1l-1.8 1.3l-0.4 -1.6zM87.1 114.0l-1.8 1.3l-0.4 -1.6zM91.1 113.9l-1.7 1.4l-0.5 -1.6zM95.2 113.8l-1.7 1.4l-0.5 -1.6zM99.2 113.7l-1.6 1.5l-0.6 -1.6zM103.2 113.6l-1.6 1.5l-0.6 -1.6zM107.3 113.5l-1.6 1.6l-0.7 -1.5zM111.4 113.5l-1.5 1.6l-0.7 -1.5zM115.5 113.4l-1.5 1.6l-0.7 -1.5zM119.6 113.4l-1.5 1.6l-0.7 -1.5zM123.7 113.4l-1.5 1.6l-0.7 -1.5zM127.9 113.4l-1.5 1.6l-0.7 -1.5zM132.0 113.4l-1.5 1.6l-0.7 -1.5zM136.1 113.4l-1.5 1.6l-0.7 -1.5zM140.2 113.4l-1.5 1.6l-0.7 -1.5zM144.3 113.4l-1.5 1.6l-0.7 -1.5zM148.4 113.4l-1.5 1.7l-0.7 -1.5zM152.5 113.4l-1.5 1.7l-0.7 -1.5zM156.0 113.7l-1.5 1.7l-0.8 -1.5zM159.4 114.0l-1.5 1.7l-0.8 -1.5zM163.0 114.3l-1.5 1.7l-0.7 -1.5zM9.2 106.9l-1.1 1.9l-1.0 -1.3zM13.3 106.9l-1.1 1.9l-1.0 -1.3zM17.4 106.9l-1.1 1.9l-1.0 -1.3zM21.6 106.9l-1.1 1.9l-1.0 -1.3zM25.7 107.0l-1.1 1.9l-1.0 -1.3zM29.8 107.1l-1.1 1.9l-1.0 -1.3zM33.9 107.2l-1.2 1.9l-1.0 -1.4zM38.0 107.5l-1.2 1.8l-0.9 -1.4zM42.1 107.8l-1.3 1.8l-0.9 -1.4zM46.2 108.1l-1.4 1.7l-0.8 -1.5zM50.3 108.5l-1.5 1.6l-0.7 -1.5zM54.4 108.9l-1.6 1.5l-0.6 -1.6zM58.5 109.2l-1.7 1.4l-0.5 -1.6zM62.6 109.4l-1.7 1.4l-0.5 -1.6zM66.7 109.5l-1.8 1.3l-0.4 -1.6zM70.8 109.6l-1.8 1.3l-0.4 -1.6zM74.9 109.7l-1.8 1.3l-0.4 -1.6zM79.0 109.7l-1.8 1.3l-0.4 -1.6zM83.0 109.6l-1.8 1.3l-0.4 -1.6zM87.1 109.5l-1.8 1.3l-0.4 -1.6zM91.1 109.4l-1.7 1.4l-0.5 -1.6zM95.1 109.3l-1.7 1.4l-0.5 -1.6zM99.2 109.2l-1.6 1.5l-0.6 -1.6zM103.2 109.1l-1.6 1.5l-0.6 -1.6zM107.3 109.0l-1.6 1.6l-0.7 -1.5zM111.4 109.0l-1.5 1.6l-0.7 -1.5zM115.5 109.0l-1.5 1.6l-0.7 -1.5zM119.6 108.9l-1.5 1.6l-0.7 -1.5zM123.7 108.9l-1.5 1.6l-0.7 -1.5zM127.9 108.9l-1.5 1.6l-0.7 -1.5zM132.0 108.9l-1.5 1.6l-0.7 -1.5zM136.1 108.9l-1.5 1.6l-0.7 -1.5zM140.2 108.9l-1.5 1.6l-0.7 -1.5zM144.3 108.9l-1.5 1.7l-0.7 -1.5zM148.4 108.9l-1.5 1.7l-0.8 -1.5zM152.4 108.9l-1.4 1.7l-0.8 -1.5zM156.1 109.1l-1.4 1.7l-0.8 -1.5zM159.6 109.4l-1.4 1.7l-0.8 -1.5zM163.1 109.8l-1.4 1.7l-0.8 -1.5zM9.2 102.4l-1.1 1.9l-1.0 -1.3zM13.3 102.4l-1.1 1.9l-1.0 -1.3zM17.4 102.4l-1.1 1.9l-1.0 -1.3zM21.6 102.4l-1.1 1.9l-1.0 -1.3zM25.7 102.5l-1.1 1.9l-1.0 -1.3zM29.8 102.6l-1.1 1.9l-1.0 -1.3zM33.9 102.7l-1.2 1.9l-1.0 -1.4zM38.0 103.0l-1.2 1.8l-0.9 -1.4zM42.1 103.3l-1.3 1.8l-0.9 -1.4zM46.2 103.6l-1.4 1.7l-0.8 -1.5zM50.3 104.0l-1.5 1.6l-0.7 -1.5zM54.4 104.4l-1.6 1.5l-0.6 -1.6zM58.5 104.6l-1.7 1.4l-0.5 -1.6zM62.6 104.9l-1.7 1.4l-0.5 -1.6zM66.7 105.0l-1.8 1.3l-0.4 -1.6zM70.8 105.1l-1.8 1.3l-0.4 -1.6zM74.9 105.2l-1.8 1.3l-0.4 -1.6zM79.0 105.2l-1.8 1.3l-0.4 -1.6zM83.0 105.1l-1.8 1.3l-0.4 -1.6zM87.1 105.1l-1.8 1.3l-0.4 -1.6zM91.1 105.0l-1.7 1.4l-0.5 -1.6zM95.1 104.8l-1.7 1.4l-0.5 -1.6zM99.2 104.7l-1.6 1.5l-0.6 -1.6zM103.2 104.6l-1.6 1.5l-0.6 -1.6zM107.3 104.6l-1.6 1.6l-0.7 -1.5zM111.4 104.5l-1.5 1.6l-0.7 -1.5zM115.5 104.5l-1.5 1.6l-0.7 -1.5zM119.6 104.5l-1.5 1.6l-0.7 -1.5zM123.7 104.5l-1.5 1.6l-0.7 -1.5zM127.9 104.5l-1.5 1.6l-0.7 -1.5zM132.0 104.4l-1.5 1.6l-0.7 -1.5zM136.1 104.4l-1.5 1.6l-0.7 -1.5zM140.2 104.4l-1.5 1.7l-0.7 -1.5zM144.2 104.4l-1.5 1.7l-0.8 -1.5zM148.2 104.4l-1.4 1.7l-0.8 -1.5zM152.3 104.3l-1.4 1.7l-0.8 -1.5zM156.3 104.4l-1.4 1.7l-0.8 -1.5zM159.6 104.8l-1.4 1.7l-0.8 -1.5zM163.2 105.2l-1.4 1.7l-0.8 -1.5zM9.2 97.9l-1.1 1.9l-1.0 -1.3zM13.3 97.9l-1.1 1.9l-1.0 -1.3zM17.4 97.9l-1.1 1.9l-1.0 -1.3zM21.6 98.0l-1.1 1.9l-1.0 -1.3zM25.7 98.0l-1.1 1.9l-1.0 -1.3zM29.8 98.1l-1.1 1.9l-1.0 -1.3zM33.9 98.2l-1.2 1.9l-1.0 -1.4zM38.0 98.5l-1.2 1.8l-0.9 -1.4zM42.1 98.7l-1.3 1.8l-0.9 -1.4zM46.2 99.1l-1.4 1.7l-0.8 -1.5zM50.3 99.5l-1.5 1.6l-0.7 -1.5zM54.4 99.8l-1.6 1.5l-0.6 -1.6zM58.5 100.1l-1.7 1.5l-0.5 -1.6zM62.6 100.3l-1.7 1.4l-0.5 -1.6zM66.7 100.5l-1.8 1.3l-0.4 -1.6zM70.8 100.6l-1.8 1.3l-0.4 -1.6zM74.9 100.7l-1.8 1.3l-0.4 -1.6zM79.0 100.7l-1.8 1.3l-0.4 -1.6zM83.0 100.6l-1.8 1.3l-0.4 -1.6zM87.1 100.6l-1.8 1.3l-0.4 -1.6zM91.1 100.5l-1.7 1.4l-0.5 -1.6zM95.1 100.3l-1.7 1.5l-0.5 -1.6zM99.2 100.2l-1.6 1.5l-0.6 -1.6zM103.2 100.1l-1.6 1.6l-0.6 -1.5zM107.3 100.1l-1.6 1.6l-0.7 -1.5zM111.4 100.0l-1.5 1.6l-0.7 -1.5zM115.5 100.0l-1.5 1.6l-0.7 -1.5zM119.6 100.0l-1.5 1.6l-0.7 -1.5zM123.7 100.0l-1.5 1.6l-0.7 -1.5zM127.9 100.0l-1.5 1.6l-0.7 -1.5zM132.0 100.0l-1.5 1.6l-0.7 -1.5zM136.1 100.0l-1.5 1.6l-0.7 -1.5zM140.1 99.9l-1.5 1.7l-0.8 -1.5zM144.1 99.9l-1.4 1.7l-0.8 -1.5zM148.1 99.8l-1.4 1.8l-0.8 -1.5zM152.1 99.8l-1.3 1.8l-0.9 -1.4zM156.1 99.8l-1.3 1.8l-0.9 -1.4zM159.7 100.2l-1.3 1.8l-0.9 -1.4zM163.2 100.6l-1.3 1.8l-0.9 -1.4zM9.2 93.5l-1.1 1.9l-1.0 -1.3zM13.3 93.5l-1.1 1.9l-1.0 -1.3zM17.4 93.5l-1.1 1.9l-1.0 -1.3zM21.6 93.5l-1.1 1.9l-1.0 -1.3zM25.7 93.5l-1.1 1.9l-1.0 -1.3zM29.8 93.6l-1.1 1.9l-1.0 -1.3zM33.9 93.7l-1.2 1.9l-1.0 -1.4zM38.1 93.9l-1.2 1.9l-0.9 -1.4zM42.2 94.2l-1.3 1.8l-0.9 -1.4zM46.2 94.6l-1.4 1.7l-0.8 -1.5zM50.3 94.9l-1.5 1.7l-0.7 -1.5zM54.4 95.3l-1.6 1.6l-0.6 -1.5zM58.5 95.6l-1.7 1.5l-0.6 -1.6zM62.6 95.8l-1.7 1.4l-0.5 -1.6zM66.7 96.0l-1.8 1.3l-0.4 -1.6zM70.8 96.1l-1.8 1.3l-0.4 -1.6zM74.9 96.2l-1.8 1.3l-0.4 -1.6zM79.0 96.2l-1.8 1.3l-0.4 -1.6zM83.0 96.1l-1.8 1.3l-0.4 -1.6zM87.1 96.1l-1.8 1.4l-0.4 -1.6zM91.1 96.0l-1.7 1.4l-0.5 -1.6zM95.1 95.8l-1.7 1.5l-0.5 -1.6zM99.1 95.7l-1.6 1.5l-0.6 -1.6zM103.2 95.6l-1.6 1.6l-0.6 -1.5zM107.3 95.6l-1.6 1.6l-0.7 -1.5zM111.4 95.5l-1.5 1.6l-0.7 -1.5zM115.5 95.5l-1.5 1.6l-0.7 -1.5zM119.6 95.5l-1.5 1.6l-0.7 -1.5zM123.7 95.5l-1.5 1.6l-0.7 -1.5zM127.9 95.5l-1.5 1.6l-0.7 -1.5zM132.0 95.5l-1.5 1.6l-0.7 -1.5zM136.0 95.5l-1.5 1.7l-0.7 -1.5zM140.0 95.4l-1.4 1.7l-0.8 -1.5zM143.9 95.4l-1.4 1.8l-0.8 -1.5zM147.8 95.3l-1.3 1.8l-0.9 -1.4zM151.8 95.2l-1.2 1.9l-1.0 -1.4zM155.8 95.2l-1.1 1.9l-1.0 -1.3zM159.6 95.5l-1.2 1.9l-1.0 -1.3zM163.1 96.0l-1.2 1.9l-0.9 -1.4zM9.2 89.0l-1.1 1.9l-1.0 -1.3zM13.3 89.0l-1.1 1.9l-1.0 -1.3zM17.4 89.0l-1.1 1.9l-1.0 -1.3zM21.6 89.1l-1.1 1.9l-1.0 -1.3zM25.7 89.1l-1.1 1.9l-1.0 -1.3zM29.8 89.2l-1.2 1.9l-1.0 -1.3zM33.9 89.3l-1.2 1.9l-1.0 -1.4zM38.1 89.5l-1.2 1.9l-0.9 -1.4zM42.2 89.7l-1.3 1.8l-0.9 -1.4zM46.2 90.0l-1.4 1.7l-0.8 -1.5zM50.3 90.4l-1.5 1.7l-0.7 -1.5zM54.4 90.8l-1.6 1.6l-0.7 -1.5zM58.5 91.1l-1.6 1.5l-0.6 -1.6zM62.6 91.3l-1.7 1.4l-0.5 -1.6zM66.7 91.5l-1.8 1.4l-0.5 -1.6zM70.8 91.6l-1.8 1.3l-0.4 -1.6zM74.9 91.6l-1.8 1.3l-0.4 -1.6zM78.9 91.7l-1.8 1.3l-0.4 -1.6zM83.0 91.6l-1.8 1.3l-0.4 -1.6zM87.0 91.6l-1.7 1.4l-0.5 -1.6zM91.1 91.5l-1.7 1.4l-0.5 -1.6zM95.1 91.3l-1.7 1.5l-0.6 -1.6zM99.1 91.2l-1.6 1.5l-0.6 -1.6zM103.2 91.2l-1.6 1.6l-0.6 -1.5zM107.3 91.1l-1.5 1.6l-0.7 -1.5zM111.4 91.1l-1.5 1.6l-0.7 -1.5zM115.5 91.0l-1.5 1.6l-0.7 -1.5zM119.6 91.0l-1.5 1.6l-0.7 -1.5zM123.7 91.0l-1.5 1.6l-0.7 -1.5zM127.9 91.0l-1.5 1.6l-0.7 -1.5zM131.9 91.0l-1.5 1.6l-0.7 -1.5zM136.0 91.0l-1.5 1.7l-0.8 -1.5zM139.9 90.9l-1.4 1.7l-0.8 -1.5zM143.7 90.8l-1.3 1.8l-0.9 -1.4zM147.5 90.7l-1.1 1.9l-1.0 -1.3zM151.4 90.7l-1.0 2.0l-1.1 -1.3zM155.5 90.6l-1.0 2.0l-1.1 -1.2zM159.6 90.7l-1.0 2.0l-1.1 -1.3zM163.1 91.4l-1.1 1.9l-1.1 -1.3zM9.2 84.7l-1.2 1.9l-1.0 -1.4zM13.3 84.7l-1.2 1.9l-1.0 -1.4zM17.4 84.8l-1.2 1.9l-1.0 -1.4zM21.6 84.8l-1.2 1.9l-1.0 -1.4zM25.7 84.8l-1.2 1.9l-1.0 -1.4zM29.8 84.8l-1.2 1.9l-1.0 -1.4zM33.9 84.9l-1.2 1.9l-1.0 -1.4zM38.0 85.1l-1.2 1.8l-0.9 -1.4zM42.2 85.3l-1.3 1.8l-0.9 -1.4zM46.2 85.6l-1.4 1.7l-0.8 -1.5zM50.3 85.9l-1.5 1.7l-0.8 -1.5zM54.4 86.2l-1.5 1.6l-0.7 -1.5zM58.5 86.5l-1.6 1.5l-0.6 -1.6zM62.6 86.8l-1.7 1.4l-0.5 -1.6zM66.7 87.0l-1.7 1.4l-0.5 -1.6zM70.8 87.1l-1.8 1.3l-0.4 -1.6zM74.9 87.2l-1.8 1.3l-0.4 -1.6zM78.9 87.2l-1.8 1.3l-0.4 -1.6zM83.0 87.1l-1.8 1.3l-0.4 -1.6zM87.0 87.1l-1.7 1.4l-0.5 -1.6zM91.0 87.0l-1.7 1.4l-0.5 -1.6zM95.1 86.9l-1.7 1.5l-0.6 -1.6zM99.1 86.8l-1.6 1.5l-0.6 -1.6zM103.2 86.7l-1.6 1.6l-0.6 -1.5zM107.3 86.6l-1.5 1.6l-0.7 -1.5zM111.4 86.6l-1.5 1.6l-0.7 -1.5zM115.5 86.6l-1.5 1.6l-0.7 -1.5zM119.6 86.6l-1.5 1.6l-0.7 -1.5zM123.7 86.5l-1.5 1.6l-0.7 -1.5zM127.8 86.5l-1.5 1.6l-0.7 -1.5zM131.9 86.5l-1.5 1.7l-0.7 -1.5zM135.9 86.5l-1.4 1.7l-0.8 -1.5zM139.7 86.4l-1.3 1.8l-0.9 -1.4zM143.4 86.3l-1.2 1.9l-1.0 -1.3zM147.2 86.2l-1.0 2.0l-1.1 -1.2zM151.1 86.1l-0.8 2.1l-1.2 -1.2zM155.1 86.1l-0.8 2.1l-1.2 -1.1zM159.3 86.1l-0.8 2.1l-1.2 -1.1zM163.0 86.7l-0.9 2.0l-1.2 -1.2zM9.2 80.7l-1.3 1.8l-0.9 -1.4zM13.3 80.7l-1.3 1.8l-0.9 -1.4zM17.4 80.8l-1.3 1.8l-0.9 -1.4zM21.6 80.8l-1.3 1.8l-0.9 -1.4zM25.7 80.8l-1.3 1.8l-0.9 -1.4zM29.8 80.8l-1.3 1.8l-0.9 -1.4zM33.9 80.8l-1.3 1.8l-0.9 -1.4zM38.0 80.9l-1.3 1.8l-0.9 -1.4zM42.1 81.1l-1.4 1.8l-0.8 -1.5zM46.2 81.3l-1.4 1.7l-0.8 -1.5zM50.3 81.5l-1.5 1.6l-0.7 -1.5zM54.4 81.8l-1.6 1.6l-0.7 -1.5zM58.5 82.1l-1.6 1.5l-0.6 -1.6zM62.6 82.4l-1.7 1.4l-0.5 -1.6zM66.7 82.5l-1.8 1.4l-0.4 -1.6zM70.8 82.7l-1.8 1.3l-0.4 -1.6zM74.8 82.7l-1.8 1.3l-0.4 -1.6zM78.9 82.8l-1.8 1.3l-0.4 -1.6zM82.9 82.7l-1.8 1.3l-0.4 -1.6zM87.0 82.7l-1.8 1.3l-0.4 -1.6zM91.0 82.6l-1.7 1.4l-0.5 -1.6zM95.1 82.5l-1.7 1.4l-0.5 -1.6zM99.1 82.4l-1.6 1.5l-0.6 -1.6zM103.2 82.3l-1.6 1.5l-0.6 -1.6zM107.3 82.2l-1.6 1.6l-0.7 -1.5zM111.4 82.2l-1.5 1.6l-0.7 -1.5zM115.5 82.1l-1.5 1.6l-0.7 -1.5zM119.6 82.1l-1.5 1.6l-0.7 -1.5zM123.7 82.1l-1.5 1.6l-0.7 -1.5zM127.8 82.1l-1.5 1.6l-0.7 -1.5zM131.9 82.0l-1.5 1.7l-0.7 -1.5zM135.7 82.0l-1.4 1.7l-0.8 -1.5zM139.4 81.8l-1.2 1.9l-0.9 -1.4zM143.1 81.7l-1.0 2.0l-1.1 -1.3zM146.9 81.6l-0.8 2.1l-1.2 -1.1zM150.8 81.5l-0.6 2.1l-1.3 -1.0zM154.8 81.5l-0.6 2.1l-1.3 -1.0zM159.0 81.5l-0.6 2.1l-1.3 -1.0zM162.9 82.0l-0.7 2.1l-1.3 -1.1zM9.2 77.0l-1.5 1.6l-0.7 -1.5zM13.3 77.0l-1.5 1.6l-0.7 -1.5zM17.4 77.0l-1.5 1.6l-0.7 -1.5zM21.5 77.0l-1.5 1.6l-0.7 -1.5zM25.7 77.0l-1.5 1.6l-0.7 -1.5zM29.8 77.0l-1.5 1.6l-0.7 -1.5zM33.9 77.1l-1.5 1.6l-0.7 -1.5zM38.0 77.1l-1.5 1.6l-0.7 -1.5zM42.1 77.2l-1.5 1.6l-0.7 -1.5zM46.1 77.3l-1.6 1.6l-0.7 -1.5zM50.2 77.5l-1.6 1.5l-0.6 -1.6zM54.3 77.7l-1.7 1.5l-0.6 -1.6zM58.4 78.0l-1.7 1.4l-0.5 -1.6zM62.5 78.2l-1.8 1.3l-0.4 -1.6zM66.6 78.4l-1.8 1.2l-0.3 -1.6zM70.7 78.5l-1.9 1.2l-0.3 -1.6zM74.8 78.6l-1.9 1.2l-0.3 -1.7zM78.8 78.6l-1.9 1.1l-0.3 -1.7zM82.9 78.6l-1.9 1.2l-0.3 -1.7zM86.9 78.5l-1.9 1.2l-0.3 -1.6zM91.0 78.4l-1.8 1.3l-0.4 -1.6zM95.0 78.3l-1.8 1.3l-0.4 -1.6zM99.1 78.1l-1.7 1.4l-0.5 -1.6zM103.2 78.0l-1.7 1.5l-0.5 -1.6zM107.3 77.9l-1.6 1.5l-0.6 -1.6zM111.4 77.8l-1.6 1.5l-0.6 -1.6zM115.5 77.8l-1.6 1.6l-0.6 -1.5zM119.6 77.7l-1.6 1.6l-0.7 -1.5zM123.7 77.7l-1.5 1.6l-0.7 -1.5zM127.8 77.6l-1.5 1.6l-0.7 -1.5zM131.8 77.6l-1.5 1.7l-0.7 -1.5zM135.5 77.5l-1.3 1.8l-0.9 -1.4zM139.1 77.3l-1.1 1.9l-1.0 -1.3zM142.8 77.1l-0.8 2.1l-1.2 -1.2zM146.6 77.0l-0.6 2.1l-1.3 -1.0zM150.5 77.0l-0.4 2.2l-1.4 -0.9zM154.6 77.0l-0.4 2.2l-1.4 -0.9zM158.7 77.0l-0.4 2.2l-1.4 -0.9zM162.8 77.2l-0.5 2.2l-1.4 -0.9zM9.2 73.2l-1.7 1.5l-0.5 -1.6zM13.3 73.2l-1.7 1.4l-0.5 -1.6zM17.4 73.3l-1.7 1.4l-0.5 -1.6zM21.5 73.3l-1.7 1.4l-0.5 -1.6zM25.6 73.3l-1.7 1.4l-0.5 -1.6zM29.7 73.4l-1.7 1.4l-0.5 -1.6zM33.8 73.4l-1.7 1.4l-0.5 -1.6zM37.8 73.5l-1.7 1.4l-0.5 -1.6zM41.9 73.6l-1.8 1.4l-0.4 -1.6zM46.0 73.7l-1.8 1.3l-0.4 -1.6zM50.0 73.9l-1.8 1.2l-0.4 -1.6zM54.1 74.1l-1.9 1.2l-0.3 -1.7zM58.2 74.3l-1.9 1.1l-0.2 -1.7zM62.4 74.5l-2.0 1.0l-0.1 -1.7zM66.4 74.7l-2.0 0.9l-0.0 -1.7zM70.5 74.9l-2.1 0.8l0.0 -1.7zM74.6 75.0l-2.1 0.8l0.1 -1.7zM78.7 75.0l-2.1 0.7l0.1 -1.7zM82.8 75.0l-2.1 0.8l0.1 -1.7zM86.8 74.9l-2.1 0.8l0.0 -1.7zM90.9 74.7l-2.0 0.9l-0.0 -1.7zM95.0 74.6l-2.0 1.0l-0.1 -1.7zM99.1 74.4l-1.9 1.1l-0.2 -1.7zM103.2 74.1l-1.9 1.2l-0.3 -1.6zM107.3 73.9l-1.8 1.3l-0.4 -1.6zM111.4 73.8l-1.8 1.4l-0.4 -1.6zM115.5 73.6l-1.7 1.4l-0.5 -1.6zM119.6 73.5l-1.7 1.5l-0.6 -1.6zM123.7 73.4l-1.6 1.5l-0.6 -1.6zM127.8 73.3l-1.6 1.6l-0.6 -1.5zM131.7 73.2l-1.5 1.6l-0.7 -1.5zM135.3 73.0l-1.3 1.8l-0.9 -1.4zM138.8 72.8l-1.0 2.0l-1.1 -1.2zM142.5 72.6l-0.6 2.1l-1.3 -1.0zM146.3 72.5l-0.4 2.2l-1.4 -0.9zM150.3 72.5l-0.3 2.2l-1.5 -0.8zM154.4 72.4l-0.2 2.2l-1.5 -0.8zM158.6 72.4l-0.2 2.2l-1.5 -0.8zM162.7 72.5l-0.3 2.2l-1.4 -0.8zM9.1 69.2l-1.8 1.3l-0.4 -1.6zM13.3 69.3l-1.8 1.3l-0.4 -1.6zM17.4 69.3l-1.8 1.3l-0.4 -1.6zM21.5 69.3l-1.8 1.2l-0.3 -1.6zM25.5 69.4l-1.9 1.2l-0.3 -1.6zM29.6 69.5l-1.9 1.2l-0.3 -1.6zM33.6 69.6l-1.9 1.1l-0.3 -1.7zM37.6 69.8l-1.9 1.1l-0.2 -1.7zM41.6 70.0l-2.0 1.0l-0.1 -1.7zM45.7 70.2l-2.0 0.9l-0.0 -1.7zM49.7 70.5l-2.1 0.8l0.1 -1.7zM53.8 70.7l-2.1 0.6l0.2 -1.7zM58.0 71.0l-2.2 0.5l0.3 -1.7zM62.1 71.2l-2.2 0.4l0.4 -1.6zM66.2 71.4l-2.2 0.3l0.4 -1.6zM70.3 71.6l-2.2 0.2l0.5 -1.6zM74.4 71.7l-2.2 0.1l0.5 -1.6zM78.5 71.7l-2.2 0.1l0.5 -1.6zM82.6 71.7l-2.2 0.1l0.5 -1.6zM86.7 71.6l-2.2 0.2l0.5 -1.6zM90.8 71.4l-2.2 0.2l0.5 -1.6zM94.9 71.2l-2.2 0.3l0.4 -1.6zM99.0 71.0l-2.2 0.5l0.3 -1.7zM103.1 70.7l-2.1 0.6l0.2 -1.7zM107.3 70.4l-2.1 0.8l0.0 -1.7zM111.4 70.1l-2.0 0.9l-0.1 -1.7zM115.5 69.9l-1.9 1.1l-0.2 -1.7zM119.6 69.7l-1.9 1.2l-0.3 -1.6zM123.6 69.5l-1.8 1.3l-0.4 -1.6zM127.4 69.3l-1.7 1.4l-0.5 -1.6zM131.3 69.1l-1.6 1.6l-0.7 -1.5zM135.1 68.6l-1.3 1.8l-0.9 -1.4zM138.6 68.3l-0.8 2.1l-1.2 -1.2zM142.3 68.1l-0.5 2.2l-1.4 -1.0zM146.2 68.0l-0.3 2.2l-1.5 -0.8zM150.2 68.0l-0.2 2.2l-1.5 -0.8zM154.3 67.9l-0.1 2.2l-1.5 -0.7zM158.4 67.9l-0.2 2.2l-1.5 -0.7zM162.6 68.0l-0.2 2.2l-1.5 -0.8zM9.1 65.0l-1.9 1.2l-0.3 -1.6zM13.2 65.1l-1.9 1.2l-0.3 -1.7zM17.3 65.1l-1.9 1.1l-0.3 -1.7zM21.4 65.2l-1.9 1.1l-0.2 -1.7zM25.4 65.3l-1.9 1.1l-0.2 -1.7zM29.4 65.5l-2.0 1.0l-0.1 -1.7zM33.4 65.8l-2.0 0.9l-0.0 -1.7zM37.3 66.0l-2.1 0.7l0.1 -1.7zM41.3 66.3l-2.1 0.6l0.2 -1.7zM45.3 66.6l-2.2 0.4l0.3 -1.6zM49.4 66.9l-2.2 0.2l0.5 -1.6zM53.5 67.2l-2.2 0.1l0.6 -1.6zM57.7 67.5l-2.2 -0.0l0.7 -1.5zM61.8 67.7l-2.2 -0.1l0.7 -1.5zM66.0 67.9l-2.2 -0.2l0.8 -1.5zM70.1 68.0l-2.2 -0.3l0.8 -1.5zM74.2 68.0l-2.2 -0.3l0.8 -1.5zM78.4 68.0l-2.2 -0.3l0.8 -1.4zM82.5 68.0l-2.2 -0.3l0.8 -1.4zM86.6 68.0l-2.2 -0.3l0.8 -1.5zM90.7 67.9l-2.2 -0.2l0.8 -1.5zM94.8 67.7l-2.2 -0.2l0.7 -1.5zM99.0 67.5l-2.2 -0.1l0.7 -1.5zM103.1 67.3l-2.2 0.0l0.6 -1.6zM107.2 67.0l-2.2 0.2l0.5 -1.6zM111.4 66.7l-2.2 0.3l0.4 -1.6zM115.5 66.4l-2.2 0.5l0.3 -1.7zM119.5 66.1l-2.1 0.7l0.1 -1.7zM123.3 65.8l-2.0 0.9l-0.0 -1.7zM127.1 65.5l-2.0 1.1l-0.2 -1.7zM131.0 65.1l-1.7 1.4l-0.5 -1.6zM134.9 64.3l-1.3 1.8l-0.9 -1.4zM138.4 63.9l-0.8 2.1l-1.2 -1.1zM142.1 63.6l-0.4 2.2l-1.4 -0.9zM146.1 63.5l-0.2 2.2l-1.5 -0.8zM150.1 63.5l-0.1 2.2l-1.5 -0.7zM154.2 63.4l-0.1 2.2l-1.5 -0.7zM158.4 63.4l-0.1 2.2l-1.5 -0.7zM162.5 63.5l-0.1 2.2l-1.5 -0.7zM9.0 60.7l-1.9 1.1l-0.2 -1.7zM13.1 60.8l-1.9 1.1l-0.2 -1.7zM17.2 60.9l-2.0 1.0l-0.2 -1.7zM21.2 61.1l-2.0 1.0l-0.1 -1.7zM25.2 61.3l-2.0 0.9l-0.0 -1.7zM29.1 61.6l-2.1 0.7l0.1 -1.7zM33.0 61.9l-2.1 0.6l0.2 -1.7zM36.9 62.2l-2.2 0.3l0.4 -1.6zM40.9 62.6l-2.2 0.1l0.5 -1.6zM44.9 62.9l-2.2 -0.1l0.7 -1.5zM49.0 63.1l-2.2 -0.2l0.8 -1.5zM53.2 63.4l-2.2 -0.3l0.8 -1.4zM57.4 63.6l-2.2 -0.4l0.9 -1.4zM61.7 63.7l-2.2 -0.4l0.9 -1.4zM65.9 63.9l-2.2 -0.5l0.9 -1.4zM70.0 63.9l-2.2 -0.5l1.0 -1.4zM74.2 64.0l-2.2 -0.5l1.0 -1.4zM78.3 64.0l-2.2 -0.5l1.0 -1.4zM82.4 64.0l-2.2 -0.5l1.0 -1.4zM86.5 63.9l-2.2 -0.5l1.0 -1.4zM90.7 63.9l-2.2 -0.5l0.9 -1.4zM94.8 63.8l-2.2 -0.4l0.9 -1.4zM98.9 63.7l-2.2 -0.4l0.9 -1.4zM103.1 63.5l-2.2 -0.3l0.8 -1.4zM107.2 63.3l-2.2 -0.2l0.8 -1.5zM111.3 63.1l-2.2 -0.1l0.7 -1.5zM115.5 62.8l-2.2 0.0l0.6 -1.6zM119.5 62.5l-2.2 0.2l0.5 -1.6zM123.2 62.1l-2.2 0.3l0.4 -1.6zM126.9 61.7l-2.1 0.6l0.2 -1.7zM130.7 61.2l-2.0 1.0l-0.2 -1.7zM134.7 60.2l-1.5 1.7l-0.8 -1.5zM138.3 59.5l-0.8 2.1l-1.2 -1.1zM142.0 59.2l-0.3 2.2l-1.4 -0.9zM146.0 59.0l-0.2 2.2l-1.5 -0.7zM150.1 59.0l-0.1 2.2l-1.5 -0.7zM154.2 59.0l-0.0 2.2l-1.5 -0.7zM158.3 59.0l-0.0 2.2l-1.5 -0.7zM162.5 59.0l-0.1 2.2l-1.5 -0.7zM8.8 56.5l-2.0 1.0l-0.2 -1.7zM12.9 56.6l-2.0 1.0l-0.1 -1.7zM16.9 56.8l-2.0 0.9l-0.1 -1.7zM20.9 57.0l-2.1 0.8l0.0 -1.7zM24.8 57.3l-2.1 0.6l0.2 -1.7zM28.7 57.7l-2.2 0.4l0.4 -1.6zM32.5 58.1l-2.2 0.1l0.5 -1.6zM36.5 58.4l-2.2 -0.1l0.7 -1.5zM40.5 58.7l-2.2 -0.3l0.8 -1.5zM44.6 58.9l-2.2 -0.4l0.9 -1.4zM48.7 59.1l-2.2 -0.5l1.0 -1.4zM53.0 59.2l-2.2 -0.5l1.0 -1.3zM57.3 59.4l-2.1 -0.6l1.0 -1.3zM61.5 59.5l-2.1 -0.6l1.0 -1.3zM65.8 59.6l-2.1 -0.6l1.0 -1.3zM70.0 59.7l-2.1 -0.6l1.0 -1.3zM74.1 59.7l-2.1 -0.6l1.0 -1.3zM78.3 59.7l-2.1 -0.6l1.0 -1.3zM82.4 59.7l-2.1 -0.6l1.0 -1.3zM86.5 59.7l-2.1 -0.6l1.0 -1.3zM90.6 59.6l-2.1 -0.6l1.0 -1.3zM94.8 59.6l-2.2 -0.5l1.0 -1.3zM98.9 59.5l-2.2 -0.5l1.0 -1.4zM103.0 59.4l-2.2 -0.5l0.9 -1.4zM107.2 59.3l-2.2 -0.4l0.9 -1.4zM111.3 59.1l-2.2 -0.4l0.9 -1.4zM115.5 59.0l-2.2 -0.3l0.8 -1.5zM119.6 58.8l-2.2 -0.2l0.8 -1.5zM123.2 58.3l-2.2 -0.1l0.7 -1.5zM126.8 57.8l-2.2 0.2l0.5 -1.6zM130.6 57.1l-2.1 0.6l0.2 -1.7zM134.6 56.1l-1.6 1.5l-0.6 -1.6zM138.2 55.2l-0.8 2.1l-1.2 -1.1zM142.0 54.8l-0.3 2.2l-1.4 -0.9zM146.0 54.6l-0.1 2.2l-1.5 -0.7zM150.0 54.5l-0.1 2.2l-1.5 -0.7zM154.1 54.5l-0.0 2.2l-1.5 -0.7zM158.3 54.5l-0.0 2.2l-1.5 -0.6zM162.4 54.5l-0.0 2.2l-1.5 -0.7zM8.3 52.4l-2.1 0.8l0.0 -1.7zM12.3 52.6l-2.1 0.7l0.1 -1.7zM16.3 52.8l-2.1 0.6l0.2 -1.7zM20.2 53.2l-2.2 0.4l0.3 -1.6zM24.1 53.5l-2.2 0.1l0.5 -1.6zM28.0 53.9l-2.2 -0.1l0.7 -1.5zM32.0 54.2l-2.2 -0.4l0.9 -1.4zM36.0 54.4l-2.2 -0.5l1.0 -1.4zM40.1 54.6l-2.1 -0.6l1.0 -1.3zM44.2 54.7l-2.1 -0.7l1.1 -1.3zM48.5 54.8l-2.1 -0.7l1.1 -1.3zM52.8 54.9l-2.1 -0.7l1.1 -1.3zM57.1 55.1l-2.1 -0.7l1.1 -1.3zM61.4 55.2l-2.1 -0.6l1.1 -1.3zM65.7 55.2l-2.1 -0.6l1.0 -1.3zM69.9 55.3l-2.1 -0.6l1.0 -1.3zM74.1 55.3l-2.1 -0.6l1.0 -1.3zM78.2 55.3l-2.1 -0.6l1.0 -1.3zM82.4 55.3l-2.1 -0.6l1.0 -1.3zM86.5 55.3l-2.1 -0.6l1.0 -1.3zM90.6 55.2l-2.1 -0.6l1.0 -1.3zM94.8 55.2l-2.1 -0.6l1.0 -1.3zM98.9 55.2l-2.1 -0.6l1.0 -1.3zM103.0 55.1l-2.1 -0.5l1.0 -1.3zM107.2 55.0l-2.2 -0.5l1.0 -1.4zM111.3 54.9l-2.2 -0.5l1.0 -1.4zM115.4 54.8l-2.2 -0.4l0.9 -1.4zM119.6 54.7l-2.2 -0.4l0.9 -1.4zM123.0 54.1l-2.2 -0.3l0.8 -1.5zM126.6 53.6l-2.2 -0.1l0.7 -1.5zM130.4 52.9l-2.2 0.3l0.4 -1.6zM134.4 51.9l-1.8 1.3l-0.4 -1.6zM138.2 50.8l-0.9 2.0l-1.2 -1.2zM142.0 50.3l-0.3 2.2l-1.4 -0.9zM146.0 50.1l-0.1 2.2l-1.5 -0.7zM150.0 50.1l-0.1 2.2l-1.5 -0.7zM154.1 50.0l-0.0 2.2l-1.5 -0.6zM158.3 50.0l-0.0 2.2l-1.5 -0.6zM162.4 50.1l-0.0 2.2l-1.5 -0.7zM7.1 48.8l-2.2 0.2l0.5 -1.6zM11.1 49.0l-2.2 0.0l0.6 -1.6zM15.2 49.2l-2.2 -0.1l0.7 -1.5zM19.3 49.4l-2.2 -0.3l0.8 -1.4zM23.3 49.7l-2.2 -0.5l1.0 -1.4zM27.4 49.9l-2.1 -0.7l1.1 -1.3zM31.5 50.1l-2.1 -0.8l1.1 -1.2zM35.6 50.2l-2.1 -0.8l1.2 -1.2zM39.8 50.3l-2.0 -0.9l1.2 -1.2zM44.0 50.4l-2.0 -0.8l1.2 -1.2zM48.3 50.4l-2.1 -0.8l1.2 -1.2zM52.6 50.5l-2.1 -0.8l1.1 -1.2zM57.0 50.6l-2.1 -0.7l1.1 -1.3zM61.3 50.7l-2.1 -0.7l1.1 -1.3zM65.6 50.8l-2.1 -0.7l1.1 -1.3zM69.9 50.8l-2.1 -0.6l1.1 -1.3zM74.1 50.8l-2.1 -0.6l1.0 -1.3zM78.2 50.8l-2.1 -0.6l1.0 -1.3zM82.3 50.8l-2.1 -0.6l1.0 -1.3zM86.5 50.8l-2.1 -0.6l1.0 -1.3zM90.6 50.8l-2.1 -0.6l1.0 -1.3zM94.7 50.8l-2.1 -0.6l1.0 -1.3zM98.9 50.7l-2.1 -0.6l1.0 -1.3zM103.0 50.7l-2.1 -0.6l1.0 -1.3zM107.1 50.6l-2.1 -0.6l1.0 -1.3zM111.2 50.5l-2.2 -0.5l1.0 -1.4zM115.4 50.4l-2.2 -0.5l1.0 -1.4zM119.2 50.1l-2.2 -0.4l0.9 -1.4zM122.7 49.6l-2.2 -0.4l0.9 -1.4zM126.4 49.1l-2.2 -0.2l0.8 -1.5zM130.2 48.5l-2.2 0.2l0.5 -1.6zM134.2 47.6l-1.8 1.2l-0.3 -1.6zM138.2 46.4l-0.9 2.0l-1.2 -1.2zM142.0 45.9l-0.3 2.2l-1.4 -0.9zM145.9 45.7l-0.1 2.2l-1.5 -0.7zM150.0 45.6l-0.1 2.2l-1.5 -0.7zM154.1 45.6l-0.0 2.2l-1.5 -0.6zM158.3 45.6l-0.0 2.2l-1.5 -0.6zM162.3 45.9l-0.0 2.2l-1.5 -0.7zM5.8 45.2l-1.9 -1.1l1.3 -1.1zM9.9 45.3l-1.9 -1.1l1.3 -1.0zM14.1 45.4l-1.9 -1.1l1.3 -1.0zM18.4 45.5l-1.9 -1.1l1.3 -1.0zM22.6 45.6l-2.0 -1.1l1.3 -1.1zM26.9 45.7l-2.0 -1.0l1.3 -1.1zM31.1 45.8l-2.0 -1.0l1.3 -1.1zM35.3 45.8l-2.0 -1.0l1.3 -1.1zM39.5 45.9l-2.0 -1.0l1.3 -1.1zM43.8 45.9l-2.0 -1.0l1.2 -1.1zM48.1 46.0l-2.0 -0.9l1.2 -1.2zM52.4 46.0l-2.0 -0.8l1.2 -1.2zM56.8 46.1l-2.1 -0.8l1.1 -1.2zM61.2 46.2l-2.1 -0.7l1.1 -1.3zM65.5 46.2l-2.1 -0.7l1.1 -1.3zM69.8 46.3l-2.1 -0.6l1.1 -1.3zM74.0 46.3l-2.1 -0.6l1.0 -1.3zM78.1 46.3l-2.1 -0.6l1.0 -1.3zM82.3 46.2l-2.1 -0.6l1.0 -1.3zM86.4 46.2l-2.1 -0.6l1.0 -1.3zM90.5 46.2l-2.1 -0.6l1.0 -1.3zM94.6 46.1l-2.1 -0.6l1.0 -1.3zM98.7 46.1l-2.1 -0.6l1.0 -1.3zM102.8 46.0l-2.2 -0.5l1.0 -1.3zM106.9 45.9l-2.2 -0.5l1.0 -1.4zM111.0 45.8l-2.2 -0.5l1.0 -1.4zM115.1 45.6l-2.2 -0.4l0.9 -1.4zM118.7 45.2l-2.2 -0.4l0.9 -1.4zM122.4 44.8l-2.2 -0.3l0.8 -1.5zM126.1 44.4l-2.2 -0.1l0.7 -1.5zM130.0 43.9l-2.2 0.3l0.4 -1.6zM134.0 43.1l-1.8 1.2l-0.3 -1.6zM138.1 42.0l-0.9 2.0l-1.1 -1.2zM142.0 41.5l-0.4 2.2l-1.4 -0.9zM146.0 41.3l-0.2 2.2l-1.5 -0.8zM150.0 41.2l-0.1 2.2l-1.5 -0.7zM154.1 41.2l-0.1 2.2l-1.5 -0.7zM158.3 41.2l-0.1 2.2l-1.5 -0.7zM162.2 41.7l-0.1 2.2l-1.5 -0.7zM5.1 41.1l-1.5 -1.7l1.6 -0.5zM9.2 41.1l-1.5 -1.7l1.6 -0.6zM13.5 41.2l-1.5 -1.6l1.6 -0.6zM17.8 41.2l-1.6 -1.5l1.5 -0.7zM22.1 41.3l-1.7 -1.4l1.5 -0.8zM26.5 41.3l-1.8 -1.3l1.4 -0.9zM30.8 41.3l-1.9 -1.2l1.4 -1.0zM35.1 41.4l-1.9 -1.1l1.3 -1.0zM39.3 41.4l-1.9 -1.1l1.3 -1.0zM43.6 41.4l-2.0 -1.0l1.3 -1.1zM47.9 41.4l-2.0 -1.0l1.2 -1.1zM52.2 41.5l-2.0 -0.9l1.2 -1.2zM56.6 41.5l-2.1 -0.8l1.2 -1.2zM61.0 41.5l-2.1 -0.7l1.1 -1.3zM65.3 41.5l-2.1 -0.6l1.1 -1.3zM69.6 41.5l-2.1 -0.6l1.0 -1.3zM73.8 41.5l-2.1 -0.6l1.0 -1.3zM77.9 41.4l-2.2 -0.5l1.0 -1.3zM82.0 41.4l-2.2 -0.5l1.0 -1.4zM86.1 41.3l-2.2 -0.5l1.0 -1.4zM90.2 41.2l-2.2 -0.5l1.0 -1.4zM94.3 41.1l-2.2 -0.4l0.9 -1.4zM98.4 41.0l-2.2 -0.4l0.9 -1.4zM102.5 40.9l-2.2 -0.4l0.9 -1.4zM106.5 40.7l-2.2 -0.3l0.8 -1.4zM110.6 40.5l-2.2 -0.2l0.8 -1.5zM114.6 40.4l-2.2 -0.2l0.7 -1.5zM118.4 40.1l-2.2 -0.1l0.7 -1.5zM122.2 39.8l-2.2 0.1l0.6 -1.6zM126.1 39.5l-2.2 0.3l0.5 -1.6zM130.1 39.2l-2.1 0.6l0.2 -1.7zM134.1 38.6l-1.8 1.3l-0.4 -1.6zM138.2 37.8l-1.2 1.9l-1.0 -1.3zM142.1 37.3l-0.6 2.1l-1.3 -1.0zM146.1 37.0l-0.4 2.2l-1.4 -0.9zM150.1 36.9l-0.2 2.2l-1.5 -0.8zM154.2 36.9l-0.2 2.2l-1.5 -0.8zM158.4 36.9l-0.3 2.2l-1.5 -0.8zM162.3 37.5l-0.4 2.2l-1.4 -0.9zM4.8 36.7l-1.3 -1.8l1.6 -0.4zM9.0 36.7l-1.3 -1.8l1.6 -0.4zM13.2 36.8l-1.3 -1.8l1.6 -0.4zM17.5 36.8l-1.4 -1.7l1.6 -0.5zM21.8 36.8l-1.6 -1.6l1.5 -0.6zM26.2 36.8l-1.7 -1.5l1.5 -0.8zM30.5 36.8l-1.8 -1.3l1.4 -0.9zM34.9 36.8l-1.8 -1.2l1.4 -0.9zM39.1 36.9l-1.9 -1.2l1.3 -1.0zM43.4 36.8l-1.9 -1.1l1.3 -1.0zM47.7 36.8l-2.0 -1.0l1.3 -1.1zM52.0 36.8l-2.0 -0.9l1.2 -1.2zM56.3 36.7l-2.1 -0.8l1.1 -1.2zM60.7 36.6l-2.1 -0.6l1.0 -1.3zM65.0 36.5l-2.2 -0.5l1.0 -1.4zM69.2 36.3l-2.2 -0.4l0.9 -1.4zM73.4 36.2l-2.2 -0.3l0.9 -1.4zM77.5 36.1l-2.2 -0.3l0.8 -1.5zM81.6 36.0l-2.2 -0.2l0.8 -1.5zM85.6 35.9l-2.2 -0.2l0.8 -1.5zM89.7 35.8l-2.2 -0.1l0.7 -1.5zM93.8 35.7l-2.2 -0.1l0.7 -1.5zM97.8 35.5l-2.2 0.0l0.6 -1.6zM101.9 35.4l-2.2 0.1l0.6 -1.6zM106.0 35.2l-2.2 0.2l0.5 -1.6zM110.0 35.1l-2.2 0.3l0.4 -1.6zM114.1 35.0l-2.2 0.4l0.3 -1.6zM118.2 34.9l-2.2 0.5l0.3 -1.7zM122.2 34.7l-2.1 0.6l0.2 -1.7zM126.3 34.6l-2.1 0.7l0.1 -1.7zM130.4 34.4l-2.0 0.9l-0.1 -1.7zM134.4 34.1l-1.8 1.3l-0.4 -1.6zM138.3 33.7l-1.5 1.7l-0.7 -1.5zM142.2 33.2l-1.0 2.0l-1.1 -1.3zM146.2 33.0l-0.7 2.1l-1.2 -1.1zM150.3 32.8l-0.6 2.1l-1.3 -1.0zM154.4 32.8l-0.6 2.1l-1.3 -1.0zM158.6 32.9l-0.7 2.1l-1.3 -1.1zM162.6 33.4l-0.9 2.0l-1.2 -1.2zM4.7 32.3l-1.2 -1.9l1.6 -0.3zM8.9 32.3l-1.2 -1.9l1.6 -0.3zM13.1 32.3l-1.3 -1.8l1.6 -0.4zM17.3 32.3l-1.3 -1.8l1.6 -0.4zM21.6 32.3l-1.4 -1.7l1.6 -0.5zM25.9 32.3l-1.6 -1.6l1.5 -0.6zM30.3 32.3l-1.7 -1.5l1.5 -0.8zM34.6 32.3l-1.8 -1.3l1.4 -0.9zM39.0 32.3l-1.9 -1.2l1.4 -1.0zM43.2 32.2l-1.9 -1.1l1.3 -1.0zM47.5 32.1l-2.0 -1.0l1.2 -1.1zM51.8 31.9l-2.1 -0.8l1.2 -1.2zM56.1 31.7l-2.1 -0.6l1.0 -1.3zM60.4 31.4l-2.2 -0.4l0.9 -1.4zM64.6 31.1l-2.2 -0.1l0.7 -1.5zM68.7 30.9l-2.2 0.0l0.6 -1.6zM72.9 30.8l-2.2 0.2l0.5 -1.6zM77.0 30.7l-2.2 0.2l0.5 -1.6zM81.1 30.6l-2.2 0.3l0.4 -1.6zM85.1 30.5l-2.2 0.4l0.4 -1.6zM89.2 30.4l-2.2 0.4l0.3 -1.6zM93.3 30.4l-2.2 0.5l0.3 -1.7zM97.4 30.3l-2.1 0.6l0.2 -1.7zM101.5 30.2l-2.1 0.7l0.1 -1.7zM105.6 30.1l-2.1 0.7l0.1 -1.7zM109.7 30.1l-2.1 0.8l0.0 -1.7zM113.8 30.0l-2.1 0.8l0.0 -1.7zM117.9 30.0l-2.0 0.9l-0.0 -1.7zM122.0 29.9l-2.0 0.9l-0.1 -1.7zM126.2 29.9l-2.0 1.0l-0.1 -1.7zM130.3 29.8l-2.0 1.1l-0.2 -1.7zM134.3 29.7l-1.9 1.2l-0.3 -1.6zM138.4 29.4l-1.7 1.4l-0.5 -1.6zM142.4 29.2l-1.5 1.7l-0.7 -1.5zM146.4 29.0l-1.2 1.8l-0.9 -1.4zM150.5 28.8l-1.1 1.9l-1.0 -1.3zM154.6 28.8l-1.1 1.9l-1.0 -1.3zM158.8 28.9l-1.2 1.9l-1.0 -1.4zM163.0 29.1l-1.4 1.7l-0.8 -1.5zM4.7 27.8l-1.2 -1.9l1.7 -0.3zM8.9 27.8l-1.2 -1.9l1.6 -0.3zM13.0 27.8l-1.2 -1.9l1.6 -0.3zM17.2 27.8l-1.3 -1.8l1.6 -0.4zM21.5 27.8l-1.4 -1.8l1.6 -0.4zM25.8 27.8l-1.5 -1.7l1.6 -0.5zM30.1 27.7l-1.6 -1.5l1.5 -0.7zM34.5 27.7l-1.7 -1.4l1.5 -0.8zM38.8 27.6l-1.8 -1.2l1.4 -0.9zM43.1 27.5l-1.9 -1.1l1.3 -1.1zM47.4 27.3l-2.0 -0.9l1.2 -1.2zM51.7 27.0l-2.1 -0.6l1.0 -1.3zM55.9 26.6l-2.2 -0.3l0.8 -1.5zM60.1 26.3l-2.2 0.1l0.6 -1.6zM64.3 26.0l-2.2 0.4l0.3 -1.6zM68.4 25.8l-2.1 0.6l0.2 -1.7zM72.6 25.7l-2.1 0.7l0.1 -1.7zM76.7 25.6l-2.1 0.7l0.1 -1.7zM80.8 25.6l-2.1 0.8l0.0 -1.7zM84.9 25.6l-2.1 0.8l0.0 -1.7zM89.0 25.5l-2.0 0.8l-0.0 -1.7zM93.1 25.5l-2.0 0.9l-0.0 -1.7zM97.3 25.5l-2.0 0.9l-0.1 -1.7zM101.4 25.4l-2.0 0.9l-0.1 -1.7zM105.5 25.4l-2.0 1.0l-0.1 -1.7zM109.6 25.4l-2.0 1.0l-0.1 -1.7zM113.7 25.4l-2.0 1.0l-0.1 -1.7zM117.9 25.4l-2.0 1.0l-0.2 -1.7zM122.0 25.3l-2.0 1.0l-0.2 -1.7zM126.1 25.3l-2.0 1.1l-0.2 -1.7zM130.2 25.3l-1.9 1.1l-0.2 -1.7zM134.3 25.2l-1.9 1.2l-0.3 -1.7zM138.4 25.1l-1.8 1.3l-0.4 -1.6zM142.5 25.0l-1.7 1.4l-0.5 -1.6zM146.6 24.8l-1.6 1.6l-0.7 -1.5zM150.7 24.7l-1.5 1.7l-0.7 -1.5zM154.8 24.7l-1.5 1.7l-0.8 -1.5zM159.0 24.8l-1.5 1.6l-0.7 -1.5zM163.2 24.9l-1.7 1.5l-0.6 -1.6zM4.7 23.3l-1.2 -1.9l1.7 -0.3zM8.9 23.3l-1.2 -1.9l1.6 -0.3zM13.0 23.3l-1.2 -1.9l1.6 -0.3zM17.2 23.3l-1.2 -1.8l1.6 -0.3zM21.4 23.3l-1.3 -1.8l1.6 -0.4zM25.7 23.2l-1.4 -1.7l1.6 -0.5zM30.0 23.2l-1.5 -1.6l1.6 -0.6zM34.3 23.1l-1.7 -1.4l1.5 -0.8zM38.7 23.0l-1.8 -1.2l1.4 -0.9zM43.0 22.7l-2.0 -1.0l1.3 -1.1zM47.3 22.4l-2.1 -0.7l1.1 -1.3zM51.6 22.1l-2.2 -0.3l0.8 -1.5zM55.8 21.7l-2.2 0.2l0.5 -1.6zM60.0 21.3l-2.2 0.5l0.2 -1.7zM64.2 21.1l-2.1 0.8l0.1 -1.7zM68.3 21.0l-2.0 0.9l-0.0 -1.7zM72.4 21.0l-2.0 0.9l-0.1 -1.7zM76.6 20.9l-2.0 1.0l-0.1 -1.7zM80.7 20.9l-2.0 1.0l-0.1 -1.7zM84.8 20.9l-2.0 1.0l-0.1 -1.7zM88.9 20.9l-2.0 1.0l-0.1 -1.7zM93.1 20.9l-2.0 1.0l-0.2 -1.7zM97.2 20.9l-2.0 1.0l-0.2 -1.7zM101.3 20.9l-2.0 1.0l-0.2 -1.7zM105.4 20.9l-2.0 1.0l-0.2 -1.7zM109.6 20.8l-2.0 1.1l-0.2 -1.7zM113.7 20.8l-1.9 1.1l-0.2 -1.7zM117.8 20.8l-1.9 1.1l-0.2 -1.7zM122.0 20.8l-1.9 1.1l-0.2 -1.7zM126.1 20.8l-1.9 1.1l-0.2 -1.7zM130.2 20.8l-1.9 1.1l-0.2 -1.7zM134.3 20.8l-1.9 1.1l-0.2 -1.7zM138.5 20.7l-1.9 1.2l-0.3 -1.6zM142.6 20.6l-1.8 1.3l-0.4 -1.6zM146.6 20.5l-1.7 1.4l-0.5 -1.6zM150.8 20.4l-1.7 1.5l-0.5 -1.6zM154.9 20.4l-1.7 1.5l-0.6 -1.6zM159.0 20.5l-1.7 1.4l-0.5 -1.6zM163.2 20.6l-1.8 1.3l-0.4 -1.6zM4.8 18.8l-1.2 -1.8l1.6 -0.3zM8.9 18.8l-1.2 -1.8l1.6 -0.3zM13.1 18.7l-1.3 -1.8l1.6 -0.4zM17.3 18.7l-1.3 -1.8l1.6 -0.4zM21.5 18.7l-1.4 -1.7l1.6 -0.5zM25.7 18.6l-1.5 -1.7l1.6 -0.6zM30.0 18.5l-1.6 -1.5l1.5 -0.7zM34.3 18.4l-1.8 -1.3l1.4 -0.9zM38.7 18.2l-1.9 -1.1l1.3 -1.1zM43.0 17.9l-2.1 -0.7l1.1 -1.3zM47.4 17.6l-2.2 -0.3l0.9 -1.4zM51.6 17.2l-2.2 0.1l0.6 -1.6zM55.8 16.9l-2.2 0.5l0.3 -1.6zM60.0 16.7l-2.1 0.7l0.1 -1.7zM64.1 16.6l-2.0 0.9l-0.0 -1.7zM68.3 16.5l-2.0 0.9l-0.1 -1.7zM72.4 16.4l-2.0 1.0l-0.1 -1.7zM76.5 16.4l-2.0 1.0l-0.1 -1.7zM80.7 16.4l-2.0 1.0l-0.2 -1.7zM84.8 16.4l-2.0 1.0l-0.2 -1.7zM88.9 16.4l-2.0 1.0l-0.2 -1.7zM93.0 16.4l-2.0 1.1l-0.2 -1.7zM97.2 16.4l-1.9 1.1l-0.2 -1.7zM101.3 16.4l-1.9 1.1l-0.2 -1.7zM105.4 16.4l-1.9 1.1l-0.2 -1.7zM109.6 16.4l-1.9 1.1l-0.2 -1.7zM113.7 16.3l-1.9 1.1l-0.2 -1.7zM117.8 16.3l-1.9 1.1l-0.2 -1.7zM122.0 16.3l-1.9 1.1l-0.2 -1.7zM126.1 16.3l-1.9 1.1l-0.2 -1.7zM130.2 16.3l-1.9 1.1l-0.2 -1.7zM134.4 16.3l-1.9 1.1l-0.2 -1.7zM138.5 16.3l-1.9 1.2l-0.3 -1.7zM142.6 16.2l-1.8 1.2l-0.3 -1.6zM146.7 16.1l-1.8 1.3l-0.4 -1.6zM150.8 16.1l-1.8 1.4l-0.4 -1.6zM154.9 16.1l-1.8 1.4l-0.4 -1.6zM159.1 16.1l-1.8 1.3l-0.4 -1.6zM163.2 16.2l-1.8 1.2l-0.3 -1.6zM5.2 13.9l-1.6 -1.5l1.5 -0.7zM9.4 13.9l-1.7 -1.5l1.5 -0.7zM13.5 13.8l-1.7 -1.4l1.5 -0.8zM17.7 13.8l-1.8 -1.3l1.4 -0.8zM22.0 13.7l-1.9 -1.2l1.4 -0.9zM26.2 13.6l-2.0 -1.0l1.3 -1.1zM30.5 13.4l-2.1 -0.8l1.2 -1.2zM34.8 13.2l-2.1 -0.6l1.0 -1.3zM39.1 13.1l-2.2 -0.3l0.8 -1.5zM43.4 12.9l-2.2 -0.1l0.7 -1.5zM47.6 12.7l-2.2 0.2l0.5 -1.6zM51.8 12.6l-2.2 0.3l0.4 -1.6zM55.9 12.5l-2.2 0.5l0.3 -1.6zM60.1 12.4l-2.1 0.6l0.2 -1.7zM64.2 12.3l-2.1 0.7l0.1 -1.7zM68.3 12.2l-2.1 0.7l0.1 -1.7zM72.4 12.1l-2.1 0.8l0.0 -1.7zM76.6 12.1l-2.1 0.8l-0.0 -1.7zM80.7 12.0l-2.0 0.9l-0.0 -1.7zM84.8 12.0l-2.0 0.9l-0.1 -1.7zM88.9 12.0l-2.0 1.0l-0.1 -1.7zM93.1 11.9l-2.0 1.0l-0.1 -1.7zM97.2 11.9l-2.0 1.0l-0.2 -1.7zM101.3 11.9l-2.0 1.0l-0.2 -1.7zM105.4 11.9l-2.0 1.0l-0.2 -1.7zM109.6 11.9l-1.9 1.1l-0.2 -1.7zM113.7 11.9l-1.9 1.1l-0.2 -1.7zM117.8 11.9l-1.9 1.1l-0.2 -1.7zM122.0 11.9l-1.9 1.1l-0.2 -1.7zM126.1 11.9l-1.9 1.1l-0.2 -1.7zM130.2 11.9l-1.9 1.1l-0.2 -1.7zM134.4 11.8l-1.9 1.1l-0.2 -1.7zM138.5 11.8l-1.9 1.1l-0.3 -1.7zM142.6 11.7l-1.9 1.2l-0.3 -1.6zM146.7 11.7l-1.8 1.3l-0.4 -1.6zM150.8 11.7l-1.8 1.3l-0.4 -1.6zM154.9 11.6l-1.8 1.3l-0.4 -1.6zM158.9 11.7l-1.8 1.3l-0.4 -1.6zM162.8 11.8l-1.9 1.2l-0.3 -1.6zM5.8 8.8l-2.1 -0.7l1.1 -1.3zM9.9 8.8l-2.1 -0.7l1.1 -1.3zM14.1 8.8l-2.1 -0.6l1.0 -1.3zM18.3 8.7l-2.2 -0.5l1.0 -1.4zM22.5 8.6l-2.2 -0.4l0.9 -1.4zM26.7 8.5l-2.2 -0.2l0.8 -1.5zM30.9 8.4l-2.2 -0.1l0.7 -1.5zM35.2 8.3l-2.2 0.0l0.6 -1.6zM39.4 8.3l-2.2 0.2l0.5 -1.6zM43.5 8.2l-2.2 0.2l0.5 -1.6zM47.7 8.1l-2.2 0.3l0.4 -1.6zM51.9 8.1l-2.2 0.4l0.4 -1.6zM56.0 8.0l-2.2 0.4l0.3 -1.6zM60.1 8.0l-2.2 0.4l0.3 -1.6zM64.3 8.0l-2.2 0.5l0.3 -1.7zM68.4 7.9l-2.2 0.5l0.3 -1.7zM72.5 7.9l-2.1 0.6l0.2 -1.7zM76.6 7.8l-2.1 0.6l0.2 -1.7zM80.7 7.8l-2.1 0.7l0.1 -1.7zM84.9 7.7l-2.1 0.7l0.1 -1.7zM89.0 7.7l-2.1 0.8l0.1 -1.7zM93.1 7.6l-2.1 0.8l0.0 -1.7zM97.2 7.6l-2.0 0.9l-0.0 -1.7zM101.3 7.5l-2.0 0.9l-0.1 -1.7zM105.5 7.5l-2.0 1.0l-0.1 -1.7zM109.6 7.5l-2.0 1.0l-0.1 -1.7zM113.7 7.4l-2.0 1.0l-0.2 -1.7zM117.8 7.4l-2.0 1.0l-0.2 -1.7zM122.0 7.4l-2.0 1.1l-0.2 -1.7zM126.1 7.4l-1.9 1.1l-0.2 -1.7zM130.2 7.4l-1.9 1.1l-0.2 -1.7zM134.2 7.4l-1.9 1.1l-0.2 -1.7zM138.2 7.4l-1.9 1.1l-0.3 -1.7zM142.3 7.3l-1.9 1.2l-0.3 -1.6zM146.3 7.3l-1.8 1.2l-0.3 -1.6zM150.3 7.3l-1.8 1.3l-0.4 -1.6zM154.3 7.3l-1.8 1.3l-0.4 -1.6zM158.3 7.4l-1.8 1.3l-0.4 -1.6zM162.3 7.4l-1.9 1.2l-0.3 -1.6zM6.0 4.1l-2.2 -0.3l0.9 -1.4zM10.1 4.1l-2.2 -0.3l0.9 -1.4zM14.3 4.1l-2.2 -0.3l0.8 -1.5zM18.5 4.0l-2.2 -0.2l0.8 -1.5zM22.7 4.0l-2.2 -0.1l0.7 -1.5zM26.9 3.9l-2.2 -0.0l0.6 -1.6zM31.0 3.8l-2.2 0.1l0.6 -1.6zM35.2 3.8l-2.2 0.2l0.5 -1.6zM39.4 3.7l-2.2 0.2l0.5 -1.6zM43.6 3.7l-2.2 0.3l0.4 -1.6zM47.7 3.6l-2.2 0.3l0.4 -1.6zM51.9 3.6l-2.2 0.4l0.4 -1.6zM56.0 3.6l-2.2 0.4l0.3 -1.6zM60.1 3.6l-2.2 0.4l0.3 -1.6zM64.3 3.5l-2.2 0.4l0.3 -1.6zM68.4 3.5l-2.2 0.4l0.3 -1.6zM72.5 3.5l-2.2 0.5l0.3 -1.6zM76.7 3.5l-2.2 0.5l0.3 -1.7zM80.8 3.4l-2.2 0.5l0.2 -1.7zM84.9 3.4l-2.1 0.6l0.2 -1.7zM89.0 3.3l-2.1 0.6l0.2 -1.7zM92.9 3.3l-2.1 0.7l0.1 -1.7zM96.9 3.2l-2.1 0.7l0.1 -1.7zM100.9 3.2l-2.1 0.8l0.0 -1.7zM104.9 3.1l-2.0 0.9l-0.0 -1.7zM109.0 3.1l-2.0 0.9l-0.1 -1.7zM113.1 3.1l-2.0 1.0l-0.1 -1.7zM117.1 3.0l-2.0 1.0l-0.1 -1.7zM121.2 3.0l-2.0 1.0l-0.2 -1.7zM125.3 3.0l-2.0 1.0l-0.2 -1.7zM129.4 3.0l-1.9 1.1l-0.2 -1.7zM133.4 3.0l-1.9 1.1l-0.2 -1.7zM137.5 3.0l-1.9 1.1l-0.2 -1.7zM141.6 3.0l-1.9 1.2l-0.3 -1.6zM145.7 3.0l-1.8 1.3l-0.4 -1.6zM149.8 3.0l-1.8 1.3l-0.4 -1.6zM153.8 3.0l-1.8 1.3l-0.4 -1.6zM157.9 3.0l-1.8 1.3l-0.4 -1.6z" fill="#0c0c0c" fill-opacity="0.85"/>
</svg>
<rect x="394.5" y="10.5" width="160.5" height="135.0" fill="none" stroke="#000" stroke-width="1"/>
<text x="467.30" y="5.80" font-size="8" text-anchor="middle" font-family="&quot;Liberation Serif&quot;, serif" font-weight="bold" textLength="180.5" lengthAdjust="spacingAndGlyphs">(c) Geopotential height (km) and wind (m/s) at 850 hPa</text>
<text x="560.80" y="24.80" font-size="10" text-anchor="start" font-family="&quot;Liberation Sans&quot;, sans-serif">35<tspan font-size="5.6" font-weight="bold" dx="0.3" dy="-3.6">°</tspan></text>
<text x="560.80" y="47.20" font-size="10" text-anchor="start" font-family="&quot;Liberation Sans&quot;, sans-serif">30<tspan font-size="5.6" font-weight="bold" dx="0.3" dy="-3.6">°</tspan></text>
<text x="560.80" y="69.60" font-size="10" text-anchor="start" font-family="&quot;Liberation Sans&quot;, sans-serif">25<tspan font-size="5.6" font-weight="bold" dx="0.3" dy="-3.6">°</tspan></text>
<text x="560.80" y="92.00" font-size="10" text-anchor="start" font-family="&quot;Liberation Sans&quot;, sans-serif">20<tspan font-size="5.6" font-weight="bold" dx="0.3" dy="-3.6">°</tspan></text>
<text x="560.80" y="114.40" font-size="10" text-anchor="start" font-family="&quot;Liberation Sans&quot;, sans-serif">15<tspan font-size="5.6" font-weight="bold" dx="0.3" dy="-3.6">°</tspan></text>
<text x="560.80" y="136.80" font-size="10" text-anchor="start" font-family="&quot;Liberation Sans&quot;, sans-serif">10<tspan font-size="5.6" font-weight="bold" dx="0.3" dy="-3.6">°</tspan></text>
<text x="411.19" y="159.70" font-size="10" text-anchor="middle" font-family="&quot;Liberation Sans&quot;, sans-serif">65<tspan font-size="5.6" font-weight="bold" dx="0.3" dy="-3.6">°</tspan></text>
<text x="431.86" y="159.70" font-size="10" text-anchor="middle" font-family="&quot;Liberation Sans&quot;, sans-serif">70<tspan font-size="5.6" font-weight="bold" dx="0.3" dy="-3.6">°</tspan></text>
<text x="452.52" y="159.70" font-size="10" text-anchor="middle" font-family="&quot;Liberation Sans&quot;, sans-serif">75<tspan font-size="5.6" font-weight="bold" dx="0.3" dy="-3.6">°</tspan></text>
<text x="473.19" y="159.70" font-size="10" text-anchor="middle" font-family="&quot;Liberation Sans&quot;, sans-serif">80<tspan font-size="5.6" font-weight="bold" dx="0.3" dy="-3.6">°</tspan></text>
<text x="493.85" y="159.70" font-size="10" text-anchor="middle" font-family="&quot;Liberation Sans&quot;, sans-serif">85<tspan font-size="5.6" font-weight="bold" dx="0.3" dy="-3.6">°</tspan></text>
<text x="514.52" y="159.70" font-size="10" text-anchor="middle" font-family="&quot;Liberation Sans&quot;, sans-serif">90<tspan font-size="5.6" font-weight="bold" dx="0.3" dy="-3.6">°</tspan></text>
<text x="535.18" y="159.70" font-size="10" text-anchor="middle" font-family="&quot;Liberation Sans&quot;, sans-serif">95<tspan font-size="5.6" font-weight="bold" dx="0.3" dy="-3.6">°</tspan></text>
<svg x="20" y="208" width="161" height="136" viewBox="0 0 161 136" overflow="hidden">
<g filter="url(#bl)">
<path fill="#ea4822" d="M-5.1 -5.1h10.3v2.7h-10.3zM20.0 -5.1h5.2v2.7h-5.2zM110.6 -5.1h5.2v2.7h-5.2zM135.7 -5.1h10.3v2.7h-10.3zM150.8 -5.1h15.3v2.7h-15.3zM-5.1 -2.6h10.3v2.7h-10.3zM20.0 -2.6h5.2v2.7h-5.2zM110.6 -2.6h5.2v2.7h-5.2zM135.7 -2.6h10.3v2.7h-10.3zM150.8 -2.6h15.3v2.7h-15.3zM-5.1 -0.1h10.3v2.7h-10.3zM20.0 -0.1h5.2v2.7h-5.2zM110.6 -0.1h5.2v2.7h-5.2zM135.7 -0.1h10.3v2.7h-10.3zM150.8 -0.1h15.3v2.7h-15.3zM-5.1 2.4h10.3v2.7h-10.3zM20.0 2.4h5.2v2.7h-5.2zM110.6 2.4h5.2v2.7h-5.2zM135.7 2.4h10.3v2.7h-10.3zM150.8 2.4h15.3v2.7h-15.3zM-5.1 4.9h10.3v2.7h-10.3zM130.7 4.9h5.2v2.7h-5.2zM150.8 4.9h5.2v2.7h-5.2zM-5.1 7.5h10.3v2.7h-10.3zM130.7 7.5h5.2v2.7h-5.2zM150.8 7.5h5.2v2.7h-5.2zM60.3 10.0h5.2v2.7h-5.2zM130.7 10.0h5.2v2.7h-5.2zM155.9 10.0h10.3v2.7h-10.3zM60.3 12.5h5.2v2.7h-5.2zM130.7 12.5h5.2v2.7h-5.2zM155.9 12.5h10.3v2.7h-10.3zM65.3 15.0h5.2v2.7h-5.2zM85.4 15.0h5.2v2.7h-5.2zM130.7 15.0h10.3v2.7h-10.3zM65.3 17.5h5.2v2.7h-5.2zM85.4 17.5h5.2v2.7h-5.2zM130.7 17.5h10.3v2.7h-10.3zM65.3 20.0h10.3v2.7h-10.3zM125.7 20.0h5.2v2.7h-5.2zM65.3 22.6h10.3v2.7h-10.3zM125.7 22.6h5.2v2.7h-5.2zM60.3 25.1h5.2v2.7h-5.2zM70.3 25.1h10.3v2.7h-10.3zM60.3 27.6h5.2v2.7h-5.2zM70.3 27.6h10.3v2.7h-10.3zM-5.1 30.1h10.3v2.7h-10.3zM55.2 30.1h5.2v2.7h-5.2zM65.3 30.1h15.3v2.7h-15.3zM100.5 30.1h5.2v2.7h-5.2zM-5.1 32.6h10.3v2.7h-10.3zM55.2 32.6h5.2v2.7h-5.2zM65.3 32.6h15.3v2.7h-15.3zM100.5 32.6h5.2v2.7h-5.2zM45.2 35.2h20.3v2.7h-20.3zM75.4 35.2h10.3v2.7h-10.3zM125.7 35.2h5.2v2.7h-5.2zM45.2 37.7h20.3v2.7h-20.3zM75.4 37.7h10.3v2.7h-10.3zM125.7 37.7h5.2v2.7h-5.2zM-5.1 40.2h10.3v2.7h-10.3zM30.1 40.2h5.2v2.7h-5.2zM50.2 40.2h10.3v2.7h-10.3zM70.3 40.2h5.2v2.7h-5.2zM85.4 40.2h5.2v2.7h-5.2zM95.5 40.2h5.2v2.7h-5.2zM120.7 40.2h5.2v2.7h-5.2zM-5.1 42.7h10.3v2.7h-10.3zM30.1 42.7h5.2v2.7h-5.2zM50.2 42.7h10.3v2.7h-10.3zM70.3 42.7h5.2v2.7h-5.2zM85.4 42.7h5.2v2.7h-5.2zM95.5 42.7h5.2v2.7h-5.2zM120.7 42.7h5.2v2.7h-5.2zM-5.1 45.2h10.3v2.7h-10.3zM35.1 45.2h15.3v2.7h-15.3zM55.2 45.2h5.2v2.7h-5.2zM70.3 45.2h5.2v2.7h-5.2zM-5.1 47.8h10.3v2.7h-10.3zM35.1 47.8h15.3v2.7h-15.3zM55.2 47.8h5.2v2.7h-5.2zM70.3 47.8h5.2v2.7h-5.2zM25.1 50.3h5.2v2.7h-5.2zM40.1 50.3h10.3v2.7h-10.3zM25.1 52.8h5.2v2.7h-5.2zM40.1 52.8h10.3v2.7h-10.3zM4.9 55.3h20.3v2.7h-20.3zM40.1 55.3h5.2v2.7h-5.2zM130.7 55.3h5.2v2.7h-5.2zM4.9 57.8h20.3v2.7h-20.3zM40.1 57.8h5.2v2.7h-5.2zM130.7 57.8h5.2v2.7h-5.2zM40.1 60.3h10.3v2.7h-10.3zM130.7 60.3h5.2v2.7h-5.2zM40.1 62.9h10.3v2.7h-10.3zM130.7 62.9h5.2v2.7h-5.2zM30.1 65.4h5.2v2.7h-5.2zM80.4 65.4h5.2v2.7h-5.2zM130.7 65.4h5.2v2.7h-5.2zM30.1 67.9h5.2v2.7h-5.2zM80.4 67.9h5.2v2.7h-5.2zM130.7 67.9h5.2v2.7h-5.2zM45.2 70.4h5.2v2.7h-5.2zM85.4 70.4h5.2v2.7h-5.2zM45.2 72.9h5.2v2.7h-5.2zM85.4 72.9h5.2v2.7h-5.2zM60.3 75.5h5.2v2.7h-5.2zM70.3 75.5h15.3v2.7h-15.3zM60.3 78.0h5.2v2.7h-5.2zM70.3 78.0h15.3v2.7h-15.3zM55.2 80.5h15.3v2.7h-15.3zM55.2 83.0h15.3v2.7h-15.3zM55.2 85.5h5.2v2.7h-5.2zM55.2 88.0h5.2v2.7h-5.2z"/>
<path fill="#f66c2a" d="M4.9 -5.1h15.3v2.7h-15.3zM60.3 -5.1h5.2v2.7h-5.2zM85.4 -5.1h25.4v2.7h-25.4zM145.8 -5.1h5.2v2.7h-5.2zM4.9 -2.6h15.3v2.7h-15.3zM60.3 -2.6h5.2v2.7h-5.2zM85.4 -2.6h25.4v2.7h-25.4zM145.8 -2.6h5.2v2.7h-5.2zM4.9 -0.1h15.3v2.7h-15.3zM60.3 -0.1h5.2v2.7h-5.2zM85.4 -0.1h25.4v2.7h-25.4zM145.8 -0.1h5.2v2.7h-5.2zM4.9 2.4h15.3v2.7h-15.3zM60.3 2.4h5.2v2.7h-5.2zM85.4 2.4h25.4v2.7h-25.4zM145.8 2.4h5.2v2.7h-5.2zM4.9 4.9h5.2v2.7h-5.2zM65.3 4.9h5.2v2.7h-5.2zM85.4 4.9h30.4v2.7h-30.4zM155.9 4.9h10.3v2.7h-10.3zM4.9 7.5h5.2v2.7h-5.2zM65.3 7.5h5.2v2.7h-5.2zM85.4 7.5h30.4v2.7h-30.4zM155.9 7.5h10.3v2.7h-10.3zM65.3 10.0h5.2v2.7h-5.2zM85.4 10.0h40.5v2.7h-40.5zM65.3 12.5h5.2v2.7h-5.2zM85.4 12.5h40.5v2.7h-40.5zM90.5 15.0h25.4v2.7h-25.4zM125.7 15.0h5.2v2.7h-5.2zM155.9 15.0h10.3v2.7h-10.3zM90.5 17.5h25.4v2.7h-25.4zM125.7 17.5h5.2v2.7h-5.2zM155.9 17.5h10.3v2.7h-10.3zM90.5 20.0h20.3v2.7h-20.3zM90.5 22.6h20.3v2.7h-20.3zM95.5 25.1h15.3v2.7h-15.3zM120.7 25.1h5.2v2.7h-5.2zM95.5 27.6h15.3v2.7h-15.3zM120.7 27.6h5.2v2.7h-5.2zM60.3 30.1h5.2v2.7h-5.2zM105.6 30.1h15.3v2.7h-15.3zM60.3 32.6h5.2v2.7h-5.2zM105.6 32.6h15.3v2.7h-15.3zM65.3 35.2h10.3v2.7h-10.3zM130.7 35.2h5.2v2.7h-5.2zM65.3 37.7h10.3v2.7h-10.3zM130.7 37.7h5.2v2.7h-5.2zM60.3 40.2h10.3v2.7h-10.3zM75.4 40.2h10.3v2.7h-10.3zM90.5 40.2h5.2v2.7h-5.2zM125.7 40.2h15.3v2.7h-15.3zM60.3 42.7h10.3v2.7h-10.3zM75.4 42.7h10.3v2.7h-10.3zM90.5 42.7h5.2v2.7h-5.2zM125.7 42.7h15.3v2.7h-15.3zM30.1 45.2h5.2v2.7h-5.2zM50.2 45.2h5.2v2.7h-5.2zM60.3 45.2h10.3v2.7h-10.3zM75.4 45.2h15.3v2.7h-15.3zM95.5 45.2h5.2v2.7h-5.2zM125.7 45.2h20.3v2.7h-20.3zM30.1 47.8h5.2v2.7h-5.2zM50.2 47.8h5.2v2.7h-5.2zM60.3 47.8h10.3v2.7h-10.3zM75.4 47.8h15.3v2.7h-15.3zM95.5 47.8h5.2v2.7h-5.2zM125.7 47.8h20.3v2.7h-20.3zM-5.1 50.3h10.3v2.7h-10.3zM30.1 50.3h10.3v2.7h-10.3zM50.2 50.3h10.3v2.7h-10.3zM65.3 50.3h5.2v2.7h-5.2zM75.4 50.3h10.3v2.7h-10.3zM130.7 50.3h10.3v2.7h-10.3zM-5.1 52.8h10.3v2.7h-10.3zM30.1 52.8h10.3v2.7h-10.3zM50.2 52.8h10.3v2.7h-10.3zM65.3 52.8h5.2v2.7h-5.2zM75.4 52.8h10.3v2.7h-10.3zM130.7 52.8h10.3v2.7h-10.3zM25.1 55.3h15.3v2.7h-15.3zM45.2 55.3h15.3v2.7h-15.3zM70.3 55.3h5.2v2.7h-5.2zM125.7 55.3h5.2v2.7h-5.2zM135.7 55.3h5.2v2.7h-5.2zM25.1 57.8h15.3v2.7h-15.3zM45.2 57.8h15.3v2.7h-15.3zM70.3 57.8h5.2v2.7h-5.2zM125.7 57.8h5.2v2.7h-5.2zM135.7 57.8h5.2v2.7h-5.2zM25.1 60.3h15.3v2.7h-15.3zM50.2 60.3h10.3v2.7h-10.3zM75.4 60.3h15.3v2.7h-15.3zM125.7 60.3h5.2v2.7h-5.2zM135.7 60.3h5.2v2.7h-5.2zM25.1 62.9h15.3v2.7h-15.3zM50.2 62.9h10.3v2.7h-10.3zM75.4 62.9h15.3v2.7h-15.3zM125.7 62.9h5.2v2.7h-5.2zM135.7 62.9h5.2v2.7h-5.2zM25.1 65.4h5.2v2.7h-5.2zM35.1 65.4h20.3v2.7h-20.3zM75.4 65.4h5.2v2.7h-5.2zM85.4 65.4h10.3v2.7h-10.3zM125.7 65.4h5.2v2.7h-5.2zM135.7 65.4h5.2v2.7h-5.2zM25.1 67.9h5.2v2.7h-5.2zM35.1 67.9h20.3v2.7h-20.3zM75.4 67.9h5.2v2.7h-5.2zM85.4 67.9h10.3v2.7h-10.3zM125.7 67.9h5.2v2.7h-5.2zM135.7 67.9h5.2v2.7h-5.2zM35.1 70.4h10.3v2.7h-10.3zM50.2 70.4h5.2v2.7h-5.2zM60.3 70.4h5.2v2.7h-5.2zM70.3 70.4h15.3v2.7h-15.3zM90.5 70.4h5.2v2.7h-5.2zM130.7 70.4h10.3v2.7h-10.3zM35.1 72.9h10.3v2.7h-10.3zM50.2 72.9h5.2v2.7h-5.2zM60.3 72.9h5.2v2.7h-5.2zM70.3 72.9h15.3v2.7h-15.3zM90.5 72.9h5.2v2.7h-5.2zM130.7 72.9h10.3v2.7h-10.3zM50.2 75.5h10.3v2.7h-10.3zM65.3 75.5h5.2v2.7h-5.2zM85.4 75.5h5.2v2.7h-5.2zM130.7 75.5h5.2v2.7h-5.2zM50.2 78.0h10.3v2.7h-10.3zM65.3 78.0h5.2v2.7h-5.2zM85.4 78.0h5.2v2.7h-5.2zM130.7 78.0h5.2v2.7h-5.2zM50.2 80.5h5.2v2.7h-5.2zM70.3 80.5h5.2v2.7h-5.2zM80.4 80.5h5.2v2.7h-5.2zM50.2 83.0h5.2v2.7h-5.2zM70.3 83.0h5.2v2.7h-5.2zM80.4 83.0h5.2v2.7h-5.2zM50.2 85.5h5.2v2.7h-5.2zM60.3 85.5h5.2v2.7h-5.2zM50.2 88.0h5.2v2.7h-5.2zM60.3 88.0h5.2v2.7h-5.2z"/>
<path fill="#d62618" d="M25.1 -5.1h10.3v2.7h-10.3zM130.7 -5.1h5.2v2.7h-5.2zM25.1 -2.6h10.3v2.7h-10.3zM130.7 -2.6h5.2v2.7h-5.2zM25.1 -0.1h10.3v2.7h-10.3zM130.7 -0.1h5.2v2.7h-5.2zM25.1 2.4h10.3v2.7h-10.3zM130.7 2.4h5.2v2.7h-5.2zM10.0 4.9h5.2v2.7h-5.2zM55.2 4.9h5.2v2.7h-5.2zM70.3 4.9h5.2v2.7h-5.2zM125.7 4.9h5.2v2.7h-5.2zM135.7 4.9h5.2v2.7h-5.2zM145.8 4.9h5.2v2.7h-5.2zM10.0 7.5h5.2v2.7h-5.2zM55.2 7.5h5.2v2.7h-5.2zM70.3 7.5h5.2v2.7h-5.2zM125.7 7.5h5.2v2.7h-5.2zM135.7 7.5h5.2v2.7h-5.2zM145.8 7.5h5.2v2.7h-5.2zM-5.1 10.0h10.3v2.7h-10.3zM55.2 10.0h5.2v2.7h-5.2zM70.3 10.0h5.2v2.7h-5.2zM125.7 10.0h5.2v2.7h-5.2zM150.8 10.0h5.2v2.7h-5.2zM-5.1 12.5h10.3v2.7h-10.3zM55.2 12.5h5.2v2.7h-5.2zM70.3 12.5h5.2v2.7h-5.2zM125.7 12.5h5.2v2.7h-5.2zM150.8 12.5h5.2v2.7h-5.2zM60.3 15.0h5.2v2.7h-5.2zM70.3 15.0h5.2v2.7h-5.2zM140.8 15.0h5.2v2.7h-5.2zM150.8 15.0h5.2v2.7h-5.2zM60.3 17.5h5.2v2.7h-5.2zM70.3 17.5h5.2v2.7h-5.2zM140.8 17.5h5.2v2.7h-5.2zM150.8 17.5h5.2v2.7h-5.2zM60.3 20.0h5.2v2.7h-5.2zM75.4 20.0h5.2v2.7h-5.2zM60.3 22.6h5.2v2.7h-5.2zM75.4 22.6h5.2v2.7h-5.2zM-5.1 25.1h10.3v2.7h-10.3zM55.2 25.1h5.2v2.7h-5.2zM65.3 25.1h5.2v2.7h-5.2zM90.5 25.1h5.2v2.7h-5.2zM125.7 25.1h5.2v2.7h-5.2zM-5.1 27.6h10.3v2.7h-10.3zM55.2 27.6h5.2v2.7h-5.2zM65.3 27.6h5.2v2.7h-5.2zM90.5 27.6h5.2v2.7h-5.2zM125.7 27.6h5.2v2.7h-5.2zM4.9 30.1h5.2v2.7h-5.2zM45.2 30.1h10.3v2.7h-10.3zM95.5 30.1h5.2v2.7h-5.2zM120.7 30.1h10.3v2.7h-10.3zM4.9 32.6h5.2v2.7h-5.2zM45.2 32.6h10.3v2.7h-10.3zM95.5 32.6h5.2v2.7h-5.2zM120.7 32.6h10.3v2.7h-10.3zM-5.1 35.2h10.3v2.7h-10.3zM30.1 35.2h15.3v2.7h-15.3zM85.4 35.2h10.3v2.7h-10.3zM120.7 35.2h5.2v2.7h-5.2zM-5.1 37.7h10.3v2.7h-10.3zM30.1 37.7h15.3v2.7h-15.3zM85.4 37.7h10.3v2.7h-10.3zM120.7 37.7h5.2v2.7h-5.2zM15.0 40.2h5.2v2.7h-5.2zM25.1 40.2h5.2v2.7h-5.2zM35.1 40.2h15.3v2.7h-15.3zM100.5 40.2h5.2v2.7h-5.2zM115.6 40.2h5.2v2.7h-5.2zM15.0 42.7h5.2v2.7h-5.2zM25.1 42.7h5.2v2.7h-5.2zM35.1 42.7h15.3v2.7h-15.3zM100.5 42.7h5.2v2.7h-5.2zM115.6 42.7h5.2v2.7h-5.2zM4.9 45.2h15.3v2.7h-15.3zM4.9 47.8h15.3v2.7h-15.3zM4.9 50.3h20.3v2.7h-20.3zM4.9 52.8h20.3v2.7h-20.3z"/>
<path fill="#bc0e0e" d="M35.1 -5.1h5.2v2.7h-5.2zM65.3 -5.1h5.2v2.7h-5.2zM80.4 -5.1h5.2v2.7h-5.2zM115.6 -5.1h5.2v2.7h-5.2zM35.1 -2.6h5.2v2.7h-5.2zM65.3 -2.6h5.2v2.7h-5.2zM80.4 -2.6h5.2v2.7h-5.2zM115.6 -2.6h5.2v2.7h-5.2zM35.1 -0.1h5.2v2.7h-5.2zM65.3 -0.1h5.2v2.7h-5.2zM80.4 -0.1h5.2v2.7h-5.2zM115.6 -0.1h5.2v2.7h-5.2zM35.1 2.4h5.2v2.7h-5.2zM65.3 2.4h5.2v2.7h-5.2zM80.4 2.4h5.2v2.7h-5.2zM115.6 2.4h5.2v2.7h-5.2zM15.0 4.9h5.2v2.7h-5.2zM50.2 4.9h5.2v2.7h-5.2zM80.4 4.9h5.2v2.7h-5.2zM115.6 4.9h5.2v2.7h-5.2zM140.8 4.9h5.2v2.7h-5.2zM15.0 7.5h5.2v2.7h-5.2zM50.2 7.5h5.2v2.7h-5.2zM80.4 7.5h5.2v2.7h-5.2zM115.6 7.5h5.2v2.7h-5.2zM140.8 7.5h5.2v2.7h-5.2zM50.2 10.0h5.2v2.7h-5.2zM135.7 10.0h5.2v2.7h-5.2zM50.2 12.5h5.2v2.7h-5.2zM135.7 12.5h5.2v2.7h-5.2zM-5.1 15.0h10.3v2.7h-10.3zM55.2 15.0h5.2v2.7h-5.2zM75.4 15.0h5.2v2.7h-5.2zM145.8 15.0h5.2v2.7h-5.2zM-5.1 17.5h10.3v2.7h-10.3zM55.2 17.5h5.2v2.7h-5.2zM75.4 17.5h5.2v2.7h-5.2zM145.8 17.5h5.2v2.7h-5.2zM-5.1 20.0h10.3v2.7h-10.3zM40.1 20.0h5.2v2.7h-5.2zM55.2 20.0h5.2v2.7h-5.2zM85.4 20.0h5.2v2.7h-5.2zM-5.1 22.6h10.3v2.7h-10.3zM40.1 22.6h5.2v2.7h-5.2zM55.2 22.6h5.2v2.7h-5.2zM85.4 22.6h5.2v2.7h-5.2zM4.9 25.1h5.2v2.7h-5.2zM40.1 25.1h5.2v2.7h-5.2zM50.2 25.1h5.2v2.7h-5.2zM85.4 25.1h5.2v2.7h-5.2zM4.9 27.6h5.2v2.7h-5.2zM40.1 27.6h5.2v2.7h-5.2zM50.2 27.6h5.2v2.7h-5.2zM85.4 27.6h5.2v2.7h-5.2zM40.1 30.1h5.2v2.7h-5.2zM80.4 30.1h5.2v2.7h-5.2zM90.5 30.1h5.2v2.7h-5.2zM40.1 32.6h5.2v2.7h-5.2zM80.4 32.6h5.2v2.7h-5.2zM90.5 32.6h5.2v2.7h-5.2zM4.9 35.2h20.3v2.7h-20.3zM95.5 35.2h5.2v2.7h-5.2zM110.6 35.2h10.3v2.7h-10.3zM4.9 37.7h20.3v2.7h-20.3zM95.5 37.7h5.2v2.7h-5.2zM110.6 37.7h10.3v2.7h-10.3zM4.9 40.2h10.3v2.7h-10.3zM20.0 40.2h5.2v2.7h-5.2zM105.6 40.2h10.3v2.7h-10.3zM4.9 42.7h10.3v2.7h-10.3zM20.0 42.7h5.2v2.7h-5.2zM105.6 42.7h10.3v2.7h-10.3zM20.0 45.2h10.3v2.7h-10.3zM20.0 47.8h10.3v2.7h-10.3z"/>
<path fill="#a20008" d="M40.1 -5.1h10.3v2.7h-10.3zM70.3 -5.1h10.3v2.7h-10.3zM120.7 -5.1h10.3v2.7h-10.3zM40.1 -2.6h10.3v2.7h-10.3zM70.3 -2.6h10.3v2.7h-10.3zM120.7 -2.6h10.3v2.7h-10.3zM40.1 -0.1h10.3v2.7h-10.3zM70.3 -0.1h10.3v2.7h-10.3zM120.7 -0.1h10.3v2.7h-10.3zM40.1 2.4h10.3v2.7h-10.3zM70.3 2.4h10.3v2.7h-10.3zM120.7 2.4h10.3v2.7h-10.3zM20.0 4.9h30.4v2.7h-30.4zM75.4 4.9h5.2v2.7h-5.2zM120.7 4.9h5.2v2.7h-5.2zM20.0 7.5h30.4v2.7h-30.4zM75.4 7.5h5.2v2.7h-5.2zM120.7 7.5h5.2v2.7h-5.2zM4.9 10.0h45.5v2.7h-45.5zM75.4 10.0h10.3v2.7h-10.3zM140.8 10.0h10.3v2.7h-10.3zM4.9 12.5h45.5v2.7h-45.5zM75.4 12.5h10.3v2.7h-10.3zM140.8 12.5h10.3v2.7h-10.3zM4.9 15.0h50.5v2.7h-50.5zM80.4 15.0h5.2v2.7h-5.2zM4.9 17.5h50.5v2.7h-50.5zM80.4 17.5h5.2v2.7h-5.2zM4.9 20.0h35.4v2.7h-35.4zM45.2 20.0h10.3v2.7h-10.3zM80.4 20.0h5.2v2.7h-5.2zM4.9 22.6h35.4v2.7h-35.4zM45.2 22.6h10.3v2.7h-10.3zM80.4 22.6h5.2v2.7h-5.2zM10.0 25.1h30.4v2.7h-30.4zM45.2 25.1h5.2v2.7h-5.2zM80.4 25.1h5.2v2.7h-5.2zM10.0 27.6h30.4v2.7h-30.4zM45.2 27.6h5.2v2.7h-5.2zM80.4 27.6h5.2v2.7h-5.2zM10.0 30.1h30.4v2.7h-30.4zM85.4 30.1h5.2v2.7h-5.2zM10.0 32.6h30.4v2.7h-30.4zM85.4 32.6h5.2v2.7h-5.2zM25.1 35.2h5.2v2.7h-5.2zM100.5 35.2h10.3v2.7h-10.3zM25.1 37.7h5.2v2.7h-5.2zM100.5 37.7h10.3v2.7h-10.3z"/>
<path fill="#fb943a" d="M50.2 -5.1h5.2v2.7h-5.2zM50.2 -2.6h5.2v2.7h-5.2zM50.2 -0.1h5.2v2.7h-5.2zM50.2 2.4h5.2v2.7h-5.2zM60.3 4.9h5.2v2.7h-5.2zM60.3 7.5h5.2v2.7h-5.2zM115.6 15.0h10.3v2.7h-10.3zM115.6 17.5h10.3v2.7h-10.3zM110.6 20.0h15.3v2.7h-15.3zM110.6 22.6h15.3v2.7h-15.3zM110.6 25.1h10.3v2.7h-10.3zM130.7 25.1h5.2v2.7h-5.2zM110.6 27.6h10.3v2.7h-10.3zM130.7 27.6h5.2v2.7h-5.2zM130.7 30.1h5.2v2.7h-5.2zM130.7 32.6h5.2v2.7h-5.2zM135.7 35.2h10.3v2.7h-10.3zM135.7 37.7h10.3v2.7h-10.3zM140.8 40.2h15.3v2.7h-15.3zM140.8 42.7h15.3v2.7h-15.3zM90.5 45.2h5.2v2.7h-5.2zM100.5 45.2h10.3v2.7h-10.3zM115.6 45.2h10.3v2.7h-10.3zM145.8 45.2h20.3v2.7h-20.3zM90.5 47.8h5.2v2.7h-5.2zM100.5 47.8h10.3v2.7h-10.3zM115.6 47.8h10.3v2.7h-10.3zM145.8 47.8h20.3v2.7h-20.3zM60.3 50.3h5.2v2.7h-5.2zM70.3 50.3h5.2v2.7h-5.2zM85.4 50.3h10.3v2.7h-10.3zM100.5 50.3h5.2v2.7h-5.2zM120.7 50.3h10.3v2.7h-10.3zM140.8 50.3h10.3v2.7h-10.3zM60.3 52.8h5.2v2.7h-5.2zM70.3 52.8h5.2v2.7h-5.2zM85.4 52.8h10.3v2.7h-10.3zM100.5 52.8h5.2v2.7h-5.2zM120.7 52.8h10.3v2.7h-10.3zM140.8 52.8h10.3v2.7h-10.3zM60.3 55.3h10.3v2.7h-10.3zM75.4 55.3h15.3v2.7h-15.3zM95.5 55.3h5.2v2.7h-5.2zM120.7 55.3h5.2v2.7h-5.2zM140.8 55.3h10.3v2.7h-10.3zM60.3 57.8h10.3v2.7h-10.3zM75.4 57.8h15.3v2.7h-15.3zM95.5 57.8h5.2v2.7h-5.2zM120.7 57.8h5.2v2.7h-5.2zM140.8 57.8h10.3v2.7h-10.3zM15.0 60.3h10.3v2.7h-10.3zM65.3 60.3h10.3v2.7h-10.3zM90.5 60.3h10.3v2.7h-10.3zM110.6 60.3h10.3v2.7h-10.3zM140.8 60.3h5.2v2.7h-5.2zM15.0 62.9h10.3v2.7h-10.3zM65.3 62.9h10.3v2.7h-10.3zM90.5 62.9h10.3v2.7h-10.3zM110.6 62.9h10.3v2.7h-10.3zM140.8 62.9h5.2v2.7h-5.2zM55.2 65.4h10.3v2.7h-10.3zM70.3 65.4h5.2v2.7h-5.2zM95.5 65.4h5.2v2.7h-5.2zM110.6 65.4h5.2v2.7h-5.2zM140.8 65.4h5.2v2.7h-5.2zM55.2 67.9h10.3v2.7h-10.3zM70.3 67.9h5.2v2.7h-5.2zM95.5 67.9h5.2v2.7h-5.2zM110.6 67.9h5.2v2.7h-5.2zM140.8 67.9h5.2v2.7h-5.2zM-5.1 70.4h10.3v2.7h-10.3zM55.2 70.4h5.2v2.7h-5.2zM65.3 70.4h5.2v2.7h-5.2zM95.5 70.4h10.3v2.7h-10.3zM140.8 70.4h5.2v2.7h-5.2zM155.9 70.4h10.3v2.7h-10.3zM-5.1 72.9h10.3v2.7h-10.3zM55.2 72.9h5.2v2.7h-5.2zM65.3 72.9h5.2v2.7h-5.2zM95.5 72.9h10.3v2.7h-10.3zM140.8 72.9h5.2v2.7h-5.2zM155.9 72.9h10.3v2.7h-10.3zM-5.1 75.5h10.3v2.7h-10.3zM90.5 75.5h10.3v2.7h-10.3zM135.7 75.5h5.2v2.7h-5.2zM150.8 75.5h5.2v2.7h-5.2zM-5.1 78.0h10.3v2.7h-10.3zM90.5 78.0h10.3v2.7h-10.3zM135.7 78.0h5.2v2.7h-5.2zM150.8 78.0h5.2v2.7h-5.2zM75.4 80.5h5.2v2.7h-5.2zM85.4 80.5h10.3v2.7h-10.3zM135.7 80.5h5.2v2.7h-5.2zM75.4 83.0h5.2v2.7h-5.2zM85.4 83.0h10.3v2.7h-10.3zM135.7 83.0h5.2v2.7h-5.2zM65.3 85.5h10.3v2.7h-10.3zM80.4 85.5h5.2v2.7h-5.2zM140.8 85.5h5.2v2.7h-5.2zM65.3 88.0h10.3v2.7h-10.3zM80.4 88.0h5.2v2.7h-5.2zM140.8 88.0h5.2v2.7h-5.2zM50.2 90.6h5.2v2.7h-5.2zM75.4 90.6h5.2v2.7h-5.2zM50.2 93.1h5.2v2.7h-5.2zM75.4 93.1h5.2v2.7h-5.2zM75.4 95.6h5.2v2.7h-5.2zM75.4 98.1h5.2v2.7h-5.2zM75.4 100.6h5.2v2.7h-5.2zM75.4 103.2h5.2v2.7h-5.2zM65.3 125.8h5.2v2.7h-5.2zM65.3 128.3h5.2v2.7h-5.2z"/>
<path fill="#fee184" d="M55.2 -5.1h5.2v2.7h-5.2zM55.2 -2.6h5.2v2.7h-5.2zM55.2 -0.1h5.2v2.7h-5.2zM55.2 2.4h5.2v2.7h-5.2zM145.8 20.0h5.2v2.7h-5.2zM145.8 22.6h5.2v2.7h-5.2zM135.7 25.1h5.2v2.7h-5.2zM145.8 25.1h5.2v2.7h-5.2zM135.7 27.6h5.2v2.7h-5.2zM145.8 27.6h5.2v2.7h-5.2zM140.8 30.1h10.3v2.7h-10.3zM140.8 32.6h10.3v2.7h-10.3zM150.8 35.2h5.2v2.7h-5.2zM150.8 37.7h5.2v2.7h-5.2zM155.9 40.2h10.3v2.7h-10.3zM155.9 42.7h10.3v2.7h-10.3zM115.6 50.3h5.2v2.7h-5.2zM155.9 50.3h10.3v2.7h-10.3zM115.6 52.8h5.2v2.7h-5.2zM155.9 52.8h10.3v2.7h-10.3zM105.6 55.3h10.3v2.7h-10.3zM155.9 55.3h10.3v2.7h-10.3zM105.6 57.8h10.3v2.7h-10.3zM155.9 57.8h10.3v2.7h-10.3zM60.3 60.3h5.2v2.7h-5.2zM150.8 60.3h5.2v2.7h-5.2zM60.3 62.9h5.2v2.7h-5.2zM150.8 62.9h5.2v2.7h-5.2zM10.0 65.4h15.3v2.7h-15.3zM65.3 65.4h5.2v2.7h-5.2zM150.8 65.4h15.3v2.7h-15.3zM10.0 67.9h15.3v2.7h-15.3zM65.3 67.9h5.2v2.7h-5.2zM150.8 67.9h15.3v2.7h-15.3zM105.6 70.4h5.2v2.7h-5.2zM150.8 70.4h5.2v2.7h-5.2zM105.6 72.9h5.2v2.7h-5.2zM150.8 72.9h5.2v2.7h-5.2zM100.5 75.5h5.2v2.7h-5.2zM145.8 75.5h5.2v2.7h-5.2zM100.5 78.0h5.2v2.7h-5.2zM145.8 78.0h5.2v2.7h-5.2zM95.5 80.5h5.2v2.7h-5.2zM115.6 80.5h20.3v2.7h-20.3zM140.8 80.5h5.2v2.7h-5.2zM95.5 83.0h5.2v2.7h-5.2zM115.6 83.0h20.3v2.7h-20.3zM140.8 83.0h5.2v2.7h-5.2zM15.0 85.5h5.2v2.7h-5.2zM75.4 85.5h5.2v2.7h-5.2zM85.4 85.5h5.2v2.7h-5.2zM105.6 85.5h35.4v2.7h-35.4zM145.8 85.5h5.2v2.7h-5.2zM155.9 85.5h10.3v2.7h-10.3zM15.0 88.0h5.2v2.7h-5.2zM75.4 88.0h5.2v2.7h-5.2zM85.4 88.0h5.2v2.7h-5.2zM105.6 88.0h35.4v2.7h-35.4zM145.8 88.0h5.2v2.7h-5.2zM155.9 88.0h10.3v2.7h-10.3zM15.0 90.6h5.2v2.7h-5.2zM55.2 90.6h5.2v2.7h-5.2zM65.3 90.6h10.3v2.7h-10.3zM80.4 90.6h5.2v2.7h-5.2zM95.5 90.6h55.5v2.7h-55.5zM15.0 93.1h5.2v2.7h-5.2zM55.2 93.1h5.2v2.7h-5.2zM65.3 93.1h10.3v2.7h-10.3zM80.4 93.1h5.2v2.7h-5.2zM95.5 93.1h55.5v2.7h-55.5zM35.1 95.6h5.2v2.7h-5.2zM55.2 95.6h5.2v2.7h-5.2zM70.3 95.6h5.2v2.7h-5.2zM90.5 95.6h25.4v2.7h-25.4zM120.7 95.6h15.3v2.7h-15.3zM150.8 95.6h5.2v2.7h-5.2zM35.1 98.1h5.2v2.7h-5.2zM55.2 98.1h5.2v2.7h-5.2zM70.3 98.1h5.2v2.7h-5.2zM90.5 98.1h25.4v2.7h-25.4zM120.7 98.1h15.3v2.7h-15.3zM150.8 98.1h5.2v2.7h-5.2zM-5.1 100.6h20.3v2.7h-20.3zM55.2 100.6h5.2v2.7h-5.2zM90.5 100.6h25.4v2.7h-25.4zM125.7 100.6h5.2v2.7h-5.2zM-5.1 103.2h20.3v2.7h-20.3zM55.2 103.2h5.2v2.7h-5.2zM90.5 103.2h25.4v2.7h-25.4zM125.7 103.2h5.2v2.7h-5.2zM-5.1 105.7h25.4v2.7h-25.4zM55.2 105.7h5.2v2.7h-5.2zM75.4 105.7h5.2v2.7h-5.2zM90.5 105.7h25.4v2.7h-25.4zM120.7 105.7h5.2v2.7h-5.2zM145.8 105.7h5.2v2.7h-5.2zM-5.1 108.2h25.4v2.7h-25.4zM55.2 108.2h5.2v2.7h-5.2zM75.4 108.2h5.2v2.7h-5.2zM90.5 108.2h25.4v2.7h-25.4zM120.7 108.2h5.2v2.7h-5.2zM145.8 108.2h5.2v2.7h-5.2zM-5.1 110.7h25.4v2.7h-25.4zM55.2 110.7h5.2v2.7h-5.2zM75.4 110.7h5.2v2.7h-5.2zM95.5 110.7h30.4v2.7h-30.4zM130.7 110.7h25.4v2.7h-25.4zM-5.1 113.2h25.4v2.7h-25.4zM55.2 113.2h5.2v2.7h-5.2zM75.4 113.2h5.2v2.7h-5.2zM95.5 113.2h30.4v2.7h-30.4zM130.7 113.2h25.4v2.7h-25.4zM-5.1 115.8h10.3v2.7h-10.3zM15.0 115.8h45.5v2.7h-45.5zM75.4 115.8h5.2v2.7h-5.2zM105.6 115.8h50.5v2.7h-50.5zM-5.1 118.3h10.3v2.7h-10.3zM15.0 118.3h45.5v2.7h-45.5zM75.4 118.3h5.2v2.7h-5.2zM105.6 118.3h50.5v2.7h-50.5zM10.0 120.8h55.5v2.7h-55.5zM70.3 120.8h10.3v2.7h-10.3zM120.7 120.8h25.4v2.7h-25.4zM10.0 123.3h55.5v2.7h-55.5zM70.3 123.3h10.3v2.7h-10.3zM120.7 123.3h25.4v2.7h-25.4zM-5.1 125.8h70.6v2.7h-70.6zM70.3 125.8h10.3v2.7h-10.3zM-5.1 128.3h70.6v2.7h-70.6zM70.3 128.3h10.3v2.7h-10.3zM-5.1 130.9h30.4v2.7h-30.4zM35.1 130.9h45.5v2.7h-45.5zM-5.1 133.4h30.4v2.7h-30.4zM35.1 133.4h45.5v2.7h-45.5zM-5.1 135.9h30.4v2.7h-30.4zM35.1 135.9h45.5v2.7h-45.5zM-5.1 138.4h30.4v2.7h-30.4zM35.1 138.4h45.5v2.7h-45.5z"/>
<path fill="#fdc04a" d="M130.7 20.0h5.2v2.7h-5.2zM130.7 22.6h5.2v2.7h-5.2zM135.7 30.1h5.2v2.7h-5.2zM135.7 32.6h5.2v2.7h-5.2zM145.8 35.2h5.2v2.7h-5.2zM145.8 37.7h5.2v2.7h-5.2zM110.6 45.2h5.2v2.7h-5.2zM110.6 47.8h5.2v2.7h-5.2zM95.5 50.3h5.2v2.7h-5.2zM105.6 50.3h5.2v2.7h-5.2zM150.8 50.3h5.2v2.7h-5.2zM95.5 52.8h5.2v2.7h-5.2zM105.6 52.8h5.2v2.7h-5.2zM150.8 52.8h5.2v2.7h-5.2zM-5.1 55.3h10.3v2.7h-10.3zM90.5 55.3h5.2v2.7h-5.2zM100.5 55.3h5.2v2.7h-5.2zM115.6 55.3h5.2v2.7h-5.2zM150.8 55.3h5.2v2.7h-5.2zM-5.1 57.8h10.3v2.7h-10.3zM90.5 57.8h5.2v2.7h-5.2zM100.5 57.8h5.2v2.7h-5.2zM115.6 57.8h5.2v2.7h-5.2zM150.8 57.8h5.2v2.7h-5.2zM-5.1 60.3h20.3v2.7h-20.3zM100.5 60.3h10.3v2.7h-10.3zM120.7 60.3h5.2v2.7h-5.2zM145.8 60.3h5.2v2.7h-5.2zM-5.1 62.9h20.3v2.7h-20.3zM100.5 62.9h10.3v2.7h-10.3zM120.7 62.9h5.2v2.7h-5.2zM145.8 62.9h5.2v2.7h-5.2zM-5.1 65.4h15.3v2.7h-15.3zM100.5 65.4h10.3v2.7h-10.3zM115.6 65.4h10.3v2.7h-10.3zM145.8 65.4h5.2v2.7h-5.2zM-5.1 67.9h15.3v2.7h-15.3zM100.5 67.9h10.3v2.7h-10.3zM115.6 67.9h10.3v2.7h-10.3zM145.8 67.9h5.2v2.7h-5.2zM4.9 70.4h30.4v2.7h-30.4zM4.9 72.9h30.4v2.7h-30.4zM4.9 75.5h45.5v2.7h-45.5zM140.8 75.5h5.2v2.7h-5.2zM4.9 78.0h45.5v2.7h-45.5zM140.8 78.0h5.2v2.7h-5.2zM-5.1 80.5h55.5v2.7h-55.5zM145.8 80.5h5.2v2.7h-5.2zM-5.1 83.0h55.5v2.7h-55.5zM145.8 83.0h5.2v2.7h-5.2zM-5.1 85.5h20.3v2.7h-20.3zM20.0 85.5h30.4v2.7h-30.4zM-5.1 88.0h20.3v2.7h-20.3zM20.0 88.0h30.4v2.7h-30.4zM-5.1 90.6h20.3v2.7h-20.3zM20.0 90.6h30.4v2.7h-30.4zM-5.1 93.1h20.3v2.7h-20.3zM20.0 93.1h30.4v2.7h-30.4zM-5.1 95.6h40.5v2.7h-40.5zM40.1 95.6h15.3v2.7h-15.3zM115.6 95.6h5.2v2.7h-5.2zM135.7 95.6h15.3v2.7h-15.3zM-5.1 98.1h40.5v2.7h-40.5zM40.1 98.1h15.3v2.7h-15.3zM115.6 98.1h5.2v2.7h-5.2zM135.7 98.1h15.3v2.7h-15.3zM15.0 100.6h40.5v2.7h-40.5zM115.6 100.6h10.3v2.7h-10.3zM130.7 100.6h20.3v2.7h-20.3zM15.0 103.2h40.5v2.7h-40.5zM115.6 103.2h10.3v2.7h-10.3zM130.7 103.2h20.3v2.7h-20.3zM20.0 105.7h35.4v2.7h-35.4zM115.6 105.7h5.2v2.7h-5.2zM125.7 105.7h20.3v2.7h-20.3zM20.0 108.2h35.4v2.7h-35.4zM115.6 108.2h5.2v2.7h-5.2zM125.7 108.2h20.3v2.7h-20.3zM20.0 110.7h35.4v2.7h-35.4zM125.7 110.7h5.2v2.7h-5.2zM20.0 113.2h35.4v2.7h-35.4zM125.7 113.2h5.2v2.7h-5.2z"/>
<path fill="#fffce6" d="M135.7 20.0h5.2v2.7h-5.2zM150.8 20.0h5.2v2.7h-5.2zM135.7 22.6h5.2v2.7h-5.2zM150.8 22.6h5.2v2.7h-5.2zM140.8 25.1h5.2v2.7h-5.2zM150.8 25.1h5.2v2.7h-5.2zM140.8 27.6h5.2v2.7h-5.2zM150.8 27.6h5.2v2.7h-5.2zM150.8 30.1h5.2v2.7h-5.2zM150.8 32.6h5.2v2.7h-5.2zM155.9 35.2h10.3v2.7h-10.3zM155.9 37.7h10.3v2.7h-10.3zM110.6 50.3h5.2v2.7h-5.2zM110.6 52.8h5.2v2.7h-5.2zM155.9 60.3h10.3v2.7h-10.3zM155.9 62.9h10.3v2.7h-10.3zM145.8 70.4h5.2v2.7h-5.2zM145.8 72.9h5.2v2.7h-5.2zM155.9 75.5h10.3v2.7h-10.3zM155.9 78.0h10.3v2.7h-10.3zM150.8 80.5h15.3v2.7h-15.3zM150.8 83.0h15.3v2.7h-15.3zM150.8 85.5h5.2v2.7h-5.2zM150.8 88.0h5.2v2.7h-5.2zM60.3 90.6h5.2v2.7h-5.2zM150.8 90.6h15.3v2.7h-15.3zM60.3 93.1h5.2v2.7h-5.2zM150.8 93.1h15.3v2.7h-15.3zM60.3 95.6h5.2v2.7h-5.2zM155.9 95.6h10.3v2.7h-10.3zM60.3 98.1h5.2v2.7h-5.2zM155.9 98.1h10.3v2.7h-10.3zM60.3 100.6h5.2v2.7h-5.2zM70.3 100.6h5.2v2.7h-5.2zM60.3 103.2h5.2v2.7h-5.2zM70.3 103.2h5.2v2.7h-5.2zM60.3 105.7h5.2v2.7h-5.2zM70.3 105.7h5.2v2.7h-5.2zM60.3 108.2h5.2v2.7h-5.2zM70.3 108.2h5.2v2.7h-5.2zM60.3 110.7h10.3v2.7h-10.3zM60.3 113.2h10.3v2.7h-10.3zM60.3 115.8h15.3v2.7h-15.3zM60.3 118.3h15.3v2.7h-15.3zM65.3 120.8h5.2v2.7h-5.2zM65.3 123.3h5.2v2.7h-5.2zM80.4 125.8h5.2v2.7h-5.2zM80.4 128.3h5.2v2.7h-5.2z"/>
<path fill="#d6edf5" d="M140.8 20.0h5.2v2.7h-5.2zM155.9 20.0h10.3v2.7h-10.3zM140.8 22.6h5.2v2.7h-5.2zM155.9 22.6h10.3v2.7h-10.3zM155.9 25.1h10.3v2.7h-10.3zM155.9 27.6h10.3v2.7h-10.3zM155.9 30.1h10.3v2.7h-10.3zM155.9 32.6h10.3v2.7h-10.3zM65.3 95.6h5.2v2.7h-5.2zM65.3 98.1h5.2v2.7h-5.2zM65.3 100.6h5.2v2.7h-5.2zM65.3 103.2h5.2v2.7h-5.2zM65.3 105.7h5.2v2.7h-5.2zM65.3 108.2h5.2v2.7h-5.2zM70.3 110.7h5.2v2.7h-5.2zM70.3 113.2h5.2v2.7h-5.2zM80.4 130.9h5.2v2.7h-5.2zM80.4 133.4h5.2v2.7h-5.2zM80.4 135.9h5.2v2.7h-5.2zM80.4 138.4h5.2v2.7h-5.2z"/>
<path fill="#fff2c0" d="M110.6 70.4h20.3v2.7h-20.3zM110.6 72.9h20.3v2.7h-20.3zM105.6 75.5h25.4v2.7h-25.4zM105.6 78.0h25.4v2.7h-25.4zM100.5 80.5h15.3v2.7h-15.3zM100.5 83.0h15.3v2.7h-15.3zM90.5 85.5h15.3v2.7h-15.3zM90.5 88.0h15.3v2.7h-15.3zM85.4 90.6h10.3v2.7h-10.3zM85.4 93.1h10.3v2.7h-10.3zM80.4 95.6h10.3v2.7h-10.3zM80.4 98.1h10.3v2.7h-10.3zM80.4 100.6h10.3v2.7h-10.3zM150.8 100.6h15.3v2.7h-15.3zM80.4 103.2h10.3v2.7h-10.3zM150.8 103.2h15.3v2.7h-15.3zM80.4 105.7h10.3v2.7h-10.3zM150.8 105.7h15.3v2.7h-15.3zM80.4 108.2h10.3v2.7h-10.3zM150.8 108.2h15.3v2.7h-15.3zM80.4 110.7h15.3v2.7h-15.3zM155.9 110.7h10.3v2.7h-10.3zM80.4 113.2h15.3v2.7h-15.3zM155.9 113.2h10.3v2.7h-10.3zM4.9 115.8h10.3v2.7h-10.3zM80.4 115.8h25.4v2.7h-25.4zM155.9 115.8h10.3v2.7h-10.3zM4.9 118.3h10.3v2.7h-10.3zM80.4 118.3h25.4v2.7h-25.4zM155.9 118.3h10.3v2.7h-10.3zM-5.1 120.8h15.3v2.7h-15.3zM80.4 120.8h40.5v2.7h-40.5zM145.8 120.8h20.3v2.7h-20.3zM-5.1 123.3h15.3v2.7h-15.3zM80.4 123.3h40.5v2.7h-40.5zM145.8 123.3h20.3v2.7h-20.3zM85.4 125.8h80.7v2.7h-80.7zM85.4 128.3h80.7v2.7h-80.7zM25.1 130.9h10.3v2.7h-10.3zM85.4 130.9h80.7v2.7h-80.7zM25.1 133.4h10.3v2.7h-10.3zM85.4 133.4h80.7v2.7h-80.7zM25.1 135.9h10.3v2.7h-10.3zM85.4 135.9h80.7v2.7h-80.7zM25.1 138.4h10.3v2.7h-10.3zM85.4 138.4h80.7v2.7h-80.7z"/>
</g><path d="M0.2 56.2 L2.7 56.0 L5.6 56.0 L8.5 55.8 L10.5 55.6 L13.0 55.3 L15.1 56.0 L17.6 55.6 L19.6 55.1 L22.1 54.7 L23.8 56.0 L23.6 57.6 L25.8 58.7 L26.7 60.9 L28.7 62.3 L30.0 62.7 L31.6 64.5 L34.1 66.5 L36.2 67.0 L38.6 66.1 L39.5 65.4 L38.2 67.6 L36.2 68.5 L33.3 69.0 L34.1 70.8 L35.8 72.6 L37.8 74.8 L40.7 76.2 L42.8 75.5 L45.7 74.4 L46.5 72.1 L47.7 69.4 L48.6 70.8 L48.4 73.5 L49.0 76.6 L48.8 80.2 L49.2 83.8 L49.6 86.9 L50.6 90.9 L51.2 94.5 L52.3 97.7 L53.7 101.2 L55.2 104.4 L56.4 108.0 L57.4 111.6 L58.9 115.1 L60.5 117.8 L61.8 120.5 L63.0 124.1 L63.9 127.2 L64.7 129.5 L66.3 131.7 L68.6 132.7 L70.9 131.3 L71.3 129.0 L74.2 127.7 L75.0 127.2 L74.4 125.9 L75.8 122.8 L78.1 122.5 L78.1 118.7 L77.9 115.6 L79.4 112.4 L80.0 109.3 L79.1 105.7 L78.9 101.7 L80.0 99.0 L82.5 98.1 L83.7 95.9 L87.0 95.0 L88.2 93.2 L91.1 90.5 L93.6 88.3 L96.5 85.6 L99.0 82.9 L101.5 80.6 L104.8 79.5 L106.8 77.1 L107.7 73.9 L108.9 72.4 L111.4 71.7 L113.0 72.1 L115.5 71.9 L118.0 71.2 L120.9 70.8 L122.1 68.5 L124.2 68.1 L126.3 67.6 L127.5 69.4 L128.3 72.6 L129.2 75.3 L130.8 78.0 L132.9 79.7 L134.9 82.4 L137.0 84.7 L138.2 88.3 L138.7 91.8 L137.8 96.3 L138.7 97.7 L142.0 98.6 L143.6 97.2 L146.1 95.4 L148.6 92.7 L149.8 94.5 L151.5 96.3 L151.9 99.9 L152.7 103.0 L153.5 107.1 L155.2 110.7 L155.6 114.2 L156.0 117.8 L155.6 121.4 L155.2 124.5 L154.4 127.7 L154.4 131.3 L154.8 134.4 L155.6 136.6 M2.7 56.0 L3.1 51.5 L6.0 50.2 L9.3 49.7 L9.7 47.0 L7.6 46.8 L7.6 42.3 L3.5 40.8 L-0.2 35.2 M-0.2 35.2 L6.4 37.2 L13.0 37.2 L21.7 35.2 L22.5 30.5 L28.3 28.2 L30.0 26.4 L34.5 26.0 L35.3 20.6 L38.6 19.3 L37.0 16.6 L41.9 15.2 L44.0 11.2 L42.4 7.6 L47.7 4.0 L53.1 3.6 L57.7 2.2 M-0.2 35.2 L3.5 30.9 L3.1 28.2 L-0.4 27.8 M0.2 9.4 L5.6 10.8 L8.9 8.5 L14.7 6.3 L17.2 2.2 L19.6 0.9 L22.9 1.3 L28.3 2.2 L29.6 3.1 L34.5 2.7 L38.2 0.4 L39.1 -1.3 M30.0 62.7 L32.0 60.0 L37.4 60.5 L41.1 59.6 L39.9 53.8 L37.8 52.9 L38.6 49.7 L35.3 47.9 L39.1 43.9 L45.3 43.9 L49.4 39.0 L51.5 34.9 L56.0 29.6 L56.4 26.0 L59.3 24.2 L56.8 22.0 L53.9 20.2 L54.3 16.6 L53.5 13.4 L61.4 14.3 L66.3 12.1 L69.6 9.9 M57.7 2.2 L62.2 5.4 L69.6 9.9 L74.2 15.2 L74.6 21.1 L73.4 23.3 L73.4 27.8 L78.3 30.5 L83.3 33.6 L87.4 33.2 L94.9 37.6 L99.8 40.8 L103.5 43.9 L112.2 43.9 L115.5 46.6 L118.0 43.0 L121.3 43.0 L126.7 44.4 L130.4 43.9 L134.1 40.8 L139.1 37.6 L142.4 38.5 L145.7 37.2 L147.3 39.9 L150.4 42.3 M83.3 33.6 L80.4 35.8 L79.0 39.9 L82.9 42.1 L87.0 43.9 L92.4 46.6 L97.7 46.6 L102.7 49.7 L107.7 50.6 L112.2 50.6 L112.2 43.9 M115.5 46.6 L115.9 48.4 L119.2 49.3 L124.2 48.8 L128.7 48.6 L126.7 44.4 M150.4 42.3 L148.6 45.2 L149.4 47.5 L145.7 47.0 L141.6 49.7 L139.1 56.0 L139.5 58.2 L137.0 61.8 L133.7 60.9 L134.1 65.4 L132.9 69.4 L130.8 70.4 M116.3 71.2 L115.5 66.8 L114.9 65.0 L114.3 60.0 L112.2 59.1 L112.2 56.0 L113.5 53.8 L113.7 50.0 L117.6 52.4 L119.4 55.6 L121.7 56.2 L128.3 56.0 L130.0 56.9 L129.2 60.0 L125.0 60.9 L125.0 63.2 L125.8 65.4 L126.7 66.1 L129.6 62.7 L129.6 65.4 L130.8 70.3 L129.2 73.5 L129.6 76.2 M150.4 42.3 L153.5 44.8 L156.0 45.7 L156.0 52.4 L151.9 56.9 L151.5 61.4 L156.0 60.9 L156.8 65.0 L159.3 66.3 L158.1 69.9 L162.6 72.6 M162.6 77.7 L157.3 80.2 L153.1 80.6 L151.9 85.6 L150.6 86.0 L154.0 92.7 L155.6 96.8 L154.0 100.8 L157.7 107.1 L158.1 112.4 L159.7 116.0 L156.4 122.3 L156.2 124.1" fill="none" stroke="#1a1a1a" stroke-width="0.55" stroke-opacity="0.85" stroke-linejoin="round"/><path d="M132.0 108.4 L132.5 111.1 L131.6 114.2 L131.2 116.9 M130.4 120.5 L130.6 121.6 M131.6 127.7 L131.4 128.1 M135.8 136.6 L135.4 137.5" fill="none" stroke="#111" stroke-width="1.1" stroke-linecap="round"/><circle cx="38.9" cy="65.9" r="0.9" fill="#111"/><circle cx="116.8" cy="70.3" r="0.9" fill="#111"/>
</svg>
<rect x="20.5" y="208.5" width="160.5" height="135.0" fill="none" stroke="#000" stroke-width="1"/>
<text x="90.30" y="203.80" font-size="8" text-anchor="middle" font-family="&quot;Liberation Serif&quot;, serif" font-weight="bold">(d) Temperature Anomaly (°C)</text>
<text x="13.40" y="222.80" font-size="10" text-anchor="end" font-family="&quot;Liberation Sans&quot;, sans-serif">35<tspan font-size="5.6" font-weight="bold" dx="0.3" dy="-3.6">°</tspan></text>
<text x="186.80" y="222.80" font-size="10" text-anchor="start" font-family="&quot;Liberation Sans&quot;, sans-serif">35<tspan font-size="5.6" font-weight="bold" dx="0.3" dy="-3.6">°</tspan></text>
<text x="13.40" y="245.20" font-size="10" text-anchor="end" font-family="&quot;Liberation Sans&quot;, sans-serif">30<tspan font-size="5.6" font-weight="bold" dx="0.3" dy="-3.6">°</tspan></text>
<text x="186.80" y="245.20" font-size="10" text-anchor="start" font-family="&quot;Liberation Sans&quot;, sans-serif">30<tspan font-size="5.6" font-weight="bold" dx="0.3" dy="-3.6">°</tspan></text>
<text x="13.40" y="267.60" font-size="10" text-anchor="end" font-family="&quot;Liberation Sans&quot;, sans-serif">25<tspan font-size="5.6" font-weight="bold" dx="0.3" dy="-3.6">°</tspan></text>
<text x="186.80" y="267.60" font-size="10" text-anchor="start" font-family="&quot;Liberation Sans&quot;, sans-serif">25<tspan font-size="5.6" font-weight="bold" dx="0.3" dy="-3.6">°</tspan></text>
<text x="13.40" y="290.00" font-size="10" text-anchor="end" font-family="&quot;Liberation Sans&quot;, sans-serif">20<tspan font-size="5.6" font-weight="bold" dx="0.3" dy="-3.6">°</tspan></text>
<text x="186.80" y="290.00" font-size="10" text-anchor="start" font-family="&quot;Liberation Sans&quot;, sans-serif">20<tspan font-size="5.6" font-weight="bold" dx="0.3" dy="-3.6">°</tspan></text>
<text x="13.40" y="312.40" font-size="10" text-anchor="end" font-family="&quot;Liberation Sans&quot;, sans-serif">15<tspan font-size="5.6" font-weight="bold" dx="0.3" dy="-3.6">°</tspan></text>
<text x="186.80" y="312.40" font-size="10" text-anchor="start" font-family="&quot;Liberation Sans&quot;, sans-serif">15<tspan font-size="5.6" font-weight="bold" dx="0.3" dy="-3.6">°</tspan></text>
<text x="13.40" y="334.80" font-size="10" text-anchor="end" font-family="&quot;Liberation Sans&quot;, sans-serif">10<tspan font-size="5.6" font-weight="bold" dx="0.3" dy="-3.6">°</tspan></text>
<text x="186.80" y="334.80" font-size="10" text-anchor="start" font-family="&quot;Liberation Sans&quot;, sans-serif">10<tspan font-size="5.6" font-weight="bold" dx="0.3" dy="-3.6">°</tspan></text>
<text x="37.19" y="357.70" font-size="10" text-anchor="middle" font-family="&quot;Liberation Sans&quot;, sans-serif">65<tspan font-size="5.6" font-weight="bold" dx="0.3" dy="-3.6">°</tspan></text>
<text x="57.86" y="357.70" font-size="10" text-anchor="middle" font-family="&quot;Liberation Sans&quot;, sans-serif">70<tspan font-size="5.6" font-weight="bold" dx="0.3" dy="-3.6">°</tspan></text>
<text x="78.52" y="357.70" font-size="10" text-anchor="middle" font-family="&quot;Liberation Sans&quot;, sans-serif">75<tspan font-size="5.6" font-weight="bold" dx="0.3" dy="-3.6">°</tspan></text>
<text x="99.19" y="357.70" font-size="10" text-anchor="middle" font-family="&quot;Liberation Sans&quot;, sans-serif">80<tspan font-size="5.6" font-weight="bold" dx="0.3" dy="-3.6">°</tspan></text>
<text x="119.85" y="357.70" font-size="10" text-anchor="middle" font-family="&quot;Liberation Sans&quot;, sans-serif">85<tspan font-size="5.6" font-weight="bold" dx="0.3" dy="-3.6">°</tspan></text>
<text x="140.52" y="357.70" font-size="10" text-anchor="middle" font-family="&quot;Liberation Sans&quot;, sans-serif">90<tspan font-size="5.6" font-weight="bold" dx="0.3" dy="-3.6">°</tspan></text>
<text x="161.18" y="357.70" font-size="10" text-anchor="middle" font-family="&quot;Liberation Sans&quot;, sans-serif">95<tspan font-size="5.6" font-weight="bold" dx="0.3" dy="-3.6">°</tspan></text>
<svg x="207" y="208" width="161" height="136" viewBox="0 0 161 136" overflow="hidden">
<g filter="url(#bl)">
<path fill="#c40c06" d="M-5.1 -5.1h35.4v2.7h-35.4zM-5.1 -2.6h35.4v2.7h-35.4zM-5.1 -0.1h35.4v2.7h-35.4zM-5.1 2.4h35.4v2.7h-35.4zM-5.1 4.9h25.4v2.7h-25.4zM-5.1 7.5h25.4v2.7h-25.4zM-5.1 10.0h25.4v2.7h-25.4zM40.1 10.0h10.3v2.7h-10.3zM145.8 10.0h5.2v2.7h-5.2zM-5.1 12.5h25.4v2.7h-25.4zM40.1 12.5h10.3v2.7h-10.3zM145.8 12.5h5.2v2.7h-5.2zM-5.1 15.0h15.3v2.7h-15.3zM15.0 15.0h5.2v2.7h-5.2zM40.1 15.0h20.3v2.7h-20.3zM-5.1 17.5h15.3v2.7h-15.3zM15.0 17.5h5.2v2.7h-5.2zM40.1 17.5h20.3v2.7h-20.3zM-5.1 20.0h25.4v2.7h-25.4zM35.1 20.0h30.4v2.7h-30.4zM-5.1 22.6h25.4v2.7h-25.4zM35.1 22.6h30.4v2.7h-30.4zM-5.1 25.1h30.4v2.7h-30.4zM35.1 25.1h35.4v2.7h-35.4zM-5.1 27.6h30.4v2.7h-30.4zM35.1 27.6h35.4v2.7h-35.4zM-5.1 30.1h25.4v2.7h-25.4zM30.1 30.1h45.5v2.7h-45.5zM-5.1 32.6h25.4v2.7h-25.4zM30.1 32.6h45.5v2.7h-45.5zM-5.1 35.2h25.4v2.7h-25.4zM25.1 35.2h60.6v2.7h-60.6zM-5.1 37.7h25.4v2.7h-25.4zM25.1 37.7h60.6v2.7h-60.6zM4.9 40.2h15.3v2.7h-15.3zM25.1 40.2h70.6v2.7h-70.6zM4.9 42.7h15.3v2.7h-15.3zM25.1 42.7h70.6v2.7h-70.6zM4.9 45.2h15.3v2.7h-15.3zM25.1 45.2h75.7v2.7h-75.7zM4.9 47.8h15.3v2.7h-15.3zM25.1 47.8h75.7v2.7h-75.7zM-5.1 50.3h110.9v2.7h-110.9zM-5.1 52.8h110.9v2.7h-110.9zM-5.1 55.3h55.5v2.7h-55.5zM60.3 55.3h45.5v2.7h-45.5zM-5.1 57.8h55.5v2.7h-55.5zM60.3 57.8h45.5v2.7h-45.5zM-5.1 60.3h50.5v2.7h-50.5zM75.4 60.3h35.4v2.7h-35.4zM-5.1 62.9h50.5v2.7h-50.5zM75.4 62.9h35.4v2.7h-35.4zM-5.1 65.4h55.5v2.7h-55.5zM80.4 65.4h30.4v2.7h-30.4zM-5.1 67.9h55.5v2.7h-55.5zM80.4 67.9h30.4v2.7h-30.4zM-5.1 70.4h40.5v2.7h-40.5zM-5.1 72.9h40.5v2.7h-40.5zM-5.1 75.5h45.5v2.7h-45.5zM45.2 75.5h5.2v2.7h-5.2zM-5.1 78.0h45.5v2.7h-45.5zM45.2 78.0h5.2v2.7h-5.2zM50.2 90.6h5.2v2.7h-5.2zM50.2 93.1h5.2v2.7h-5.2zM90.5 95.6h60.6v2.7h-60.6zM90.5 98.1h60.6v2.7h-60.6zM85.4 100.6h20.3v2.7h-20.3zM135.7 100.6h15.3v2.7h-15.3zM85.4 103.2h20.3v2.7h-20.3zM135.7 103.2h15.3v2.7h-15.3zM55.2 105.7h5.2v2.7h-5.2zM85.4 105.7h15.3v2.7h-15.3zM135.7 105.7h20.3v2.7h-20.3zM55.2 108.2h5.2v2.7h-5.2zM85.4 108.2h15.3v2.7h-15.3zM135.7 108.2h20.3v2.7h-20.3zM85.4 110.7h15.3v2.7h-15.3zM135.7 110.7h20.3v2.7h-20.3zM85.4 113.2h15.3v2.7h-15.3zM135.7 113.2h20.3v2.7h-20.3zM75.4 115.8h5.2v2.7h-5.2zM85.4 115.8h20.3v2.7h-20.3zM130.7 115.8h25.4v2.7h-25.4zM75.4 118.3h5.2v2.7h-5.2zM85.4 118.3h20.3v2.7h-20.3zM130.7 118.3h25.4v2.7h-25.4zM60.3 120.8h5.2v2.7h-5.2zM75.4 120.8h5.2v2.7h-5.2zM90.5 120.8h65.6v2.7h-65.6zM60.3 123.3h5.2v2.7h-5.2zM75.4 123.3h5.2v2.7h-5.2zM90.5 123.3h65.6v2.7h-65.6zM-5.1 125.8h25.4v2.7h-25.4zM60.3 125.8h5.2v2.7h-5.2zM70.3 125.8h10.3v2.7h-10.3zM95.5 125.8h55.5v2.7h-55.5zM-5.1 128.3h25.4v2.7h-25.4zM60.3 128.3h5.2v2.7h-5.2zM70.3 128.3h10.3v2.7h-10.3zM95.5 128.3h55.5v2.7h-55.5zM-5.1 130.9h85.7v2.7h-85.7zM-5.1 133.4h85.7v2.7h-85.7zM-5.1 135.9h85.7v2.7h-85.7zM-5.1 138.4h85.7v2.7h-85.7z"/>
<path fill="#e02410" d="M30.1 -5.1h5.2v2.7h-5.2zM30.1 -2.6h5.2v2.7h-5.2zM30.1 -0.1h5.2v2.7h-5.2zM30.1 2.4h5.2v2.7h-5.2zM20.0 10.0h5.2v2.7h-5.2zM35.1 10.0h5.2v2.7h-5.2zM20.0 12.5h5.2v2.7h-5.2zM35.1 12.5h5.2v2.7h-5.2zM20.0 15.0h5.2v2.7h-5.2zM35.1 15.0h5.2v2.7h-5.2zM20.0 17.5h5.2v2.7h-5.2zM35.1 17.5h5.2v2.7h-5.2zM20.0 20.0h5.2v2.7h-5.2zM30.1 20.0h5.2v2.7h-5.2zM20.0 22.6h5.2v2.7h-5.2zM30.1 22.6h5.2v2.7h-5.2zM70.3 25.1h5.2v2.7h-5.2zM70.3 27.6h5.2v2.7h-5.2zM25.1 30.1h5.2v2.7h-5.2zM75.4 30.1h5.2v2.7h-5.2zM25.1 32.6h5.2v2.7h-5.2zM75.4 32.6h5.2v2.7h-5.2zM85.4 35.2h5.2v2.7h-5.2zM115.6 35.2h5.2v2.7h-5.2zM85.4 37.7h5.2v2.7h-5.2zM115.6 37.7h5.2v2.7h-5.2zM-5.1 40.2h10.3v2.7h-10.3zM95.5 40.2h10.3v2.7h-10.3zM115.6 40.2h5.2v2.7h-5.2zM-5.1 42.7h10.3v2.7h-10.3zM95.5 42.7h10.3v2.7h-10.3zM115.6 42.7h5.2v2.7h-5.2zM20.0 45.2h5.2v2.7h-5.2zM100.5 45.2h10.3v2.7h-10.3zM20.0 47.8h5.2v2.7h-5.2zM100.5 47.8h10.3v2.7h-10.3zM105.6 50.3h5.2v2.7h-5.2zM105.6 52.8h5.2v2.7h-5.2zM55.2 55.3h5.2v2.7h-5.2zM105.6 55.3h10.3v2.7h-10.3zM55.2 57.8h5.2v2.7h-5.2zM105.6 57.8h10.3v2.7h-10.3zM45.2 60.3h5.2v2.7h-5.2zM110.6 60.3h5.2v2.7h-5.2zM45.2 62.9h5.2v2.7h-5.2zM110.6 62.9h5.2v2.7h-5.2zM50.2 65.4h5.2v2.7h-5.2zM75.4 65.4h5.2v2.7h-5.2zM110.6 65.4h5.2v2.7h-5.2zM50.2 67.9h5.2v2.7h-5.2zM75.4 67.9h5.2v2.7h-5.2zM110.6 67.9h5.2v2.7h-5.2zM35.1 70.4h20.3v2.7h-20.3zM75.4 70.4h5.2v2.7h-5.2zM90.5 70.4h5.2v2.7h-5.2zM35.1 72.9h20.3v2.7h-20.3zM75.4 72.9h5.2v2.7h-5.2zM90.5 72.9h5.2v2.7h-5.2zM40.1 75.5h5.2v2.7h-5.2zM50.2 75.5h10.3v2.7h-10.3zM65.3 75.5h5.2v2.7h-5.2zM95.5 75.5h5.2v2.7h-5.2zM40.1 78.0h5.2v2.7h-5.2zM50.2 78.0h10.3v2.7h-10.3zM65.3 78.0h5.2v2.7h-5.2zM95.5 78.0h5.2v2.7h-5.2zM50.2 80.5h10.3v2.7h-10.3zM65.3 80.5h5.2v2.7h-5.2zM75.4 80.5h5.2v2.7h-5.2zM90.5 80.5h10.3v2.7h-10.3zM50.2 83.0h10.3v2.7h-10.3zM65.3 83.0h5.2v2.7h-5.2zM75.4 83.0h5.2v2.7h-5.2zM90.5 83.0h10.3v2.7h-10.3zM50.2 85.5h10.3v2.7h-10.3zM85.4 85.5h15.3v2.7h-15.3zM115.6 85.5h25.4v2.7h-25.4zM50.2 88.0h10.3v2.7h-10.3zM85.4 88.0h15.3v2.7h-15.3zM115.6 88.0h25.4v2.7h-25.4zM55.2 90.6h5.2v2.7h-5.2zM85.4 90.6h10.3v2.7h-10.3zM100.5 90.6h45.5v2.7h-45.5zM55.2 93.1h5.2v2.7h-5.2zM85.4 93.1h10.3v2.7h-10.3zM100.5 93.1h45.5v2.7h-45.5zM55.2 95.6h5.2v2.7h-5.2zM80.4 95.6h10.3v2.7h-10.3zM150.8 95.6h5.2v2.7h-5.2zM55.2 98.1h5.2v2.7h-5.2zM80.4 98.1h10.3v2.7h-10.3zM150.8 98.1h5.2v2.7h-5.2zM55.2 100.6h5.2v2.7h-5.2zM75.4 100.6h10.3v2.7h-10.3zM150.8 100.6h5.2v2.7h-5.2zM55.2 103.2h5.2v2.7h-5.2zM75.4 103.2h10.3v2.7h-10.3zM150.8 103.2h5.2v2.7h-5.2zM60.3 105.7h5.2v2.7h-5.2zM75.4 105.7h10.3v2.7h-10.3zM155.9 105.7h10.3v2.7h-10.3zM60.3 108.2h5.2v2.7h-5.2zM75.4 108.2h10.3v2.7h-10.3zM155.9 108.2h10.3v2.7h-10.3zM60.3 110.7h5.2v2.7h-5.2zM75.4 110.7h10.3v2.7h-10.3zM155.9 110.7h10.3v2.7h-10.3zM60.3 113.2h5.2v2.7h-5.2zM75.4 113.2h10.3v2.7h-10.3zM155.9 113.2h10.3v2.7h-10.3zM60.3 115.8h5.2v2.7h-5.2zM70.3 115.8h5.2v2.7h-5.2zM80.4 115.8h5.2v2.7h-5.2zM155.9 115.8h10.3v2.7h-10.3zM60.3 118.3h5.2v2.7h-5.2zM70.3 118.3h5.2v2.7h-5.2zM80.4 118.3h5.2v2.7h-5.2zM155.9 118.3h10.3v2.7h-10.3zM65.3 120.8h10.3v2.7h-10.3zM80.4 120.8h10.3v2.7h-10.3zM155.9 120.8h10.3v2.7h-10.3zM65.3 123.3h10.3v2.7h-10.3zM80.4 123.3h10.3v2.7h-10.3zM155.9 123.3h10.3v2.7h-10.3zM65.3 125.8h5.2v2.7h-5.2zM80.4 125.8h15.3v2.7h-15.3zM150.8 125.8h15.3v2.7h-15.3zM65.3 128.3h5.2v2.7h-5.2zM80.4 128.3h15.3v2.7h-15.3zM150.8 128.3h15.3v2.7h-15.3zM80.4 130.9h85.7v2.7h-85.7zM80.4 133.4h85.7v2.7h-85.7zM80.4 135.9h85.7v2.7h-85.7zM80.4 138.4h85.7v2.7h-85.7z"/>
<path fill="#f87c2c" d="M35.1 -5.1h5.2v2.7h-5.2zM35.1 -2.6h5.2v2.7h-5.2zM35.1 -0.1h5.2v2.7h-5.2zM35.1 2.4h5.2v2.7h-5.2zM25.1 4.9h5.2v2.7h-5.2zM140.8 4.9h5.2v2.7h-5.2zM25.1 7.5h5.2v2.7h-5.2zM140.8 7.5h5.2v2.7h-5.2zM25.1 10.0h5.2v2.7h-5.2zM50.2 10.0h5.2v2.7h-5.2zM25.1 12.5h5.2v2.7h-5.2zM50.2 12.5h5.2v2.7h-5.2zM25.1 15.0h10.3v2.7h-10.3zM60.3 15.0h5.2v2.7h-5.2zM75.4 15.0h5.2v2.7h-5.2zM150.8 15.0h15.3v2.7h-15.3zM25.1 17.5h10.3v2.7h-10.3zM60.3 17.5h5.2v2.7h-5.2zM75.4 17.5h5.2v2.7h-5.2zM150.8 17.5h15.3v2.7h-15.3zM25.1 20.0h5.2v2.7h-5.2zM25.1 22.6h5.2v2.7h-5.2zM80.4 25.1h5.2v2.7h-5.2zM80.4 27.6h5.2v2.7h-5.2zM85.4 30.1h5.2v2.7h-5.2zM95.5 30.1h5.2v2.7h-5.2zM115.6 30.1h5.2v2.7h-5.2zM85.4 32.6h5.2v2.7h-5.2zM95.5 32.6h5.2v2.7h-5.2zM115.6 32.6h5.2v2.7h-5.2zM100.5 35.2h5.2v2.7h-5.2zM120.7 35.2h5.2v2.7h-5.2zM100.5 37.7h5.2v2.7h-5.2zM120.7 37.7h5.2v2.7h-5.2zM120.7 40.2h25.4v2.7h-25.4zM120.7 42.7h25.4v2.7h-25.4zM125.7 45.2h30.4v2.7h-30.4zM125.7 47.8h30.4v2.7h-30.4zM130.7 50.3h25.4v2.7h-25.4zM130.7 52.8h25.4v2.7h-25.4zM135.7 55.3h20.3v2.7h-20.3zM135.7 57.8h20.3v2.7h-20.3zM135.7 60.3h15.3v2.7h-15.3zM135.7 62.9h15.3v2.7h-15.3zM140.8 65.4h10.3v2.7h-10.3zM140.8 67.9h10.3v2.7h-10.3zM130.7 70.4h10.3v2.7h-10.3zM130.7 72.9h10.3v2.7h-10.3zM80.4 75.5h5.2v2.7h-5.2zM135.7 75.5h5.2v2.7h-5.2zM80.4 78.0h5.2v2.7h-5.2zM135.7 78.0h5.2v2.7h-5.2zM80.4 80.5h5.2v2.7h-5.2zM140.8 80.5h10.3v2.7h-10.3zM80.4 83.0h5.2v2.7h-5.2zM140.8 83.0h10.3v2.7h-10.3zM70.3 85.5h5.2v2.7h-5.2zM145.8 85.5h10.3v2.7h-10.3zM70.3 88.0h5.2v2.7h-5.2zM145.8 88.0h10.3v2.7h-10.3zM65.3 90.6h10.3v2.7h-10.3zM150.8 90.6h15.3v2.7h-15.3zM65.3 93.1h10.3v2.7h-10.3zM150.8 93.1h15.3v2.7h-15.3zM65.3 95.6h10.3v2.7h-10.3zM65.3 98.1h10.3v2.7h-10.3z"/>
<path fill="#ffffff" d="M40.1 -5.1h5.2v2.7h-5.2zM85.4 -5.1h5.2v2.7h-5.2zM40.1 -2.6h5.2v2.7h-5.2zM85.4 -2.6h5.2v2.7h-5.2zM40.1 -0.1h5.2v2.7h-5.2zM85.4 -0.1h5.2v2.7h-5.2zM40.1 2.4h5.2v2.7h-5.2zM85.4 2.4h5.2v2.7h-5.2zM45.2 4.9h10.3v2.7h-10.3zM150.8 4.9h5.2v2.7h-5.2zM45.2 7.5h10.3v2.7h-10.3zM150.8 7.5h5.2v2.7h-5.2zM60.3 10.0h5.2v2.7h-5.2zM70.3 10.0h10.3v2.7h-10.3zM135.7 10.0h5.2v2.7h-5.2zM150.8 10.0h5.2v2.7h-5.2zM60.3 12.5h5.2v2.7h-5.2zM70.3 12.5h10.3v2.7h-10.3zM135.7 12.5h5.2v2.7h-5.2zM150.8 12.5h5.2v2.7h-5.2zM70.3 15.0h5.2v2.7h-5.2zM135.7 15.0h5.2v2.7h-5.2zM70.3 17.5h5.2v2.7h-5.2zM135.7 17.5h5.2v2.7h-5.2zM85.4 20.0h5.2v2.7h-5.2zM125.7 20.0h10.3v2.7h-10.3zM85.4 22.6h5.2v2.7h-5.2zM125.7 22.6h10.3v2.7h-10.3zM90.5 25.1h10.3v2.7h-10.3zM110.6 25.1h10.3v2.7h-10.3zM125.7 25.1h10.3v2.7h-10.3zM90.5 27.6h10.3v2.7h-10.3zM110.6 27.6h10.3v2.7h-10.3zM125.7 27.6h10.3v2.7h-10.3zM105.6 30.1h5.2v2.7h-5.2zM125.7 30.1h20.3v2.7h-20.3zM105.6 32.6h5.2v2.7h-5.2zM125.7 32.6h20.3v2.7h-20.3zM140.8 35.2h15.3v2.7h-15.3zM140.8 37.7h15.3v2.7h-15.3z"/>
<path fill="#d4ecf6" d="M45.2 -5.1h5.2v2.7h-5.2zM90.5 -5.1h5.2v2.7h-5.2zM45.2 -2.6h5.2v2.7h-5.2zM90.5 -2.6h5.2v2.7h-5.2zM45.2 -0.1h5.2v2.7h-5.2zM90.5 -0.1h5.2v2.7h-5.2zM45.2 2.4h5.2v2.7h-5.2zM90.5 2.4h5.2v2.7h-5.2zM70.3 4.9h5.2v2.7h-5.2zM135.7 4.9h5.2v2.7h-5.2zM70.3 7.5h5.2v2.7h-5.2zM135.7 7.5h5.2v2.7h-5.2zM65.3 10.0h5.2v2.7h-5.2zM65.3 12.5h5.2v2.7h-5.2zM85.4 15.0h5.2v2.7h-5.2zM85.4 17.5h5.2v2.7h-5.2zM90.5 20.0h5.2v2.7h-5.2zM120.7 20.0h5.2v2.7h-5.2zM135.7 20.0h10.3v2.7h-10.3zM90.5 22.6h5.2v2.7h-5.2zM120.7 22.6h5.2v2.7h-5.2zM135.7 22.6h10.3v2.7h-10.3zM100.5 25.1h10.3v2.7h-10.3zM135.7 25.1h10.3v2.7h-10.3zM100.5 27.6h10.3v2.7h-10.3zM135.7 27.6h10.3v2.7h-10.3zM145.8 30.1h5.2v2.7h-5.2zM145.8 32.6h5.2v2.7h-5.2zM155.9 35.2h10.3v2.7h-10.3zM155.9 37.7h10.3v2.7h-10.3z"/>
<path fill="#9ccce6" d="M50.2 -5.1h10.3v2.7h-10.3zM70.3 -5.1h10.3v2.7h-10.3zM95.5 -5.1h70.6v2.7h-70.6zM50.2 -2.6h10.3v2.7h-10.3zM70.3 -2.6h10.3v2.7h-10.3zM95.5 -2.6h70.6v2.7h-70.6zM50.2 -0.1h10.3v2.7h-10.3zM70.3 -0.1h10.3v2.7h-10.3zM95.5 -0.1h70.6v2.7h-70.6zM50.2 2.4h10.3v2.7h-10.3zM70.3 2.4h10.3v2.7h-10.3zM95.5 2.4h70.6v2.7h-70.6zM55.2 4.9h5.2v2.7h-5.2zM65.3 4.9h5.2v2.7h-5.2zM75.4 4.9h5.2v2.7h-5.2zM125.7 4.9h10.3v2.7h-10.3zM55.2 7.5h5.2v2.7h-5.2zM65.3 7.5h5.2v2.7h-5.2zM75.4 7.5h5.2v2.7h-5.2zM125.7 7.5h10.3v2.7h-10.3zM80.4 10.0h5.2v2.7h-5.2zM130.7 10.0h5.2v2.7h-5.2zM80.4 12.5h5.2v2.7h-5.2zM130.7 12.5h5.2v2.7h-5.2zM90.5 15.0h5.2v2.7h-5.2zM130.7 15.0h5.2v2.7h-5.2zM90.5 17.5h5.2v2.7h-5.2zM130.7 17.5h5.2v2.7h-5.2zM95.5 20.0h5.2v2.7h-5.2zM110.6 20.0h10.3v2.7h-10.3zM145.8 20.0h10.3v2.7h-10.3zM95.5 22.6h5.2v2.7h-5.2zM110.6 22.6h10.3v2.7h-10.3zM145.8 22.6h10.3v2.7h-10.3zM145.8 25.1h5.2v2.7h-5.2zM145.8 27.6h5.2v2.7h-5.2zM150.8 30.1h5.2v2.7h-5.2zM150.8 32.6h5.2v2.7h-5.2z"/>
<path fill="#5c9cd0" d="M60.3 -5.1h10.3v2.7h-10.3zM60.3 -2.6h10.3v2.7h-10.3zM60.3 -0.1h10.3v2.7h-10.3zM60.3 2.4h10.3v2.7h-10.3zM60.3 4.9h5.2v2.7h-5.2zM80.4 4.9h5.2v2.7h-5.2zM120.7 4.9h5.2v2.7h-5.2zM60.3 7.5h5.2v2.7h-5.2zM80.4 7.5h5.2v2.7h-5.2zM120.7 7.5h5.2v2.7h-5.2zM85.4 10.0h5.2v2.7h-5.2zM125.7 10.0h5.2v2.7h-5.2zM85.4 12.5h5.2v2.7h-5.2zM125.7 12.5h5.2v2.7h-5.2zM120.7 15.0h10.3v2.7h-10.3zM120.7 17.5h10.3v2.7h-10.3zM100.5 20.0h10.3v2.7h-10.3zM155.9 20.0h10.3v2.7h-10.3zM100.5 22.6h10.3v2.7h-10.3zM155.9 22.6h10.3v2.7h-10.3zM150.8 25.1h15.3v2.7h-15.3zM150.8 27.6h15.3v2.7h-15.3zM155.9 30.1h10.3v2.7h-10.3zM155.9 32.6h10.3v2.7h-10.3z"/>
<path fill="#fee28c" d="M80.4 -5.1h5.2v2.7h-5.2zM80.4 -2.6h5.2v2.7h-5.2zM80.4 -0.1h5.2v2.7h-5.2zM80.4 2.4h5.2v2.7h-5.2zM55.2 10.0h5.2v2.7h-5.2zM55.2 12.5h5.2v2.7h-5.2zM65.3 15.0h5.2v2.7h-5.2zM80.4 15.0h5.2v2.7h-5.2zM140.8 15.0h5.2v2.7h-5.2zM65.3 17.5h5.2v2.7h-5.2zM80.4 17.5h5.2v2.7h-5.2zM140.8 17.5h5.2v2.7h-5.2zM70.3 20.0h5.2v2.7h-5.2zM80.4 20.0h5.2v2.7h-5.2zM70.3 22.6h5.2v2.7h-5.2zM80.4 22.6h5.2v2.7h-5.2zM85.4 25.1h5.2v2.7h-5.2zM120.7 25.1h5.2v2.7h-5.2zM85.4 27.6h5.2v2.7h-5.2zM120.7 27.6h5.2v2.7h-5.2zM100.5 30.1h5.2v2.7h-5.2zM110.6 30.1h5.2v2.7h-5.2zM120.7 30.1h5.2v2.7h-5.2zM100.5 32.6h5.2v2.7h-5.2zM110.6 32.6h5.2v2.7h-5.2zM120.7 32.6h5.2v2.7h-5.2zM130.7 35.2h10.3v2.7h-10.3zM130.7 37.7h10.3v2.7h-10.3zM155.9 40.2h10.3v2.7h-10.3zM155.9 42.7h10.3v2.7h-10.3zM150.8 70.4h15.3v2.7h-15.3zM150.8 72.9h15.3v2.7h-15.3zM155.9 75.5h10.3v2.7h-10.3zM155.9 78.0h10.3v2.7h-10.3z"/>
<path fill="#f04e1e" d="M20.0 4.9h5.2v2.7h-5.2zM35.1 4.9h5.2v2.7h-5.2zM145.8 4.9h5.2v2.7h-5.2zM155.9 4.9h10.3v2.7h-10.3zM20.0 7.5h5.2v2.7h-5.2zM35.1 7.5h5.2v2.7h-5.2zM145.8 7.5h5.2v2.7h-5.2zM155.9 7.5h10.3v2.7h-10.3zM140.8 10.0h5.2v2.7h-5.2zM155.9 10.0h10.3v2.7h-10.3zM140.8 12.5h5.2v2.7h-5.2zM155.9 12.5h10.3v2.7h-10.3zM10.0 15.0h5.2v2.7h-5.2zM145.8 15.0h5.2v2.7h-5.2zM10.0 17.5h5.2v2.7h-5.2zM145.8 17.5h5.2v2.7h-5.2zM65.3 20.0h5.2v2.7h-5.2zM75.4 20.0h5.2v2.7h-5.2zM65.3 22.6h5.2v2.7h-5.2zM75.4 22.6h5.2v2.7h-5.2zM25.1 25.1h10.3v2.7h-10.3zM75.4 25.1h5.2v2.7h-5.2zM25.1 27.6h10.3v2.7h-10.3zM75.4 27.6h5.2v2.7h-5.2zM20.0 30.1h5.2v2.7h-5.2zM80.4 30.1h5.2v2.7h-5.2zM90.5 30.1h5.2v2.7h-5.2zM20.0 32.6h5.2v2.7h-5.2zM80.4 32.6h5.2v2.7h-5.2zM90.5 32.6h5.2v2.7h-5.2zM20.0 35.2h5.2v2.7h-5.2zM90.5 35.2h10.3v2.7h-10.3zM20.0 37.7h5.2v2.7h-5.2zM90.5 37.7h10.3v2.7h-10.3zM20.0 40.2h5.2v2.7h-5.2zM105.6 40.2h10.3v2.7h-10.3zM20.0 42.7h5.2v2.7h-5.2zM105.6 42.7h10.3v2.7h-10.3zM-5.1 45.2h10.3v2.7h-10.3zM110.6 45.2h15.3v2.7h-15.3zM-5.1 47.8h10.3v2.7h-10.3zM110.6 47.8h15.3v2.7h-15.3zM110.6 50.3h20.3v2.7h-20.3zM110.6 52.8h20.3v2.7h-20.3zM50.2 55.3h5.2v2.7h-5.2zM115.6 55.3h20.3v2.7h-20.3zM50.2 57.8h5.2v2.7h-5.2zM115.6 57.8h20.3v2.7h-20.3zM50.2 60.3h25.4v2.7h-25.4zM115.6 60.3h20.3v2.7h-20.3zM50.2 62.9h25.4v2.7h-25.4zM115.6 62.9h20.3v2.7h-20.3zM55.2 65.4h20.3v2.7h-20.3zM115.6 65.4h25.4v2.7h-25.4zM55.2 67.9h20.3v2.7h-20.3zM115.6 67.9h25.4v2.7h-25.4zM55.2 70.4h20.3v2.7h-20.3zM80.4 70.4h10.3v2.7h-10.3zM95.5 70.4h35.4v2.7h-35.4zM55.2 72.9h20.3v2.7h-20.3zM80.4 72.9h10.3v2.7h-10.3zM95.5 72.9h35.4v2.7h-35.4zM60.3 75.5h5.2v2.7h-5.2zM70.3 75.5h10.3v2.7h-10.3zM85.4 75.5h10.3v2.7h-10.3zM100.5 75.5h35.4v2.7h-35.4zM60.3 78.0h5.2v2.7h-5.2zM70.3 78.0h10.3v2.7h-10.3zM85.4 78.0h10.3v2.7h-10.3zM100.5 78.0h35.4v2.7h-35.4zM60.3 80.5h5.2v2.7h-5.2zM70.3 80.5h5.2v2.7h-5.2zM85.4 80.5h5.2v2.7h-5.2zM100.5 80.5h40.5v2.7h-40.5zM60.3 83.0h5.2v2.7h-5.2zM70.3 83.0h5.2v2.7h-5.2zM85.4 83.0h5.2v2.7h-5.2zM100.5 83.0h40.5v2.7h-40.5zM60.3 85.5h10.3v2.7h-10.3zM75.4 85.5h10.3v2.7h-10.3zM100.5 85.5h15.3v2.7h-15.3zM140.8 85.5h5.2v2.7h-5.2zM60.3 88.0h10.3v2.7h-10.3zM75.4 88.0h10.3v2.7h-10.3zM100.5 88.0h15.3v2.7h-15.3zM140.8 88.0h5.2v2.7h-5.2zM60.3 90.6h5.2v2.7h-5.2zM75.4 90.6h10.3v2.7h-10.3zM95.5 90.6h5.2v2.7h-5.2zM145.8 90.6h5.2v2.7h-5.2zM60.3 93.1h5.2v2.7h-5.2zM75.4 93.1h10.3v2.7h-10.3zM95.5 93.1h5.2v2.7h-5.2zM145.8 93.1h5.2v2.7h-5.2zM60.3 95.6h5.2v2.7h-5.2zM75.4 95.6h5.2v2.7h-5.2zM155.9 95.6h10.3v2.7h-10.3zM60.3 98.1h5.2v2.7h-5.2zM75.4 98.1h5.2v2.7h-5.2zM155.9 98.1h10.3v2.7h-10.3zM60.3 100.6h15.3v2.7h-15.3zM155.9 100.6h10.3v2.7h-10.3zM60.3 103.2h15.3v2.7h-15.3zM155.9 103.2h10.3v2.7h-10.3zM65.3 105.7h10.3v2.7h-10.3zM65.3 108.2h10.3v2.7h-10.3zM65.3 110.7h10.3v2.7h-10.3zM65.3 113.2h10.3v2.7h-10.3zM65.3 115.8h5.2v2.7h-5.2zM65.3 118.3h5.2v2.7h-5.2z"/>
<path fill="#fdb450" d="M30.1 4.9h5.2v2.7h-5.2zM40.1 4.9h5.2v2.7h-5.2zM30.1 7.5h5.2v2.7h-5.2zM40.1 7.5h5.2v2.7h-5.2zM30.1 10.0h5.2v2.7h-5.2zM30.1 12.5h5.2v2.7h-5.2zM105.6 35.2h10.3v2.7h-10.3zM125.7 35.2h5.2v2.7h-5.2zM105.6 37.7h10.3v2.7h-10.3zM125.7 37.7h5.2v2.7h-5.2zM145.8 40.2h10.3v2.7h-10.3zM145.8 42.7h10.3v2.7h-10.3zM155.9 45.2h10.3v2.7h-10.3zM155.9 47.8h10.3v2.7h-10.3zM155.9 50.3h10.3v2.7h-10.3zM155.9 52.8h10.3v2.7h-10.3zM155.9 55.3h10.3v2.7h-10.3zM155.9 57.8h10.3v2.7h-10.3zM150.8 60.3h15.3v2.7h-15.3zM150.8 62.9h15.3v2.7h-15.3zM150.8 65.4h15.3v2.7h-15.3zM150.8 67.9h15.3v2.7h-15.3zM140.8 70.4h10.3v2.7h-10.3zM140.8 72.9h10.3v2.7h-10.3zM140.8 75.5h15.3v2.7h-15.3zM140.8 78.0h15.3v2.7h-15.3zM150.8 80.5h15.3v2.7h-15.3zM150.8 83.0h15.3v2.7h-15.3zM155.9 85.5h10.3v2.7h-10.3zM155.9 88.0h10.3v2.7h-10.3z"/>
<path fill="#3464b0" d="M85.4 4.9h5.2v2.7h-5.2zM110.6 4.9h10.3v2.7h-10.3zM85.4 7.5h5.2v2.7h-5.2zM110.6 7.5h10.3v2.7h-10.3zM120.7 10.0h5.2v2.7h-5.2zM120.7 12.5h5.2v2.7h-5.2zM95.5 15.0h5.2v2.7h-5.2zM110.6 15.0h10.3v2.7h-10.3zM95.5 17.5h5.2v2.7h-5.2zM110.6 17.5h10.3v2.7h-10.3z"/>
<path fill="#28408c" d="M90.5 4.9h20.3v2.7h-20.3zM90.5 7.5h20.3v2.7h-20.3zM90.5 10.0h30.4v2.7h-30.4zM90.5 12.5h30.4v2.7h-30.4zM100.5 15.0h10.3v2.7h-10.3zM100.5 17.5h10.3v2.7h-10.3z"/>
<path fill="#aa0000" d="M-5.1 80.5h55.5v2.7h-55.5zM-5.1 83.0h55.5v2.7h-55.5zM-5.1 85.5h55.5v2.7h-55.5zM-5.1 88.0h55.5v2.7h-55.5zM-5.1 90.6h55.5v2.7h-55.5zM-5.1 93.1h55.5v2.7h-55.5zM-5.1 95.6h60.6v2.7h-60.6zM-5.1 98.1h60.6v2.7h-60.6zM-5.1 100.6h60.6v2.7h-60.6zM105.6 100.6h30.4v2.7h-30.4zM-5.1 103.2h60.6v2.7h-60.6zM105.6 103.2h30.4v2.7h-30.4zM-5.1 105.7h60.6v2.7h-60.6zM100.5 105.7h35.4v2.7h-35.4zM-5.1 108.2h60.6v2.7h-60.6zM100.5 108.2h35.4v2.7h-35.4zM-5.1 110.7h65.6v2.7h-65.6zM100.5 110.7h35.4v2.7h-35.4zM-5.1 113.2h65.6v2.7h-65.6zM100.5 113.2h35.4v2.7h-35.4zM-5.1 115.8h65.6v2.7h-65.6zM105.6 115.8h25.4v2.7h-25.4zM-5.1 118.3h65.6v2.7h-65.6zM105.6 118.3h25.4v2.7h-25.4zM-5.1 120.8h65.6v2.7h-65.6zM-5.1 123.3h65.6v2.7h-65.6zM20.0 125.8h40.5v2.7h-40.5zM20.0 128.3h40.5v2.7h-40.5z"/>
</g><path d="M0.2 56.2 L2.7 56.0 L5.6 56.0 L8.5 55.8 L10.5 55.6 L13.0 55.3 L15.1 56.0 L17.6 55.6 L19.6 55.1 L22.1 54.7 L23.8 56.0 L23.6 57.6 L25.8 58.7 L26.7 60.9 L28.7 62.3 L30.0 62.7 L31.6 64.5 L34.1 66.5 L36.2 67.0 L38.6 66.1 L39.5 65.4 L38.2 67.6 L36.2 68.5 L33.3 69.0 L34.1 70.8 L35.8 72.6 L37.8 74.8 L40.7 76.2 L42.8 75.5 L45.7 74.4 L46.5 72.1 L47.7 69.4 L48.6 70.8 L48.4 73.5 L49.0 76.6 L48.8 80.2 L49.2 83.8 L49.6 86.9 L50.6 90.9 L51.2 94.5 L52.3 97.7 L53.7 101.2 L55.2 104.4 L56.4 108.0 L57.4 111.6 L58.9 115.1 L60.5 117.8 L61.8 120.5 L63.0 124.1 L63.9 127.2 L64.7 129.5 L66.3 131.7 L68.6 132.7 L70.9 131.3 L71.3 129.0 L74.2 127.7 L75.0 127.2 L74.4 125.9 L75.8 122.8 L78.1 122.5 L78.1 118.7 L77.9 115.6 L79.4 112.4 L80.0 109.3 L79.1 105.7 L78.9 101.7 L80.0 99.0 L82.5 98.1 L83.7 95.9 L87.0 95.0 L88.2 93.2 L91.1 90.5 L93.6 88.3 L96.5 85.6 L99.0 82.9 L101.5 80.6 L104.8 79.5 L106.8 77.1 L107.7 73.9 L108.9 72.4 L111.4 71.7 L113.0 72.1 L115.5 71.9 L118.0 71.2 L120.9 70.8 L122.1 68.5 L124.2 68.1 L126.3 67.6 L127.5 69.4 L128.3 72.6 L129.2 75.3 L130.8 78.0 L132.9 79.7 L134.9 82.4 L137.0 84.7 L138.2 88.3 L138.7 91.8 L137.8 96.3 L138.7 97.7 L142.0 98.6 L143.6 97.2 L146.1 95.4 L148.6 92.7 L149.8 94.5 L151.5 96.3 L151.9 99.9 L152.7 103.0 L153.5 107.1 L155.2 110.7 L155.6 114.2 L156.0 117.8 L155.6 121.4 L155.2 124.5 L154.4 127.7 L154.4 131.3 L154.8 134.4 L155.6 136.6 M2.7 56.0 L3.1 51.5 L6.0 50.2 L9.3 49.7 L9.7 47.0 L7.6 46.8 L7.6 42.3 L3.5 40.8 L-0.2 35.2 M-0.2 35.2 L6.4 37.2 L13.0 37.2 L21.7 35.2 L22.5 30.5 L28.3 28.2 L30.0 26.4 L34.5 26.0 L35.3 20.6 L38.6 19.3 L37.0 16.6 L41.9 15.2 L44.0 11.2 L42.4 7.6 L47.7 4.0 L53.1 3.6 L57.7 2.2 M-0.2 35.2 L3.5 30.9 L3.1 28.2 L-0.4 27.8 M0.2 9.4 L5.6 10.8 L8.9 8.5 L14.7 6.3 L17.2 2.2 L19.6 0.9 L22.9 1.3 L28.3 2.2 L29.6 3.1 L34.5 2.7 L38.2 0.4 L39.1 -1.3 M30.0 62.7 L32.0 60.0 L37.4 60.5 L41.1 59.6 L39.9 53.8 L37.8 52.9 L38.6 49.7 L35.3 47.9 L39.1 43.9 L45.3 43.9 L49.4 39.0 L51.5 34.9 L56.0 29.6 L56.4 26.0 L59.3 24.2 L56.8 22.0 L53.9 20.2 L54.3 16.6 L53.5 13.4 L61.4 14.3 L66.3 12.1 L69.6 9.9 M57.7 2.2 L62.2 5.4 L69.6 9.9 L74.2 15.2 L74.6 21.1 L73.4 23.3 L73.4 27.8 L78.3 30.5 L83.3 33.6 L87.4 33.2 L94.9 37.6 L99.8 40.8 L103.5 43.9 L112.2 43.9 L115.5 46.6 L118.0 43.0 L121.3 43.0 L126.7 44.4 L130.4 43.9 L134.1 40.8 L139.1 37.6 L142.4 38.5 L145.7 37.2 L147.3 39.9 L150.4 42.3 M83.3 33.6 L80.4 35.8 L79.0 39.9 L82.9 42.1 L87.0 43.9 L92.4 46.6 L97.7 46.6 L102.7 49.7 L107.7 50.6 L112.2 50.6 L112.2 43.9 M115.5 46.6 L115.9 48.4 L119.2 49.3 L124.2 48.8 L128.7 48.6 L126.7 44.4 M150.4 42.3 L148.6 45.2 L149.4 47.5 L145.7 47.0 L141.6 49.7 L139.1 56.0 L139.5 58.2 L137.0 61.8 L133.7 60.9 L134.1 65.4 L132.9 69.4 L130.8 70.4 M116.3 71.2 L115.5 66.8 L114.9 65.0 L114.3 60.0 L112.2 59.1 L112.2 56.0 L113.5 53.8 L113.7 50.0 L117.6 52.4 L119.4 55.6 L121.7 56.2 L128.3 56.0 L130.0 56.9 L129.2 60.0 L125.0 60.9 L125.0 63.2 L125.8 65.4 L126.7 66.1 L129.6 62.7 L129.6 65.4 L130.8 70.3 L129.2 73.5 L129.6 76.2 M150.4 42.3 L153.5 44.8 L156.0 45.7 L156.0 52.4 L151.9 56.9 L151.5 61.4 L156.0 60.9 L156.8 65.0 L159.3 66.3 L158.1 69.9 L162.6 72.6 M162.6 77.7 L157.3 80.2 L153.1 80.6 L151.9 85.6 L150.6 86.0 L154.0 92.7 L155.6 96.8 L154.0 100.8 L157.7 107.1 L158.1 112.4 L159.7 116.0 L156.4 122.3 L156.2 124.1" fill="none" stroke="#1a1a1a" stroke-width="0.55" stroke-opacity="0.85" stroke-linejoin="round"/><path d="M132.0 108.4 L132.5 111.1 L131.6 114.2 L131.2 116.9 M130.4 120.5 L130.6 121.6 M131.6 127.7 L131.4 128.1 M135.8 136.6 L135.4 137.5" fill="none" stroke="#111" stroke-width="1.1" stroke-linecap="round"/><circle cx="38.9" cy="65.9" r="0.9" fill="#111"/><circle cx="116.8" cy="70.3" r="0.9" fill="#111"/>
</svg>
<rect x="207.5" y="208.5" width="160.5" height="135.0" fill="none" stroke="#000" stroke-width="1"/>
<text x="280.20" y="203.80" font-size="8" text-anchor="middle" font-family="&quot;Liberation Serif&quot;, serif" font-weight="bold">(e) SLP Anomaly (Pa)</text>
<text x="373.80" y="222.80" font-size="10" text-anchor="start" font-family="&quot;Liberation Sans&quot;, sans-serif">35<tspan font-size="5.6" font-weight="bold" dx="0.3" dy="-3.6">°</tspan></text>
<text x="373.80" y="245.20" font-size="10" text-anchor="start" font-family="&quot;Liberation Sans&quot;, sans-serif">30<tspan font-size="5.6" font-weight="bold" dx="0.3" dy="-3.6">°</tspan></text>
<text x="373.80" y="267.60" font-size="10" text-anchor="start" font-family="&quot;Liberation Sans&quot;, sans-serif">25<tspan font-size="5.6" font-weight="bold" dx="0.3" dy="-3.6">°</tspan></text>
<text x="373.80" y="290.00" font-size="10" text-anchor="start" font-family="&quot;Liberation Sans&quot;, sans-serif">20<tspan font-size="5.6" font-weight="bold" dx="0.3" dy="-3.6">°</tspan></text>
<text x="373.80" y="312.40" font-size="10" text-anchor="start" font-family="&quot;Liberation Sans&quot;, sans-serif">15<tspan font-size="5.6" font-weight="bold" dx="0.3" dy="-3.6">°</tspan></text>
<text x="373.80" y="334.80" font-size="10" text-anchor="start" font-family="&quot;Liberation Sans&quot;, sans-serif">10<tspan font-size="5.6" font-weight="bold" dx="0.3" dy="-3.6">°</tspan></text>
<text x="224.19" y="357.70" font-size="10" text-anchor="middle" font-family="&quot;Liberation Sans&quot;, sans-serif">65<tspan font-size="5.6" font-weight="bold" dx="0.3" dy="-3.6">°</tspan></text>
<text x="244.86" y="357.70" font-size="10" text-anchor="middle" font-family="&quot;Liberation Sans&quot;, sans-serif">70<tspan font-size="5.6" font-weight="bold" dx="0.3" dy="-3.6">°</tspan></text>
<text x="265.52" y="357.70" font-size="10" text-anchor="middle" font-family="&quot;Liberation Sans&quot;, sans-serif">75<tspan font-size="5.6" font-weight="bold" dx="0.3" dy="-3.6">°</tspan></text>
<text x="286.19" y="357.70" font-size="10" text-anchor="middle" font-family="&quot;Liberation Sans&quot;, sans-serif">80<tspan font-size="5.6" font-weight="bold" dx="0.3" dy="-3.6">°</tspan></text>
<text x="306.85" y="357.70" font-size="10" text-anchor="middle" font-family="&quot;Liberation Sans&quot;, sans-serif">85<tspan font-size="5.6" font-weight="bold" dx="0.3" dy="-3.6">°</tspan></text>
<text x="327.52" y="357.70" font-size="10" text-anchor="middle" font-family="&quot;Liberation Sans&quot;, sans-serif">90<tspan font-size="5.6" font-weight="bold" dx="0.3" dy="-3.6">°</tspan></text>
<text x="348.18" y="357.70" font-size="10" text-anchor="middle" font-family="&quot;Liberation Sans&quot;, sans-serif">95<tspan font-size="5.6" font-weight="bold" dx="0.3" dy="-3.6">°</tspan></text>
<svg x="394" y="208" width="161" height="136" viewBox="0 0 161 136" overflow="hidden">
<g filter="url(#bl)">
<path fill="#dcf4fb" d="M-5.1 -5.1h10.3v2.7h-10.3zM-5.1 -2.6h10.3v2.7h-10.3zM-5.1 -0.1h10.3v2.7h-10.3zM-5.1 2.4h10.3v2.7h-10.3zM70.3 25.1h10.3v2.7h-10.3zM70.3 27.6h10.3v2.7h-10.3zM75.4 30.1h10.3v2.7h-10.3zM75.4 32.6h10.3v2.7h-10.3zM80.4 35.2h15.3v2.7h-15.3zM105.6 35.2h10.3v2.7h-10.3zM80.4 37.7h15.3v2.7h-15.3zM105.6 37.7h10.3v2.7h-10.3zM85.4 40.2h25.4v2.7h-25.4zM85.4 42.7h25.4v2.7h-25.4zM90.5 45.2h25.4v2.7h-25.4zM90.5 47.8h25.4v2.7h-25.4zM80.4 50.3h35.4v2.7h-35.4zM80.4 52.8h35.4v2.7h-35.4zM80.4 55.3h40.5v2.7h-40.5zM80.4 57.8h40.5v2.7h-40.5zM80.4 60.3h45.5v2.7h-45.5zM80.4 62.9h45.5v2.7h-45.5zM80.4 65.4h55.5v2.7h-55.5zM80.4 67.9h55.5v2.7h-55.5zM80.4 70.4h65.6v2.7h-65.6zM80.4 72.9h65.6v2.7h-65.6zM80.4 75.5h15.3v2.7h-15.3zM135.7 75.5h15.3v2.7h-15.3zM80.4 78.0h15.3v2.7h-15.3zM135.7 78.0h15.3v2.7h-15.3zM155.9 80.5h10.3v2.7h-10.3zM155.9 83.0h10.3v2.7h-10.3zM-5.1 85.5h55.5v2.7h-55.5zM155.9 85.5h10.3v2.7h-10.3zM-5.1 88.0h55.5v2.7h-55.5zM155.9 88.0h10.3v2.7h-10.3zM-5.1 90.6h60.6v2.7h-60.6zM75.4 90.6h5.2v2.7h-5.2zM-5.1 93.1h60.6v2.7h-60.6zM75.4 93.1h5.2v2.7h-5.2zM50.2 95.6h30.4v2.7h-30.4zM50.2 98.1h30.4v2.7h-30.4zM50.2 100.6h25.4v2.7h-25.4zM50.2 103.2h25.4v2.7h-25.4zM60.3 105.7h10.3v2.7h-10.3zM60.3 108.2h10.3v2.7h-10.3z"/>
<path fill="#fff6cc" d="M4.9 -5.1h5.2v2.7h-5.2zM4.9 -2.6h5.2v2.7h-5.2zM4.9 -0.1h5.2v2.7h-5.2zM4.9 2.4h5.2v2.7h-5.2zM4.9 4.9h10.3v2.7h-10.3zM4.9 7.5h10.3v2.7h-10.3zM4.9 10.0h10.3v2.7h-10.3zM4.9 12.5h10.3v2.7h-10.3zM4.9 15.0h5.2v2.7h-5.2zM4.9 17.5h5.2v2.7h-5.2zM-5.1 20.0h15.3v2.7h-15.3zM60.3 20.0h5.2v2.7h-5.2zM-5.1 22.6h15.3v2.7h-15.3zM60.3 22.6h5.2v2.7h-5.2zM-5.1 25.1h10.3v2.7h-10.3zM65.3 25.1h5.2v2.7h-5.2zM-5.1 27.6h10.3v2.7h-10.3zM65.3 27.6h5.2v2.7h-5.2zM-5.1 30.1h10.3v2.7h-10.3zM65.3 30.1h5.2v2.7h-5.2zM-5.1 32.6h10.3v2.7h-10.3zM65.3 32.6h5.2v2.7h-5.2zM-5.1 35.2h10.3v2.7h-10.3zM70.3 35.2h5.2v2.7h-5.2zM-5.1 37.7h10.3v2.7h-10.3zM70.3 37.7h5.2v2.7h-5.2zM-5.1 40.2h10.3v2.7h-10.3zM70.3 40.2h10.3v2.7h-10.3zM-5.1 42.7h10.3v2.7h-10.3zM70.3 42.7h10.3v2.7h-10.3zM4.9 45.2h5.2v2.7h-5.2zM75.4 45.2h10.3v2.7h-10.3zM125.7 45.2h5.2v2.7h-5.2zM150.8 45.2h15.3v2.7h-15.3zM4.9 47.8h5.2v2.7h-5.2zM75.4 47.8h10.3v2.7h-10.3zM125.7 47.8h5.2v2.7h-5.2zM150.8 47.8h15.3v2.7h-15.3zM4.9 50.3h5.2v2.7h-5.2zM75.4 50.3h5.2v2.7h-5.2zM125.7 50.3h30.4v2.7h-30.4zM4.9 52.8h5.2v2.7h-5.2zM75.4 52.8h5.2v2.7h-5.2zM125.7 52.8h30.4v2.7h-30.4zM-5.1 55.3h10.3v2.7h-10.3zM70.3 55.3h10.3v2.7h-10.3zM135.7 55.3h15.3v2.7h-15.3zM-5.1 57.8h10.3v2.7h-10.3zM70.3 57.8h10.3v2.7h-10.3zM135.7 57.8h15.3v2.7h-15.3zM-5.1 60.3h15.3v2.7h-15.3zM60.3 60.3h20.3v2.7h-20.3zM140.8 60.3h10.3v2.7h-10.3zM-5.1 62.9h15.3v2.7h-15.3zM60.3 62.9h20.3v2.7h-20.3zM140.8 62.9h10.3v2.7h-10.3zM-5.1 65.4h25.4v2.7h-25.4zM55.2 65.4h20.3v2.7h-20.3zM140.8 65.4h10.3v2.7h-10.3zM-5.1 67.9h25.4v2.7h-25.4zM55.2 67.9h20.3v2.7h-20.3zM140.8 67.9h10.3v2.7h-10.3zM-5.1 70.4h60.6v2.7h-60.6zM150.8 70.4h5.2v2.7h-5.2zM-5.1 72.9h60.6v2.7h-60.6zM150.8 72.9h5.2v2.7h-5.2zM-5.1 75.5h50.5v2.7h-50.5zM155.9 75.5h10.3v2.7h-10.3zM-5.1 78.0h50.5v2.7h-50.5zM155.9 78.0h10.3v2.7h-10.3z"/>
<path fill="#fee288" d="M10.0 -5.1h20.3v2.7h-20.3zM10.0 -2.6h20.3v2.7h-20.3zM10.0 -0.1h20.3v2.7h-20.3zM10.0 2.4h20.3v2.7h-20.3zM15.0 4.9h10.3v2.7h-10.3zM15.0 7.5h10.3v2.7h-10.3zM15.0 10.0h10.3v2.7h-10.3zM35.1 10.0h5.2v2.7h-5.2zM15.0 12.5h10.3v2.7h-10.3zM35.1 12.5h5.2v2.7h-5.2zM10.0 15.0h30.4v2.7h-30.4zM55.2 15.0h5.2v2.7h-5.2zM75.4 15.0h5.2v2.7h-5.2zM10.0 17.5h30.4v2.7h-30.4zM55.2 17.5h5.2v2.7h-5.2zM75.4 17.5h5.2v2.7h-5.2zM10.0 20.0h30.4v2.7h-30.4zM55.2 20.0h5.2v2.7h-5.2zM10.0 22.6h30.4v2.7h-30.4zM55.2 22.6h5.2v2.7h-5.2zM4.9 25.1h20.3v2.7h-20.3zM30.1 25.1h10.3v2.7h-10.3zM60.3 25.1h5.2v2.7h-5.2zM4.9 27.6h20.3v2.7h-20.3zM30.1 27.6h10.3v2.7h-10.3zM60.3 27.6h5.2v2.7h-5.2zM4.9 30.1h35.4v2.7h-35.4zM60.3 30.1h5.2v2.7h-5.2zM90.5 30.1h5.2v2.7h-5.2zM100.5 30.1h5.2v2.7h-5.2zM4.9 32.6h35.4v2.7h-35.4zM60.3 32.6h5.2v2.7h-5.2zM90.5 32.6h5.2v2.7h-5.2zM100.5 32.6h5.2v2.7h-5.2zM4.9 35.2h35.4v2.7h-35.4zM55.2 35.2h15.3v2.7h-15.3zM4.9 37.7h35.4v2.7h-35.4zM55.2 37.7h15.3v2.7h-15.3zM4.9 40.2h35.4v2.7h-35.4zM55.2 40.2h15.3v2.7h-15.3zM120.7 40.2h5.2v2.7h-5.2zM140.8 40.2h25.4v2.7h-25.4zM4.9 42.7h35.4v2.7h-35.4zM55.2 42.7h15.3v2.7h-15.3zM120.7 42.7h5.2v2.7h-5.2zM140.8 42.7h25.4v2.7h-25.4zM10.0 45.2h30.4v2.7h-30.4zM50.2 45.2h25.4v2.7h-25.4zM130.7 45.2h20.3v2.7h-20.3zM10.0 47.8h30.4v2.7h-30.4zM50.2 47.8h25.4v2.7h-25.4zM130.7 47.8h20.3v2.7h-20.3zM10.0 50.3h65.6v2.7h-65.6zM155.9 50.3h10.3v2.7h-10.3zM10.0 52.8h65.6v2.7h-65.6zM155.9 52.8h10.3v2.7h-10.3zM4.9 55.3h65.6v2.7h-65.6zM150.8 55.3h15.3v2.7h-15.3zM4.9 57.8h65.6v2.7h-65.6zM150.8 57.8h15.3v2.7h-15.3zM10.0 60.3h50.5v2.7h-50.5zM150.8 60.3h15.3v2.7h-15.3zM10.0 62.9h50.5v2.7h-50.5zM150.8 62.9h15.3v2.7h-15.3zM20.0 65.4h35.4v2.7h-35.4zM150.8 65.4h15.3v2.7h-15.3zM20.0 67.9h35.4v2.7h-35.4zM150.8 67.9h15.3v2.7h-15.3zM155.9 70.4h10.3v2.7h-10.3zM155.9 72.9h10.3v2.7h-10.3z"/>
<path fill="#fca030" d="M30.1 -5.1h5.2v2.7h-5.2zM30.1 -2.6h5.2v2.7h-5.2zM30.1 -0.1h5.2v2.7h-5.2zM30.1 2.4h5.2v2.7h-5.2zM40.1 4.9h5.2v2.7h-5.2zM150.8 4.9h5.2v2.7h-5.2zM40.1 7.5h5.2v2.7h-5.2zM150.8 7.5h5.2v2.7h-5.2zM40.1 10.0h5.2v2.7h-5.2zM140.8 10.0h5.2v2.7h-5.2zM40.1 12.5h5.2v2.7h-5.2zM140.8 12.5h5.2v2.7h-5.2zM40.1 15.0h15.3v2.7h-15.3zM40.1 17.5h15.3v2.7h-15.3zM40.1 20.0h15.3v2.7h-15.3zM40.1 22.6h15.3v2.7h-15.3zM25.1 25.1h5.2v2.7h-5.2zM40.1 25.1h20.3v2.7h-20.3zM80.4 25.1h5.2v2.7h-5.2zM95.5 25.1h5.2v2.7h-5.2zM25.1 27.6h5.2v2.7h-5.2zM40.1 27.6h20.3v2.7h-20.3zM80.4 27.6h5.2v2.7h-5.2zM95.5 27.6h5.2v2.7h-5.2zM40.1 30.1h20.3v2.7h-20.3zM85.4 30.1h5.2v2.7h-5.2zM130.7 30.1h5.2v2.7h-5.2zM40.1 32.6h20.3v2.7h-20.3zM85.4 32.6h5.2v2.7h-5.2zM130.7 32.6h5.2v2.7h-5.2zM40.1 35.2h15.3v2.7h-15.3zM120.7 35.2h5.2v2.7h-5.2zM40.1 37.7h15.3v2.7h-15.3zM120.7 37.7h5.2v2.7h-5.2zM40.1 40.2h15.3v2.7h-15.3zM125.7 40.2h5.2v2.7h-5.2zM135.7 40.2h5.2v2.7h-5.2zM40.1 42.7h15.3v2.7h-15.3zM125.7 42.7h5.2v2.7h-5.2zM135.7 42.7h5.2v2.7h-5.2zM40.1 45.2h10.3v2.7h-10.3zM40.1 47.8h10.3v2.7h-10.3z"/>
<path fill="#a40010" d="M35.1 -5.1h45.5v2.7h-45.5zM90.5 -5.1h75.7v2.7h-75.7zM35.1 -2.6h45.5v2.7h-45.5zM90.5 -2.6h75.7v2.7h-75.7zM35.1 -0.1h45.5v2.7h-45.5zM90.5 -0.1h75.7v2.7h-75.7zM35.1 2.4h45.5v2.7h-45.5zM90.5 2.4h75.7v2.7h-75.7zM45.2 4.9h95.8v2.7h-95.8zM45.2 7.5h95.8v2.7h-95.8zM50.2 10.0h25.4v2.7h-25.4zM80.4 10.0h60.6v2.7h-60.6zM50.2 12.5h25.4v2.7h-25.4zM80.4 12.5h60.6v2.7h-60.6zM65.3 15.0h10.3v2.7h-10.3zM80.4 15.0h60.6v2.7h-60.6zM155.9 15.0h10.3v2.7h-10.3zM65.3 17.5h10.3v2.7h-10.3zM80.4 17.5h60.6v2.7h-60.6zM155.9 17.5h10.3v2.7h-10.3zM75.4 20.0h70.6v2.7h-70.6zM155.9 20.0h10.3v2.7h-10.3zM75.4 22.6h70.6v2.7h-70.6zM155.9 22.6h10.3v2.7h-10.3zM90.5 25.1h5.2v2.7h-5.2zM100.5 25.1h30.4v2.7h-30.4zM135.7 25.1h30.4v2.7h-30.4zM90.5 27.6h5.2v2.7h-5.2zM100.5 27.6h30.4v2.7h-30.4zM135.7 27.6h30.4v2.7h-30.4zM110.6 30.1h15.3v2.7h-15.3zM135.7 30.1h20.3v2.7h-20.3zM110.6 32.6h15.3v2.7h-15.3zM135.7 32.6h20.3v2.7h-20.3zM130.7 35.2h15.3v2.7h-15.3zM130.7 37.7h15.3v2.7h-15.3z"/>
<path fill="#f46a2c" d="M80.4 -5.1h10.3v2.7h-10.3zM80.4 -2.6h10.3v2.7h-10.3zM80.4 -0.1h10.3v2.7h-10.3zM80.4 2.4h10.3v2.7h-10.3zM25.1 4.9h10.3v2.7h-10.3zM140.8 4.9h5.2v2.7h-5.2zM25.1 7.5h10.3v2.7h-10.3zM140.8 7.5h5.2v2.7h-5.2zM25.1 10.0h10.3v2.7h-10.3zM25.1 12.5h10.3v2.7h-10.3zM150.8 15.0h5.2v2.7h-5.2zM150.8 17.5h5.2v2.7h-5.2zM70.3 20.0h5.2v2.7h-5.2zM70.3 22.6h5.2v2.7h-5.2zM155.9 35.2h10.3v2.7h-10.3zM155.9 37.7h10.3v2.7h-10.3zM130.7 40.2h5.2v2.7h-5.2zM130.7 42.7h5.2v2.7h-5.2z"/>
<path fill="#ffffff" d="M-5.1 4.9h10.3v2.7h-10.3zM145.8 4.9h5.2v2.7h-5.2zM155.9 4.9h10.3v2.7h-10.3zM-5.1 7.5h10.3v2.7h-10.3zM145.8 7.5h5.2v2.7h-5.2zM155.9 7.5h10.3v2.7h-10.3zM-5.1 10.0h10.3v2.7h-10.3zM75.4 10.0h5.2v2.7h-5.2zM150.8 10.0h5.2v2.7h-5.2zM-5.1 12.5h10.3v2.7h-10.3zM75.4 12.5h5.2v2.7h-5.2zM150.8 12.5h5.2v2.7h-5.2zM-5.1 15.0h10.3v2.7h-10.3zM-5.1 17.5h10.3v2.7h-10.3zM65.3 20.0h5.2v2.7h-5.2zM145.8 20.0h5.2v2.7h-5.2zM65.3 22.6h5.2v2.7h-5.2zM145.8 22.6h5.2v2.7h-5.2zM70.3 30.1h5.2v2.7h-5.2zM95.5 30.1h5.2v2.7h-5.2zM70.3 32.6h5.2v2.7h-5.2zM95.5 32.6h5.2v2.7h-5.2zM75.4 35.2h5.2v2.7h-5.2zM95.5 35.2h10.3v2.7h-10.3zM75.4 37.7h5.2v2.7h-5.2zM95.5 37.7h10.3v2.7h-10.3zM80.4 40.2h5.2v2.7h-5.2zM110.6 40.2h10.3v2.7h-10.3zM80.4 42.7h5.2v2.7h-5.2zM110.6 42.7h10.3v2.7h-10.3zM-5.1 45.2h10.3v2.7h-10.3zM85.4 45.2h5.2v2.7h-5.2zM115.6 45.2h10.3v2.7h-10.3zM-5.1 47.8h10.3v2.7h-10.3zM85.4 47.8h5.2v2.7h-5.2zM115.6 47.8h10.3v2.7h-10.3zM-5.1 50.3h10.3v2.7h-10.3zM115.6 50.3h10.3v2.7h-10.3zM-5.1 52.8h10.3v2.7h-10.3zM115.6 52.8h10.3v2.7h-10.3zM120.7 55.3h15.3v2.7h-15.3zM120.7 57.8h15.3v2.7h-15.3zM125.7 60.3h15.3v2.7h-15.3zM125.7 62.9h15.3v2.7h-15.3zM75.4 65.4h5.2v2.7h-5.2zM135.7 65.4h5.2v2.7h-5.2zM75.4 67.9h5.2v2.7h-5.2zM135.7 67.9h5.2v2.7h-5.2zM55.2 70.4h25.4v2.7h-25.4zM145.8 70.4h5.2v2.7h-5.2zM55.2 72.9h25.4v2.7h-25.4zM145.8 72.9h5.2v2.7h-5.2zM45.2 75.5h35.4v2.7h-35.4zM150.8 75.5h5.2v2.7h-5.2zM45.2 78.0h35.4v2.7h-35.4zM150.8 78.0h5.2v2.7h-5.2zM-5.1 80.5h85.7v2.7h-85.7zM-5.1 83.0h85.7v2.7h-85.7zM50.2 85.5h30.4v2.7h-30.4zM50.2 88.0h30.4v2.7h-30.4zM55.2 90.6h20.3v2.7h-20.3zM55.2 93.1h20.3v2.7h-20.3z"/>
<path fill="#d82820" d="M35.1 4.9h5.2v2.7h-5.2zM35.1 7.5h5.2v2.7h-5.2zM45.2 10.0h5.2v2.7h-5.2zM155.9 10.0h10.3v2.7h-10.3zM45.2 12.5h5.2v2.7h-5.2zM155.9 12.5h10.3v2.7h-10.3zM60.3 15.0h5.2v2.7h-5.2zM140.8 15.0h5.2v2.7h-5.2zM60.3 17.5h5.2v2.7h-5.2zM140.8 17.5h5.2v2.7h-5.2zM150.8 20.0h5.2v2.7h-5.2zM150.8 22.6h5.2v2.7h-5.2zM85.4 25.1h5.2v2.7h-5.2zM130.7 25.1h5.2v2.7h-5.2zM85.4 27.6h5.2v2.7h-5.2zM130.7 27.6h5.2v2.7h-5.2zM105.6 30.1h5.2v2.7h-5.2zM125.7 30.1h5.2v2.7h-5.2zM155.9 30.1h10.3v2.7h-10.3zM105.6 32.6h5.2v2.7h-5.2zM125.7 32.6h5.2v2.7h-5.2zM155.9 32.6h10.3v2.7h-10.3zM125.7 35.2h5.2v2.7h-5.2zM145.8 35.2h10.3v2.7h-10.3zM125.7 37.7h5.2v2.7h-5.2zM145.8 37.7h10.3v2.7h-10.3z"/>
<path fill="#a8e0f8" d="M145.8 10.0h5.2v2.7h-5.2zM145.8 12.5h5.2v2.7h-5.2zM145.8 15.0h5.2v2.7h-5.2zM145.8 17.5h5.2v2.7h-5.2zM115.6 35.2h5.2v2.7h-5.2zM115.6 37.7h5.2v2.7h-5.2zM95.5 75.5h40.5v2.7h-40.5zM95.5 78.0h40.5v2.7h-40.5zM80.4 80.5h25.4v2.7h-25.4zM140.8 80.5h15.3v2.7h-15.3zM80.4 83.0h25.4v2.7h-25.4zM140.8 83.0h15.3v2.7h-15.3zM80.4 85.5h15.3v2.7h-15.3zM145.8 85.5h10.3v2.7h-10.3zM80.4 88.0h15.3v2.7h-15.3zM145.8 88.0h10.3v2.7h-10.3zM150.8 90.6h15.3v2.7h-15.3zM150.8 93.1h15.3v2.7h-15.3zM-5.1 95.6h55.5v2.7h-55.5zM155.9 95.6h10.3v2.7h-10.3zM-5.1 98.1h55.5v2.7h-55.5zM155.9 98.1h10.3v2.7h-10.3zM-5.1 100.6h55.5v2.7h-55.5zM75.4 100.6h5.2v2.7h-5.2zM-5.1 103.2h55.5v2.7h-55.5zM75.4 103.2h5.2v2.7h-5.2zM50.2 105.7h10.3v2.7h-10.3zM70.3 105.7h10.3v2.7h-10.3zM50.2 108.2h10.3v2.7h-10.3zM70.3 108.2h10.3v2.7h-10.3zM55.2 110.7h20.3v2.7h-20.3zM55.2 113.2h20.3v2.7h-20.3z"/>
<path fill="#6cc0f6" d="M105.6 80.5h35.4v2.7h-35.4zM105.6 83.0h35.4v2.7h-35.4zM95.5 85.5h50.5v2.7h-50.5zM95.5 88.0h50.5v2.7h-50.5zM80.4 90.6h70.6v2.7h-70.6zM80.4 93.1h70.6v2.7h-70.6zM85.4 95.6h70.6v2.7h-70.6zM85.4 98.1h70.6v2.7h-70.6zM105.6 100.6h60.6v2.7h-60.6zM105.6 103.2h60.6v2.7h-60.6zM-5.1 105.7h55.5v2.7h-55.5zM115.6 105.7h50.5v2.7h-50.5zM-5.1 108.2h55.5v2.7h-55.5zM115.6 108.2h50.5v2.7h-50.5zM-5.1 110.7h60.6v2.7h-60.6zM75.4 110.7h5.2v2.7h-5.2zM120.7 110.7h15.3v2.7h-15.3zM140.8 110.7h25.4v2.7h-25.4zM-5.1 113.2h60.6v2.7h-60.6zM75.4 113.2h5.2v2.7h-5.2zM120.7 113.2h15.3v2.7h-15.3zM140.8 113.2h25.4v2.7h-25.4zM55.2 115.8h20.3v2.7h-20.3zM130.7 115.8h5.2v2.7h-5.2zM145.8 115.8h20.3v2.7h-20.3zM55.2 118.3h20.3v2.7h-20.3zM130.7 118.3h5.2v2.7h-5.2zM145.8 118.3h20.3v2.7h-20.3zM60.3 120.8h5.2v2.7h-5.2zM145.8 120.8h20.3v2.7h-20.3zM60.3 123.3h5.2v2.7h-5.2zM145.8 123.3h20.3v2.7h-20.3z"/>
<path fill="#3c98f0" d="M80.4 95.6h5.2v2.7h-5.2zM80.4 98.1h5.2v2.7h-5.2zM80.4 100.6h25.4v2.7h-25.4zM80.4 103.2h25.4v2.7h-25.4zM95.5 105.7h20.3v2.7h-20.3zM95.5 108.2h20.3v2.7h-20.3zM105.6 110.7h15.3v2.7h-15.3zM135.7 110.7h5.2v2.7h-5.2zM105.6 113.2h15.3v2.7h-15.3zM135.7 113.2h5.2v2.7h-5.2zM-5.1 115.8h60.6v2.7h-60.6zM75.4 115.8h5.2v2.7h-5.2zM115.6 115.8h15.3v2.7h-15.3zM135.7 115.8h10.3v2.7h-10.3zM-5.1 118.3h60.6v2.7h-60.6zM75.4 118.3h5.2v2.7h-5.2zM115.6 118.3h15.3v2.7h-15.3zM135.7 118.3h10.3v2.7h-10.3zM50.2 120.8h10.3v2.7h-10.3zM65.3 120.8h15.3v2.7h-15.3zM120.7 120.8h25.4v2.7h-25.4zM50.2 123.3h10.3v2.7h-10.3zM65.3 123.3h15.3v2.7h-15.3zM120.7 123.3h25.4v2.7h-25.4zM60.3 125.8h10.3v2.7h-10.3zM130.7 125.8h35.4v2.7h-35.4zM60.3 128.3h10.3v2.7h-10.3zM130.7 128.3h35.4v2.7h-35.4zM135.7 130.9h30.4v2.7h-30.4zM135.7 133.4h30.4v2.7h-30.4zM135.7 135.9h30.4v2.7h-30.4zM135.7 138.4h30.4v2.7h-30.4z"/>
<path fill="#2e68e4" d="M80.4 105.7h15.3v2.7h-15.3zM80.4 108.2h15.3v2.7h-15.3zM80.4 110.7h25.4v2.7h-25.4zM80.4 113.2h25.4v2.7h-25.4zM80.4 115.8h5.2v2.7h-5.2zM95.5 115.8h20.3v2.7h-20.3zM80.4 118.3h5.2v2.7h-5.2zM95.5 118.3h20.3v2.7h-20.3zM-5.1 120.8h55.5v2.7h-55.5zM80.4 120.8h5.2v2.7h-5.2zM95.5 120.8h25.4v2.7h-25.4zM-5.1 123.3h55.5v2.7h-55.5zM80.4 123.3h5.2v2.7h-5.2zM95.5 123.3h25.4v2.7h-25.4zM-5.1 125.8h65.6v2.7h-65.6zM70.3 125.8h20.3v2.7h-20.3zM95.5 125.8h35.4v2.7h-35.4zM-5.1 128.3h65.6v2.7h-65.6zM70.3 128.3h20.3v2.7h-20.3zM95.5 128.3h35.4v2.7h-35.4zM-5.1 130.9h141.1v2.7h-141.1zM-5.1 133.4h141.1v2.7h-141.1zM-5.1 135.9h141.1v2.7h-141.1zM-5.1 138.4h141.1v2.7h-141.1z"/>
<path fill="#2648b0" d="M85.4 115.8h10.3v2.7h-10.3zM85.4 118.3h10.3v2.7h-10.3zM85.4 120.8h10.3v2.7h-10.3zM85.4 123.3h10.3v2.7h-10.3zM90.5 125.8h5.2v2.7h-5.2zM90.5 128.3h5.2v2.7h-5.2z"/>
</g><path d="M0.2 56.2 L2.7 56.0 L5.6 56.0 L8.5 55.8 L10.5 55.6 L13.0 55.3 L15.1 56.0 L17.6 55.6 L19.6 55.1 L22.1 54.7 L23.8 56.0 L23.6 57.6 L25.8 58.7 L26.7 60.9 L28.7 62.3 L30.0 62.7 L31.6 64.5 L34.1 66.5 L36.2 67.0 L38.6 66.1 L39.5 65.4 L38.2 67.6 L36.2 68.5 L33.3 69.0 L34.1 70.8 L35.8 72.6 L37.8 74.8 L40.7 76.2 L42.8 75.5 L45.7 74.4 L46.5 72.1 L47.7 69.4 L48.6 70.8 L48.4 73.5 L49.0 76.6 L48.8 80.2 L49.2 83.8 L49.6 86.9 L50.6 90.9 L51.2 94.5 L52.3 97.7 L53.7 101.2 L55.2 104.4 L56.4 108.0 L57.4 111.6 L58.9 115.1 L60.5 117.8 L61.8 120.5 L63.0 124.1 L63.9 127.2 L64.7 129.5 L66.3 131.7 L68.6 132.7 L70.9 131.3 L71.3 129.0 L74.2 127.7 L75.0 127.2 L74.4 125.9 L75.8 122.8 L78.1 122.5 L78.1 118.7 L77.9 115.6 L79.4 112.4 L80.0 109.3 L79.1 105.7 L78.9 101.7 L80.0 99.0 L82.5 98.1 L83.7 95.9 L87.0 95.0 L88.2 93.2 L91.1 90.5 L93.6 88.3 L96.5 85.6 L99.0 82.9 L101.5 80.6 L104.8 79.5 L106.8 77.1 L107.7 73.9 L108.9 72.4 L111.4 71.7 L113.0 72.1 L115.5 71.9 L118.0 71.2 L120.9 70.8 L122.1 68.5 L124.2 68.1 L126.3 67.6 L127.5 69.4 L128.3 72.6 L129.2 75.3 L130.8 78.0 L132.9 79.7 L134.9 82.4 L137.0 84.7 L138.2 88.3 L138.7 91.8 L137.8 96.3 L138.7 97.7 L142.0 98.6 L143.6 97.2 L146.1 95.4 L148.6 92.7 L149.8 94.5 L151.5 96.3 L151.9 99.9 L152.7 103.0 L153.5 107.1 L155.2 110.7 L155.6 114.2 L156.0 117.8 L155.6 121.4 L155.2 124.5 L154.4 127.7 L154.4 131.3 L154.8 134.4 L155.6 136.6 M2.7 56.0 L3.1 51.5 L6.0 50.2 L9.3 49.7 L9.7 47.0 L7.6 46.8 L7.6 42.3 L3.5 40.8 L-0.2 35.2 M-0.2 35.2 L6.4 37.2 L13.0 37.2 L21.7 35.2 L22.5 30.5 L28.3 28.2 L30.0 26.4 L34.5 26.0 L35.3 20.6 L38.6 19.3 L37.0 16.6 L41.9 15.2 L44.0 11.2 L42.4 7.6 L47.7 4.0 L53.1 3.6 L57.7 2.2 M-0.2 35.2 L3.5 30.9 L3.1 28.2 L-0.4 27.8 M0.2 9.4 L5.6 10.8 L8.9 8.5 L14.7 6.3 L17.2 2.2 L19.6 0.9 L22.9 1.3 L28.3 2.2 L29.6 3.1 L34.5 2.7 L38.2 0.4 L39.1 -1.3 M30.0 62.7 L32.0 60.0 L37.4 60.5 L41.1 59.6 L39.9 53.8 L37.8 52.9 L38.6 49.7 L35.3 47.9 L39.1 43.9 L45.3 43.9 L49.4 39.0 L51.5 34.9 L56.0 29.6 L56.4 26.0 L59.3 24.2 L56.8 22.0 L53.9 20.2 L54.3 16.6 L53.5 13.4 L61.4 14.3 L66.3 12.1 L69.6 9.9 M57.7 2.2 L62.2 5.4 L69.6 9.9 L74.2 15.2 L74.6 21.1 L73.4 23.3 L73.4 27.8 L78.3 30.5 L83.3 33.6 L87.4 33.2 L94.9 37.6 L99.8 40.8 L103.5 43.9 L112.2 43.9 L115.5 46.6 L118.0 43.0 L121.3 43.0 L126.7 44.4 L130.4 43.9 L134.1 40.8 L139.1 37.6 L142.4 38.5 L145.7 37.2 L147.3 39.9 L150.4 42.3 M83.3 33.6 L80.4 35.8 L79.0 39.9 L82.9 42.1 L87.0 43.9 L92.4 46.6 L97.7 46.6 L102.7 49.7 L107.7 50.6 L112.2 50.6 L112.2 43.9 M115.5 46.6 L115.9 48.4 L119.2 49.3 L124.2 48.8 L128.7 48.6 L126.7 44.4 M150.4 42.3 L148.6 45.2 L149.4 47.5 L145.7 47.0 L141.6 49.7 L139.1 56.0 L139.5 58.2 L137.0 61.8 L133.7 60.9 L134.1 65.4 L132.9 69.4 L130.8 70.4 M116.3 71.2 L115.5 66.8 L114.9 65.0 L114.3 60.0 L112.2 59.1 L112.2 56.0 L113.5 53.8 L113.7 50.0 L117.6 52.4 L119.4 55.6 L121.7 56.2 L128.3 56.0 L130.0 56.9 L129.2 60.0 L125.0 60.9 L125.0 63.2 L125.8 65.4 L126.7 66.1 L129.6 62.7 L129.6 65.4 L130.8 70.3 L129.2 73.5 L129.6 76.2 M150.4 42.3 L153.5 44.8 L156.0 45.7 L156.0 52.4 L151.9 56.9 L151.5 61.4 L156.0 60.9 L156.8 65.0 L159.3 66.3 L158.1 69.9 L162.6 72.6 M162.6 77.7 L157.3 80.2 L153.1 80.6 L151.9 85.6 L150.6 86.0 L154.0 92.7 L155.6 96.8 L154.0 100.8 L157.7 107.1 L158.1 112.4 L159.7 116.0 L156.4 122.3 L156.2 124.1" fill="none" stroke="#1a1a1a" stroke-width="0.55" stroke-opacity="0.85" stroke-linejoin="round"/><path d="M132.0 108.4 L132.5 111.1 L131.6 114.2 L131.2 116.9 M130.4 120.5 L130.6 121.6 M131.6 127.7 L131.4 128.1 M135.8 136.6 L135.4 137.5" fill="none" stroke="#111" stroke-width="1.1" stroke-linecap="round"/><circle cx="38.9" cy="65.9" r="0.9" fill="#111"/><circle cx="116.8" cy="70.3" r="0.9" fill="#111"/><path d="M4.3 133.1l-3.8 -0.2M8.5 133.1l-3.9 -0.2M12.6 133.1l-3.9 -0.3M16.7 133.1l-4.0 -0.3M20.9 133.1l-4.0 -0.3M25.0 133.1l-4.1 -0.3M29.1 133.1l-4.1 -0.3M33.3 133.1l-4.1 -0.4M37.4 133.1l-4.1 -0.4M41.5 133.1l-4.1 -0.4M45.7 133.1l-4.1 -0.5M49.8 133.1l-4.1 -0.5M53.9 133.1l-4.1 -0.5M58.1 133.1l-4.1 -0.6M62.2 133.1l-4.1 -0.6M66.3 133.1l-4.0 -0.6M70.5 133.1l-4.0 -0.7M74.6 133.1l-4.0 -0.7M78.7 133.1l-4.0 -0.7M82.9 133.1l-3.9 -0.7M87.0 133.1l-3.9 -0.7M91.1 133.1l-3.8 -0.7M95.3 133.1l-3.8 -0.6M99.4 133.1l-3.7 -0.6M103.5 133.1l-3.6 -0.5M107.7 133.1l-3.5 -0.5M111.8 133.1l-3.4 -0.4M115.9 133.1l-3.3 -0.3M120.1 133.1l-3.2 -0.3M124.2 133.1l-3.1 -0.2M128.3 133.1l-2.9 -0.1M132.5 133.1l-2.8 -0.1M136.6 133.1l-2.6 -0.0M140.7 133.1l-2.4 -0.0M144.9 133.1l-2.2 -0.0M149.0 133.1l-1.9 -0.0M153.1 133.1l-1.7 -0.0M157.3 133.1l-1.4 -0.0M161.4 133.1l-1.1 -0.0M4.3 128.6l-4.0 -0.3M8.5 128.6l-4.1 -0.3M12.6 128.6l-4.1 -0.3M16.7 128.6l-4.2 -0.3M20.9 128.6l-4.2 -0.3M25.0 128.6l-4.2 -0.3M29.1 128.6l-4.3 -0.3M33.3 128.6l-4.3 -0.3M37.4 128.6l-4.3 -0.4M41.5 128.6l-4.3 -0.4M45.7 128.6l-4.2 -0.4M49.8 128.6l-4.2 -0.5M53.9 128.6l-4.2 -0.5M58.1 128.6l-4.2 -0.6M62.2 128.6l-4.2 -0.6M66.3 128.6l-4.1 -0.6M70.5 128.6l-4.1 -0.6M74.6 128.6l-4.1 -0.7M78.7 128.6l-4.0 -0.7M82.9 128.6l-4.0 -0.7M87.0 128.6l-3.9 -0.6M91.1 128.6l-3.9 -0.6M95.3 128.6l-3.8 -0.6M99.4 128.6l-3.7 -0.5M103.5 128.6l-3.6 -0.4M107.7 128.6l-3.5 -0.3M111.8 128.6l-3.4 -0.3M115.9 128.6l-3.3 -0.2M120.1 128.6l-3.2 -0.1M124.2 128.6l-3.1 0.0M128.3 128.6l-2.9 0.1M132.5 128.6l-2.8 0.1M136.6 128.6l-2.6 0.2M140.7 128.6l-2.5 0.2M144.9 128.6l-2.3 0.2M149.0 128.6l-2.0 0.1M153.1 128.6l-1.8 0.1M157.3 128.6l-1.5 0.1M161.4 128.6l-1.3 0.1M4.3 124.1l-4.1 -0.3M8.5 124.1l-4.2 -0.3M12.6 124.1l-4.2 -0.3M16.7 124.1l-4.3 -0.3M20.9 124.1l-4.3 -0.3M25.0 124.1l-4.3 -0.3M29.1 124.1l-4.3 -0.3M33.3 124.1l-4.4 -0.3M37.4 124.1l-4.4 -0.3M41.5 124.1l-4.3 -0.4M45.7 124.1l-4.3 -0.4M49.8 124.1l-4.3 -0.4M53.9 124.1l-4.3 -0.5M58.1 124.1l-4.3 -0.5M62.2 124.1l-4.2 -0.5M66.3 124.1l-4.2 -0.6M70.5 124.1l-4.1 -0.6M74.6 124.1l-4.1 -0.6M78.7 124.1l-4.0 -0.6M82.9 124.1l-4.0 -0.6M87.0 124.1l-3.9 -0.5M91.1 124.1l-3.8 -0.5M95.3 124.1l-3.7 -0.4M99.4 124.1l-3.6 -0.3M103.5 124.1l-3.5 -0.2M107.7 124.1l-3.4 -0.1M111.8 124.1l-3.3 0.0M115.9 124.1l-3.1 0.1M120.1 124.1l-3.0 0.3M124.2 124.1l-2.9 0.3M128.3 124.1l-2.8 0.4M132.5 124.1l-2.6 0.5M136.6 124.1l-2.5 0.5M140.7 124.1l-2.3 0.5M144.9 124.1l-2.2 0.4M149.0 124.1l-2.0 0.4M153.1 124.1l-1.7 0.3M157.3 124.1l-1.5 0.2M161.4 124.1l-1.3 0.2M4.3 119.6l-4.2 -0.3M8.5 119.6l-4.2 -0.3M12.6 119.6l-4.3 -0.3M16.7 119.6l-4.3 -0.3M20.9 119.6l-4.3 -0.3M25.0 119.6l-4.4 -0.3M29.1 119.6l-4.4 -0.3M33.3 119.6l-4.4 -0.3M37.4 119.6l-4.4 -0.3M41.5 119.6l-4.4 -0.3M45.7 119.6l-4.4 -0.3M49.8 119.6l-4.4 -0.3M53.9 119.6l-4.3 -0.4M58.1 119.6l-4.3 -0.4M62.2 119.6l-4.3 -0.4M66.3 119.6l-4.2 -0.4M70.5 119.6l-4.2 -0.5M74.6 119.6l-4.1 -0.5M78.7 119.6l-4.0 -0.4M82.9 119.6l-3.9 -0.4M87.0 119.6l-3.8 -0.3M91.1 119.6l-3.7 -0.2M95.3 119.6l-3.6 -0.1M99.4 119.6l-3.4 0.0M103.5 119.6l-3.3 0.1M107.7 119.6l-3.2 0.3M111.8 119.6l-3.0 0.4M115.9 119.6l-2.9 0.6M120.1 119.6l-2.8 0.7M124.2 119.6l-2.6 0.8M128.3 119.6l-2.5 0.8M132.5 119.6l-2.4 0.9M136.6 119.6l-2.3 0.9M140.7 119.6l-2.1 0.8M144.9 119.6l-2.0 0.7M149.0 119.6l-1.8 0.6M153.1 119.6l-1.6 0.5M157.3 119.6l-1.4 0.4M161.4 119.6l-1.2 0.4M4.3 115.1l-4.1 -0.3M8.5 115.1l-4.2 -0.3M12.6 115.1l-4.3 -0.3M16.7 115.1l-4.3 -0.2M20.9 115.1l-4.3 -0.2M25.0 115.1l-4.3 -0.2M29.1 115.1l-4.4 -0.2M33.3 115.1l-4.4 -0.2M37.4 115.1l-4.4 -0.2M41.5 115.1l-4.4 -0.2M45.7 115.1l-4.4 -0.3M49.8 115.1l-4.4 -0.3M53.9 115.1l-4.3 -0.3M58.1 115.1l-4.3 -0.3M62.2 115.1l-4.3 -0.3M66.3 115.1l-4.2 -0.3M70.5 115.1l-4.1 -0.3M74.6 115.1l-4.1 -0.3M78.7 115.1l-4.0 -0.2M82.9 115.1l-3.8 -0.2M87.0 115.1l-3.7 -0.0M91.1 115.1l-3.5 0.1M95.3 115.1l-3.3 0.2M99.4 115.1l-3.2 0.4M103.5 115.1l-3.0 0.6M107.7 115.1l-2.8 0.8M111.8 115.1l-2.7 0.9M115.9 115.1l-2.6 1.0M120.1 115.1l-2.5 1.1M124.2 115.1l-2.4 1.2M128.3 115.1l-2.3 1.2M132.5 115.1l-2.2 1.2M136.6 115.1l-2.1 1.2M140.7 115.1l-1.9 1.0M144.9 115.1l-1.8 0.9M149.0 115.1l-1.6 0.7M153.1 115.1l-1.5 0.5M157.3 115.1l-1.3 0.5M161.4 115.1l-1.1 0.5M4.3 110.7l-4.0 -0.3M8.5 110.7l-4.1 -0.3M12.6 110.7l-4.2 -0.3M16.7 110.7l-4.2 -0.2M20.9 110.7l-4.2 -0.2M25.0 110.7l-4.3 -0.2M29.1 110.7l-4.3 -0.2M33.3 110.7l-4.3 -0.2M37.4 110.7l-4.3 -0.2M41.5 110.7l-4.3 -0.2M45.7 110.7l-4.3 -0.2M49.8 110.7l-4.3 -0.2M53.9 110.7l-4.3 -0.2M58.1 110.7l-4.2 -0.2M62.2 110.7l-4.2 -0.2M66.3 110.7l-4.1 -0.2M70.5 110.7l-4.1 -0.1M74.6 110.7l-4.0 -0.1M78.7 110.7l-3.8 -0.0M82.9 110.7l-3.7 0.1M87.0 110.7l-3.5 0.3M91.1 110.7l-3.3 0.4M95.3 110.7l-3.1 0.6M99.4 110.7l-2.9 0.8M103.5 110.7l-2.7 1.0M107.7 110.7l-2.6 1.2M111.8 110.7l-2.4 1.3M115.9 110.7l-2.3 1.4M120.1 110.7l-2.3 1.4M124.2 110.7l-2.2 1.5M128.3 110.7l-2.1 1.5M132.5 110.7l-2.0 1.5M136.6 110.7l-1.9 1.3M140.7 110.7l-1.8 1.1M144.9 110.7l-1.6 0.9M149.0 110.7l-1.5 0.6M153.1 110.7l-1.4 0.5M157.3 110.7l-1.2 0.4M161.4 110.7l-1.1 0.4M4.3 106.2l-3.9 -0.3M8.5 106.2l-4.0 -0.3M12.6 106.2l-4.0 -0.3M16.7 106.2l-4.1 -0.2M20.9 106.2l-4.1 -0.2M25.0 106.2l-4.1 -0.2M29.1 106.2l-4.2 -0.2M33.3 106.2l-4.2 -0.2M37.4 106.2l-4.2 -0.1M41.5 106.2l-4.2 -0.1M45.7 106.2l-4.2 -0.1M49.8 106.2l-4.2 -0.1M53.9 106.2l-4.1 -0.1M58.1 106.2l-4.1 -0.1M62.2 106.2l-4.0 -0.1M66.3 106.2l-4.0 -0.0M70.5 106.2l-3.9 0.0M74.6 106.2l-3.8 0.1M78.7 106.2l-3.6 0.2M82.9 106.2l-3.4 0.4M87.0 106.2l-3.2 0.5M91.1 106.2l-3.0 0.7M95.3 106.2l-2.8 0.9M99.4 106.2l-2.6 1.1M103.5 106.2l-2.5 1.3M107.7 106.2l-2.4 1.4M111.8 106.2l-2.3 1.5M115.9 106.2l-2.2 1.6M120.1 106.2l-2.1 1.6M124.2 106.2l-2.1 1.7M128.3 106.2l-2.0 1.6M132.5 106.2l-1.9 1.6M136.6 106.2l-1.8 1.4M140.7 106.2l-1.7 1.1M144.9 106.2l-1.5 0.7M149.0 106.2l-1.4 0.4M153.1 106.2l-1.3 0.3M157.3 106.2l-1.1 0.2M161.4 106.2l-1.0 0.3M4.3 101.7l-3.6 -0.4M8.5 101.7l-3.7 -0.3M12.6 101.7l-3.8 -0.3M16.7 101.7l-3.8 -0.3M20.9 101.7l-3.9 -0.2M25.0 101.7l-3.9 -0.2M29.1 101.7l-4.0 -0.1M33.3 101.7l-4.0 -0.1M37.4 101.7l-4.0 -0.1M41.5 101.7l-4.0 -0.0M45.7 101.7l-4.0 -0.0M49.8 101.7l-3.9 0.0M53.9 101.7l-3.9 0.0M58.1 101.7l-3.9 0.0M62.2 101.7l-3.8 0.1M66.3 101.7l-3.7 0.1M70.5 101.7l-3.6 0.2M74.6 101.7l-3.5 0.3M78.7 101.7l-3.3 0.4M82.9 101.7l-3.1 0.5M87.0 101.7l-2.9 0.7M91.1 101.7l-2.7 0.9M95.3 101.7l-2.6 1.1M99.4 101.7l-2.4 1.3M103.5 101.7l-2.3 1.4M107.7 101.7l-2.2 1.5M111.8 101.7l-2.1 1.6M115.9 101.7l-2.1 1.7M120.1 101.7l-2.1 1.7M124.2 101.7l-2.0 1.7M128.3 101.7l-2.0 1.7M132.5 101.7l-1.9 1.6M136.6 101.7l-1.8 1.3M140.7 101.7l-1.6 0.9M144.9 101.7l-1.4 0.5M149.0 101.7l-1.3 0.1M153.1 101.7l-1.2 -0.0M157.3 101.7l-1.1 -0.1M161.4 101.7l-1.0 0.1M4.3 97.2l-3.3 -0.5M8.5 97.2l-3.4 -0.4M12.6 97.2l-3.5 -0.4M16.7 97.2l-3.6 -0.3M20.9 97.2l-3.6 -0.2M25.0 97.2l-3.7 -0.2M29.1 97.2l-3.7 -0.1M33.3 97.2l-3.7 -0.0M37.4 97.2l-3.7 0.0M41.5 97.2l-3.7 0.1M45.7 97.2l-3.7 0.1M49.8 97.2l-3.6 0.1M53.9 97.2l-3.6 0.2M58.1 97.2l-3.5 0.2M62.2 97.2l-3.5 0.2M66.3 97.2l-3.4 0.3M70.5 97.2l-3.3 0.3M74.6 97.2l-3.2 0.4M78.7 97.2l-3.0 0.5M82.9 97.2l-2.8 0.7M87.0 97.2l-2.7 0.9M91.1 97.2l-2.5 1.1M95.3 97.2l-2.4 1.2M99.4 97.2l-2.3 1.4M103.5 97.2l-2.2 1.5M107.7 97.2l-2.1 1.6M111.8 97.2l-2.1 1.7M115.9 97.2l-2.0 1.7M120.1 97.2l-2.0 1.8M124.2 97.2l-2.0 1.7M128.3 97.2l-1.9 1.7M132.5 97.2l-1.8 1.5M136.6 97.2l-1.7 1.1M140.7 97.2l-1.5 0.6M144.9 97.2l-1.3 0.1M149.0 97.2l-1.1 -0.3M153.1 97.2l-1.0 -0.4M157.3 97.2l-1.0 -0.4M161.4 97.2l-0.9 -0.2M4.3 92.7l-3.0 -0.6M8.5 92.7l-3.1 -0.5M12.6 92.7l-3.2 -0.4M16.7 92.7l-3.3 -0.3M20.9 92.7l-3.3 -0.2M25.0 92.7l-3.4 -0.1M29.1 92.7l-3.4 -0.0M33.3 92.7l-3.4 0.1M37.4 92.7l-3.4 0.1M41.5 92.7l-3.4 0.2M45.7 92.7l-3.3 0.3M49.8 92.7l-3.3 0.3M53.9 92.7l-3.2 0.4M58.1 92.7l-3.1 0.4M62.2 92.7l-3.1 0.4M66.3 92.7l-3.0 0.5M70.5 92.7l-2.9 0.5M74.6 92.7l-2.7 0.6M78.7 92.7l-2.6 0.7M82.9 92.7l-2.5 0.8M87.0 92.7l-2.4 1.0M91.1 92.7l-2.2 1.2M95.3 92.7l-2.2 1.3M99.4 92.7l-2.1 1.4M103.5 92.7l-2.0 1.5M107.7 92.7l-2.0 1.6M111.8 92.7l-2.0 1.7M115.9 92.7l-2.0 1.7M120.1 92.7l-1.9 1.7M124.2 92.7l-1.9 1.7M128.3 92.7l-1.8 1.6M132.5 92.7l-1.7 1.4M136.6 92.7l-1.5 0.9M140.7 92.7l-1.3 0.3M144.9 92.7l-1.1 -0.3M149.0 92.7l-1.0 -0.7M153.1 92.7l-0.9 -0.8M157.3 92.7l-0.9 -0.8M161.4 92.7l-0.8 -0.6M4.3 88.3l-2.7 -0.8M8.5 88.3l-2.9 -0.7M12.6 88.3l-3.0 -0.6M16.7 88.3l-3.0 -0.4M20.9 88.3l-3.1 -0.3M25.0 88.3l-3.2 -0.1M29.1 88.3l-3.2 0.0M33.3 88.3l-3.2 0.2M37.4 88.3l-3.1 0.3M41.5 88.3l-3.1 0.4M45.7 88.3l-3.0 0.5M49.8 88.3l-2.9 0.6M53.9 88.3l-2.8 0.6M58.1 88.3l-2.7 0.7M62.2 88.3l-2.6 0.7M66.3 88.3l-2.5 0.7M70.5 88.3l-2.4 0.8M74.6 88.3l-2.3 0.8M78.7 88.3l-2.2 0.9M82.9 88.3l-2.1 1.0M87.0 88.3l-2.0 1.1M91.1 88.3l-2.0 1.2M95.3 88.3l-1.9 1.3M99.4 88.3l-1.9 1.4M103.5 88.3l-1.9 1.5M107.7 88.3l-1.9 1.6M111.8 88.3l-1.9 1.7M115.9 88.3l-1.9 1.7M120.1 88.3l-1.9 1.7M124.2 88.3l-1.8 1.7M128.3 88.3l-1.7 1.5M132.5 88.3l-1.6 1.1M136.6 88.3l-1.4 0.5M140.7 88.3l-1.2 -0.2M144.9 88.3l-1.0 -0.8M149.0 88.3l-0.9 -1.1M153.1 88.3l-0.8 -1.2M157.3 88.3l-0.8 -1.2M161.4 88.3l-0.7 -0.9M4.3 83.8l-2.5 -1.0M8.5 83.8l-2.7 -0.9M12.6 83.8l-2.8 -0.7M16.7 83.8l-2.9 -0.5M20.9 83.8l-3.0 -0.3M25.0 83.8l-3.0 -0.1M29.1 83.8l-3.0 0.1M33.3 83.8l-3.0 0.3M37.4 83.8l-2.9 0.5M41.5 83.8l-2.9 0.7M45.7 83.8l-2.8 0.8M49.8 83.8l-2.6 0.9M53.9 83.8l-2.5 1.0M58.1 83.8l-2.4 1.0M62.2 83.8l-2.3 1.0M66.3 83.8l-2.1 1.0M70.5 83.8l-2.0 1.0M74.6 83.8l-1.9 1.0M78.7 83.8l-1.9 1.1M82.9 83.8l-1.8 1.1M87.0 83.8l-1.8 1.1M91.1 83.8l-1.8 1.2M95.3 83.8l-1.8 1.3M99.4 83.8l-1.8 1.4M103.5 83.8l-1.8 1.4M107.7 83.8l-1.8 1.5M111.8 83.8l-1.8 1.6M115.9 83.8l-1.8 1.6M120.1 83.8l-1.8 1.6M124.2 83.8l-1.7 1.5M128.3 83.8l-1.7 1.3M132.5 83.8l-1.5 0.8M136.6 83.8l-1.2 0.1M140.7 83.8l-1.0 -0.6M144.9 83.8l-0.9 -1.2M149.0 83.8l-0.8 -1.5M153.1 83.8l-0.7 -1.6M157.3 83.8l-0.7 -1.5M161.4 83.8l-0.6 -1.2M4.3 79.3l-2.4 -1.3M8.5 79.3l-2.6 -1.1M12.6 79.3l-2.8 -0.9M16.7 79.3l-2.9 -0.7M20.9 79.3l-3.0 -0.4M25.0 79.3l-3.0 -0.1M29.1 79.3l-3.0 0.2M33.3 79.3l-3.0 0.5M37.4 79.3l-2.9 0.7M41.5 79.3l-2.8 0.9M45.7 79.3l-2.6 1.1M49.8 79.3l-2.5 1.2M53.9 79.3l-2.3 1.3M58.1 79.3l-2.1 1.4M62.2 79.3l-2.0 1.4M66.3 79.3l-1.9 1.3M70.5 79.3l-1.8 1.3M74.6 79.3l-1.7 1.2M78.7 79.3l-1.6 1.2M82.9 79.3l-1.6 1.2M87.0 79.3l-1.7 1.2M91.1 79.3l-1.7 1.2M95.3 79.3l-1.7 1.2M99.4 79.3l-1.8 1.2M103.5 79.3l-1.8 1.3M107.7 79.3l-1.8 1.3M111.8 79.3l-1.8 1.4M115.9 79.3l-1.8 1.4M120.1 79.3l-1.8 1.4M124.2 79.3l-1.7 1.3M128.3 79.3l-1.6 1.1M132.5 79.3l-1.4 0.5M136.6 79.3l-1.1 -0.3M140.7 79.3l-0.9 -1.0M144.9 79.3l-0.8 -1.5M149.0 79.3l-0.7 -1.7M153.1 79.3l-0.6 -1.8M157.3 79.3l-0.6 -1.7M161.4 79.3l-0.6 -1.5M4.3 74.8l-2.4 -1.6M8.5 74.8l-2.6 -1.4M12.6 74.8l-2.8 -1.2M16.7 74.8l-3.0 -0.9M20.9 74.8l-3.1 -0.5M25.0 74.8l-3.1 -0.1M29.1 74.8l-3.1 0.3M33.3 74.8l-3.1 0.6M37.4 74.8l-2.9 1.0M41.5 74.8l-2.8 1.2M45.7 74.8l-2.6 1.4M49.8 74.8l-2.4 1.6M53.9 74.8l-2.2 1.7M58.1 74.8l-2.0 1.7M62.2 74.8l-1.9 1.7M66.3 74.8l-1.7 1.6M70.5 74.8l-1.7 1.5M74.6 74.8l-1.6 1.4M78.7 74.8l-1.6 1.3M82.9 74.8l-1.7 1.2M87.0 74.8l-1.7 1.1M91.1 74.8l-1.8 1.1M95.3 74.8l-1.8 1.1M99.4 74.8l-1.9 1.1M103.5 74.8l-1.9 1.1M107.7 74.8l-1.9 1.1M111.8 74.8l-1.9 1.1M115.9 74.8l-1.9 1.1M120.1 74.8l-1.9 1.1M124.2 74.8l-1.8 1.1M128.3 74.8l-1.6 0.8M132.5 74.8l-1.4 0.2M136.6 74.8l-1.1 -0.6M140.7 74.8l-0.8 -1.3M144.9 74.8l-0.7 -1.7M149.0 74.8l-0.6 -1.9M153.1 74.8l-0.6 -2.0M157.3 74.8l-0.6 -1.9M161.4 74.8l-0.5 -1.7M4.3 70.3l-2.4 -1.9M8.5 70.3l-2.7 -1.7M12.6 70.3l-2.9 -1.4M16.7 70.3l-3.1 -1.1M20.9 70.3l-3.2 -0.6M25.0 70.3l-3.3 -0.2M29.1 70.3l-3.3 0.3M33.3 70.3l-3.2 0.8M37.4 70.3l-3.0 1.2M41.5 70.3l-2.8 1.5M45.7 70.3l-2.6 1.8M49.8 70.3l-2.4 1.9M53.9 70.3l-2.1 2.0M58.1 70.3l-1.9 2.0M62.2 70.3l-1.8 1.9M66.3 70.3l-1.7 1.8M70.5 70.3l-1.6 1.6M74.6 70.3l-1.6 1.5M78.7 70.3l-1.7 1.3M82.9 70.3l-1.8 1.2M87.0 70.3l-1.8 1.1M91.1 70.3l-1.9 1.0M95.3 70.3l-2.0 1.0M99.4 70.3l-2.0 0.9M103.5 70.3l-2.1 0.9M107.7 70.3l-2.1 0.9M111.8 70.3l-2.1 0.9M115.9 70.3l-2.0 0.9M120.1 70.3l-2.0 0.9M124.2 70.3l-1.9 0.9M128.3 70.3l-1.7 0.6M132.5 70.3l-1.5 0.0M136.6 70.3l-1.1 -0.7M140.7 70.3l-0.9 -1.4M144.9 70.3l-0.7 -1.8M149.0 70.3l-0.6 -2.0M153.1 70.3l-0.6 -2.0M157.3 70.3l-0.5 -2.0M161.4 70.3l-0.5 -1.7M4.3 65.9l-2.4 -2.3M8.5 65.9l-2.7 -2.1M12.6 65.9l-3.0 -1.8M16.7 65.9l-3.2 -1.3M20.9 65.9l-3.4 -0.8M25.0 65.9l-3.5 -0.2M29.1 65.9l-3.5 0.4M33.3 65.9l-3.3 1.0M37.4 65.9l-3.1 1.5M41.5 65.9l-2.9 1.9M45.7 65.9l-2.6 2.1M49.8 65.9l-2.3 2.3M53.9 65.9l-2.1 2.3M58.1 65.9l-1.9 2.3M62.2 65.9l-1.7 2.1M66.3 65.9l-1.6 1.9M70.5 65.9l-1.6 1.7M74.6 65.9l-1.7 1.5M78.7 65.9l-1.7 1.3M82.9 65.9l-1.8 1.2M87.0 65.9l-1.9 1.1M91.1 65.9l-2.0 1.0M95.3 65.9l-2.1 0.9M99.4 65.9l-2.1 0.9M103.5 65.9l-2.1 0.9M107.7 65.9l-2.2 0.9M111.8 65.9l-2.2 0.9M115.9 65.9l-2.1 0.8M120.1 65.9l-2.1 0.8M124.2 65.9l-2.0 0.8M128.3 65.9l-1.9 0.5M132.5 65.9l-1.6 0.0M136.6 65.9l-1.2 -0.8M140.7 65.9l-0.9 -1.4M144.9 65.9l-0.7 -1.8M149.0 65.9l-0.6 -2.0M153.1 65.9l-0.6 -2.0M157.3 65.9l-0.5 -2.0M161.4 65.9l-0.5 -1.8M4.3 61.4l-2.3 -2.7M8.5 61.4l-2.6 -2.5M12.6 61.4l-3.0 -2.2M16.7 61.4l-3.3 -1.7M20.9 61.4l-3.5 -1.0M25.0 61.4l-3.6 -0.2M29.1 61.4l-3.6 0.6M33.3 61.4l-3.4 1.3M37.4 61.4l-3.1 1.9M41.5 61.4l-2.8 2.3M45.7 61.4l-2.5 2.6M49.8 61.4l-2.2 2.7M53.9 61.4l-1.9 2.7M58.1 61.4l-1.7 2.6M62.2 61.4l-1.6 2.4M66.3 61.4l-1.5 2.1M70.5 61.4l-1.5 1.9M74.6 61.4l-1.6 1.6M78.7 61.4l-1.7 1.4M82.9 61.4l-1.8 1.2M87.0 61.4l-1.9 1.1M91.1 61.4l-2.0 1.0M95.3 61.4l-2.1 0.9M99.4 61.4l-2.1 0.9M103.5 61.4l-2.1 0.8M107.7 61.4l-2.2 0.8M111.8 61.4l-2.2 0.8M115.9 61.4l-2.1 0.8M120.1 61.4l-2.1 0.8M124.2 61.4l-2.0 0.7M128.3 61.4l-1.9 0.5M132.5 61.4l-1.6 -0.0M136.6 61.4l-1.2 -0.7M140.7 61.4l-0.9 -1.4M144.9 61.4l-0.7 -1.8M149.0 61.4l-0.6 -2.0M153.1 61.4l-0.6 -2.0M157.3 61.4l-0.5 -2.0M161.4 61.4l-0.5 -1.7M4.3 56.9l-2.1 -3.1M8.5 56.9l-2.4 -3.0M12.6 56.9l-2.8 -2.6M16.7 56.9l-3.1 -2.1M20.9 56.9l-3.4 -1.3M25.0 56.9l-3.5 -0.3M29.1 56.9l-3.5 0.7M33.3 56.9l-3.3 1.6M37.4 56.9l-3.0 2.3M41.5 56.9l-2.6 2.8M45.7 56.9l-2.3 3.0M49.8 56.9l-2.0 3.1M53.9 56.9l-1.7 3.0M58.1 56.9l-1.5 2.9M62.2 56.9l-1.4 2.6M66.3 56.9l-1.3 2.4M70.5 56.9l-1.4 2.1M74.6 56.9l-1.4 1.8M78.7 56.9l-1.6 1.5M82.9 56.9l-1.7 1.3M87.0 56.9l-1.8 1.2M91.1 56.9l-1.9 1.0M95.3 56.9l-2.0 0.9M99.4 56.9l-2.0 0.9M103.5 56.9l-2.1 0.8M107.7 56.9l-2.1 0.8M111.8 56.9l-2.1 0.8M115.9 56.9l-2.0 0.8M120.1 56.9l-2.0 0.7M124.2 56.9l-1.9 0.6M128.3 56.9l-1.7 0.4M132.5 56.9l-1.4 -0.0M136.6 56.9l-1.1 -0.7M140.7 56.9l-0.8 -1.4M144.9 56.9l-0.7 -1.8M149.0 56.9l-0.6 -1.9M153.1 56.9l-0.5 -2.0M157.3 56.9l-0.5 -1.9M161.4 56.9l-0.4 -1.7M4.3 52.4l-1.7 -3.6M8.5 52.4l-2.0 -3.5M12.6 52.4l-2.4 -3.1M16.7 52.4l-2.7 -2.5M20.9 52.4l-2.8 -1.5M25.0 52.4l-2.9 -0.3M29.1 52.4l-2.9 0.8M33.3 52.4l-2.8 1.9M37.4 52.4l-2.6 2.8M41.5 52.4l-2.2 3.3M45.7 52.4l-1.9 3.5M49.8 52.4l-1.6 3.5M53.9 52.4l-1.4 3.4M58.1 52.4l-1.2 3.2M62.2 52.4l-1.1 2.9M66.3 52.4l-1.0 2.6M70.5 52.4l-1.1 2.3M74.6 52.4l-1.1 2.0M78.7 52.4l-1.3 1.7M82.9 52.4l-1.4 1.5M87.0 52.4l-1.5 1.3M91.1 52.4l-1.6 1.1M95.3 52.4l-1.7 1.0M99.4 52.4l-1.8 0.9M103.5 52.4l-1.8 0.8M107.7 52.4l-1.8 0.8M111.8 52.4l-1.8 0.7M115.9 52.4l-1.7 0.7M120.1 52.4l-1.6 0.6M124.2 52.4l-1.5 0.5M128.3 52.4l-1.3 0.3M132.5 52.4l-1.1 -0.1M136.6 52.4l-0.8 -0.8M140.7 52.4l-0.6 -1.4M144.9 52.4l-0.5 -1.7M149.0 52.4l-0.5 -1.9M153.1 52.4l-0.4 -1.9M157.3 52.4l-0.4 -1.8M161.4 52.4l-0.3 -1.6M4.3 47.9l-1.1 -3.9M8.5 47.9l-1.3 -3.9M12.6 47.9l-1.6 -3.5M16.7 47.9l-1.7 -2.7M20.9 47.9l-1.7 -1.5M25.0 47.9l-1.5 -0.3M29.1 47.9l-1.6 0.7M33.3 47.9l-1.7 2.0M37.4 47.9l-1.7 3.1M41.5 47.9l-1.5 3.7M45.7 47.9l-1.3 3.9M49.8 47.9l-1.0 3.8M53.9 47.9l-0.9 3.7M58.1 47.9l-0.8 3.5M62.2 47.9l-0.7 3.2M66.3 47.9l-0.7 2.9M70.5 47.9l-0.7 2.6M74.6 47.9l-0.7 2.3M78.7 47.9l-0.8 1.9M82.9 47.9l-0.9 1.6M87.0 47.9l-1.0 1.4M91.1 47.9l-1.1 1.2M95.3 47.9l-1.2 1.0M99.4 47.9l-1.2 0.9M103.5 47.9l-1.2 0.8M107.7 47.9l-1.2 0.7M111.8 47.9l-1.1 0.6M115.9 47.9l-1.0 0.5M120.1 47.9l-0.8 0.4M124.2 47.9l-0.6 0.3M128.3 47.9l-0.5 0.1M132.5 47.9l-0.3 -0.3M136.6 47.9l-0.2 -0.8M140.7 47.9l-0.2 -1.3M144.9 47.9l-0.2 -1.6M149.0 47.9l-0.2 -1.8M153.1 47.9l-0.2 -1.8M157.3 47.9l-0.1 -1.7M161.4 47.9l0.0 -1.4M4.3 43.5l-0.4 -4.1M8.5 43.5l-0.5 -4.1M12.6 43.5l-0.6 -3.7M16.7 43.5l-0.6 -2.6M20.9 43.5l-0.5 -1.2M29.1 43.5l-0.3 0.4M33.3 43.5l-0.5 1.8M37.4 43.5l-0.6 3.1M41.5 43.5l-0.5 3.9M45.7 43.5l-0.4 4.1M49.8 43.5l-0.4 4.0M53.9 43.5l-0.3 3.9M58.1 43.5l-0.3 3.6M62.2 43.5l-0.2 3.3M66.3 43.5l-0.2 3.1M70.5 43.5l-0.2 2.7M74.6 43.5l-0.2 2.4M78.7 43.5l-0.3 2.1M82.9 43.5l-0.3 1.8M87.0 43.5l-0.3 1.5M91.1 43.5l-0.3 1.2M95.3 43.5l-0.3 1.0M99.4 43.5l-0.3 0.8M103.5 43.5l-0.2 0.6M107.7 43.5l-0.1 0.4M111.8 43.5l0.1 0.3M120.1 43.5l0.4 0.1M124.2 43.5l0.6 -0.0M128.3 43.5l0.7 -0.2M132.5 43.5l0.7 -0.5M136.6 43.5l0.6 -0.8M140.7 43.5l0.5 -1.2M144.9 43.5l0.3 -1.5M149.0 43.5l0.3 -1.6M153.1 43.5l0.3 -1.6M157.3 43.5l0.3 -1.4M161.4 43.5l0.5 -1.2M4.3 39.0l0.4 -4.1M8.5 39.0l0.5 -4.1M12.6 39.0l0.6 -3.7M16.7 39.0l0.6 -2.6M20.9 39.0l0.5 -1.2M29.1 39.0l0.3 0.4M33.3 39.0l0.5 1.8M37.4 39.0l0.6 3.1M41.5 39.0l0.5 3.9M45.7 39.0l0.4 4.1M49.8 39.0l0.4 4.0M53.9 39.0l0.3 3.9M58.1 39.0l0.3 3.6M62.2 39.0l0.2 3.4M66.3 39.0l0.2 3.1M70.5 39.0l0.2 2.7M74.6 39.0l0.2 2.4M78.7 39.0l0.2 2.1M82.9 39.0l0.3 1.7M87.0 39.0l0.3 1.4M91.1 39.0l0.4 1.0M95.3 39.0l0.6 0.8M99.4 39.0l0.7 0.5M103.5 39.0l0.8 0.3M107.7 39.0l1.0 0.1M111.8 39.0l1.1 -0.0M115.9 39.0l1.3 -0.1M120.1 39.0l1.4 -0.2M124.2 39.0l1.5 -0.3M128.3 39.0l1.6 -0.4M132.5 39.0l1.5 -0.6M136.6 39.0l1.4 -0.8M140.7 39.0l1.2 -1.0M144.9 39.0l1.0 -1.2M149.0 39.0l0.8 -1.3M153.1 39.0l0.8 -1.3M157.3 39.0l0.9 -1.2M161.4 39.0l1.0 -1.0M4.3 34.5l1.1 -3.9M8.5 34.5l1.3 -3.9M12.6 34.5l1.6 -3.5M16.7 34.5l1.7 -2.7M20.9 34.5l1.7 -1.5M25.0 34.5l1.5 -0.3M29.1 34.5l1.6 0.7M33.3 34.5l1.7 2.0M37.4 34.5l1.7 3.1M41.5 34.5l1.5 3.7M45.7 34.5l1.3 3.9M49.8 34.5l1.0 3.9M53.9 34.5l0.9 3.7M58.1 34.5l0.7 3.5M62.2 34.5l0.6 3.2M66.3 34.5l0.6 2.9M70.5 34.5l0.6 2.6M74.6 34.5l0.6 2.3M78.7 34.5l0.6 1.9M82.9 34.5l0.7 1.5M87.0 34.5l0.8 1.1M91.1 34.5l1.0 0.8M95.3 34.5l1.1 0.5M99.4 34.5l1.3 0.2M103.5 34.5l1.5 0.0M107.7 34.5l1.6 -0.1M111.8 34.5l1.7 -0.3M115.9 34.5l1.8 -0.4M120.1 34.5l1.9 -0.4M124.2 34.5l2.0 -0.5M128.3 34.5l2.0 -0.5M132.5 34.5l1.9 -0.6M136.6 34.5l1.8 -0.7M140.7 34.5l1.7 -0.9M144.9 34.5l1.5 -1.0M149.0 34.5l1.4 -1.0M153.1 34.5l1.4 -1.0M157.3 34.5l1.4 -0.9M161.4 34.5l1.4 -0.8M4.3 30.0l1.7 -3.6M8.5 30.0l2.0 -3.5M12.6 30.0l2.4 -3.1M16.7 30.0l2.7 -2.5M20.9 30.0l2.8 -1.5M25.0 30.0l2.9 -0.3M29.1 30.0l2.9 0.8M33.3 30.0l2.8 1.9M37.4 30.0l2.6 2.8M41.5 30.0l2.2 3.3M45.7 30.0l1.9 3.5M49.8 30.0l1.6 3.5M53.9 30.0l1.3 3.4M58.1 30.0l1.1 3.3M62.2 30.0l1.0 3.0M66.3 30.0l0.9 2.7M70.5 30.0l0.8 2.4M74.6 30.0l0.9 2.1M78.7 30.0l0.9 1.7M82.9 30.0l1.0 1.3M87.0 30.0l1.1 0.9M91.1 30.0l1.3 0.6M95.3 30.0l1.5 0.3M99.4 30.0l1.6 0.0M103.5 30.0l1.8 -0.1M107.7 30.0l1.9 -0.3M111.8 30.0l2.0 -0.4M115.9 30.0l2.1 -0.5M120.1 30.0l2.1 -0.5M124.2 30.0l2.2 -0.6M128.3 30.0l2.2 -0.6M132.5 30.0l2.1 -0.6M136.6 30.0l2.1 -0.7M140.7 30.0l2.0 -0.8M144.9 30.0l1.9 -0.8M149.0 30.0l1.8 -0.9M153.1 30.0l1.7 -0.9M157.3 30.0l1.7 -0.8M161.4 30.0l1.7 -0.7M4.3 25.5l2.1 -3.1M8.5 25.5l2.4 -3.0M12.6 25.5l2.8 -2.6M16.7 25.5l3.1 -2.1M20.9 25.5l3.4 -1.3M25.0 25.5l3.5 -0.3M29.1 25.5l3.5 0.7M33.3 25.5l3.3 1.6M37.4 25.5l3.0 2.3M41.5 25.5l2.6 2.8M45.7 25.5l2.3 3.0M49.8 25.5l1.9 3.1M53.9 25.5l1.7 3.1M58.1 25.5l1.4 3.0M62.2 25.5l1.3 2.8M66.3 25.5l1.1 2.5M70.5 25.5l1.1 2.2M74.6 25.5l1.1 1.8M78.7 25.5l1.1 1.5M82.9 25.5l1.2 1.1M87.0 25.5l1.3 0.7M91.1 25.5l1.5 0.4M95.3 25.5l1.7 0.1M99.4 25.5l1.8 -0.1M103.5 25.5l1.9 -0.3M107.7 25.5l2.0 -0.4M111.8 25.5l2.1 -0.5M115.9 25.5l2.2 -0.5M120.1 25.5l2.2 -0.6M124.2 25.5l2.2 -0.6M128.3 25.5l2.2 -0.6M132.5 25.5l2.2 -0.7M136.6 25.5l2.2 -0.7M140.7 25.5l2.1 -0.7M144.9 25.5l2.1 -0.8M149.0 25.5l2.0 -0.8M153.1 25.5l2.0 -0.8M157.3 25.5l1.9 -0.7M161.4 25.5l1.9 -0.7M4.3 21.1l2.3 -2.7M8.5 21.1l2.6 -2.5M12.6 21.1l3.0 -2.2M16.7 21.1l3.3 -1.7M20.9 21.1l3.5 -1.0M25.0 21.1l3.6 -0.2M29.1 21.1l3.6 0.6M33.3 21.1l3.4 1.3M37.4 21.1l3.1 1.9M41.5 21.1l2.8 2.3M45.7 21.1l2.5 2.6M49.8 21.1l2.2 2.7M53.9 21.1l1.9 2.7M58.1 21.1l1.7 2.6M62.2 21.1l1.5 2.5M66.3 21.1l1.3 2.3M70.5 21.1l1.2 2.0M74.6 21.1l1.2 1.7M78.7 21.1l1.2 1.3M82.9 21.1l1.3 0.9M87.0 21.1l1.5 0.6M91.1 21.1l1.6 0.3M95.3 21.1l1.7 0.0M99.4 21.1l1.9 -0.2M103.5 21.1l2.0 -0.3M107.7 21.1l2.1 -0.4M111.8 21.1l2.1 -0.5M115.9 21.1l2.2 -0.5M120.1 21.1l2.2 -0.6M124.2 21.1l2.3 -0.6M128.3 21.1l2.3 -0.6M132.5 21.1l2.3 -0.7M136.6 21.1l2.3 -0.7M140.7 21.1l2.2 -0.7M144.9 21.1l2.2 -0.7M149.0 21.1l2.1 -0.7M153.1 21.1l2.1 -0.7M157.3 21.1l2.0 -0.7M161.4 21.1l2.0 -0.6M4.3 16.6l2.4 -2.3M8.5 16.6l2.7 -2.1M12.6 16.6l3.0 -1.8M16.7 16.6l3.2 -1.3M20.9 16.6l3.4 -0.8M25.0 16.6l3.5 -0.2M29.1 16.6l3.4 0.4M33.3 16.6l3.3 1.0M37.4 16.6l3.1 1.5M41.5 16.6l2.8 1.9M45.7 16.6l2.6 2.2M49.8 16.6l2.3 2.3M53.9 16.6l2.0 2.4M58.1 16.6l1.8 2.3M62.2 16.6l1.6 2.2M66.3 16.6l1.4 2.0M70.5 16.6l1.3 1.8M74.6 16.6l1.3 1.5M78.7 16.6l1.3 1.2M82.9 16.6l1.4 0.8M87.0 16.6l1.5 0.5M91.1 16.6l1.6 0.2M95.3 16.6l1.7 0.0M99.4 16.6l1.9 -0.2M103.5 16.6l2.0 -0.3M107.7 16.6l2.1 -0.4M111.8 16.6l2.1 -0.5M115.9 16.6l2.2 -0.5M120.1 16.6l2.2 -0.6M124.2 16.6l2.3 -0.6M128.3 16.6l2.3 -0.6M132.5 16.6l2.3 -0.6M136.6 16.6l2.3 -0.7M140.7 16.6l2.2 -0.7M144.9 16.6l2.2 -0.7M149.0 16.6l2.1 -0.7M153.1 16.6l2.1 -0.7M157.3 16.6l2.1 -0.7M161.4 16.6l2.0 -0.6M4.3 12.1l2.4 -1.9M8.5 12.1l2.6 -1.7M12.6 12.1l2.9 -1.5M16.7 12.1l3.1 -1.1M20.9 12.1l3.2 -0.6M25.0 12.1l3.3 -0.2M29.1 12.1l3.3 0.3M33.3 12.1l3.2 0.8M37.4 12.1l3.0 1.2M41.5 12.1l2.8 1.6M45.7 12.1l2.5 1.8M49.8 12.1l2.3 2.0M53.9 12.1l2.1 2.0M58.1 12.1l1.8 2.0M62.2 12.1l1.6 2.0M66.3 12.1l1.5 1.8M70.5 12.1l1.4 1.6M74.6 12.1l1.3 1.4M78.7 12.1l1.3 1.1M82.9 12.1l1.4 0.8M87.0 12.1l1.5 0.5M91.1 12.1l1.6 0.3M95.3 12.1l1.7 0.0M99.4 12.1l1.8 -0.1M103.5 12.1l1.9 -0.3M107.7 12.1l2.0 -0.4M111.8 12.1l2.1 -0.5M115.9 12.1l2.1 -0.5M120.1 12.1l2.2 -0.6M124.2 12.1l2.2 -0.6M128.3 12.1l2.2 -0.6M132.5 12.1l2.2 -0.6M136.6 12.1l2.2 -0.6M140.7 12.1l2.2 -0.6M144.9 12.1l2.2 -0.6M149.0 12.1l2.1 -0.6M153.1 12.1l2.1 -0.6M157.3 12.1l2.0 -0.6M161.4 12.1l1.9 -0.6M4.3 7.6l2.3 -1.6M8.5 7.6l2.5 -1.5M12.6 7.6l2.7 -1.2M16.7 7.6l2.9 -0.9M20.9 7.6l3.0 -0.5M25.0 7.6l3.0 -0.1M29.1 7.6l3.0 0.3M33.3 7.6l3.0 0.7M37.4 7.6l2.8 1.0M41.5 7.6l2.7 1.3M45.7 7.6l2.5 1.5M49.8 7.6l2.2 1.7M53.9 7.6l2.0 1.8M58.1 7.6l1.8 1.8M62.2 7.6l1.6 1.7M66.3 7.6l1.5 1.6M70.5 7.6l1.4 1.5M74.6 7.6l1.3 1.3M78.7 7.6l1.3 1.1M82.9 7.6l1.3 0.8M87.0 7.6l1.4 0.6M91.1 7.6l1.5 0.3M95.3 7.6l1.6 0.1M99.4 7.6l1.7 -0.1M103.5 7.6l1.8 -0.2M107.7 7.6l1.9 -0.3M111.8 7.6l2.0 -0.4M115.9 7.6l2.0 -0.5M120.1 7.6l2.1 -0.5M124.2 7.6l2.1 -0.5M128.3 7.6l2.1 -0.6M132.5 7.6l2.1 -0.6M136.6 7.6l2.1 -0.6M140.7 7.6l2.1 -0.6M144.9 7.6l2.0 -0.6M149.0 7.6l2.0 -0.6M153.1 7.6l1.9 -0.6M157.3 7.6l1.9 -0.6M161.4 7.6l1.8 -0.5M4.3 3.1l2.2 -1.4M8.5 3.1l2.4 -1.2M12.6 3.1l2.5 -1.0M16.7 3.1l2.7 -0.7M20.9 3.1l2.8 -0.4M25.0 3.1l2.8 -0.1M29.1 3.1l2.8 0.2M33.3 3.1l2.7 0.5M37.4 3.1l2.6 0.8M41.5 3.1l2.5 1.1M45.7 3.1l2.3 1.3M49.8 3.1l2.1 1.4M53.9 3.1l1.9 1.5M58.1 3.1l1.8 1.5M62.2 3.1l1.6 1.5M66.3 3.1l1.4 1.5M70.5 3.1l1.3 1.4M74.6 3.1l1.2 1.2M78.7 3.1l1.2 1.0M82.9 3.1l1.2 0.8M87.0 3.1l1.2 0.6M91.1 3.1l1.3 0.4M95.3 3.1l1.4 0.2M99.4 3.1l1.5 0.0M103.5 3.1l1.6 -0.1M107.7 3.1l1.7 -0.2M111.8 3.1l1.8 -0.3M115.9 3.1l1.8 -0.4M120.1 3.1l1.9 -0.4M124.2 3.1l1.9 -0.5M128.3 3.1l1.9 -0.5M132.5 3.1l1.9 -0.5M136.6 3.1l1.9 -0.5M140.7 3.1l1.9 -0.5M144.9 3.1l1.8 -0.5M149.0 3.1l1.8 -0.5M153.1 3.1l1.7 -0.5M157.3 3.1l1.6 -0.5M161.4 3.1l1.5 -0.4" fill="none" stroke="#0c0c0c" stroke-width="0.55" stroke-opacity="0.80"/><path d="M0.2 132.8l2.2 -0.7l-0.1 1.7zM4.3 132.8l2.2 -0.7l-0.1 1.7zM8.4 132.8l2.2 -0.7l-0.1 1.7zM12.4 132.8l2.2 -0.7l-0.1 1.7zM16.5 132.7l2.2 -0.7l-0.1 1.7zM20.6 132.7l2.2 -0.7l-0.1 1.7zM24.7 132.7l2.2 -0.7l-0.1 1.7zM28.9 132.7l2.2 -0.7l-0.1 1.7zM33.0 132.6l2.2 -0.7l-0.2 1.7zM37.1 132.6l2.2 -0.6l-0.2 1.7zM41.2 132.6l2.2 -0.6l-0.2 1.7zM45.4 132.5l2.2 -0.6l-0.2 1.7zM49.5 132.5l2.2 -0.6l-0.2 1.7zM53.7 132.4l2.2 -0.6l-0.2 1.7zM57.8 132.4l2.2 -0.5l-0.3 1.7zM62.0 132.4l2.2 -0.5l-0.3 1.7zM66.2 132.3l2.2 -0.5l-0.3 1.7zM70.3 132.3l2.2 -0.5l-0.3 1.7zM74.5 132.3l2.2 -0.5l-0.3 1.7zM78.7 132.3l2.2 -0.5l-0.3 1.7zM82.8 132.3l2.2 -0.5l-0.3 1.7zM87.0 132.3l2.2 -0.5l-0.3 1.7zM91.2 132.4l2.2 -0.5l-0.3 1.7zM95.4 132.4l2.2 -0.5l-0.3 1.7zM99.6 132.5l2.2 -0.5l-0.3 1.7zM103.8 132.5l2.2 -0.6l-0.2 1.7zM108.1 132.6l2.2 -0.6l-0.2 1.7zM112.3 132.7l2.2 -0.7l-0.2 1.7zM116.6 132.8l2.2 -0.7l-0.1 1.7zM120.8 132.8l2.2 -0.7l-0.1 1.7zM125.1 132.9l2.2 -0.8l-0.1 1.7zM129.4 133.0l2.1 -0.8l-0.0 1.7zM133.7 133.0l2.1 -0.8l-0.0 1.7zM138.0 133.0l2.1 -0.9l-0.0 1.7zM142.4 133.1l2.1 -0.9l-0.0 1.7zM146.7 133.0l2.1 -0.9l-0.0 1.7zM151.2 133.0l2.1 -0.9l-0.0 1.7zM155.6 133.0l2.1 -0.8l-0.0 1.7zM160.0 133.0l2.1 -0.8l-0.0 1.7zM0.0 128.3l2.2 -0.7l-0.1 1.7zM4.1 128.3l2.2 -0.7l-0.1 1.7zM8.2 128.3l2.2 -0.7l-0.1 1.7zM12.3 128.3l2.2 -0.7l-0.1 1.7zM16.4 128.3l2.2 -0.7l-0.1 1.7zM20.5 128.3l2.2 -0.7l-0.1 1.7zM24.6 128.2l2.2 -0.7l-0.1 1.7zM28.7 128.2l2.2 -0.7l-0.1 1.7zM32.8 128.2l2.2 -0.7l-0.2 1.7zM37.0 128.1l2.2 -0.7l-0.2 1.7zM41.1 128.1l2.2 -0.6l-0.2 1.7zM45.3 128.1l2.2 -0.6l-0.2 1.7zM49.4 128.0l2.2 -0.6l-0.2 1.7zM53.6 128.0l2.2 -0.6l-0.2 1.7zM57.7 127.9l2.2 -0.6l-0.2 1.7zM61.9 127.9l2.2 -0.5l-0.3 1.7zM66.1 127.9l2.2 -0.5l-0.3 1.7zM70.2 127.9l2.2 -0.5l-0.3 1.7zM74.4 127.9l2.2 -0.5l-0.3 1.7zM78.6 127.9l2.2 -0.5l-0.3 1.7zM82.8 127.9l2.2 -0.5l-0.3 1.7zM87.0 127.9l2.2 -0.5l-0.3 1.7zM91.2 128.0l2.2 -0.5l-0.3 1.7zM95.4 128.0l2.2 -0.6l-0.2 1.7zM99.6 128.1l2.2 -0.6l-0.2 1.7zM103.8 128.2l2.2 -0.7l-0.2 1.7zM108.1 128.3l2.2 -0.7l-0.1 1.7zM112.3 128.4l2.2 -0.8l-0.1 1.7zM116.6 128.5l2.1 -0.8l-0.0 1.7zM120.8 128.6l2.1 -0.9l0.0 1.7zM125.1 128.7l2.1 -0.9l0.1 1.7zM129.4 128.7l2.1 -1.0l0.1 1.7zM133.7 128.8l2.1 -1.0l0.1 1.7zM138.0 128.8l2.0 -1.0l0.1 1.7zM142.3 128.8l2.0 -1.0l0.1 1.7zM146.7 128.7l2.1 -1.0l0.1 1.7zM151.0 128.7l2.1 -1.0l0.1 1.7zM155.4 128.7l2.1 -1.0l0.1 1.7zM159.8 128.7l2.1 -1.0l0.1 1.7zM-0.1 123.8l2.2 -0.7l-0.1 1.7zM4.0 123.8l2.2 -0.7l-0.1 1.7zM8.1 123.8l2.2 -0.7l-0.1 1.7zM12.2 123.8l2.2 -0.7l-0.1 1.7zM16.3 123.8l2.2 -0.7l-0.1 1.7zM20.4 123.8l2.2 -0.7l-0.1 1.7zM24.5 123.8l2.2 -0.7l-0.1 1.7zM28.6 123.8l2.2 -0.7l-0.1 1.7zM32.8 123.7l2.2 -0.7l-0.1 1.7zM36.9 123.7l2.2 -0.7l-0.1 1.7zM41.0 123.7l2.2 -0.7l-0.2 1.7zM45.2 123.6l2.2 -0.7l-0.2 1.7zM49.4 123.6l2.2 -0.6l-0.2 1.7zM53.5 123.6l2.2 -0.6l-0.2 1.7zM57.7 123.5l2.2 -0.6l-0.2 1.7zM61.8 123.5l2.2 -0.6l-0.2 1.7zM66.0 123.5l2.2 -0.6l-0.2 1.7zM70.2 123.5l2.2 -0.6l-0.2 1.7zM74.4 123.5l2.2 -0.6l-0.2 1.7zM78.6 123.5l2.2 -0.6l-0.2 1.7zM82.8 123.5l2.2 -0.6l-0.2 1.7zM87.0 123.6l2.2 -0.6l-0.2 1.7zM91.2 123.7l2.2 -0.6l-0.2 1.7zM95.5 123.8l2.2 -0.7l-0.1 1.7zM99.7 123.9l2.2 -0.7l-0.1 1.7zM104.0 124.0l2.1 -0.8l-0.0 1.7zM108.2 124.1l2.1 -0.9l0.0 1.7zM112.5 124.3l2.1 -1.0l0.1 1.7zM116.7 124.4l2.0 -1.0l0.1 1.7zM121.0 124.5l2.0 -1.1l0.2 1.7zM125.3 124.6l2.0 -1.2l0.3 1.7zM129.5 124.6l1.9 -1.2l0.3 1.7zM133.8 124.6l1.9 -1.3l0.3 1.7zM138.1 124.6l1.9 -1.3l0.3 1.7zM142.4 124.6l1.9 -1.3l0.3 1.7zM146.7 124.5l1.9 -1.2l0.3 1.7zM151.1 124.4l1.9 -1.2l0.3 1.7zM155.4 124.4l2.0 -1.2l0.3 1.7zM159.8 124.4l1.9 -1.2l0.3 1.7zM-0.1 119.3l2.2 -0.7l-0.1 1.7zM3.9 119.3l2.2 -0.7l-0.1 1.7zM8.0 119.3l2.2 -0.7l-0.1 1.7zM12.1 119.3l2.2 -0.7l-0.1 1.7zM16.2 119.3l2.2 -0.7l-0.1 1.7zM20.3 119.3l2.2 -0.7l-0.1 1.7zM24.5 119.3l2.2 -0.7l-0.1 1.7zM28.6 119.3l2.2 -0.7l-0.1 1.7zM32.7 119.3l2.2 -0.7l-0.1 1.7zM36.9 119.3l2.2 -0.7l-0.1 1.7zM41.0 119.3l2.2 -0.7l-0.1 1.7zM45.1 119.2l2.2 -0.7l-0.1 1.7zM49.3 119.2l2.2 -0.7l-0.1 1.7zM53.5 119.2l2.2 -0.7l-0.2 1.7zM57.6 119.2l2.2 -0.7l-0.2 1.7zM61.8 119.1l2.2 -0.6l-0.2 1.7zM66.0 119.1l2.2 -0.6l-0.2 1.7zM70.2 119.1l2.2 -0.6l-0.2 1.7zM74.4 119.2l2.2 -0.6l-0.2 1.7zM78.6 119.2l2.2 -0.7l-0.2 1.7zM82.9 119.3l2.2 -0.7l-0.1 1.7zM87.1 119.4l2.2 -0.7l-0.1 1.7zM91.4 119.5l2.1 -0.8l-0.1 1.7zM95.7 119.6l2.1 -0.9l0.0 1.7zM99.9 119.8l2.1 -1.0l0.1 1.7zM104.2 119.9l2.0 -1.1l0.2 1.7zM108.5 120.1l2.0 -1.2l0.2 1.7zM112.8 120.2l1.9 -1.3l0.3 1.7zM117.0 120.4l1.9 -1.3l0.4 1.7zM121.3 120.5l1.8 -1.4l0.5 1.7zM125.5 120.5l1.7 -1.5l0.5 1.6zM129.8 120.6l1.7 -1.5l0.6 1.6zM134.0 120.6l1.7 -1.6l0.6 1.6zM138.3 120.5l1.7 -1.5l0.6 1.6zM142.6 120.4l1.7 -1.5l0.6 1.6zM146.9 120.3l1.8 -1.5l0.5 1.7zM151.2 120.2l1.8 -1.4l0.5 1.7zM155.6 120.1l1.8 -1.4l0.5 1.7zM159.9 120.1l1.8 -1.4l0.5 1.7zM-0.1 114.8l2.2 -0.7l-0.1 1.7zM4.0 114.9l2.2 -0.7l-0.1 1.7zM8.1 114.9l2.2 -0.7l-0.1 1.7zM12.1 114.9l2.2 -0.7l-0.1 1.7zM16.2 114.9l2.2 -0.7l-0.1 1.7zM20.4 114.9l2.2 -0.8l-0.1 1.7zM24.5 114.9l2.2 -0.8l-0.1 1.7zM28.6 114.9l2.2 -0.8l-0.1 1.7zM32.7 114.9l2.2 -0.8l-0.1 1.7zM36.9 114.9l2.2 -0.7l-0.1 1.7zM41.0 114.9l2.2 -0.7l-0.1 1.7zM45.1 114.9l2.2 -0.7l-0.1 1.7zM49.3 114.8l2.2 -0.7l-0.1 1.7zM53.5 114.8l2.2 -0.7l-0.1 1.7zM57.6 114.8l2.2 -0.7l-0.1 1.7zM61.8 114.8l2.2 -0.7l-0.1 1.7zM66.0 114.8l2.2 -0.7l-0.1 1.7zM70.2 114.8l2.2 -0.7l-0.1 1.7zM74.5 114.9l2.2 -0.7l-0.1 1.7zM78.7 115.0l2.2 -0.8l-0.1 1.7zM83.0 115.1l2.1 -0.8l-0.0 1.7zM87.3 115.2l2.1 -0.9l0.0 1.7zM91.6 115.4l2.1 -1.0l0.1 1.7zM95.9 115.6l2.0 -1.1l0.2 1.7zM100.2 115.8l1.9 -1.3l0.3 1.7zM104.5 116.0l1.8 -1.4l0.4 1.7zM108.8 116.1l1.7 -1.5l0.5 1.6zM113.1 116.3l1.7 -1.6l0.6 1.6zM117.3 116.4l1.6 -1.7l0.7 1.6zM121.5 116.5l1.5 -1.7l0.8 1.6zM125.8 116.5l1.5 -1.8l0.8 1.5zM130.0 116.5l1.4 -1.8l0.8 1.5zM134.3 116.4l1.4 -1.8l0.8 1.5zM138.5 116.3l1.5 -1.8l0.8 1.5zM142.8 116.1l1.5 -1.7l0.7 1.6zM147.1 115.9l1.6 -1.6l0.7 1.6zM151.4 115.8l1.7 -1.6l0.6 1.6zM155.7 115.7l1.7 -1.5l0.6 1.6zM160.0 115.7l1.6 -1.6l0.6 1.6zM-0.0 110.3l2.2 -0.7l-0.1 1.7zM4.1 110.4l2.2 -0.7l-0.1 1.7zM8.1 110.4l2.2 -0.7l-0.1 1.7zM12.2 110.4l2.2 -0.7l-0.1 1.7zM16.3 110.4l2.2 -0.8l-0.1 1.7zM20.4 110.4l2.2 -0.8l-0.1 1.7zM24.5 110.4l2.2 -0.8l-0.1 1.7zM28.7 110.4l2.2 -0.8l-0.1 1.7zM32.8 110.5l2.2 -0.8l-0.1 1.7zM36.9 110.5l2.2 -0.8l-0.1 1.7zM41.1 110.5l2.2 -0.8l-0.1 1.7zM45.2 110.5l2.2 -0.8l-0.1 1.7zM49.4 110.5l2.2 -0.8l-0.1 1.7zM53.5 110.5l2.2 -0.8l-0.1 1.7zM57.7 110.5l2.2 -0.8l-0.1 1.7zM61.9 110.5l2.2 -0.8l-0.1 1.7zM66.1 110.5l2.1 -0.8l-0.1 1.7zM70.3 110.6l2.1 -0.8l-0.0 1.7zM74.6 110.7l2.1 -0.9l-0.0 1.7zM78.9 110.8l2.1 -0.9l0.1 1.7zM83.2 110.9l2.0 -1.0l0.1 1.7zM87.6 111.1l2.0 -1.1l0.2 1.7zM91.9 111.4l1.9 -1.3l0.4 1.7zM96.2 111.6l1.8 -1.4l0.5 1.7zM100.5 111.8l1.7 -1.5l0.6 1.6zM104.8 111.9l1.6 -1.7l0.7 1.6zM109.1 112.1l1.5 -1.7l0.8 1.5zM113.3 112.2l1.4 -1.8l0.9 1.5zM117.5 112.3l1.3 -1.9l0.9 1.5zM121.8 112.3l1.3 -1.9l1.0 1.4zM126.0 112.3l1.2 -1.9l1.0 1.4zM130.2 112.3l1.2 -1.9l1.0 1.4zM134.4 112.2l1.2 -1.9l1.0 1.4zM138.7 111.9l1.3 -1.9l0.9 1.5zM143.0 111.7l1.5 -1.8l0.8 1.5zM147.2 111.4l1.6 -1.6l0.7 1.6zM151.5 111.2l1.7 -1.5l0.6 1.6zM155.8 111.2l1.7 -1.5l0.6 1.6zM160.0 111.2l1.6 -1.6l0.7 1.6zM0.2 105.8l2.2 -0.7l-0.1 1.7zM4.2 105.9l2.2 -0.7l-0.1 1.7zM8.3 105.9l2.2 -0.7l-0.1 1.7zM12.4 105.9l2.2 -0.7l-0.1 1.7zM16.5 105.9l2.2 -0.8l-0.1 1.7zM20.6 106.0l2.2 -0.8l-0.1 1.7zM24.7 106.0l2.2 -0.8l-0.1 1.7zM28.8 106.0l2.2 -0.8l-0.1 1.7zM32.9 106.0l2.1 -0.8l-0.1 1.7zM37.1 106.0l2.1 -0.8l-0.1 1.7zM41.2 106.1l2.1 -0.8l-0.0 1.7zM45.3 106.1l2.1 -0.8l-0.0 1.7zM49.5 106.1l2.1 -0.8l-0.0 1.7zM53.7 106.1l2.1 -0.8l-0.0 1.7zM57.9 106.1l2.1 -0.8l-0.0 1.7zM62.1 106.1l2.1 -0.9l-0.0 1.7zM66.3 106.2l2.1 -0.9l0.0 1.7zM70.5 106.3l2.1 -0.9l0.0 1.7zM74.8 106.4l2.1 -1.0l0.1 1.7zM79.1 106.6l2.0 -1.1l0.2 1.7zM83.5 106.8l1.9 -1.2l0.3 1.7zM87.8 107.0l1.9 -1.3l0.4 1.7zM92.2 107.2l1.7 -1.5l0.6 1.6zM96.5 107.4l1.6 -1.6l0.7 1.6zM100.8 107.6l1.5 -1.7l0.8 1.5zM105.0 107.7l1.4 -1.8l0.9 1.5zM109.3 107.9l1.3 -1.9l1.0 1.4zM113.5 107.9l1.2 -1.9l1.0 1.4zM117.7 108.0l1.2 -2.0l1.1 1.4zM121.9 108.0l1.1 -2.0l1.1 1.4zM126.1 108.0l1.1 -2.0l1.1 1.3zM130.3 107.9l1.1 -2.0l1.1 1.4zM134.5 107.7l1.2 -2.0l1.0 1.4zM138.8 107.4l1.3 -1.9l0.9 1.5zM143.1 107.0l1.5 -1.7l0.8 1.6zM147.3 106.7l1.8 -1.5l0.5 1.7zM151.6 106.5l1.9 -1.3l0.4 1.7zM155.8 106.5l1.9 -1.3l0.3 1.7zM160.1 106.6l1.8 -1.4l0.5 1.7zM0.4 101.3l2.2 -0.7l-0.2 1.7zM4.5 101.3l2.2 -0.7l-0.2 1.7zM8.5 101.4l2.2 -0.7l-0.1 1.7zM12.6 101.4l2.2 -0.7l-0.1 1.7zM16.7 101.5l2.2 -0.7l-0.1 1.7zM20.8 101.5l2.2 -0.8l-0.1 1.7zM24.9 101.5l2.2 -0.8l-0.1 1.7zM29.0 101.6l2.1 -0.8l-0.0 1.7zM33.1 101.6l2.1 -0.8l-0.0 1.7zM37.3 101.6l2.1 -0.8l-0.0 1.7zM41.4 101.7l2.1 -0.9l-0.0 1.7zM45.6 101.7l2.1 -0.9l0.0 1.7zM49.7 101.7l2.1 -0.9l0.0 1.7zM53.9 101.7l2.1 -0.9l0.0 1.7zM58.1 101.8l2.1 -0.9l0.0 1.7zM62.3 101.8l2.1 -0.9l0.0 1.7zM66.5 101.9l2.1 -1.0l0.1 1.7zM70.8 102.0l2.1 -1.0l0.1 1.7zM75.1 102.1l2.0 -1.1l0.2 1.7zM79.4 102.3l1.9 -1.2l0.3 1.7zM83.8 102.5l1.8 -1.4l0.4 1.7zM88.1 102.7l1.7 -1.5l0.6 1.6zM92.4 102.9l1.6 -1.6l0.7 1.6zM96.7 103.1l1.5 -1.8l0.8 1.5zM101.0 103.3l1.3 -1.9l0.9 1.5zM105.2 103.4l1.2 -1.9l1.0 1.4zM109.4 103.5l1.2 -2.0l1.0 1.4zM113.6 103.6l1.1 -2.0l1.1 1.4zM117.8 103.6l1.1 -2.0l1.1 1.3zM122.0 103.6l1.0 -2.0l1.1 1.3zM126.1 103.6l1.0 -2.0l1.1 1.3zM130.4 103.5l1.1 -2.0l1.1 1.3zM134.6 103.2l1.2 -2.0l1.0 1.4zM138.9 102.8l1.4 -1.8l0.9 1.5zM143.2 102.3l1.7 -1.5l0.6 1.6zM147.4 101.9l2.0 -1.1l0.2 1.7zM151.7 101.6l2.2 -0.8l-0.1 1.7zM155.9 101.6l2.2 -0.8l-0.1 1.7zM160.1 101.8l2.0 -1.0l0.1 1.7zM0.7 96.7l2.2 -0.6l-0.2 1.7zM4.7 96.8l2.2 -0.6l-0.2 1.7zM8.8 96.8l2.2 -0.7l-0.2 1.7zM12.9 96.9l2.2 -0.7l-0.1 1.7zM16.9 97.0l2.2 -0.7l-0.1 1.7zM21.0 97.0l2.2 -0.8l-0.1 1.7zM25.1 97.1l2.1 -0.8l-0.0 1.7zM29.3 97.2l2.1 -0.8l-0.0 1.7zM33.4 97.2l2.1 -0.9l0.0 1.7zM37.5 97.3l2.1 -0.9l0.0 1.7zM41.7 97.3l2.1 -0.9l0.0 1.7zM45.9 97.4l2.1 -0.9l0.1 1.7zM50.0 97.4l2.1 -1.0l0.1 1.7zM54.2 97.4l2.1 -1.0l0.1 1.7zM58.4 97.5l2.1 -1.0l0.1 1.7zM62.6 97.5l2.0 -1.0l0.1 1.7zM66.9 97.6l2.0 -1.1l0.2 1.7zM71.1 97.7l2.0 -1.1l0.2 1.7zM75.4 97.8l1.9 -1.2l0.3 1.7zM79.7 98.0l1.9 -1.3l0.4 1.7zM84.1 98.2l1.7 -1.5l0.5 1.6zM88.4 98.4l1.6 -1.6l0.7 1.6zM92.6 98.6l1.5 -1.8l0.8 1.5zM96.9 98.8l1.3 -1.9l0.9 1.5zM101.1 98.9l1.2 -1.9l1.0 1.4zM105.3 99.0l1.2 -2.0l1.1 1.4zM109.5 99.1l1.1 -2.0l1.1 1.3zM113.7 99.1l1.0 -2.0l1.1 1.3zM117.8 99.2l1.0 -2.1l1.1 1.3zM122.0 99.2l1.0 -2.1l1.2 1.3zM126.2 99.1l1.0 -2.1l1.2 1.3zM130.4 98.9l1.1 -2.0l1.1 1.3zM134.7 98.5l1.3 -1.9l1.0 1.4zM139.0 98.0l1.6 -1.6l0.7 1.6zM143.3 97.4l2.0 -1.1l0.2 1.7zM147.6 96.9l2.3 -0.4l-0.4 1.7zM151.8 96.7l2.3 0.0l-0.7 1.6zM156.0 96.7l2.3 0.0l-0.7 1.6zM160.2 96.9l2.3 -0.3l-0.4 1.7zM1.0 92.1l2.2 -0.4l-0.3 1.7zM5.1 92.2l2.2 -0.5l-0.3 1.7zM9.1 92.3l2.2 -0.6l-0.2 1.7zM13.2 92.4l2.2 -0.6l-0.2 1.7zM17.2 92.5l2.2 -0.7l-0.1 1.7zM21.3 92.6l2.2 -0.8l-0.1 1.7zM25.4 92.7l2.1 -0.8l-0.0 1.7zM29.6 92.8l2.1 -0.9l0.0 1.7zM33.7 92.9l2.1 -1.0l0.1 1.7zM37.9 93.0l2.1 -1.0l0.1 1.7zM42.0 93.0l2.0 -1.0l0.1 1.7zM46.2 93.1l2.0 -1.1l0.2 1.7zM50.4 93.1l2.0 -1.1l0.2 1.7zM54.6 93.2l2.0 -1.1l0.2 1.7zM58.8 93.2l2.0 -1.2l0.2 1.7zM63.1 93.3l2.0 -1.2l0.3 1.7zM67.3 93.3l1.9 -1.2l0.3 1.7zM71.6 93.4l1.9 -1.3l0.4 1.7zM75.8 93.5l1.8 -1.4l0.4 1.7zM80.1 93.7l1.7 -1.5l0.6 1.6zM84.4 93.8l1.6 -1.6l0.7 1.6zM88.6 94.0l1.5 -1.7l0.8 1.5zM92.9 94.2l1.4 -1.8l0.9 1.5zM97.1 94.3l1.2 -1.9l1.0 1.4zM101.3 94.5l1.2 -2.0l1.1 1.4zM105.4 94.6l1.1 -2.0l1.1 1.3zM109.6 94.6l1.0 -2.0l1.1 1.3zM113.8 94.7l1.0 -2.1l1.2 1.3zM117.9 94.7l1.0 -2.1l1.2 1.3zM122.1 94.7l1.0 -2.1l1.2 1.3zM126.3 94.6l1.0 -2.1l1.2 1.3zM130.5 94.3l1.1 -2.0l1.1 1.4zM134.8 93.8l1.4 -1.8l0.9 1.5zM139.1 93.0l1.9 -1.2l0.3 1.7zM143.4 92.4l2.3 -0.3l-0.5 1.7zM147.7 91.9l2.2 0.5l-1.0 1.4zM152.0 91.7l2.1 0.8l-1.2 1.3zM156.2 91.7l2.1 0.8l-1.2 1.3zM160.3 92.0l2.2 0.5l-1.0 1.4zM1.3 87.4l2.3 -0.3l-0.5 1.7zM5.3 87.5l2.3 -0.4l-0.4 1.7zM9.4 87.6l2.2 -0.5l-0.3 1.7zM13.4 87.8l2.2 -0.6l-0.2 1.7zM17.5 88.0l2.2 -0.7l-0.2 1.7zM21.6 88.1l2.2 -0.8l-0.1 1.7zM25.7 88.3l2.1 -0.9l0.0 1.7zM29.8 88.4l2.1 -1.0l0.1 1.7zM34.0 88.6l2.0 -1.1l0.2 1.7zM38.2 88.7l2.0 -1.1l0.2 1.7zM42.4 88.8l1.9 -1.2l0.3 1.7zM46.6 88.9l1.9 -1.3l0.3 1.7zM50.8 89.0l1.9 -1.3l0.4 1.7zM55.0 89.0l1.8 -1.4l0.4 1.7zM59.3 89.1l1.8 -1.4l0.5 1.7zM63.5 89.1l1.8 -1.4l0.5 1.7zM67.8 89.1l1.8 -1.5l0.5 1.7zM72.0 89.2l1.7 -1.5l0.6 1.6zM76.2 89.2l1.6 -1.6l0.6 1.6zM80.5 89.3l1.6 -1.7l0.7 1.6zM84.7 89.5l1.5 -1.8l0.8 1.5zM88.9 89.6l1.4 -1.8l0.9 1.5zM93.1 89.8l1.3 -1.9l1.0 1.4zM97.2 89.9l1.2 -2.0l1.0 1.4zM101.4 90.0l1.1 -2.0l1.1 1.4zM105.5 90.1l1.1 -2.0l1.1 1.3zM109.7 90.1l1.0 -2.1l1.1 1.3zM113.8 90.2l1.0 -2.1l1.2 1.3zM118.0 90.2l1.0 -2.1l1.2 1.3zM122.2 90.1l1.0 -2.1l1.2 1.3zM126.4 90.0l1.0 -2.0l1.1 1.3zM130.6 89.6l1.2 -1.9l1.0 1.4zM134.9 88.9l1.7 -1.5l0.6 1.6zM139.3 88.0l2.2 -0.5l-0.3 1.7zM143.6 87.3l2.2 0.6l-1.1 1.4zM147.9 86.9l2.0 1.1l-1.4 1.1zM152.2 86.8l1.9 1.3l-1.5 0.9zM156.3 86.8l1.9 1.3l-1.5 0.9zM160.5 87.1l2.0 1.2l-1.4 1.1zM1.5 82.7l2.3 -0.0l-0.6 1.6zM5.5 82.8l2.3 -0.2l-0.5 1.6zM9.5 83.0l2.3 -0.3l-0.4 1.7zM13.5 83.2l2.2 -0.5l-0.3 1.7zM17.6 83.4l2.2 -0.6l-0.2 1.7zM21.7 83.7l2.2 -0.8l-0.1 1.7zM25.8 83.9l2.1 -0.9l0.1 1.7zM30.0 84.1l2.0 -1.1l0.2 1.7zM34.2 84.3l1.9 -1.2l0.3 1.7zM38.4 84.5l1.9 -1.3l0.4 1.7zM42.6 84.7l1.8 -1.4l0.5 1.7zM46.9 84.8l1.7 -1.5l0.6 1.6zM51.1 84.9l1.7 -1.6l0.6 1.6zM55.4 84.9l1.6 -1.6l0.7 1.6zM59.7 84.9l1.6 -1.7l0.7 1.6zM63.9 85.0l1.5 -1.7l0.8 1.6zM68.2 85.0l1.5 -1.7l0.8 1.5zM72.4 85.0l1.5 -1.8l0.8 1.5zM76.6 85.0l1.4 -1.8l0.9 1.5zM80.8 85.0l1.4 -1.8l0.9 1.5zM85.0 85.1l1.3 -1.9l0.9 1.5zM89.1 85.2l1.3 -1.9l1.0 1.4zM93.3 85.2l1.2 -2.0l1.0 1.4zM97.4 85.3l1.1 -2.0l1.1 1.4zM101.5 85.4l1.1 -2.0l1.1 1.3zM105.6 85.5l1.1 -2.0l1.1 1.3zM109.8 85.5l1.0 -2.0l1.1 1.3zM113.9 85.6l1.0 -2.1l1.2 1.3zM118.1 85.6l1.0 -2.1l1.2 1.3zM122.2 85.5l1.0 -2.1l1.2 1.3zM126.4 85.3l1.1 -2.0l1.1 1.4zM130.7 84.8l1.4 -1.8l0.9 1.5zM135.1 83.9l2.0 -1.0l0.1 1.7zM139.5 83.0l2.3 0.4l-0.9 1.5zM143.8 82.4l2.0 1.2l-1.4 1.0zM148.1 82.1l1.7 1.5l-1.5 0.8zM152.3 81.9l1.7 1.6l-1.6 0.7zM156.5 82.0l1.7 1.6l-1.6 0.7zM160.6 82.3l1.7 1.5l-1.6 0.8zM1.6 77.9l2.3 0.2l-0.8 1.5zM5.6 78.1l2.3 0.0l-0.7 1.6zM9.5 78.3l2.3 -0.2l-0.5 1.6zM13.5 78.5l2.3 -0.4l-0.4 1.7zM17.6 78.8l2.2 -0.6l-0.2 1.7zM21.7 79.2l2.2 -0.8l-0.1 1.7zM25.8 79.5l2.1 -1.0l0.1 1.7zM30.0 79.8l2.0 -1.2l0.3 1.7zM34.2 80.1l1.8 -1.4l0.4 1.7zM38.5 80.3l1.7 -1.5l0.6 1.6zM42.8 80.5l1.6 -1.6l0.7 1.6zM47.1 80.7l1.5 -1.7l0.8 1.6zM51.4 80.8l1.4 -1.8l0.9 1.5zM55.7 80.8l1.3 -1.9l0.9 1.5zM60.0 80.8l1.3 -1.9l1.0 1.4zM64.2 80.8l1.2 -1.9l1.0 1.4zM68.5 80.8l1.2 -2.0l1.0 1.4zM72.7 80.7l1.2 -2.0l1.0 1.4zM76.8 80.7l1.2 -1.9l1.0 1.4zM81.0 80.6l1.2 -1.9l1.0 1.4zM85.1 80.6l1.2 -1.9l1.0 1.4zM89.2 80.6l1.3 -1.9l1.0 1.4zM93.3 80.7l1.2 -1.9l1.0 1.4zM97.4 80.7l1.2 -1.9l1.0 1.4zM101.5 80.7l1.2 -1.9l1.0 1.4zM105.6 80.8l1.2 -2.0l1.0 1.4zM109.8 80.8l1.2 -2.0l1.0 1.4zM113.9 80.9l1.1 -2.0l1.1 1.4zM118.1 80.9l1.1 -2.0l1.1 1.4zM122.2 80.8l1.1 -2.0l1.1 1.4zM126.5 80.5l1.3 -1.9l1.0 1.4zM130.8 79.9l1.7 -1.5l0.6 1.6zM135.2 78.9l2.3 -0.3l-0.5 1.7zM139.6 78.0l2.0 1.0l-1.3 1.1zM144.0 77.5l1.7 1.5l-1.5 0.8zM148.2 77.3l1.6 1.7l-1.6 0.6zM152.4 77.2l1.5 1.7l-1.6 0.6zM156.6 77.3l1.5 1.7l-1.6 0.6zM160.7 77.5l1.6 1.7l-1.6 0.6zM1.7 73.1l2.2 0.4l-0.9 1.5zM5.6 73.3l2.3 0.2l-0.8 1.5zM9.5 73.5l2.3 0.0l-0.7 1.6zM13.5 73.9l2.3 -0.2l-0.5 1.7zM17.5 74.3l2.2 -0.5l-0.3 1.7zM21.6 74.7l2.2 -0.8l-0.1 1.7zM25.7 75.1l2.0 -1.0l0.1 1.7zM29.9 75.5l1.9 -1.3l0.3 1.7zM34.2 75.9l1.8 -1.5l0.5 1.7zM38.5 76.2l1.6 -1.6l0.7 1.6zM42.8 76.4l1.4 -1.8l0.8 1.5zM47.2 76.6l1.3 -1.9l1.0 1.4zM51.5 76.7l1.2 -2.0l1.0 1.4zM55.8 76.7l1.1 -2.0l1.1 1.3zM60.1 76.7l1.0 -2.1l1.2 1.3zM64.4 76.6l1.0 -2.1l1.2 1.3zM68.6 76.5l1.0 -2.1l1.2 1.3zM72.8 76.4l1.0 -2.0l1.1 1.3zM76.9 76.3l1.1 -2.0l1.1 1.4zM81.0 76.2l1.2 -1.9l1.0 1.4zM85.0 76.1l1.3 -1.9l0.9 1.5zM89.1 76.1l1.4 -1.8l0.9 1.5zM93.2 76.0l1.4 -1.8l0.9 1.5zM97.3 76.0l1.4 -1.8l0.9 1.5zM101.4 76.0l1.4 -1.8l0.9 1.5zM105.5 76.1l1.4 -1.8l0.9 1.5zM109.6 76.1l1.4 -1.8l0.9 1.5zM113.8 76.1l1.4 -1.8l0.9 1.5zM118.0 76.1l1.4 -1.8l0.9 1.5zM122.2 76.0l1.4 -1.8l0.9 1.5zM126.4 75.7l1.5 -1.7l0.8 1.6zM130.8 75.0l2.0 -1.2l0.2 1.7zM135.3 74.0l2.3 0.3l-0.9 1.5zM139.7 73.3l1.9 1.3l-1.5 0.9zM144.0 72.8l1.6 1.6l-1.6 0.7zM148.3 72.6l1.5 1.7l-1.6 0.6zM152.4 72.6l1.4 1.8l-1.7 0.5zM156.6 72.6l1.4 1.8l-1.7 0.5zM160.8 72.9l1.5 1.8l-1.7 0.5zM1.7 68.2l2.2 0.6l-1.1 1.4zM5.5 68.5l2.3 0.4l-0.9 1.5zM9.4 68.8l2.3 0.2l-0.8 1.6zM13.4 69.2l2.3 -0.1l-0.6 1.6zM17.3 69.6l2.2 -0.4l-0.3 1.7zM21.4 70.2l2.2 -0.8l-0.1 1.7zM25.5 70.7l2.0 -1.1l0.2 1.7zM29.8 71.2l1.8 -1.4l0.4 1.7zM34.1 71.7l1.6 -1.6l0.6 1.6zM38.4 72.0l1.5 -1.8l0.8 1.5zM42.8 72.3l1.3 -1.9l1.0 1.4zM47.2 72.4l1.1 -2.0l1.1 1.3zM51.6 72.5l1.0 -2.1l1.2 1.3zM55.9 72.5l0.9 -2.1l1.2 1.2zM60.2 72.5l0.8 -2.1l1.3 1.2zM64.4 72.3l0.8 -2.1l1.3 1.2zM68.6 72.2l0.9 -2.1l1.2 1.2zM72.7 72.0l1.0 -2.1l1.2 1.3zM76.8 71.8l1.1 -2.0l1.1 1.4zM80.9 71.7l1.3 -1.9l1.0 1.4zM84.9 71.6l1.4 -1.8l0.9 1.5zM89.0 71.5l1.5 -1.8l0.8 1.5zM93.0 71.4l1.5 -1.7l0.8 1.6zM97.1 71.4l1.6 -1.7l0.7 1.6zM101.2 71.4l1.6 -1.7l0.7 1.6zM105.3 71.4l1.6 -1.7l0.7 1.6zM109.5 71.4l1.6 -1.7l0.7 1.6zM113.6 71.4l1.6 -1.7l0.7 1.6zM117.8 71.4l1.6 -1.7l0.7 1.6zM122.0 71.3l1.6 -1.7l0.7 1.6zM126.3 71.1l1.7 -1.5l0.6 1.6zM130.7 70.4l2.1 -0.9l0.0 1.7zM135.2 69.4l2.2 0.5l-1.0 1.4zM139.7 68.7l1.8 1.4l-1.5 0.9zM144.0 68.3l1.6 1.7l-1.6 0.6zM148.3 68.1l1.5 1.8l-1.7 0.5zM152.5 68.0l1.4 1.8l-1.7 0.5zM156.6 68.1l1.4 1.8l-1.7 0.5zM160.8 68.3l1.4 1.8l-1.7 0.5zM1.7 63.4l2.1 0.8l-1.2 1.3zM5.5 63.6l2.2 0.6l-1.1 1.4zM9.4 63.9l2.3 0.3l-0.9 1.5zM13.2 64.4l2.3 0.0l-0.7 1.6zM17.2 65.0l2.3 -0.4l-0.4 1.7zM21.2 65.7l2.2 -0.8l-0.1 1.7zM25.4 66.3l2.0 -1.1l0.2 1.7zM29.6 67.0l1.8 -1.4l0.5 1.7zM34.0 67.5l1.5 -1.7l0.8 1.6zM38.4 67.9l1.3 -1.9l1.0 1.5zM42.9 68.2l1.1 -2.0l1.1 1.3zM47.3 68.3l0.9 -2.1l1.2 1.2zM51.7 68.4l0.8 -2.2l1.3 1.2zM56.0 68.3l0.7 -2.2l1.3 1.1zM60.3 68.2l0.7 -2.2l1.4 1.1zM64.5 68.0l0.7 -2.2l1.3 1.1zM68.6 67.8l0.8 -2.1l1.3 1.2zM72.7 67.6l1.0 -2.1l1.2 1.3zM76.8 67.4l1.1 -2.0l1.1 1.4zM80.8 67.2l1.3 -1.9l0.9 1.5zM84.8 67.1l1.4 -1.8l0.8 1.5zM88.9 67.0l1.5 -1.7l0.8 1.6zM92.9 66.9l1.6 -1.7l0.7 1.6zM97.0 66.9l1.6 -1.6l0.7 1.6zM101.1 66.8l1.6 -1.6l0.7 1.6zM105.2 66.8l1.6 -1.6l0.6 1.6zM109.4 66.8l1.7 -1.6l0.6 1.6zM113.5 66.8l1.7 -1.6l0.6 1.6zM117.7 66.8l1.7 -1.6l0.6 1.6zM121.9 66.7l1.7 -1.6l0.6 1.6zM126.2 66.5l1.8 -1.4l0.5 1.7zM130.6 65.9l2.1 -0.9l0.0 1.7zM135.2 64.9l2.3 0.4l-0.9 1.5zM139.7 64.2l1.9 1.3l-1.5 0.9zM144.0 63.8l1.6 1.6l-1.6 0.6zM148.3 63.6l1.5 1.8l-1.7 0.5zM152.5 63.5l1.4 1.8l-1.7 0.5zM156.6 63.6l1.4 1.8l-1.7 0.5zM160.8 63.8l1.4 1.8l-1.7 0.5zM1.8 58.5l2.0 1.0l-1.3 1.1zM5.6 58.7l2.1 0.8l-1.2 1.3zM9.4 59.0l2.2 0.5l-1.0 1.4zM13.2 59.6l2.3 0.2l-0.8 1.5zM17.1 60.3l2.3 -0.2l-0.5 1.7zM21.1 61.1l2.2 -0.7l-0.1 1.7zM25.3 62.0l2.0 -1.2l0.3 1.7zM29.6 62.8l1.7 -1.6l0.6 1.6zM34.0 63.4l1.4 -1.8l0.9 1.5zM38.5 63.9l1.1 -2.0l1.1 1.3zM43.0 64.1l0.9 -2.1l1.2 1.2zM47.4 64.3l0.7 -2.2l1.3 1.1zM51.8 64.3l0.5 -2.2l1.4 1.0zM56.2 64.2l0.5 -2.2l1.4 1.0zM60.4 64.0l0.5 -2.2l1.4 1.0zM64.6 63.8l0.5 -2.2l1.4 1.0zM68.7 63.5l0.7 -2.2l1.3 1.1zM72.8 63.2l0.9 -2.1l1.2 1.2zM76.8 63.0l1.1 -2.0l1.1 1.3zM80.8 62.8l1.3 -1.9l1.0 1.4zM84.8 62.6l1.4 -1.8l0.9 1.5zM88.9 62.5l1.5 -1.7l0.8 1.6zM92.9 62.4l1.6 -1.7l0.7 1.6zM97.0 62.4l1.6 -1.6l0.7 1.6zM101.1 62.3l1.7 -1.6l0.6 1.6zM105.2 62.3l1.7 -1.6l0.6 1.6zM109.4 62.3l1.7 -1.6l0.6 1.6zM113.5 62.3l1.7 -1.6l0.6 1.6zM117.7 62.2l1.7 -1.5l0.6 1.6zM121.9 62.2l1.7 -1.5l0.6 1.6zM126.2 61.9l1.8 -1.4l0.4 1.7zM130.6 61.4l2.1 -0.9l-0.0 1.7zM135.1 60.5l2.3 0.3l-0.9 1.5zM139.7 59.7l1.9 1.3l-1.5 1.0zM144.0 59.3l1.6 1.6l-1.6 0.7zM148.3 59.1l1.5 1.8l-1.7 0.5zM152.5 59.1l1.4 1.8l-1.7 0.5zM156.7 59.1l1.4 1.8l-1.7 0.5zM160.8 59.4l1.4 1.8l-1.7 0.5zM2.1 53.5l1.9 1.3l-1.4 1.0zM5.9 53.7l2.0 1.1l-1.3 1.1zM9.6 54.1l2.1 0.8l-1.2 1.3zM13.3 54.7l2.2 0.4l-1.0 1.5zM17.2 55.5l2.3 -0.1l-0.6 1.6zM21.2 56.6l2.2 -0.7l-0.1 1.7zM25.3 57.7l1.9 -1.3l0.3 1.7zM29.7 58.6l1.5 -1.7l0.8 1.6zM34.2 59.4l1.2 -2.0l1.1 1.4zM38.7 59.9l0.8 -2.1l1.3 1.2zM43.2 60.1l0.6 -2.2l1.4 1.0zM47.7 60.2l0.4 -2.3l1.5 0.9zM52.1 60.2l0.3 -2.3l1.5 0.9zM56.4 60.0l0.2 -2.3l1.5 0.8zM60.7 59.8l0.2 -2.3l1.5 0.8zM64.8 59.5l0.3 -2.3l1.5 0.9zM68.9 59.2l0.4 -2.2l1.4 1.0zM73.0 58.9l0.7 -2.2l1.4 1.1zM77.0 58.6l0.9 -2.1l1.2 1.2zM81.0 58.4l1.1 -2.0l1.1 1.4zM85.0 58.2l1.3 -1.9l0.9 1.5zM89.0 58.1l1.4 -1.8l0.8 1.5zM93.0 58.0l1.5 -1.7l0.8 1.6zM97.1 57.9l1.6 -1.6l0.7 1.6zM101.2 57.9l1.6 -1.6l0.7 1.6zM105.3 57.8l1.7 -1.6l0.6 1.6zM109.5 57.8l1.7 -1.6l0.6 1.6zM113.6 57.8l1.7 -1.6l0.6 1.6zM117.8 57.7l1.7 -1.5l0.6 1.6zM122.0 57.6l1.7 -1.5l0.6 1.6zM126.3 57.4l1.8 -1.4l0.4 1.7zM130.7 56.9l2.1 -0.8l-0.0 1.7zM135.2 56.0l2.2 0.4l-1.0 1.4zM139.7 55.3l1.8 1.4l-1.5 0.9zM144.1 54.9l1.6 1.7l-1.6 0.6zM148.3 54.7l1.4 1.8l-1.7 0.5zM152.5 54.6l1.4 1.8l-1.7 0.4zM156.7 54.7l1.4 1.8l-1.7 0.4zM160.9 54.9l1.3 1.9l-1.7 0.4zM2.5 48.6l1.7 1.5l-1.6 0.7zM6.3 48.7l1.8 1.4l-1.5 0.9zM10.1 49.1l2.0 1.2l-1.4 1.0zM13.8 49.8l2.1 0.8l-1.2 1.3zM17.8 50.8l2.3 0.2l-0.8 1.5zM21.8 52.0l2.2 -0.6l-0.2 1.7zM26.0 53.3l1.8 -1.4l0.5 1.7zM30.2 54.5l1.3 -1.9l1.0 1.4zM34.6 55.4l0.8 -2.1l1.3 1.2zM39.1 55.9l0.5 -2.2l1.4 1.0zM43.6 56.2l0.2 -2.3l1.5 0.8zM48.1 56.2l0.1 -2.3l1.6 0.7zM52.5 56.1l-0.0 -2.3l1.6 0.6zM56.8 55.9l-0.1 -2.3l1.6 0.6zM61.0 55.6l-0.1 -2.3l1.6 0.6zM65.2 55.3l-0.0 -2.3l1.6 0.6zM69.3 55.0l0.1 -2.3l1.6 0.7zM73.3 54.7l0.3 -2.3l1.5 0.9zM77.3 54.4l0.5 -2.2l1.4 1.0zM81.3 54.1l0.8 -2.1l1.3 1.2zM85.3 53.9l1.1 -2.0l1.1 1.3zM89.3 53.7l1.3 -1.9l1.0 1.4zM93.3 53.6l1.4 -1.8l0.9 1.5zM97.4 53.5l1.5 -1.7l0.8 1.5zM101.5 53.4l1.6 -1.7l0.7 1.6zM105.6 53.3l1.6 -1.6l0.7 1.6zM109.8 53.3l1.6 -1.6l0.7 1.6zM113.9 53.2l1.6 -1.6l0.6 1.6zM118.2 53.2l1.7 -1.6l0.6 1.6zM122.4 53.1l1.7 -1.5l0.6 1.6zM126.7 52.8l1.9 -1.3l0.4 1.7zM131.1 52.2l2.2 -0.6l-0.2 1.7zM135.6 51.4l2.1 0.9l-1.2 1.2zM140.0 50.8l1.7 1.6l-1.6 0.7zM144.3 50.4l1.4 1.8l-1.7 0.5zM148.5 50.2l1.3 1.9l-1.7 0.4zM152.7 50.2l1.3 1.9l-1.7 0.4zM156.9 50.3l1.3 1.9l-1.7 0.3zM161.1 50.6l1.2 2.0l-1.7 0.3zM3.1 43.7l1.4 1.8l-1.7 0.5zM7.0 43.8l1.5 1.7l-1.6 0.6zM10.9 44.2l1.7 1.6l-1.6 0.7zM14.8 45.0l1.9 1.3l-1.5 0.9zM19.0 46.3l2.2 0.7l-1.1 1.3zM23.2 47.6l2.2 -0.4l-0.3 1.7zM27.3 48.8l1.6 -1.7l0.7 1.6zM31.3 50.1l0.8 -2.2l1.3 1.1zM35.6 51.2l0.3 -2.3l1.5 0.8zM39.9 51.9l-0.0 -2.3l1.6 0.7zM44.3 52.1l-0.2 -2.3l1.7 0.5zM48.7 52.1l-0.3 -2.3l1.7 0.5zM53.0 51.9l-0.4 -2.3l1.7 0.4zM57.2 51.7l-0.4 -2.3l1.7 0.4zM61.5 51.4l-0.4 -2.3l1.7 0.4zM65.6 51.1l-0.4 -2.3l1.7 0.4zM69.7 50.8l-0.3 -2.3l1.7 0.4zM73.8 50.5l-0.2 -2.3l1.7 0.5zM77.8 50.1l0.0 -2.3l1.6 0.7zM81.8 49.8l0.3 -2.3l1.5 0.8zM85.8 49.6l0.5 -2.2l1.4 1.0zM89.8 49.3l0.8 -2.1l1.3 1.2zM93.9 49.2l1.0 -2.1l1.1 1.3zM98.0 49.0l1.2 -2.0l1.0 1.4zM102.1 48.9l1.3 -1.9l0.9 1.5zM106.3 48.8l1.4 -1.8l0.9 1.5zM110.5 48.7l1.4 -1.8l0.8 1.5zM114.7 48.6l1.5 -1.8l0.8 1.5zM119.0 48.5l1.5 -1.8l0.8 1.5zM123.3 48.4l1.5 -1.7l0.8 1.6zM127.6 48.1l1.9 -1.3l0.3 1.7zM132.0 47.4l2.1 0.9l-1.3 1.2zM136.3 46.8l1.3 1.9l-1.7 0.4zM140.5 46.3l1.1 2.0l-1.7 0.2zM144.6 46.0l1.1 2.0l-1.7 0.2zM148.8 45.8l1.1 2.0l-1.7 0.2zM152.9 45.8l1.1 2.0l-1.7 0.2zM157.1 46.0l1.0 2.1l-1.7 0.1zM161.4 46.2l0.8 2.1l-1.7 -0.0zM3.9 39.0l1.1 2.0l-1.7 0.2zM8.0 39.1l1.1 2.0l-1.7 0.2zM12.0 39.5l1.2 2.0l-1.7 0.3zM16.1 40.5l1.3 1.9l-1.7 0.4zM20.3 42.0l1.6 1.7l-1.6 0.6zM28.6 44.1l0.5 -2.2l1.4 1.0zM32.7 45.5l-0.2 -2.3l1.7 0.5zM36.8 46.9l-0.5 -2.2l1.7 0.3zM41.0 47.7l-0.6 -2.2l1.7 0.2zM45.2 47.9l-0.6 -2.2l1.7 0.2zM49.4 47.8l-0.7 -2.2l1.7 0.2zM53.6 47.6l-0.7 -2.2l1.7 0.1zM57.8 47.4l-0.7 -2.2l1.7 0.1zM61.9 47.1l-0.7 -2.2l1.7 0.1zM66.1 46.8l-0.7 -2.2l1.7 0.1zM70.2 46.5l-0.7 -2.2l1.7 0.1zM74.3 46.2l-0.6 -2.2l1.7 0.2zM78.4 45.8l-0.6 -2.2l1.7 0.2zM82.5 45.5l-0.5 -2.2l1.7 0.3zM86.6 45.2l-0.4 -2.3l1.7 0.4zM90.7 44.9l-0.3 -2.3l1.7 0.5zM94.9 44.7l-0.2 -2.3l1.7 0.5zM99.0 44.5l-0.1 -2.3l1.6 0.6zM103.3 44.3l-0.2 -2.3l1.7 0.5zM107.5 44.2l-0.5 -2.2l1.7 0.3zM111.9 44.1l-1.3 -1.9l1.7 -0.4zM120.8 43.6l-2.3 0.4l0.4 -1.7zM125.1 43.4l-2.1 1.0l-0.1 -1.7zM129.3 43.2l-1.8 1.4l-0.5 -1.7zM133.4 42.8l-1.3 1.9l-0.9 -1.5zM137.4 42.4l-0.6 2.2l-1.4 -1.0zM141.3 42.0l0.0 2.3l-1.6 -0.6zM145.3 41.7l0.4 2.3l-1.7 -0.4zM149.3 41.6l0.5 2.2l-1.7 -0.3zM153.4 41.6l0.5 2.2l-1.7 -0.3zM157.7 41.7l0.4 2.3l-1.7 -0.4zM162.0 42.0l0.0 2.3l-1.6 -0.7zM4.8 34.6l0.7 2.2l-1.7 -0.2zM9.0 34.6l0.6 2.2l-1.7 -0.2zM13.2 35.0l0.5 2.2l-1.7 -0.3zM17.4 36.0l0.4 2.3l-1.7 -0.4zM21.4 37.5l0.0 2.3l-1.6 -0.6zM29.6 39.7l-1.9 -1.2l1.4 -1.0zM33.9 41.0l-1.4 -1.8l1.7 -0.5zM38.0 42.4l-1.2 -1.9l1.7 -0.3zM42.1 43.2l-1.1 -2.0l1.7 -0.2zM46.1 43.4l-1.1 -2.0l1.7 -0.2zM50.2 43.3l-1.1 -2.0l1.7 -0.2zM54.3 43.1l-1.0 -2.0l1.7 -0.1zM58.3 42.9l-1.0 -2.1l1.7 -0.1zM62.4 42.6l-1.0 -2.1l1.7 -0.1zM66.6 42.3l-1.0 -2.1l1.7 -0.1zM70.7 42.0l-1.0 -2.1l1.7 -0.1zM74.8 41.7l-1.0 -2.0l1.7 -0.1zM79.0 41.3l-1.1 -2.0l1.7 -0.2zM83.2 41.0l-1.2 -2.0l1.7 -0.3zM87.4 40.6l-1.4 -1.8l1.7 -0.4zM91.7 40.3l-1.6 -1.6l1.6 -0.7zM96.0 40.0l-2.0 -1.2l1.4 -1.0zM100.3 39.7l-2.2 -0.5l1.0 -1.4zM104.7 39.4l-2.3 0.1l0.6 -1.6zM109.0 39.1l-2.2 0.6l0.2 -1.7zM113.2 38.9l-2.1 0.9l-0.0 -1.7zM117.5 38.8l-2.0 1.1l-0.2 -1.7zM121.8 38.7l-1.9 1.2l-0.3 -1.7zM126.0 38.6l-1.9 1.3l-0.4 -1.7zM130.2 38.5l-1.8 1.4l-0.5 -1.7zM134.3 38.3l-1.7 1.6l-0.6 -1.6zM138.2 38.0l-1.4 1.8l-0.9 -1.5zM142.1 37.8l-1.0 2.0l-1.1 -1.3zM146.0 37.5l-0.7 2.2l-1.4 -1.1zM150.0 37.4l-0.4 2.3l-1.5 -0.9zM154.1 37.4l-0.4 2.3l-1.5 -0.9zM158.3 37.6l-0.6 2.2l-1.4 -1.0zM162.6 37.8l-0.9 2.1l-1.2 -1.3zM5.5 30.3l0.3 2.3l-1.7 -0.5zM9.9 30.3l0.1 2.3l-1.6 -0.6zM14.3 30.7l-0.1 2.3l-1.6 -0.7zM18.6 31.6l-0.4 2.2l-1.5 -0.9zM22.8 32.8l-1.0 2.0l-1.1 -1.3zM26.8 34.1l-1.9 1.3l-0.3 -1.7zM31.0 35.4l-2.3 -0.1l0.7 -1.6zM35.2 36.7l-2.1 -1.0l1.3 -1.1zM39.2 37.8l-1.8 -1.4l1.5 -0.8zM43.2 38.5l-1.6 -1.6l1.6 -0.7zM47.0 38.7l-1.5 -1.8l1.7 -0.5zM50.9 38.6l-1.4 -1.8l1.7 -0.4zM54.9 38.5l-1.3 -1.9l1.7 -0.4zM58.9 38.3l-1.3 -1.9l1.7 -0.4zM62.9 38.0l-1.3 -1.9l1.7 -0.3zM67.0 37.7l-1.3 -1.9l1.7 -0.3zM71.1 37.4l-1.3 -1.9l1.7 -0.4zM75.2 37.1l-1.4 -1.8l1.7 -0.4zM79.4 36.7l-1.5 -1.8l1.7 -0.5zM83.7 36.3l-1.7 -1.6l1.6 -0.7zM88.0 35.9l-1.9 -1.2l1.4 -1.0zM92.3 35.5l-2.2 -0.7l1.1 -1.3zM96.7 35.1l-2.3 -0.0l0.7 -1.6zM101.0 34.8l-2.2 0.5l0.3 -1.7zM105.3 34.5l-2.1 0.8l0.0 -1.7zM109.6 34.3l-2.0 1.0l-0.1 -1.7zM113.8 34.2l-2.0 1.2l-0.3 -1.7zM118.1 34.1l-1.9 1.3l-0.3 -1.7zM122.3 34.0l-1.9 1.3l-0.4 -1.7zM126.5 33.9l-1.8 1.4l-0.4 -1.7zM130.6 33.9l-1.8 1.4l-0.5 -1.7zM134.7 33.8l-1.8 1.5l-0.5 -1.7zM138.7 33.7l-1.7 1.6l-0.6 -1.6zM142.7 33.5l-1.5 1.7l-0.8 -1.5zM146.6 33.4l-1.3 1.9l-0.9 -1.5zM150.6 33.3l-1.2 2.0l-1.0 -1.4zM154.7 33.3l-1.2 2.0l-1.1 -1.4zM158.9 33.4l-1.3 1.9l-1.0 -1.4zM163.1 33.6l-1.4 1.8l-0.8 -1.5zM6.1 26.2l-0.1 2.3l-1.6 -0.7zM10.6 26.3l-0.3 2.3l-1.5 -0.9zM15.2 26.7l-0.6 2.2l-1.4 -1.0zM19.6 27.4l-1.0 2.1l-1.2 -1.3zM24.0 28.4l-1.5 1.7l-0.8 -1.5zM28.2 29.6l-2.0 1.1l-0.2 -1.7zM32.3 30.9l-2.3 0.3l0.5 -1.7zM36.3 32.1l-2.2 -0.5l1.0 -1.4zM40.2 33.0l-2.1 -1.0l1.3 -1.2zM43.9 33.5l-1.9 -1.3l1.4 -1.0zM47.7 33.8l-1.8 -1.5l1.5 -0.8zM51.5 33.8l-1.7 -1.6l1.6 -0.7zM55.4 33.7l-1.6 -1.7l1.6 -0.6zM59.3 33.6l-1.5 -1.7l1.6 -0.6zM63.3 33.3l-1.5 -1.7l1.6 -0.5zM67.3 33.1l-1.5 -1.7l1.7 -0.5zM71.4 32.7l-1.5 -1.7l1.6 -0.6zM75.6 32.4l-1.6 -1.6l1.6 -0.7zM79.8 32.0l-1.8 -1.5l1.5 -0.8zM84.1 31.5l-2.0 -1.1l1.4 -1.1zM88.4 31.1l-2.2 -0.6l1.1 -1.4zM92.7 30.7l-2.3 -0.1l0.7 -1.6zM97.0 30.3l-2.2 0.5l0.3 -1.7zM101.3 30.1l-2.1 0.8l0.0 -1.7zM105.6 29.8l-2.0 1.0l-0.1 -1.7zM109.9 29.7l-2.0 1.2l-0.3 -1.7zM114.1 29.6l-1.9 1.3l-0.3 -1.7zM118.3 29.5l-1.9 1.3l-0.4 -1.7zM122.5 29.4l-1.8 1.4l-0.4 -1.7zM126.6 29.4l-1.8 1.4l-0.4 -1.7zM130.8 29.3l-1.8 1.4l-0.5 -1.7zM134.9 29.3l-1.8 1.4l-0.5 -1.7zM139.0 29.2l-1.7 1.5l-0.6 -1.6zM143.0 29.1l-1.7 1.6l-0.6 -1.6zM147.0 29.1l-1.6 1.7l-0.7 -1.6zM151.0 29.0l-1.5 1.7l-0.8 -1.6zM155.1 29.0l-1.5 1.7l-0.8 -1.6zM159.3 29.1l-1.6 1.7l-0.7 -1.6zM163.4 29.2l-1.6 1.6l-0.7 -1.6zM6.6 22.2l-0.4 2.2l-1.4 -1.0zM11.1 22.3l-0.7 2.2l-1.3 -1.1zM15.6 22.7l-0.9 2.1l-1.2 -1.3zM20.1 23.3l-1.3 1.9l-1.0 -1.5zM24.6 24.2l-1.7 1.6l-0.6 -1.6zM28.8 25.2l-2.0 1.0l-0.1 -1.7zM32.9 26.3l-2.2 0.4l0.3 -1.7zM36.9 27.3l-2.3 -0.1l0.8 -1.6zM40.7 28.0l-2.2 -0.6l1.1 -1.4zM44.4 28.5l-2.1 -0.9l1.3 -1.2zM48.1 28.8l-2.0 -1.2l1.4 -1.0zM51.9 28.9l-1.9 -1.3l1.5 -0.9zM55.7 28.9l-1.8 -1.4l1.5 -0.8zM59.6 28.8l-1.7 -1.5l1.6 -0.8zM63.6 28.6l-1.7 -1.6l1.6 -0.7zM67.6 28.3l-1.7 -1.6l1.6 -0.7zM71.7 28.0l-1.7 -1.5l1.6 -0.8zM75.8 27.6l-1.8 -1.4l1.5 -0.9zM80.0 27.2l-2.0 -1.2l1.4 -1.0zM84.3 26.8l-2.2 -0.8l1.2 -1.3zM88.6 26.4l-2.3 -0.2l0.8 -1.5zM92.9 26.0l-2.3 0.3l0.4 -1.7zM97.2 25.7l-2.2 0.7l0.1 -1.7zM101.5 25.4l-2.1 1.0l-0.1 -1.7zM105.8 25.2l-2.0 1.1l-0.2 -1.7zM110.0 25.1l-1.9 1.2l-0.3 -1.7zM114.2 25.0l-1.9 1.3l-0.4 -1.7zM118.4 24.9l-1.9 1.3l-0.4 -1.7zM122.6 24.9l-1.8 1.4l-0.4 -1.7zM126.7 24.9l-1.8 1.4l-0.5 -1.7zM130.9 24.8l-1.8 1.4l-0.5 -1.7zM135.0 24.8l-1.8 1.4l-0.5 -1.7zM139.1 24.8l-1.8 1.5l-0.5 -1.7zM143.2 24.7l-1.7 1.5l-0.6 -1.6zM147.2 24.7l-1.7 1.5l-0.6 -1.6zM151.3 24.6l-1.7 1.6l-0.6 -1.6zM155.4 24.7l-1.7 1.6l-0.6 -1.6zM159.5 24.7l-1.7 1.6l-0.6 -1.6zM163.6 24.8l-1.7 1.5l-0.6 -1.6zM6.8 18.1l-0.7 2.2l-1.3 -1.1zM11.3 18.3l-0.9 2.1l-1.2 -1.3zM15.8 18.7l-1.2 2.0l-1.0 -1.4zM20.3 19.3l-1.5 1.7l-0.8 -1.5zM24.7 20.0l-1.8 1.4l-0.5 -1.7zM28.9 20.8l-2.1 1.0l-0.1 -1.7zM33.0 21.7l-2.2 0.5l0.3 -1.7zM37.0 22.4l-2.3 0.1l0.6 -1.6zM40.8 23.1l-2.3 -0.3l0.9 -1.5zM44.6 23.6l-2.2 -0.7l1.1 -1.3zM48.4 23.8l-2.1 -0.9l1.2 -1.2zM52.2 24.0l-2.0 -1.1l1.4 -1.1zM56.0 24.0l-1.9 -1.2l1.4 -1.0zM59.9 24.0l-1.9 -1.3l1.5 -0.9zM63.8 23.8l-1.8 -1.4l1.5 -0.9zM67.8 23.6l-1.8 -1.4l1.5 -0.9zM71.9 23.3l-1.9 -1.3l1.5 -0.9zM76.0 23.0l-2.0 -1.2l1.4 -1.0zM80.2 22.6l-2.1 -0.9l1.3 -1.2zM84.4 22.2l-2.2 -0.5l1.0 -1.4zM88.7 21.8l-2.3 0.0l0.7 -1.6zM93.0 21.4l-2.2 0.5l0.3 -1.7zM97.3 21.1l-2.1 0.8l0.0 -1.7zM101.6 20.9l-2.0 1.0l-0.1 -1.7zM105.8 20.7l-2.0 1.2l-0.3 -1.7zM110.0 20.6l-1.9 1.3l-0.3 -1.7zM114.2 20.5l-1.9 1.3l-0.4 -1.7zM118.4 20.4l-1.8 1.4l-0.4 -1.7zM122.6 20.4l-1.8 1.4l-0.4 -1.7zM126.8 20.4l-1.8 1.4l-0.5 -1.7zM130.9 20.3l-1.8 1.4l-0.5 -1.7zM135.0 20.3l-1.8 1.4l-0.5 -1.7zM139.1 20.3l-1.8 1.4l-0.5 -1.7zM143.2 20.3l-1.8 1.5l-0.5 -1.7zM147.3 20.2l-1.7 1.5l-0.5 -1.6zM151.4 20.2l-1.7 1.5l-0.6 -1.6zM155.5 20.2l-1.7 1.5l-0.6 -1.6zM159.6 20.3l-1.7 1.5l-0.6 -1.6zM163.7 20.3l-1.8 1.5l-0.5 -1.7zM6.9 14.1l-0.9 2.1l-1.2 -1.3zM11.4 14.3l-1.1 2.0l-1.1 -1.4zM15.8 14.6l-1.4 1.8l-0.9 -1.5zM20.2 15.1l-1.6 1.6l-0.7 -1.6zM24.5 15.7l-1.9 1.3l-0.4 -1.7zM28.8 16.4l-2.1 1.0l-0.1 -1.7zM32.9 17.1l-2.2 0.6l0.2 -1.7zM36.9 17.7l-2.3 0.2l0.5 -1.7zM40.8 18.2l-2.3 -0.2l0.8 -1.6zM44.6 18.6l-2.2 -0.5l1.0 -1.4zM48.5 18.9l-2.2 -0.7l1.1 -1.3zM52.3 19.1l-2.1 -0.9l1.2 -1.2zM56.1 19.2l-2.0 -1.1l1.3 -1.1zM60.0 19.1l-2.0 -1.2l1.4 -1.1zM64.0 19.0l-1.9 -1.2l1.4 -1.0zM67.9 18.9l-1.9 -1.2l1.4 -1.0zM72.0 18.6l-2.0 -1.2l1.4 -1.0zM76.1 18.3l-2.0 -1.0l1.3 -1.1zM80.3 18.0l-2.2 -0.8l1.2 -1.3zM84.5 17.6l-2.3 -0.4l0.9 -1.5zM88.8 17.2l-2.3 0.1l0.6 -1.6zM93.0 16.9l-2.2 0.5l0.3 -1.7zM97.3 16.6l-2.1 0.9l0.0 -1.7zM101.6 16.4l-2.0 1.1l-0.2 -1.7zM105.8 16.2l-2.0 1.2l-0.3 -1.7zM110.0 16.1l-1.9 1.3l-0.3 -1.7zM114.2 16.0l-1.9 1.3l-0.4 -1.7zM118.4 16.0l-1.8 1.4l-0.4 -1.7zM122.6 15.9l-1.8 1.4l-0.4 -1.7zM126.7 15.9l-1.8 1.4l-0.5 -1.7zM130.9 15.9l-1.8 1.4l-0.5 -1.7zM135.0 15.8l-1.8 1.4l-0.5 -1.7zM139.1 15.8l-1.8 1.4l-0.5 -1.7zM143.2 15.8l-1.8 1.4l-0.5 -1.7zM147.3 15.8l-1.8 1.5l-0.5 -1.7zM151.4 15.8l-1.8 1.5l-0.5 -1.7zM155.5 15.8l-1.8 1.5l-0.5 -1.7zM159.6 15.8l-1.8 1.5l-0.5 -1.7zM163.7 15.9l-1.8 1.5l-0.5 -1.7zM7.0 10.0l-1.1 2.0l-1.1 -1.3zM11.4 10.2l-1.3 1.9l-1.0 -1.4zM15.7 10.5l-1.5 1.7l-0.8 -1.5zM20.1 10.9l-1.7 1.5l-0.6 -1.6zM24.4 11.4l-1.9 1.3l-0.3 -1.7zM28.6 11.9l-2.1 1.0l-0.1 -1.7zM32.7 12.5l-2.2 0.6l0.2 -1.7zM36.7 13.0l-2.3 0.3l0.4 -1.7zM40.7 13.4l-2.3 -0.0l0.7 -1.6zM44.6 13.8l-2.3 -0.3l0.9 -1.5zM48.5 14.1l-2.2 -0.5l1.0 -1.4zM52.3 14.3l-2.2 -0.7l1.1 -1.3zM56.2 14.4l-2.1 -0.9l1.2 -1.2zM60.1 14.4l-2.1 -1.0l1.3 -1.2zM64.0 14.3l-2.0 -1.1l1.3 -1.1zM68.0 14.2l-2.0 -1.1l1.3 -1.1zM72.0 14.0l-2.0 -1.1l1.3 -1.1zM76.1 13.7l-2.1 -0.9l1.3 -1.2zM80.3 13.4l-2.2 -0.7l1.1 -1.3zM84.5 13.1l-2.3 -0.3l0.9 -1.5zM88.7 12.7l-2.3 0.1l0.6 -1.6zM93.0 12.4l-2.2 0.5l0.3 -1.7zM97.3 12.1l-2.1 0.8l0.0 -1.7zM101.5 11.9l-2.0 1.0l-0.1 -1.7zM105.7 11.8l-2.0 1.2l-0.3 -1.7zM110.0 11.6l-1.9 1.3l-0.3 -1.7zM114.2 11.6l-1.9 1.3l-0.4 -1.7zM118.4 11.5l-1.9 1.3l-0.4 -1.7zM122.5 11.5l-1.8 1.4l-0.4 -1.7zM126.7 11.4l-1.8 1.4l-0.5 -1.7zM130.8 11.4l-1.8 1.4l-0.5 -1.7zM135.0 11.4l-1.8 1.4l-0.5 -1.7zM139.1 11.4l-1.8 1.4l-0.5 -1.7zM143.2 11.4l-1.8 1.4l-0.5 -1.7zM147.3 11.4l-1.8 1.4l-0.5 -1.7zM151.4 11.4l-1.8 1.5l-0.5 -1.7zM155.5 11.4l-1.8 1.5l-0.5 -1.7zM159.5 11.4l-1.8 1.5l-0.5 -1.7zM163.6 11.4l-1.8 1.4l-0.5 -1.7zM6.9 5.8l-1.2 1.9l-1.0 -1.4zM11.3 6.0l-1.4 1.8l-0.9 -1.5zM15.6 6.3l-1.6 1.6l-0.7 -1.6zM19.9 6.6l-1.8 1.5l-0.5 -1.7zM24.2 7.0l-1.9 1.2l-0.3 -1.7zM28.3 7.5l-2.1 1.0l-0.1 -1.7zM32.5 7.9l-2.2 0.7l0.2 -1.7zM36.5 8.3l-2.3 0.4l0.4 -1.7zM40.5 8.7l-2.3 0.1l0.6 -1.6zM44.5 9.0l-2.3 -0.2l0.8 -1.6zM48.4 9.3l-2.3 -0.4l0.9 -1.5zM52.3 9.5l-2.2 -0.6l1.0 -1.4zM56.2 9.6l-2.2 -0.7l1.1 -1.3zM60.1 9.6l-2.1 -0.9l1.2 -1.2zM64.0 9.6l-2.1 -0.9l1.3 -1.2zM68.0 9.5l-2.1 -1.0l1.3 -1.2zM72.0 9.3l-2.1 -1.0l1.3 -1.2zM76.1 9.1l-2.1 -0.9l1.2 -1.2zM80.2 8.9l-2.2 -0.7l1.1 -1.3zM84.4 8.6l-2.3 -0.4l0.9 -1.5zM88.6 8.3l-2.3 -0.0l0.7 -1.6zM92.9 8.0l-2.3 0.4l0.4 -1.7zM97.1 7.7l-2.2 0.7l0.1 -1.7zM101.4 7.5l-2.1 1.0l-0.1 -1.7zM105.6 7.4l-2.0 1.1l-0.2 -1.7zM109.8 7.2l-1.9 1.2l-0.3 -1.7zM114.1 7.1l-1.9 1.3l-0.4 -1.7zM118.2 7.1l-1.9 1.3l-0.4 -1.7zM122.4 7.0l-1.8 1.4l-0.4 -1.7zM126.6 7.0l-1.8 1.4l-0.4 -1.7zM130.7 7.0l-1.8 1.4l-0.5 -1.7zM134.9 7.0l-1.8 1.4l-0.5 -1.7zM139.0 6.9l-1.8 1.4l-0.5 -1.7zM143.1 6.9l-1.8 1.4l-0.5 -1.7zM147.2 6.9l-1.8 1.4l-0.5 -1.7zM151.3 6.9l-1.8 1.4l-0.5 -1.7zM155.3 7.0l-1.8 1.4l-0.5 -1.7zM159.4 7.0l-1.8 1.4l-0.5 -1.7zM163.4 7.0l-1.8 1.4l-0.5 -1.7zM6.8 1.6l-1.3 1.9l-0.9 -1.5zM11.1 1.8l-1.5 1.7l-0.8 -1.5zM15.4 2.0l-1.7 1.6l-0.6 -1.6zM19.7 2.3l-1.8 1.4l-0.5 -1.7zM23.9 2.7l-2.0 1.2l-0.3 -1.7zM28.1 3.0l-2.1 0.9l-0.1 -1.7zM32.2 3.4l-2.2 0.7l0.1 -1.7zM36.3 3.7l-2.2 0.4l0.3 -1.7zM40.3 4.1l-2.3 0.2l0.5 -1.7zM44.3 4.3l-2.3 -0.0l0.7 -1.6zM48.3 4.6l-2.3 -0.3l0.8 -1.5zM52.2 4.7l-2.2 -0.4l1.0 -1.4zM56.1 4.8l-2.2 -0.6l1.1 -1.4zM60.1 4.9l-2.2 -0.7l1.1 -1.3zM64.0 4.9l-2.1 -0.8l1.2 -1.3zM68.0 4.8l-2.1 -0.9l1.2 -1.2zM72.0 4.7l-2.1 -0.9l1.2 -1.2zM76.0 4.6l-2.1 -0.9l1.2 -1.2zM80.1 4.4l-2.2 -0.7l1.1 -1.3zM84.3 4.1l-2.2 -0.5l1.0 -1.4zM88.5 3.9l-2.3 -0.2l0.8 -1.5zM92.7 3.6l-2.3 0.2l0.5 -1.7zM96.9 3.4l-2.2 0.5l0.3 -1.7zM101.2 3.2l-2.1 0.8l0.0 -1.7zM105.4 3.0l-2.1 1.0l-0.1 -1.7zM109.6 2.9l-2.0 1.1l-0.2 -1.7zM113.9 2.8l-1.9 1.2l-0.3 -1.7zM118.1 2.7l-1.9 1.3l-0.4 -1.7zM122.2 2.6l-1.9 1.3l-0.4 -1.7zM126.4 2.6l-1.9 1.3l-0.4 -1.7zM130.5 2.6l-1.8 1.4l-0.4 -1.7zM134.7 2.5l-1.8 1.4l-0.4 -1.7zM138.8 2.5l-1.8 1.4l-0.5 -1.7zM142.9 2.5l-1.8 1.4l-0.5 -1.7zM147.0 2.5l-1.8 1.4l-0.5 -1.7zM151.1 2.5l-1.8 1.4l-0.5 -1.7zM155.1 2.6l-1.8 1.4l-0.5 -1.7zM159.2 2.6l-1.8 1.4l-0.5 -1.7zM163.2 2.6l-1.8 1.4l-0.5 -1.7z" fill="#0c0c0c" fill-opacity="0.90"/>
</svg>
<rect x="394.5" y="208.5" width="160.5" height="135.0" fill="none" stroke="#000" stroke-width="1"/>
<text x="471.40" y="203.80" font-size="8" text-anchor="middle" font-family="&quot;Liberation Serif&quot;, serif" font-weight="bold">(f) Geopotential height and wind Anomaly (850hPa)</text>
<text x="560.80" y="222.80" font-size="10" text-anchor="start" font-family="&quot;Liberation Sans&quot;, sans-serif">35<tspan font-size="5.6" font-weight="bold" dx="0.3" dy="-3.6">°</tspan></text>
<text x="560.80" y="245.20" font-size="10" text-anchor="start" font-family="&quot;Liberation Sans&quot;, sans-serif">30<tspan font-size="5.6" font-weight="bold" dx="0.3" dy="-3.6">°</tspan></text>
<text x="560.80" y="267.60" font-size="10" text-anchor="start" font-family="&quot;Liberation Sans&quot;, sans-serif">25<tspan font-size="5.6" font-weight="bold" dx="0.3" dy="-3.6">°</tspan></text>
<text x="560.80" y="290.00" font-size="10" text-anchor="start" font-family="&quot;Liberation Sans&quot;, sans-serif">20<tspan font-size="5.6" font-weight="bold" dx="0.3" dy="-3.6">°</tspan></text>
<text x="560.80" y="312.40" font-size="10" text-anchor="start" font-family="&quot;Liberation Sans&quot;, sans-serif">15<tspan font-size="5.6" font-weight="bold" dx="0.3" dy="-3.6">°</tspan></text>
<text x="560.80" y="334.80" font-size="10" text-anchor="start" font-family="&quot;Liberation Sans&quot;, sans-serif">10<tspan font-size="5.6" font-weight="bold" dx="0.3" dy="-3.6">°</tspan></text>
<text x="411.19" y="357.70" font-size="10" text-anchor="middle" font-family="&quot;Liberation Sans&quot;, sans-serif">65<tspan font-size="5.6" font-weight="bold" dx="0.3" dy="-3.6">°</tspan></text>
<text x="431.86" y="357.70" font-size="10" text-anchor="middle" font-family="&quot;Liberation Sans&quot;, sans-serif">70<tspan font-size="5.6" font-weight="bold" dx="0.3" dy="-3.6">°</tspan></text>
<text x="452.52" y="357.70" font-size="10" text-anchor="middle" font-family="&quot;Liberation Sans&quot;, sans-serif">75<tspan font-size="5.6" font-weight="bold" dx="0.3" dy="-3.6">°</tspan></text>
<text x="473.19" y="357.70" font-size="10" text-anchor="middle" font-family="&quot;Liberation Sans&quot;, sans-serif">80<tspan font-size="5.6" font-weight="bold" dx="0.3" dy="-3.6">°</tspan></text>
<text x="493.85" y="357.70" font-size="10" text-anchor="middle" font-family="&quot;Liberation Sans&quot;, sans-serif">85<tspan font-size="5.6" font-weight="bold" dx="0.3" dy="-3.6">°</tspan></text>
<text x="514.52" y="357.70" font-size="10" text-anchor="middle" font-family="&quot;Liberation Sans&quot;, sans-serif">90<tspan font-size="5.6" font-weight="bold" dx="0.3" dy="-3.6">°</tspan></text>
<text x="535.18" y="357.70" font-size="10" text-anchor="middle" font-family="&quot;Liberation Sans&quot;, sans-serif">95<tspan font-size="5.6" font-weight="bold" dx="0.3" dy="-3.6">°</tspan></text>
<rect x="24.30" y="166.00" width="8.01" height="5.50" fill="#1d5ecd"/>
<rect x="31.51" y="166.00" width="8.01" height="5.50" fill="#1e69d6"/>
<rect x="38.73" y="166.00" width="8.01" height="5.50" fill="#2076db"/>
<rect x="45.94" y="166.00" width="8.01" height="5.50" fill="#2384e0"/>
<rect x="53.15" y="166.00" width="8.01" height="5.50" fill="#2692e4"/>
<rect x="60.37" y="166.00" width="8.01" height="5.50" fill="#34a2e7"/>
<rect x="67.58" y="166.00" width="8.01" height="5.50" fill="#42b3ea"/>
<rect x="74.80" y="166.00" width="8.01" height="5.50" fill="#54c3e8"/>
<rect x="82.01" y="166.00" width="8.01" height="5.50" fill="#73ceda"/>
<rect x="89.22" y="166.00" width="8.01" height="5.50" fill="#92dacb"/>
<rect x="96.44" y="166.00" width="8.01" height="5.50" fill="#b6e3aa"/>
<rect x="103.65" y="166.00" width="8.01" height="5.50" fill="#d9ec84"/>
<rect x="110.86" y="166.00" width="8.01" height="5.50" fill="#efe848"/>
<rect x="118.08" y="166.00" width="8.01" height="5.50" fill="#ffdf1e"/>
<rect x="125.29" y="166.00" width="8.01" height="5.50" fill="#fec91d"/>
<rect x="132.50" y="166.00" width="8.01" height="5.50" fill="#fdb21c"/>
<rect x="139.72" y="166.00" width="8.01" height="5.50" fill="#f9941e"/>
<rect x="146.93" y="166.00" width="8.01" height="5.50" fill="#f5771f"/>
<rect x="154.15" y="166.00" width="8.01" height="5.50" fill="#f25c21"/>
<rect x="161.36" y="166.00" width="8.01" height="5.50" fill="#ee4223"/>
<rect x="168.57" y="166.00" width="8.01" height="5.50" fill="#de2926"/>
<rect x="175.79" y="166.00" width="7.21" height="5.50" fill="#b91723"/>
<polygon points="24.30,166.00 17.90,168.75 24.30,171.50" fill="#1a3c9c"/>
<polygon points="183.00,166.00 188.00,168.75 183.00,171.50" fill="#7a0a18"/>
<polygon points="24.30,166.00 183.00,166.00 188.00,168.75 183.00,171.50 24.30,171.50 17.90,168.75" fill="none" stroke="#000" stroke-width="1" stroke-linejoin="miter"/>
<text x="24.30" y="184.80" font-size="9.60" text-anchor="middle" font-family="&quot;Liberation Sans&quot;, sans-serif" font-weight="normal">−10</text>
<text x="59.90" y="184.80" font-size="9.60" text-anchor="middle" font-family="&quot;Liberation Sans&quot;, sans-serif" font-weight="normal">0</text>
<text x="95.50" y="184.80" font-size="9.60" text-anchor="middle" font-family="&quot;Liberation Sans&quot;, sans-serif" font-weight="normal">10</text>
<text x="131.10" y="184.80" font-size="9.60" text-anchor="middle" font-family="&quot;Liberation Sans&quot;, sans-serif" font-weight="normal">20</text>
<text x="166.70" y="184.80" font-size="9.60" text-anchor="middle" font-family="&quot;Liberation Sans&quot;, sans-serif" font-weight="normal">30</text>
<rect x="211.70" y="166.00" width="4.69" height="5.50" fill="#faf6f6"/>
<rect x="215.59" y="166.00" width="4.69" height="5.50" fill="#f1e3e3"/>
<rect x="219.47" y="166.00" width="4.69" height="5.50" fill="#e7d0d0"/>
<rect x="223.36" y="166.00" width="4.69" height="5.50" fill="#dab7b7"/>
<rect x="227.25" y="166.00" width="4.69" height="5.50" fill="#ca9c9c"/>
<rect x="231.14" y="166.00" width="4.69" height="5.50" fill="#bc8181"/>
<rect x="235.02" y="166.00" width="4.69" height="5.50" fill="#a66060"/>
<rect x="238.91" y="166.00" width="4.69" height="5.50" fill="#893838"/>
<rect x="242.80" y="166.00" width="4.69" height="5.50" fill="#6d1010"/>
<rect x="246.69" y="166.00" width="4.69" height="5.50" fill="#830a0a"/>
<rect x="250.57" y="166.00" width="4.69" height="5.50" fill="#a00909"/>
<rect x="254.46" y="166.00" width="4.69" height="5.50" fill="#bf0b0b"/>
<rect x="258.35" y="166.00" width="4.69" height="5.50" fill="#e00e0e"/>
<rect x="262.24" y="166.00" width="4.69" height="5.50" fill="#f3270d"/>
<rect x="266.12" y="166.00" width="4.69" height="5.50" fill="#f95606"/>
<rect x="270.01" y="166.00" width="4.69" height="5.50" fill="#ff8500"/>
<rect x="273.90" y="166.00" width="4.69" height="5.50" fill="#ffb800"/>
<rect x="277.79" y="166.00" width="4.69" height="5.50" fill="#ffeb00"/>
<rect x="281.68" y="166.00" width="4.69" height="5.50" fill="#cbe900"/>
<rect x="285.56" y="166.00" width="4.69" height="5.50" fill="#91e200"/>
<rect x="289.45" y="166.00" width="4.69" height="5.50" fill="#5cd605"/>
<rect x="293.34" y="166.00" width="4.69" height="5.50" fill="#29c70c"/>
<rect x="297.23" y="166.00" width="4.69" height="5.50" fill="#0dc321"/>
<rect x="301.11" y="166.00" width="4.69" height="5.50" fill="#07c943"/>
<rect x="305.00" y="166.00" width="4.69" height="5.50" fill="#02ce66"/>
<rect x="308.89" y="166.00" width="4.69" height="5.50" fill="#00d88e"/>
<rect x="312.77" y="166.00" width="4.69" height="5.50" fill="#00e3b9"/>
<rect x="316.66" y="166.00" width="4.69" height="5.50" fill="#00efe4"/>
<rect x="320.55" y="166.00" width="4.69" height="5.50" fill="#05d6eb"/>
<rect x="324.44" y="166.00" width="4.69" height="5.50" fill="#0bbaed"/>
<rect x="328.32" y="166.00" width="4.69" height="5.50" fill="#109bef"/>
<rect x="332.21" y="166.00" width="4.69" height="5.50" fill="#106de9"/>
<rect x="336.10" y="166.00" width="4.69" height="5.50" fill="#103ee2"/>
<rect x="339.99" y="166.00" width="4.69" height="5.50" fill="#1227d9"/>
<rect x="343.88" y="166.00" width="4.69" height="5.50" fill="#141bcf"/>
<rect x="347.76" y="166.00" width="4.69" height="5.50" fill="#170ec5"/>
<rect x="351.65" y="166.00" width="4.69" height="5.50" fill="#2a0ac8"/>
<rect x="355.54" y="166.00" width="4.69" height="5.50" fill="#4e0ed8"/>
<rect x="359.42" y="166.00" width="4.69" height="5.50" fill="#7418e8"/>
<rect x="363.31" y="166.00" width="3.89" height="5.50" fill="#9c28f7"/>
<polygon points="211.70,166.00 205.50,168.75 211.70,171.50" fill="#ffffff"/>
<polygon points="367.20,166.00 372.60,168.75 367.20,171.50" fill="#c040ff"/>
<polygon points="211.70,166.00 367.20,166.00 372.60,168.75 367.20,171.50 211.70,171.50 205.50,168.75" fill="none" stroke="#000" stroke-width="1" stroke-linejoin="miter"/>
<text x="241.50" y="184.80" font-size="9.60" text-anchor="middle" font-family="&quot;Liberation Sans&quot;, sans-serif" font-weight="normal">101.0</text>
<text x="278.70" y="184.80" font-size="9.60" text-anchor="middle" font-family="&quot;Liberation Sans&quot;, sans-serif" font-weight="normal">101.5</text>
<text x="315.90" y="184.80" font-size="9.60" text-anchor="middle" font-family="&quot;Liberation Sans&quot;, sans-serif" font-weight="normal">102.0</text>
<text x="353.10" y="184.80" font-size="9.60" text-anchor="middle" font-family="&quot;Liberation Sans&quot;, sans-serif" font-weight="normal">102.5</text>
<rect x="398.70" y="166.00" width="4.73" height="5.50" fill="#faf6f6"/>
<rect x="402.63" y="166.00" width="4.73" height="5.50" fill="#f1e3e3"/>
<rect x="406.56" y="166.00" width="4.73" height="5.50" fill="#e7d0d0"/>
<rect x="410.50" y="166.00" width="4.73" height="5.50" fill="#dab7b7"/>
<rect x="414.43" y="166.00" width="4.73" height="5.50" fill="#ca9c9c"/>
<rect x="418.36" y="166.00" width="4.73" height="5.50" fill="#bc8181"/>
<rect x="422.29" y="166.00" width="4.73" height="5.50" fill="#a66060"/>
<rect x="426.23" y="166.00" width="4.73" height="5.50" fill="#893838"/>
<rect x="430.16" y="166.00" width="4.73" height="5.50" fill="#6d1010"/>
<rect x="434.09" y="166.00" width="4.73" height="5.50" fill="#830a0a"/>
<rect x="438.02" y="166.00" width="4.73" height="5.50" fill="#a00909"/>
<rect x="441.96" y="166.00" width="4.73" height="5.50" fill="#bf0b0b"/>
<rect x="445.89" y="166.00" width="4.73" height="5.50" fill="#e00e0e"/>
<rect x="449.82" y="166.00" width="4.73" height="5.50" fill="#f3270d"/>
<rect x="453.75" y="166.00" width="4.73" height="5.50" fill="#f95606"/>
<rect x="457.69" y="166.00" width="4.73" height="5.50" fill="#ff8500"/>
<rect x="461.62" y="166.00" width="4.73" height="5.50" fill="#ffb800"/>
<rect x="465.55" y="166.00" width="4.73" height="5.50" fill="#ffeb00"/>
<rect x="469.49" y="166.00" width="4.73" height="5.50" fill="#cbe900"/>
<rect x="473.42" y="166.00" width="4.73" height="5.50" fill="#91e200"/>
<rect x="477.35" y="166.00" width="4.73" height="5.50" fill="#5cd605"/>
<rect x="481.28" y="166.00" width="4.73" height="5.50" fill="#29c70c"/>
<rect x="485.21" y="166.00" width="4.73" height="5.50" fill="#0dc321"/>
<rect x="489.15" y="166.00" width="4.73" height="5.50" fill="#07c943"/>
<rect x="493.08" y="166.00" width="4.73" height="5.50" fill="#02ce66"/>
<rect x="497.01" y="166.00" width="4.73" height="5.50" fill="#00d88e"/>
<rect x="500.94" y="166.00" width="4.73" height="5.50" fill="#00e3b9"/>
<rect x="504.88" y="166.00" width="4.73" height="5.50" fill="#00efe4"/>
<rect x="508.81" y="166.00" width="4.73" height="5.50" fill="#05d6eb"/>
<rect x="512.74" y="166.00" width="4.73" height="5.50" fill="#0bbaed"/>
<rect x="516.67" y="166.00" width="4.73" height="5.50" fill="#109bef"/>
<rect x="520.61" y="166.00" width="4.73" height="5.50" fill="#106de9"/>
<rect x="524.54" y="166.00" width="4.73" height="5.50" fill="#103ee2"/>
<rect x="528.47" y="166.00" width="4.73" height="5.50" fill="#1227d9"/>
<rect x="532.40" y="166.00" width="4.73" height="5.50" fill="#141bcf"/>
<rect x="536.34" y="166.00" width="4.73" height="5.50" fill="#170ec5"/>
<rect x="540.27" y="166.00" width="4.73" height="5.50" fill="#2a0ac8"/>
<rect x="544.20" y="166.00" width="4.73" height="5.50" fill="#4e0ed8"/>
<rect x="548.13" y="166.00" width="4.73" height="5.50" fill="#7418e8"/>
<rect x="552.07" y="166.00" width="3.93" height="5.50" fill="#9c28f7"/>
<polygon points="398.70,166.00 392.00,168.75 398.70,171.50" fill="#ffffff"/>
<polygon points="556.00,166.00 562.00,168.75 556.00,171.50" fill="#c040ff"/>
<polygon points="398.70,166.00 556.00,166.00 562.00,168.75 556.00,171.50 398.70,171.50 392.00,168.75" fill="none" stroke="#000" stroke-width="1" stroke-linejoin="miter"/>
<text x="398.80" y="184.80" font-size="9.60" text-anchor="middle" font-family="&quot;Liberation Sans&quot;, sans-serif" font-weight="normal">14.00</text>
<text x="427.04" y="184.80" font-size="9.60" text-anchor="middle" font-family="&quot;Liberation Sans&quot;, sans-serif" font-weight="normal">14.25</text>
<text x="455.28" y="184.80" font-size="9.60" text-anchor="middle" font-family="&quot;Liberation Sans&quot;, sans-serif" font-weight="normal">14.50</text>
<text x="483.52" y="184.80" font-size="9.60" text-anchor="middle" font-family="&quot;Liberation Sans&quot;, sans-serif" font-weight="normal">14.75</text>
<text x="511.76" y="184.80" font-size="9.60" text-anchor="middle" font-family="&quot;Liberation Sans&quot;, sans-serif" font-weight="normal">15.00</text>
<text x="540.00" y="184.80" font-size="9.60" text-anchor="middle" font-family="&quot;Liberation Sans&quot;, sans-serif" font-weight="normal">15.25</text>
<rect x="23.30" y="363.70" width="8.63" height="5.50" fill="#36469d"/>
<rect x="31.13" y="363.70" width="8.63" height="5.50" fill="#4065ac"/>
<rect x="38.97" y="363.70" width="8.63" height="5.50" fill="#5183bb"/>
<rect x="46.80" y="363.70" width="8.63" height="5.50" fill="#689fca"/>
<rect x="54.64" y="363.70" width="8.63" height="5.50" fill="#82b8d7"/>
<rect x="62.47" y="363.70" width="8.63" height="5.50" fill="#9dcee3"/>
<rect x="70.31" y="363.70" width="8.63" height="5.50" fill="#b8e0ed"/>
<rect x="78.14" y="363.70" width="8.63" height="5.50" fill="#d3ecf4"/>
<rect x="85.98" y="363.70" width="8.63" height="5.50" fill="#e8f6fa"/>
<rect x="93.81" y="363.70" width="8.63" height="5.50" fill="#f7fcfd"/>
<rect x="101.65" y="363.70" width="8.63" height="5.50" fill="#fff7e3"/>
<rect x="109.48" y="363.70" width="8.63" height="5.50" fill="#fee8ac"/>
<rect x="117.32" y="363.70" width="8.63" height="5.50" fill="#fed484"/>
<rect x="125.15" y="363.70" width="8.63" height="5.50" fill="#fdba6d"/>
<rect x="132.99" y="363.70" width="8.63" height="5.50" fill="#fb9e5a"/>
<rect x="140.82" y="363.70" width="8.63" height="5.50" fill="#f67d4a"/>
<rect x="148.66" y="363.70" width="8.63" height="5.50" fill="#ed5e3c"/>
<rect x="156.50" y="363.70" width="8.63" height="5.50" fill="#de3f2e"/>
<rect x="164.33" y="363.70" width="8.63" height="5.50" fill="#ca2427"/>
<rect x="172.16" y="363.70" width="7.83" height="5.50" fill="#b20c26"/>
<polygon points="23.30,363.70 18.20,366.45 23.30,369.20" fill="#27287a"/>
<polygon points="180.00,363.70 184.50,366.45 180.00,369.20" fill="#7a0018"/>
<polygon points="23.30,363.70 180.00,363.70 184.50,366.45 180.00,369.20 23.30,369.20 18.20,366.45" fill="none" stroke="#000" stroke-width="1" stroke-linejoin="miter"/>
<text x="23.30" y="383.50" font-size="9.60" text-anchor="middle" font-family="&quot;Liberation Sans&quot;, sans-serif" font-weight="normal">−5</text>
<text x="38.97" y="383.50" font-size="9.60" text-anchor="middle" font-family="&quot;Liberation Sans&quot;, sans-serif" font-weight="normal">−4</text>
<text x="54.64" y="383.50" font-size="9.60" text-anchor="middle" font-family="&quot;Liberation Sans&quot;, sans-serif" font-weight="normal">−3</text>
<text x="70.31" y="383.50" font-size="9.60" text-anchor="middle" font-family="&quot;Liberation Sans&quot;, sans-serif" font-weight="normal">−2</text>
<text x="85.98" y="383.50" font-size="9.60" text-anchor="middle" font-family="&quot;Liberation Sans&quot;, sans-serif" font-weight="normal">−1</text>
<text x="101.65" y="383.50" font-size="9.60" text-anchor="middle" font-family="&quot;Liberation Sans&quot;, sans-serif" font-weight="normal">0</text>
<text x="117.32" y="383.50" font-size="9.60" text-anchor="middle" font-family="&quot;Liberation Sans&quot;, sans-serif" font-weight="normal">1</text>
<text x="132.99" y="383.50" font-size="9.60" text-anchor="middle" font-family="&quot;Liberation Sans&quot;, sans-serif" font-weight="normal">2</text>
<text x="148.66" y="383.50" font-size="9.60" text-anchor="middle" font-family="&quot;Liberation Sans&quot;, sans-serif" font-weight="normal">3</text>
<text x="164.33" y="383.50" font-size="9.60" text-anchor="middle" font-family="&quot;Liberation Sans&quot;, sans-serif" font-weight="normal">4</text>
<text x="180.00" y="383.50" font-size="9.60" text-anchor="middle" font-family="&quot;Liberation Sans&quot;, sans-serif" font-weight="normal">5</text>
<text x="100.00" y="394.60" font-size="8.00" text-anchor="middle" font-family="&quot;Liberation Serif&quot;, serif" font-weight="bold">Anomaly (°C)</text>
<rect x="212.00" y="363.70" width="10.49" height="5.50" fill="#b50f26"/>
<rect x="221.69" y="363.70" width="10.49" height="5.50" fill="#d42d27"/>
<rect x="231.38" y="363.70" width="10.49" height="5.50" fill="#e75237"/>
<rect x="241.06" y="363.70" width="10.49" height="5.50" fill="#f67949"/>
<rect x="250.75" y="363.70" width="10.49" height="5.50" fill="#fba25b"/>
<rect x="260.44" y="363.70" width="10.49" height="5.50" fill="#fdc476"/>
<rect x="270.12" y="363.70" width="10.49" height="5.50" fill="#fee297"/>
<rect x="279.81" y="363.70" width="10.49" height="5.50" fill="#fff5dc"/>
<rect x="289.50" y="363.70" width="10.49" height="5.50" fill="#f5fbfd"/>
<rect x="299.19" y="363.70" width="10.49" height="5.50" fill="#e2f4f8"/>
<rect x="308.88" y="363.70" width="10.49" height="5.50" fill="#c2e4f0"/>
<rect x="318.56" y="363.70" width="10.49" height="5.50" fill="#a1d1e4"/>
<rect x="328.25" y="363.70" width="10.49" height="5.50" fill="#7eb5d6"/>
<rect x="337.94" y="363.70" width="10.49" height="5.50" fill="#5f95c4"/>
<rect x="347.62" y="363.70" width="10.49" height="5.50" fill="#4471b2"/>
<rect x="357.31" y="363.70" width="9.69" height="5.50" fill="#374a9f"/>
<polygon points="212.00,363.70 206.00,366.45 212.00,369.20" fill="#7a0018"/>
<polygon points="367.00,363.70 372.50,366.45 367.00,369.20" fill="#27287a"/>
<polygon points="212.00,363.70 367.00,363.70 372.50,366.45 367.00,369.20 212.00,369.20 206.00,366.45" fill="none" stroke="#000" stroke-width="1" stroke-linejoin="miter"/>
<text x="235.20" y="383.50" font-size="9.60" text-anchor="middle" font-family="&quot;Liberation Sans&quot;, sans-serif" font-weight="normal">−180</text>
<text x="261.30" y="383.50" font-size="9.60" text-anchor="middle" font-family="&quot;Liberation Sans&quot;, sans-serif" font-weight="normal">−90</text>
<text x="289.50" y="383.50" font-size="9.60" text-anchor="middle" font-family="&quot;Liberation Sans&quot;, sans-serif" font-weight="normal">0</text>
<text x="319.00" y="383.50" font-size="9.60" text-anchor="middle" font-family="&quot;Liberation Sans&quot;, sans-serif" font-weight="normal">90</text>
<text x="348.80" y="383.50" font-size="9.60" text-anchor="middle" font-family="&quot;Liberation Sans&quot;, sans-serif" font-weight="normal">180</text>
<text x="288.50" y="394.60" font-size="8.00" text-anchor="middle" font-family="&quot;Liberation Serif&quot;, serif" font-weight="bold">Anomaly (Pa)</text>
<rect x="398.50" y="363.70" width="11.91" height="5.50" fill="#384ca0"/>
<rect x="409.61" y="363.70" width="11.91" height="5.50" fill="#4879b6"/>
<rect x="420.71" y="363.70" width="11.91" height="5.50" fill="#6aa1cb"/>
<rect x="431.82" y="363.70" width="11.91" height="5.50" fill="#90c3dd"/>
<rect x="442.93" y="363.70" width="11.91" height="5.50" fill="#b6dfec"/>
<rect x="454.04" y="363.70" width="11.91" height="5.50" fill="#dcf1f7"/>
<rect x="465.14" y="363.70" width="11.91" height="5.50" fill="#f4fbfc"/>
<rect x="476.25" y="363.70" width="11.91" height="5.50" fill="#fff4d7"/>
<rect x="487.36" y="363.70" width="11.91" height="5.50" fill="#fedc8d"/>
<rect x="498.46" y="363.70" width="11.91" height="5.50" fill="#fdb96b"/>
<rect x="509.57" y="363.70" width="11.91" height="5.50" fill="#f88e52"/>
<rect x="520.68" y="363.70" width="11.91" height="5.50" fill="#ee603d"/>
<rect x="531.79" y="363.70" width="11.91" height="5.50" fill="#d93429"/>
<rect x="542.89" y="363.70" width="11.11" height="5.50" fill="#b71126"/>
<polygon points="398.50,363.70 392.50,366.45 398.50,369.20" fill="#27287a"/>
<polygon points="554.00,363.70 560.00,366.45 554.00,369.20" fill="#7a0018"/>
<polygon points="398.50,363.70 554.00,363.70 560.00,366.45 554.00,369.20 398.50,369.20 392.50,366.45" fill="none" stroke="#000" stroke-width="1" stroke-linejoin="miter"/>
<text x="409.00" y="383.50" font-size="9.60" text-anchor="middle" font-family="&quot;Liberation Sans&quot;, sans-serif" font-weight="normal">−120</text>
<text x="443.60" y="383.50" font-size="9.60" text-anchor="middle" font-family="&quot;Liberation Sans&quot;, sans-serif" font-weight="normal">−60</text>
<text x="477.30" y="383.50" font-size="9.60" text-anchor="middle" font-family="&quot;Liberation Sans&quot;, sans-serif" font-weight="normal">0</text>
<text x="510.50" y="383.50" font-size="9.60" text-anchor="middle" font-family="&quot;Liberation Sans&quot;, sans-serif" font-weight="normal">60</text>
<text x="545.00" y="383.50" font-size="9.60" text-anchor="middle" font-family="&quot;Liberation Sans&quot;, sans-serif" font-weight="normal">120</text>
<text x="476.00" y="394.60" font-size="8.00" text-anchor="middle" font-family="&quot;Liberation Serif&quot;, serif" font-weight="bold">Anomaly (m)</text>
</svg></body></html>
